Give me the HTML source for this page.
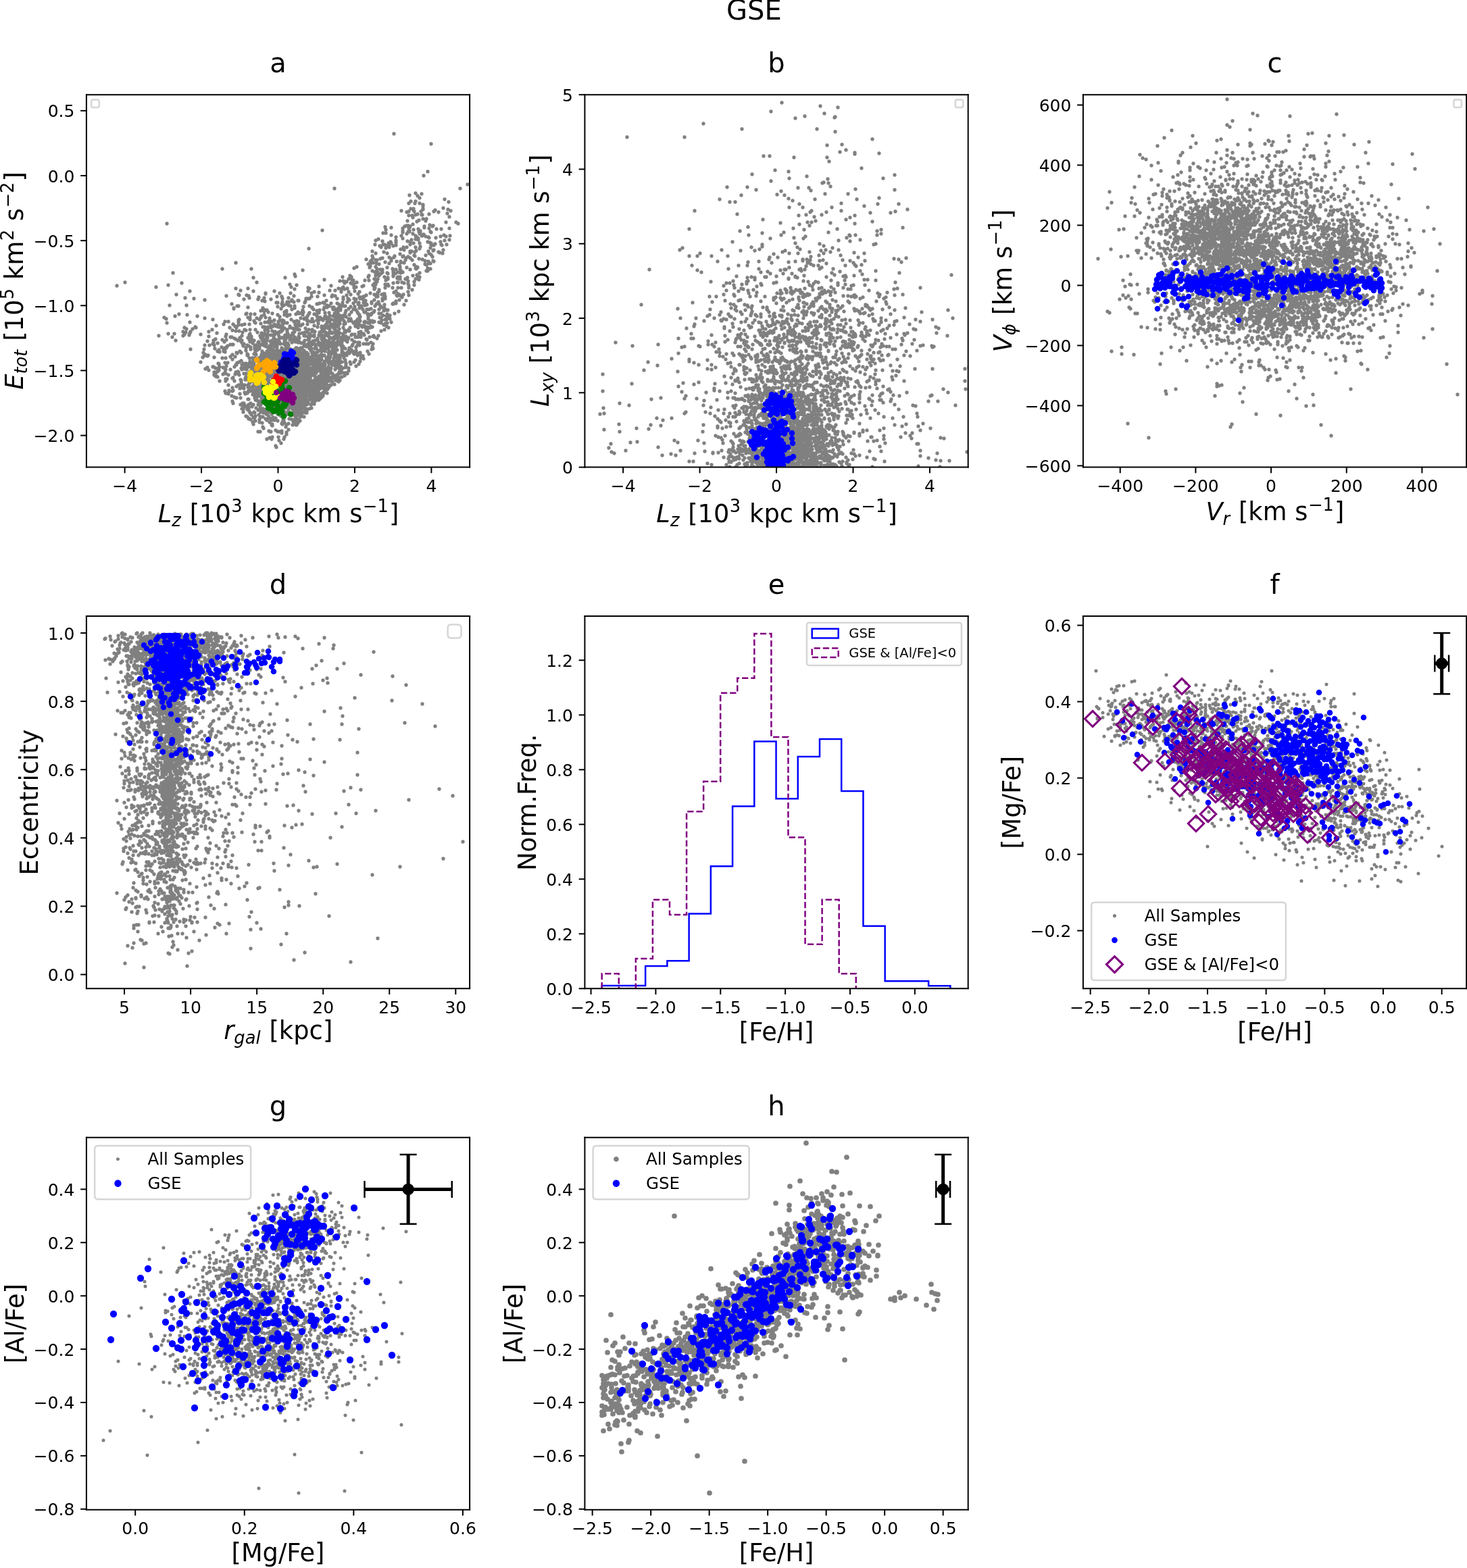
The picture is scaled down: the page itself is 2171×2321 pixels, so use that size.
<!DOCTYPE html>
<html><head><meta charset="utf-8"><title>GSE</title><style>html,body{margin:0;padding:0;background:#fff}svg{display:block}</style></head><body>
<svg width="2171" height="2321" viewBox="0 0 868.4 928.4">
<defs>
<style type="text/css">*{stroke-linejoin: round; stroke-linecap: butt}</style>
</defs>
<g id="figure_1">
<g id="patch_1">
<path d="M 0 928.4 L 868.4 928.4 L 868.4 0 L 0 0 z
" style="fill: #ffffff"/>
</g>
<g id="axes_1">
<g id="patch_2">
<path d="M 51.16 276.64 L 278.04 276.64 L 278.04 56.08 L 51.16 56.08 z
" style="fill: #ffffff"/>
</g>
<defs>
<path id="m0d58144427" d="M 0 1.06 C 0.281115 1.06 0.550755 0.948312 0.749533 0.749533 C 0.948312 0.550755 1.06 0.281115 1.06 0 C 1.06 -0.281115 0.948312 -0.550755 0.749533 -0.749533 C 0.550755 -0.948312 0.281115 -1.06 0 -1.06 C -0.281115 -1.06 -0.550755 -0.948312 -0.749533 -0.749533 C -0.948312 -0.550755 -1.06 -0.281115 -1.06 0 C -1.06 0.281115 -0.948312 0.550755 -0.749533 0.749533 C -0.550755 0.948312 -0.281115 1.06 0 1.06 z
"/>
</defs><g clip-path="url(#p84c9856eb9)"><path transform="scale(0.4)" d="M583 198h0m55 15h0m-5 41h0m-6 6h0m65 13h0m-11 6h0m-57 8h0m-9-1h0m-120-7h0m111 10h0m2 9h0m7 0h0m3-8h0m3 3h0m37 2h0m6 4h0m-1 11h0m-7-2h0m-12 3h0m-18-8h0m0 2h0m0 4h0m0 1h0m-5-9h0m-7 0h0m-2 8h0m0 2h0m-4-2h0m-3-8h0m-11 11h0m8 2h0m3-1h0m0 6h0m5 0h0m1 3h0m2-9h0m2 5h0m3-1h0m5-4h0m1 5h0m1 0h0m10-1h0m7-4h0m7 1h0m13 2h0m3 5h0m2-9h0m11 19h0m-3-2h0m-15 0h0m-19 5h0m-1 1h0m-4-2h0m-5-9h0m-1 3h0m-2 8h0m-2-11h0m-6 2h0m-3 2h0m-6 4h0m-4 3h0m-3-1h0m-1-7h0m-1 7h0m-3 1h0m-352-4h0m230 10h0m90 4h0m3-9h0m1 4h0m0 5h0m8-8h0m17 1h0m0 4h0m0 2h0m6 2h0m2-3h0m1-5h0m1-1h0m0 5h0m0 1h0m5 3h0m1-6h0m7-1h0m1 4h0m1-1h0m0 4h0m1-4h0m0 2h0m5 3h0m1-10h0m7 1h0m2 5h0m1 1h0m8-5h0m7 0h0m12-1h0m1 11h0m-1 6h0m-5-5h0m-2 6h0m-1-8h0m-5 2h0m0 8h0m-7-6h0m-9 7h0m-1-7h0m-1-1h0m-1 7h0m-3-8h0m-5-1h0m-1-1h0m0 1h0m-5 4h0m0 2h0m-2-4h0m-2-2h0m0 5h0m-6 1h0m-2 3h0m-4-1h0m-7-4h0m-2-4h0m-8 2h0m0 5h0m0 3h0m-7-11h0m-1 10h0m-12-1h0m-6-3h0m-4 2h0m-99 12h0m98-6h0m7 2h0m2 2h0m3-4h0m2 0h0m2 5h0m1-3h0m3-4h0m1 4h0m0 2h0m3-6h0m3 4h0m4-1h0m7 6h0m4-3h0m1 4h0m4-4h0m5-4h0m5-2h0m3 6h0m1 5h0m5-11h0m0 8h0m1-3h0m15 2h0m1-7h0m0 3h0m1 0h0m2 8h0m1-8h0m0 7h0m2-9h0m9 1h0m1 1h0m2 7h0m5-8h0m-6 13h0m-4-1h0m-2-1h0m-9 7h0m-2-3h0m-3-2h0m-1-3h0m-4 6h0m-10 5h0m-6-10h0m0 6h0m-1-1h0m-4-6h0m-1 1h0m-1-1h0m0 2h0m0 8h0m-3-2h0m-3 2h0m-4-3h0m-1 1h0m-4-4h0m-8 3h0m-1 2h0m-4 2h0m-3-2h0m-3-6h0m-5-2h0m-2 9h0m-3 1h0m-7-8h0m-4 7h0m-1-10h0m0 7h0m-202 10h0m179 6h0m14-11h0m3 7h0m3-4h0m0 7h0m2-9h0m0 3h0m0 1h0m2 0h0m4-4h0m0 10h0m1-5h0m1-5h0m3 6h0m9-3h0m6 2h0m3-4h0m8 1h0m4 6h0m1 2h0m1-8h0m0 2h0m5 0h0m2-4h0m10 0h0m3 7h0m4 3h0m8-11h0m4 2h0m0 5h0m2 1h0m3-5h0m0 3h0m3 0h0m4-4h0m1 1h0m-5 11h0m-4-1h0m0 4h0m-2 0h0m-10 3h0m-3-8h0m-1 11h0m-1-9h0m-1-1h0m-8 2h0m-5-3h0m-6 7h0m-3-3h0m0 4h0m-1-6h0m-3 5h0m-3-4h0m-1 6h0m-3-3h0m0 1h0m0 4h0m-1-9h0m-7 7h0m-1-9h0m0 8h0m-7-5h0m0 4h0m-1 1h0m-1 1h0m-1-6h0m-4 4h0m0 3h0m-1-8h0m-2 4h0m-1 1h0m-4-2h0m-4-5h0m-23 1h0m-76 3h0m-12 6h0m-64-8h0m-43 0h0m-73 6h0m-71 14h0m84 1h0m106-8h0m5 7h0m42-7h0m15-2h0m43 5h0m23 2h0m4-6h0m1 6h0m2 3h0m1-2h0m2 0h0m3-4h0m2-5h0m1 11h0m1-9h0m1 4h0m2 1h0m5 3h0m12-3h0m5-5h0m1-2h0m0 7h0m8-2h0m1 6h0m1-11h0m1 8h0m1 1h0m1-4h0m2-5h0m8 2h0m2 5h0m3-4h0m0 2h0m8-4h0m0 10h0m6-8h0m0 1h0m0 6h0m1-8h0m0 8h0m3-8h0m0 3h0m3 5h0m3 1h0m2-6h0m3-2h0m1 5h0m7-8h0m2 9h0m2-4h0m3-4h0m2 5h0m1-4h0m-8 12h0m-3 7h0m-5-6h0m0 3h0m-1-6h0m-10 6h0m-5 0h0m-3 5h0m-5-5h0m-6-3h0m-1-2h0m-3 1h0m-1-1h0m0 5h0m-9 3h0m0 2h0m-5-10h0m-1 5h0m-1-6h0m0 5h0m0 3h0m-2-6h0m-14 1h0m-2 1h0m-9 1h0m-2 6h0m-1-11h0m0 4h0m0 2h0m-3-6h0m-7 7h0m-4 1h0m-2-3h0m-2 2h0m-1 4h0m-4-4h0m-5 3h0m-6-7h0m-2 7h0m-16-6h0m-14 3h0m-2-1h0m0 5h0m-17-9h0m-3 6h0m-5-3h0m-2-4h0m-23 10h0m-31 0h0m-8-4h0m-11 3h0m-7-3h0m-68 4h0m-32-9h0m-18 3h0m-58-2h0m88 13h0m13 5h0m13 1h0m48-4h0m18-2h0m1 1h0m7 6h0m4-6h0m3 1h0m1 3h0m13 2h0m1-3h0m8 1h0m2-7h0m0 1h0m8 8h0m9-4h0m4-5h0m3 5h0m1 3h0m9-1h0m3-7h0m5 4h0m18 4h0m3 0h0m2 0h0m3-8h0m0 5h0m4-7h0m5 7h0m2-6h0m8 4h0m11 2h0m1-2h0m4 1h0m3 4h0m6-10h0m3 8h0m0 3h0m5-6h0m2 5h0m1-10h0m3 4h0m5 6h0m3 1h0m3-8h0m2-3h0m0 8h0m1 2h0m1-2h0m3 3h0m1-4h0m1 0h0m3-2h0m6-3h0m6 2h0m2 1h0m1 2h0m1-3h0m1-3h0m0 3h0m0 3h0m6-3h0m1 6h0m2-7h0m1 0h0m0 1h0m0 2h0m0 1h0m1 0h0m0 3h0m13-9h0m4 4h0m1 1h0m1-3h0m2 1h0m2 2h0m2 2h0m2-4h0m7-4h0m1 5h0m-4 8h0m-3 6h0m-7-7h0m-5 2h0m0 3h0m-4 0h0m0 1h0m-1 0h0m-12 1h0m-3-6h0m-1 10h0m-2-2h0m-2-3h0m-1-3h0m-3 3h0m-2 3h0m-1-9h0m-4 3h0m0 2h0m-7 2h0m-1-1h0m-1-5h0m-1 7h0m-1-5h0m-1 1h0m-3 5h0m0 2h0m-2-1h0m-2-6h0m0 3h0m-1-1h0m-4-4h0m-1 8h0m-2-5h0m-4 5h0m-2-10h0m-3 3h0m-3 6h0m-2 0h0m-2-5h0m-2 5h0m-3-2h0m-3-2h0m-5 6h0m-2 0h0m-2-6h0m-3 4h0m-2 0h0m-1-1h0m0 3h0m-1-10h0m-3 4h0m0 6h0m-1-7h0m-1 0h0m-5 1h0m-3 1h0m-1 0h0m-7 5h0m-4-2h0m-6-7h0m-1 2h0m-2 6h0m-7-9h0m-1 0h0m-5 8h0m0 2h0m-1-8h0m-2-1h0m-1-2h0m-2 9h0m-2-6h0m-1 5h0m-1-3h0m-1-2h0m-1 3h0m-4 2h0m-2-5h0m0 6h0m-1-3h0m-6-2h0m0 6h0m-2-6h0m-17-2h0m-4-1h0m-21 10h0m-14-2h0m-2 0h0m-8-3h0m-40-6h0m-27 8h0m-25 0h0m14 13h0m12 1h0m69-10h0m0 1h0m18 8h0m1-1h0m6 1h0m6 0h0m9-5h0m3-4h0m0 2h0m1 0h0m1 2h0m0 1h0m0 5h0m2-7h0m2 0h0m2 3h0m6 2h0m8 2h0m5-9h0m5 5h0m0 4h0m1-3h0m2-3h0m0 4h0m5 2h0m3-8h0m4-2h0m2 9h0m3-3h0m1 2h0m1 0h0m4-2h0m0 1h0m1-4h0m0 7h0m1-4h0m8 3h0m1-2h0m4-7h0m2 2h0m1 7h0m3 0h0m1-5h0m3 3h0m1-4h0m6-1h0m2 5h0m6 0h0m1 4h0m5-10h0m0 1h0m2 6h0m0 1h0m0 2h0m2-9h0m0 4h0m2 4h0m1-5h0m0 2h0m1-7h0m2 11h0m1-11h0m0 3h0m4 8h0m3-4h0m1-3h0m4-3h0m1 9h0m3-4h0m3-4h0m4 1h0m2 3h0m1 2h0m2-8h0m0 10h0m5-8h0m2 4h0m2 0h0m2-4h0m1 7h0m1 0h0m1-7h0m3-1h0m0 9h0m1-2h0m3-2h0m1-2h0m7-2h0m0 6h0m3 0h0m3 3h0m1-7h0m1-4h0m3 3h0m1 6h0m1-6h0m3 8h0m7-3h0m6-3h0m-11 16h0m-2-5h0m-4-3h0m0 9h0m-1-10h0m0 5h0m-2 0h0m0 6h0m-5-5h0m-1-4h0m0 8h0m-2-8h0m-1 7h0m-7-1h0m-2 1h0m-1-2h0m-3 0h0m-1 3h0m-2-9h0m0 3h0m0 6h0m-3-1h0m-2-1h0m-1 1h0m-6-8h0m0 6h0m-1-6h0m0 4h0m-1 5h0m0 1h0m-1-1h0m-1-5h0m-1 3h0m-2 0h0m-3 2h0m-3-3h0m-1-3h0m0 2h0m-3-2h0m0 3h0m-4-6h0m-1-1h0m0 10h0m0 1h0m-2-4h0m-2-3h0m-1 0h0m-1-3h0m0 2h0m-2 4h0m0 4h0m-2-11h0m0 5h0m-1 5h0m-3-7h0m0 3h0m-2 5h0m-1-5h0m-1-6h0m-3 5h0m-2 0h0m0 3h0m-1-6h0m0 7h0m-2-4h0m-1 4h0m0 1h0m-1-6h0m-1-4h0m-1 0h0m-1 3h0m-2 3h0m-2-2h0m-1 0h0m-1-2h0m-2 4h0m-1 5h0m-1-10h0m-1-1h0m0 6h0m-5 2h0m-1 0h0m-1-4h0m-2 4h0m-4-1h0m-1-7h0m0 7h0m-1-3h0m0 2h0m-3-3h0m-1 1h0m-5-1h0m-3 5h0m0 3h0m-3-4h0m-4 1h0m-4-3h0m-6-5h0m0 10h0m-4 0h0m-1-3h0m-2-1h0m0 5h0m-1-4h0m-3-6h0m0 5h0m-2 2h0m0 3h0m-6-5h0m-4 2h0m-3-5h0m0 3h0m0 4h0m-2-2h0m-1 1h0m-3-7h0m-1 7h0m-5-9h0m-1 2h0m0 9h0m-2-6h0m-4-2h0m-2 7h0m-1-1h0m-1-2h0m-6-5h0m0 3h0m-3-3h0m-13 3h0m-1 1h0m0 3h0m-15-1h0m-5 0h0m-18-3h0m-12-2h0m-11-3h0m-11 9h0m-22-9h0m-12 10h0m-1-6h0m-3-2h0m28 21h0m2-6h0m3 2h0m6 4h0m3-4h0m4-3h0m1 1h0m19 6h0m5-3h0m6-6h0m11-2h0m9 5h0m4 4h0m1-9h0m3 3h0m1 7h0m1-5h0m3-4h0m1 9h0m4-9h0m4-1h0m0 8h0m2 1h0m5-9h0m1 8h0m8 0h0m11-4h0m1 0h0m2 0h0m0 5h0m4-2h0m1-3h0m0 6h0m4-8h0m0 3h0m2 5h0m1-7h0m2-3h0m1 11h0m2-8h0m2-2h0m1 2h0m0 1h0m1-2h0m1 2h0m0 7h0m2 0h0m1-5h0m0 2h0m1-6h0m0 5h0m0 2h0m3-3h0m4 2h0m0 3h0m4-8h0m0 2h0m4 1h0m2 1h0m1 4h0m1-11h0m0 1h0m1 4h0m2 2h0m1 1h0m1-6h0m1 6h0m2-6h0m3-2h0m4 6h0m2 5h0m1-11h0m2 8h0m5 0h0m0 3h0m1-2h0m2-7h0m1 9h0m4-7h0m5 7h0m1-8h0m0 2h0m1 1h0m0 1h0m0 3h0m2-3h0m0 4h0m1-8h0m0 4h0m1-4h0m0 2h0m1-4h0m0 4h0m1-3h0m3 4h0m1-3h0m1 1h0m0 3h0m0 4h0m1-8h0m1-3h0m0 3h0m1 0h0m2-3h0m0 3h0m1 3h0m2 0h0m0 1h0m0 1h0m1-7h0m2 2h0m1 7h0m1-8h0m1 5h0m6-2h0m1-5h0m1 9h0m3 1h0m3-2h0m1 2h0m1-5h0m8-4h0m0 2h0m2-3h0m2 3h0m0 2h0m1-5h0m3 11h0m1-9h0m1 1h0m0 1h0m2-1h0m1-1h0m2 3h0m1 4h0m1-5h0m1 2h0m0 1h0m3-3h0m1 1h0m1-2h0m2 1h0m13 6h0m4-9h0m1 7h0m3-5h0m3 2h0m-15 12h0m-2 4h0m-4-2h0m-1-2h0m-1 1h0m-5 1h0m-2-7h0m-2 11h0m-1-1h0m-3-6h0m-1-2h0m-3 0h0m-1 5h0m-3-7h0m0 4h0m-1 3h0m-3 0h0m-1 0h0m-1-4h0m-4 0h0m0 8h0m-1-7h0m-4 4h0m-1 2h0m-3-4h0m-1-6h0m-1 10h0m-1 0h0m0 1h0m-1-9h0m0 3h0m0 6h0m-1-5h0m0 4h0m-4-9h0m0 7h0m-2-7h0m0 3h0m-1 0h0m0 4h0m-3-7h0m0 3h0m-1 5h0m-1-9h0m-1 7h0m0 3h0m0 1h0m-1 0h0m-1-10h0m-1-1h0m-1 1h0m-1 7h0m-1 1h0m-1-2h0m-1-3h0m-1-2h0m0 3h0m-3-5h0m0 4h0m-1 1h0m-1 0h0m0 5h0m-1-5h0m0 5h0m-3-6h0m0 5h0m0 1h0m-2-5h0m-1-5h0m-1 4h0m-2 5h0m-5-5h0m0 2h0m-4-1h0m-3-3h0m0 1h0m0 6h0m-1-7h0m-1 5h0m0 4h0m-4-6h0m-1-5h0m-1 5h0m-3-4h0m-4 1h0m0 6h0m-1-2h0m0 1h0m-2 2h0m-3 0h0m-1-2h0m0 3h0m-2-8h0m-1-1h0m-1 3h0m-1 5h0m-1-3h0m-1 0h0m0 5h0m-1-6h0m-1 2h0m-1-5h0m0 2h0m-1-1h0m-2 3h0m0 4h0m-1-6h0m0 6h0m-2-3h0m-3 1h0m-4-2h0m0 4h0m-1-10h0m0 3h0m-3-2h0m-2 1h0m0 8h0m-1-10h0m0 2h0m0 2h0m-1 0h0m0 4h0m-4-4h0m-4 0h0m-1-2h0m0 6h0m-1-2h0m-1-1h0m0 6h0m-1-1h0m-1-8h0m-1 0h0m-2 4h0m-1 2h0m0 2h0m0 1h0m-1-10h0m-1 7h0m-1-3h0m-4-5h0m-9 6h0m0 2h0m0 1h0m-2-7h0m-1 2h0m0 7h0m-2-3h0m-8-8h0m-1 5h0m-2 5h0m-1-2h0m-6 2h0m-2-1h0m-4-2h0m-2 0h0m-6-4h0m0 8h0m-1-5h0m-5 5h0m-8-10h0m-2 9h0m-10-4h0m-12-3h0m-16-2h0m-1 3h0m-5-4h0m-2 3h0m-2 2h0m-13-3h0m-3 5h0m-6-5h0m-14 3h0m25 7h0m43 7h0m4-6h0m3 6h0m5-2h0m1-5h0m0 3h0m1 4h0m5-3h0m6 6h0m4-8h0m1 9h0m2-1h0m0 1h0m2-3h0m4-2h0m3 0h0m1 0h0m7-6h0m5 2h0m1-2h0m1 5h0m1 3h0m1-3h0m3 6h0m2-4h0m0 1h0m2 0h0m2-6h0m1-1h0m0 9h0m1-9h0m2 3h0m2-4h0m1 8h0m0 2h0m1-3h0m2 0h0m1 3h0m1-7h0m0 6h0m1-7h0m1 8h0m1-4h0m2 0h0m1 0h0m1-4h0m1-2h0m0 1h0m0 6h0m1 0h0m1-4h0m0 5h0m2-6h0m0 3h0m0 4h0m1-9h0m2 11h0m1-1h0m1-2h0m0 2h0m1-9h0m1 2h0m0 7h0m1-5h0m1-5h0m1 3h0m0 2h0m0 2h0m1-4h0m0 1h0m2 5h0m1-8h0m0 6h0m1-1h0m1-6h0m0 3h0m0 4h0m0 2h0m4-6h0m0 1h0m1 1h0m2 6h0m3-6h0m1-5h0m0 4h0m1-2h0m0 4h0m1 0h0m0 2h0m0 3h0m1-6h0m1 5h0m1-6h0m0 7h0m1-4h0m5-6h0m0 2h0m5-1h0m1 9h0m1-10h0m0 10h0m2-11h0m0 3h0m1-3h0m0 3h0m1-1h0m2 9h0m1-7h0m1 7h0m2-8h0m1 1h0m0 4h0m1-8h0m1 7h0m0 1h0m1-1h0m0 2h0m1 0h0m1-2h0m1-2h0m0 2h0m2-5h0m1 3h0m1 3h0m0 1h0m1-4h0m0 1h0m1 0h0m1-5h0m0 2h0m1-2h0m0 2h0m2-3h0m1 6h0m0 2h0m0 1h0m1 2h0m1-5h0m1-6h0m1 5h0m1-2h0m1 2h0m0 2h0m1-3h0m1 3h0m0 4h0m1 0h0m1-8h0m1 4h0m1-5h0m0 9h0m1-9h0m0 4h0m1 4h0m1-10h0m0 1h0m0 6h0m0 3h0m2-9h0m0 1h0m1 5h0m0 3h0m1-3h0m1-7h0m1 4h0m0 5h0m3-6h0m0 1h0m0 5h0m1-4h0m1-5h0m0 5h0m0 2h0m0 1h0m1 2h0m2-6h0m0 6h0m1-3h0m0 3h0m1-4h0m1-3h0m0 4h0m1-6h0m2 4h0m2 0h0m1-5h0m0 3h0m0 5h0m1-6h0m0 4h0m0 4h0m1 1h0m1-2h0m5-8h0m1 1h0m3 9h0m4-3h0m1-2h0m2-4h0m1 0h0m2 8h0m2-3h0m1-4h0m2 0h0m0 4h0m6-2h0m4 0h0m3 0h0m4-2h0m2 6h0m1-4h0m0 7h0m-2 1h0m-4 7h0m-2-4h0m-7 7h0m-3-1h0m-1-4h0m-4 1h0m0 3h0m-1-3h0m-1-4h0m-3 5h0m-1-2h0m-1-2h0m-2-2h0m-2 0h0m0 3h0m-1 2h0m-1-4h0m-2 3h0m-1 3h0m0 1h0m-1-3h0m-1-7h0m-1 10h0m-1-3h0m0 4h0m-2-6h0m0 2h0m-1-5h0m0 4h0m-2 5h0m-2-1h0m-3-8h0m-2 6h0m-1-8h0m0 6h0m-1 2h0m-1-6h0m-1-1h0m0 2h0m-1-1h0m-1 3h0m-1 3h0m-1 1h0m-1-4h0m0 2h0m-1-1h0m0 4h0m-1-10h0m0 1h0m0 5h0m0 5h0m-1-11h0m-4 0h0m0 4h0m-1-1h0m0 7h0m-1-7h0m-1-1h0m-1 9h0m-1-7h0m0 5h0m-1-9h0m0 9h0m-2-6h0m-1 8h0m-1-8h0m-1 1h0m0 1h0m-1 6h0m-1-5h0m0 1h0m0 3h0m-2-10h0m-1 6h0m0 3h0m0 1h0m-1-3h0m-1-2h0m-1 0h0m0 1h0m0 1h0m-1-7h0m0 4h0m-1-1h0m-2-3h0m-2 8h0m-2-2h0m0 1h0m0 1h0m0 3h0m-1-5h0m-3-3h0m0 1h0m0 5h0m-1-4h0m0 1h0m0 1h0m0 2h0m-1-2h0m0 4h0m-1-1h0m0 1h0m-1-4h0m-1-6h0m0 5h0m0 2h0m-1-6h0m0 5h0m0 3h0m-1-10h0m-1 1h0m0 4h0m0 5h0m-1-6h0m0 1h0m0 1h0m0 4h0m-1-6h0m-1 6h0m-1-9h0m0 9h0m-1-9h0m0 10h0m-1-6h0m0 2h0m0 3h0m-2-8h0m0 4h0m0 1h0m0 3h0m-1-1h0m0 1h0m0 1h0m-1-8h0m0 3h0m-1 3h0m0 1h0m0 1h0m-1-10h0m0 2h0m0 1h0m0 7h0m-2-11h0m0 5h0m0 3h0m0 3h0m-1-5h0m0 3h0m-3-9h0m0 5h0m0 5h0m-1-10h0m0 8h0m0 3h0m-1 0h0m-1-9h0m0 2h0m-2 2h0m-1-5h0m-1 4h0m0 2h0m-1 1h0m-1-5h0m0 3h0m-1 3h0m-1-2h0m-1 0h0m0 4h0m-1-7h0m0 1h0m0 4h0m-1-8h0m0 9h0m-1-6h0m0 2h0m-1-1h0m0 3h0m-1-4h0m0 3h0m-1 4h0m-2-10h0m0 1h0m0 9h0m-1-7h0m0 1h0m0 1h0m-1-6h0m-1 8h0m-1-6h0m0 1h0m-1 3h0m-1-2h0m0 4h0m-1 3h0m-1-5h0m0 1h0m-1-3h0m0 2h0m-1 5h0m-1-4h0m-1 2h0m-1-2h0m-3-3h0m0 3h0m-1 2h0m-3-9h0m-3 2h0m-1-2h0m-1 9h0m-1-7h0m0 3h0m-1-4h0m-1 7h0m-5-7h0m-4 8h0m-1-1h0m0 2h0m-2-7h0m-7 3h0m-2-2h0m-4 3h0m-1-1h0m-6 3h0m-11-5h0m0 1h0m-2-3h0m0 2h0m-6 1h0m-1-3h0m-2 2h0m-4-4h0m-10 10h0m-1 1h0m-3-2h0m-2-8h0m0 10h0m-1-5h0m-19-5h0m15 19h0m3-7h0m17 0h0m6 9h0m1 1h0m5-9h0m4 7h0m1-7h0m3 7h0m4-9h0m3 4h0m4-4h0m3 9h0m3-1h0m3-2h0m3 4h0m0 1h0m4-1h0m1 1h0m1 0h0m1 0h0m2-9h0m0 8h0m1-3h0m1 2h0m2-7h0m1 0h0m1 1h0m0 4h0m1 0h0m0 4h0m1-9h0m1 2h0m1-1h0m0 1h0m3 2h0m1-4h0m1 6h0m0 1h0m0 1h0m1-1h0m1-9h0m0 5h0m0 4h0m1-3h0m0 3h0m0 1h0m1-5h0m1-1h0m0 4h0m1-5h0m1-3h0m0 2h0m0 4h0m0 2h0m1-2h0m1-3h0m2-2h0m0 8h0m0 1h0m1-10h0m0 1h0m0 1h0m0 8h0m0 1h0m1-10h0m0 3h0m0 2h0m0 3h0m1-9h0m0 1h0m0 4h0m0 1h0m1-2h0m0 5h0m1-7h0m0 5h0m1-6h0m0 3h0m1-2h0m1 6h0m0 1h0m1-6h0m0 5h0m0 1h0m1-5h0m0 4h0m1-8h0m0 4h0m0 4h0m0 1h0m0 1h0m0 1h0m1-4h0m1-4h0m0 3h0m0 1h0m0 3h0m1-7h0m1-1h0m0 6h0m1-2h0m1-4h0m1-1h0m0 1h0m0 2h0m0 1h0m0 1h0m0 2h0m0 2h0m0 1h0m1-4h0m2-6h0m0 5h0m1-1h0m2-3h0m0 4h0m0 3h0m0 2h0m1-3h0m0 2h0m1-6h0m2-3h0m0 5h0m1-1h0m1 6h0m1-6h0m1 2h0m1-5h0m0 1h0m0 8h0m1-9h0m0 9h0m1-9h0m0 1h0m0 6h0m0 2h0m1-1h0m1-4h0m1-5h0m0 1h0m0 1h0m1 3h0m0 1h0m0 2h0m0 1h0m1-9h0m0 1h0m0 4h0m0 1h0m0 1h0m1-6h0m0 5h0m0 4h0m1-8h0m1 0h0m0 3h0m0 4h0m0 1h0m1-11h0m0 2h0m0 1h0m0 8h0m1-10h0m0 3h0m0 4h0m0 1h0m2-2h0m0 1h0m0 1h0m2-7h0m0 5h0m0 4h0m1-11h0m0 3h0m0 1h0m1-4h0m0 6h0m1-5h0m0 1h0m0 7h0m1-6h0m1-3h0m0 2h0m0 6h0m1-8h0m0 6h0m1-3h0m0 3h0m0 1h0m1-6h0m0 1h0m0 1h0m0 4h0m2-2h0m0 5h0m1 1h0m1-11h0m0 4h0m0 4h0m1-5h0m1-2h0m1 2h0m0 8h0m1-3h0m0 1h0m1-9h0m0 3h0m0 2h0m0 6h0m1-4h0m1-6h0m0 2h0m0 5h0m2-1h0m0 4h0m2-6h0m0 3h0m1-5h0m0 1h0m1-4h0m0 2h0m0 3h0m1-5h0m0 5h0m0 3h0m1-5h0m1 0h0m1 0h0m0 3h0m0 1h0m0 2h0m1-6h0m0 4h0m0 4h0m1-8h0m1 1h0m2 7h0m1-1h0m1-3h0m0 2h0m0 1h0m1-3h0m2-5h0m2 0h0m0 3h0m1-5h0m0 5h0m0 4h0m1 1h0m1-10h0m0 2h0m1-2h0m0 7h0m4 1h0m0 1h0m1-6h0m0 2h0m1-5h0m0 1h0m0 8h0m1-2h0m0 4h0m2-4h0m0 4h0m1-9h0m1-2h0m0 9h0m2-5h0m0 6h0m1-7h0m1 4h0m2 1h0m3-6h0m2 3h0m0 2h0m1 3h0m6-2h0m1 3h0m5-3h0m2-3h0m5 6h0m2-4h0m1-5h0m4 1h0m-11 11h0m-11 3h0m0 4h0m-4-8h0m0 2h0m-1 1h0m-4 1h0m-1 1h0m-1-3h0m0 6h0m-1 1h0m-1-2h0m0 3h0m-1-11h0m0 11h0m-1-7h0m-1-2h0m-1-2h0m0 4h0m-2 1h0m-1 2h0m-1-6h0m-4-1h0m-1 5h0m-1 2h0m0 2h0m-2-1h0m0 2h0m-1-7h0m0 7h0m-1-4h0m-1 5h0m-1-5h0m0 3h0m-1-3h0m-1-6h0m0 7h0m-1-3h0m0 3h0m0 4h0m-1-5h0m0 3h0m0 1h0m-1-10h0m0 4h0m0 5h0m-1-4h0m-1-4h0m0 2h0m0 2h0m-2 3h0m0 1h0m-2-4h0m0 3h0m-1-8h0m0 1h0m0 2h0m-1-3h0m0 7h0m0 2h0m-1-4h0m0 2h0m0 1h0m-1-7h0m0 8h0m-1-6h0m0 5h0m-2-4h0m0 3h0m-1-4h0m0 1h0m0 1h0m0 3h0m0 1h0m-1-4h0m-2 0h0m0 6h0m-2-6h0m0 2h0m-2 0h0m0 4h0m-1-8h0m0 8h0m-1-9h0m0 2h0m0 3h0m-1 1h0m0 1h0m-1-9h0m0 7h0m-2-7h0m0 2h0m0 5h0m0 1h0m-1-4h0m0 3h0m-1-5h0m0 1h0m0 1h0m0 1h0m0 6h0m-1-11h0m0 4h0m0 5h0m-1-8h0m-1-1h0m0 7h0m0 1h0m-1-7h0m0 5h0m0 4h0m-1-9h0m0 2h0m0 2h0m0 5h0m-1-6h0m0 6h0m-1-10h0m0 1h0m0 2h0m0 3h0m0 5h0m-1-11h0m0 2h0m0 5h0m-1-6h0m0 1h0m0 1h0m0 3h0m0 1h0m0 3h0m-1-8h0m0 4h0m-1-6h0m0 3h0m0 1h0m-1-1h0m0 3h0m0 4h0m-1-10h0m0 1h0m0 5h0m0 3h0m0 1h0m0 1h0m-1-10h0m0 2h0m0 2h0m0 3h0m0 3h0m-1-8h0m0 3h0m0 4h0m-1-5h0m0 5h0m-1-9h0m0 5h0m-1-5h0m0 5h0m0 5h0m-1-11h0m0 9h0m0 1h0m-1-5h0m0 1h0m0 2h0m0 1h0m0 1h0m-1-6h0m-1-4h0m0 2h0m0 2h0m-1-4h0m0 7h0m-1 2h0m-1-8h0m0 1h0m0 4h0m0 1h0m0 1h0m0 3h0m-1-10h0m0 5h0m-1-6h0m0 5h0m0 1h0m0 2h0m0 2h0m-1-10h0m0 4h0m0 3h0m0 1h0m0 3h0m-1-8h0m0 3h0m0 1h0m0 1h0m-1-8h0m0 6h0m0 4h0m0 1h0m-1-8h0m0 3h0m0 3h0m0 2h0m-1-9h0m0 1h0m0 3h0m0 1h0m-1-5h0m0 3h0m-2-3h0m0 1h0m0 1h0m0 2h0m0 2h0m0 1h0m-1 0h0m0 2h0m-1-9h0m0 3h0m0 5h0m-1-9h0m0 10h0m-1-11h0m0 3h0m0 8h0m-1-4h0m-1-5h0m0 1h0m-1-2h0m0 1h0m0 7h0m-1-5h0m0 2h0m0 2h0m0 1h0m-1 0h0m0 2h0m-1-7h0m0 1h0m0 3h0m-1-4h0m0 2h0m-1-6h0m0 1h0m0 7h0m-1-7h0m0 1h0m0 6h0m-1-2h0m0 5h0m-1-10h0m0 6h0m-1-1h0m-2-4h0m0 4h0m-1 2h0m0 2h0m-1-10h0m0 9h0m-1-7h0m0 3h0m0 5h0m0 1h0m-1-8h0m-3-3h0m0 2h0m0 2h0m0 4h0m-1-7h0m-2 2h0m0 1h0m-1 1h0m-1 3h0m-1-8h0m0 6h0m-1-6h0m0 6h0m0 1h0m-1 4h0m-4-8h0m0 5h0m-2-5h0m0 7h0m0 1h0m-1-11h0m0 10h0m-1-6h0m0 3h0m0 2h0m-1 0h0m-1 0h0m-1-6h0m-1 8h0m-3-9h0m0 2h0m-1 3h0m-1-5h0m-2 2h0m0 2h0m-2-1h0m-2-5h0m0 7h0m-1-2h0m-4 6h0m-1-1h0m-2-10h0m-1 0h0m0 11h0m-2-8h0m-6 4h0m-6-5h0m-1 5h0m-1-1h0m0 5h0m-3-7h0m-5-1h0m-1 1h0m0 4h0m-1-2h0m-1 4h0m-2 1h0m-1-6h0m-2 6h0m-1-8h0m-1 0h0m-6 5h0m-2-4h0m-3 2h0m13 9h0m2-1h0m0 3h0m3 1h0m8-4h0m4-1h0m0 8h0m2 0h0m2-6h0m6 5h0m1-1h0m3-5h0m4-1h0m2 2h0m2 7h0m1 1h0m4-10h0m2 7h0m0 2h0m1-9h0m0 5h0m0 4h0m1-4h0m1 2h0m2-2h0m1-3h0m1-3h0m0 8h0m3 0h0m0 2h0m2-10h0m1 0h0m0 5h0m1-1h0m1 3h0m1-4h0m0 1h0m0 7h0m1-10h0m1 5h0m1 3h0m1-8h0m0 7h0m0 1h0m1-9h0m0 8h0m1-5h0m0 7h0m1-8h0m0 1h0m0 1h0m0 1h0m0 5h0m1-1h0m1-4h0m0 1h0m0 1h0m0 3h0m1-9h0m0 6h0m0 3h0m1-3h0m1-3h0m0 2h0m0 5h0m1-5h0m0 4h0m1-10h0m0 2h0m0 2h0m0 2h0m0 5h0m1-5h0m0 4h0m1 1h0m1-11h0m0 3h0m0 2h0m0 5h0m1-6h0m0 6h0m1-5h0m0 1h0m1-3h0m1-2h0m1 2h0m1-3h0m1 4h0m0 3h0m1-7h0m0 5h0m0 6h0m1-11h0m0 3h0m0 8h0m2-9h0m0 3h0m0 4h0m0 1h0m1-9h0m1 0h0m0 2h0m0 3h0m1-3h0m0 4h0m0 3h0m1-5h0m0 3h0m0 2h0m1-10h0m0 1h0m0 1h0m0 1h0m0 1h0m0 2h0m0 3h0m1-9h0m0 8h0m1-8h0m0 3h0m0 1h0m0 4h0m0 2h0m1-7h0m0 1h0m0 1h0m0 5h0m1-3h0m0 4h0m1-4h0m0 2h0m1-9h0m0 1h0m0 1h0m1 2h0m0 3h0m0 3h0m0 1h0m1-5h0m1-6h0m0 3h0m0 1h0m0 5h0m1-4h0m0 1h0m0 2h0m0 3h0m1-9h0m0 8h0m0 1h0m1-9h0m0 1h0m0 1h0m0 1h0m0 3h0m1-8h0m0 1h0m0 4h0m0 1h0m0 1h0m0 1h0m0 1h0m0 1h0m1-10h0m0 3h0m0 4h0m0 4h0m1-9h0m0 7h0m0 1h0m0 1h0m1-10h0m0 3h0m0 3h0m0 3h0m0 1h0m1-10h0m0 1h0m0 2h0m0 5h0m0 2h0m1-2h0m1-3h0m0 3h0m1-2h0m0 2h0m1-8h0m0 4h0m0 1h0m1-3h0m0 3h0m0 1h0m0 2h0m0 2h0m1-3h0m1-2h0m0 1h0m0 1h0m0 2h0m0 1h0m1-7h0m0 1h0m0 3h0m0 1h0m0 2h0m1-9h0m0 3h0m0 3h0m1-2h0m0 1h0m0 1h0m1 1h0m1-4h0m1-5h0m0 6h0m0 4h0m2-8h0m0 5h0m0 2h0m0 1h0m1-7h0m0 5h0m0 2h0m0 1h0m1-11h0m0 1h0m0 4h0m0 5h0m1-9h0m0 2h0m0 2h0m1-5h0m0 4h0m0 2h0m1-3h0m0 5h0m0 1h0m0 2h0m1-11h0m0 1h0m0 6h0m1-4h0m0 2h0m0 4h0m1-6h0m0 5h0m0 2h0m1-10h0m0 8h0m0 2h0m0 1h0m1-7h0m0 3h0m1-2h0m0 2h0m0 1h0m1-8h0m0 7h0m0 3h0m1-8h0m0 3h0m0 3h0m0 1h0m0 1h0m1-1h0m1-9h0m0 5h0m0 3h0m0 2h0m1-7h0m0 2h0m2-3h0m1-2h0m1 2h0m0 1h0m2-1h0m0 3h0m0 5h0m2-10h0m0 9h0m1 1h0m1-3h0m1 3h0m1-5h0m1 0h0m0 1h0m1-1h0m1-5h0m0 4h0m0 1h0m0 4h0m0 1h0m1-6h0m1 7h0m1-6h0m0 3h0m0 3h0m1-3h0m1-8h0m0 3h0m0 2h0m2-4h0m0 3h0m0 5h0m1-8h0m0 3h0m0 1h0m0 3h0m1-2h0m0 2h0m0 2h0m2-9h0m0 1h0m0 1h0m0 3h0m0 3h0m1-8h0m0 8h0m0 1h0m3 0h0m1-4h0m1-5h0m0 5h0m1 1h0m2 0h0m0 1h0m1-4h0m1 7h0m1-4h0m1-4h0m1-1h0m0 5h0m2-6h0m0 6h0m0 4h0m1-10h0m0 10h0m2-11h0m1 6h0m3-6h0m1 1h0m0 3h0m2-4h0m2 1h0m-13 12h0m-1-1h0m-5 5h0m-3-4h0m-2 5h0m-1 0h0m-1-6h0m-1 9h0m-1-9h0m0 7h0m-1 3h0m-2-6h0m-1 6h0m-1-9h0m0 4h0m0 4h0m0 1h0m-1-5h0m-1-2h0m0 8h0m-1-6h0m-1-3h0m0 4h0m-1-4h0m0 6h0m-1-7h0m0 5h0m0 1h0m-1-5h0m0 5h0m0 2h0m0 2h0m-1-2h0m-2-8h0m0 2h0m0 2h0m0 2h0m0 1h0m-1-1h0m-1-1h0m-1-6h0m0 5h0m-1-5h0m0 2h0m0 8h0m-1-9h0m0 3h0m0 4h0m-1-6h0m0 3h0m-1-5h0m0 2h0m0 2h0m0 1h0m-1-3h0m0 2h0m0 5h0m-1-9h0m0 9h0m-1 1h0m0 1h0m-1-7h0m0 1h0m0 5h0m-1-9h0m0 5h0m0 1h0m0 3h0m-1-9h0m0 1h0m0 2h0m0 4h0m0 2h0m-1-5h0m0 6h0m-1-2h0m-1-6h0m0 1h0m0 1h0m0 6h0m-1-10h0m0 3h0m0 2h0m0 2h0m-1-7h0m0 10h0m-1-11h0m0 1h0m0 2h0m-1-3h0m0 4h0m0 2h0m-1-6h0m0 3h0m0 1h0m0 2h0m0 2h0m0 3h0m-1-3h0m-1-4h0m0 4h0m0 3h0m-1-5h0m0 2h0m0 2h0m0 1h0m-1-10h0m0 2h0m0 1h0m0 2h0m0 2h0m-1-8h0m0 6h0m0 1h0m-1-1h0m0 2h0m-1-8h0m0 7h0m-1-5h0m0 6h0m0 1h0m0 2h0m-1-9h0m0 5h0m0 1h0m0 1h0m0 1h0m-1-7h0m0 2h0m0 2h0m0 1h0m-1-7h0m0 3h0m0 1h0m0 1h0m0 5h0m-1-8h0m0 1h0m0 2h0m0 4h0m-1-8h0m0 2h0m0 2h0m0 1h0m0 1h0m0 1h0m-1-8h0m0 5h0m0 4h0m-1-10h0m0 2h0m0 3h0m0 5h0m-1-8h0m0 4h0m0 2h0m0 3h0m-1-11h0m0 1h0m0 9h0m-1-10h0m0 4h0m0 6h0m-1-10h0m0 3h0m0 1h0m0 4h0m0 1h0m0 1h0m0 1h0m-1-10h0m0 6h0m0 2h0m-1-9h0m0 1h0m0 1h0m0 4h0m0 2h0m0 2h0m-1-10h0m0 1h0m0 4h0m0 5h0m-1-10h0m0 7h0m0 1h0m0 2h0m0 1h0m-1-9h0m0 6h0m-1-5h0m0 1h0m0 2h0m0 3h0m-1-9h0m0 2h0m0 3h0m-1 3h0m0 1h0m-1-9h0m0 5h0m0 3h0m0 1h0m0 1h0m-1-9h0m0 1h0m0 4h0m-1 3h0m-1-9h0m0 3h0m0 6h0m0 1h0m-1-9h0m0 8h0m0 2h0m-1-5h0m0 4h0m0 1h0m-1-8h0m0 1h0m-1-3h0m0 6h0m0 1h0m0 1h0m-1-6h0m0 1h0m0 3h0m0 1h0m-1-8h0m0 2h0m-1 0h0m0 5h0m0 1h0m-1-7h0m0 4h0m0 1h0m0 1h0m0 4h0m-1-9h0m0 2h0m-1-4h0m-1 1h0m0 1h0m0 2h0m0 2h0m-2-6h0m0 1h0m0 1h0m-1-2h0m0 11h0m-2-9h0m0 9h0m-1-11h0m0 2h0m-1-2h0m0 9h0m-1 0h0m0 1h0m-2-8h0m-1-2h0m0 8h0m-1-4h0m-1-3h0m0 3h0m0 5h0m0 1h0m-2-10h0m0 1h0m0 4h0m-1-1h0m0 1h0m0 1h0m-1-4h0m0 3h0m0 6h0m-1 0h0m-1-9h0m0 4h0m0 2h0m-1-6h0m0 4h0m0 1h0m0 3h0m-1-9h0m-1 7h0m-1-6h0m0 8h0m-1 0h0m0 1h0m-1-8h0m-1-3h0m-1 8h0m-1-5h0m-1-2h0m0 3h0m0 4h0m-1-8h0m-1 2h0m0 4h0m-1 0h0m-1-5h0m0 6h0m0 1h0m-1 0h0m0 1h0m-2 1h0m-2-10h0m0 3h0m-1-2h0m0 8h0m-1-4h0m-1 1h0m0 3h0m-5-3h0m-1 5h0m-1-1h0m-1-2h0m-1-3h0m0 2h0m-1-5h0m0 8h0m-2 1h0m-2-5h0m-3 2h0m-3-8h0m-3 10h0m-6-4h0m-4-6h0m-9 0h0m8 15h0m1 3h0m4 1h0m1-5h0m0 1h0m0 1h0m4 6h0m1-7h0m1-1h0m10 5h0m7-2h0m1 2h0m3-1h0m1-2h0m1-2h0m2 1h0m4 0h0m0 5h0m1-7h0m0 1h0m0 3h0m2 4h0m0 1h0m1-9h0m0 1h0m0 6h0m0 1h0m1-3h0m0 3h0m1-4h0m1 2h0m1-7h0m0 4h0m0 6h0m1-7h0m0 3h0m1 4h0m1-8h0m0 1h0m0 5h0m1-5h0m0 4h0m1 4h0m1-8h0m0 2h0m0 1h0m1-4h0m0 1h0m0 1h0m0 2h0m0 3h0m0 2h0m1-10h0m0 3h0m0 6h0m1-5h0m0 1h0m1 0h0m0 2h0m0 2h0m0 1h0m1-11h0m0 8h0m0 2h0m1-10h0m0 9h0m2-7h0m0 4h0m0 1h0m0 2h0m1-4h0m0 6h0m1-7h0m0 5h0m1-6h0m1-2h0m0 8h0m1 0h0m1-9h0m0 1h0m0 3h0m1-1h0m0 7h0m1-10h0m0 2h0m1-2h0m0 2h0m0 2h0m0 4h0m1-7h0m0 1h0m1-1h0m0 7h0m1-3h0m0 4h0m1-7h0m0 3h0m0 2h0m1-5h0m0 8h0m1-9h0m0 5h0m1-5h0m0 2h0m0 3h0m1-6h0m0 1h0m0 1h0m0 2h0m0 1h0m0 5h0m1-10h0m0 2h0m0 4h0m0 2h0m1-2h0m0 5h0m1-11h0m0 3h0m0 1h0m0 2h0m0 5h0m1-10h0m0 1h0m0 1h0m0 2h0m0 1h0m1-2h0m0 1h0m0 1h0m0 1h0m0 2h0m0 1h0m1-3h0m0 2h0m2-9h0m0 1h0m0 2h0m0 4h0m1-6h0m0 3h0m0 5h0m0 2h0m1-5h0m0 4h0m1-9h0m0 4h0m0 6h0m1-5h0m0 4h0m0 1h0m1-10h0m0 2h0m1-3h0m0 4h0m0 1h0m0 5h0m1-10h0m0 3h0m0 6h0m1-6h0m0 6h0m1-8h0m0 2h0m0 4h0m1-2h0m0 2h0m1-7h0m0 1h0m0 2h0m0 3h0m2-3h0m0 8h0m1-8h0m0 5h0m0 1h0m1-8h0m0 1h0m0 2h0m0 2h0m1-4h0m0 2h0m0 2h0m1-4h0m0 9h0m1-9h0m0 2h0m0 2h0m1-6h0m0 1h0m1 4h0m0 2h0m1-5h0m0 6h0m1-8h0m0 2h0m0 5h0m0 2h0m0 2h0m1-9h0m0 7h0m1-7h0m0 1h0m0 5h0m1-8h0m0 1h0m0 4h0m0 1h0m0 5h0m1-9h0m0 1h0m0 4h0m0 1h0m1-8h0m0 2h0m0 6h0m0 2h0m1-5h0m0 1h0m0 1h0m0 2h0m0 1h0m1-10h0m0 11h0m1-10h0m1 1h0m0 9h0m1-9h0m0 3h0m0 2h0m1-4h0m0 7h0m1-7h0m1 2h0m1-2h0m1 7h0m1-8h0m0 6h0m0 2h0m1-7h0m1-2h0m0 3h0m0 1h0m0 2h0m0 2h0m1-8h0m0 9h0m1-8h0m1-1h0m0 7h0m1 1h0m0 1h0m1-4h0m0 4h0m1-7h0m0 7h0m2-4h0m0 1h0m1-7h0m0 4h0m0 4h0m0 1h0m0 2h0m1-11h0m0 4h0m1 3h0m0 4h0m1-11h0m0 11h0m1-4h0m0 1h0m2 2h0m2-5h0m0 3h0m0 1h0m0 1h0m2-9h0m0 4h0m1-3h0m2-1h0m1 5h0m1-6h0m-9 12h0m-2 2h0m-1-2h0m0 2h0m-1 2h0m-2 0h0m-1-4h0m-2 1h0m-1 5h0m-1-4h0m0 8h0m-1-3h0m-1-4h0m0 1h0m0 2h0m0 3h0m-1-8h0m0 6h0m0 3h0m-1-8h0m-1-2h0m0 2h0m0 9h0m-2-8h0m-1 0h0m0 1h0m-1 1h0m0 3h0m-1 2h0m-1-2h0m0 3h0m-1-9h0m-1 1h0m0 8h0m-1-4h0m-1-4h0m0 4h0m-1-6h0m0 5h0m-1-4h0m0 3h0m0 3h0m0 3h0m-1-5h0m0 2h0m0 1h0m-1-3h0m-2-3h0m0 1h0m0 5h0m0 2h0m-1-10h0m0 1h0m0 3h0m0 1h0m0 1h0m0 4h0m-1-9h0m0 1h0m-1-3h0m0 7h0m-1-3h0m0 3h0m-1-4h0m0 6h0m0 1h0m0 1h0m-1-11h0m0 3h0m0 3h0m-1-4h0m0 3h0m0 1h0m0 1h0m-1-6h0m0 4h0m0 2h0m-1-7h0m0 4h0m0 1h0m0 1h0m0 1h0m-2-6h0m0 4h0m-1 0h0m0 2h0m-1-4h0m0 2h0m0 3h0m0 3h0m-2-8h0m0 7h0m-1-1h0m-1-7h0m0 4h0m0 1h0m0 1h0m0 3h0m-1-11h0m0 1h0m0 3h0m0 4h0m0 1h0m-1-5h0m0 1h0m0 1h0m0 1h0m-1-4h0m0 1h0m-1-3h0m0 2h0m0 2h0m0 1h0m-1-6h0m0 3h0m0 3h0m0 2h0m0 1h0m-2-9h0m0 5h0m-1-5h0m0 8h0m-2-3h0m0 2h0m0 1h0m-3-2h0m-1-1h0m0 4h0m-1-2h0m-2-6h0m0 5h0m-1-6h0m0 6h0m0 1h0m0 4h0m-1-10h0m-1 3h0m-1 3h0m-1-6h0m0 5h0m-1-4h0m-1 2h0m0 2h0m-1-1h0m-1-4h0m0 3h0m0 4h0m-1-6h0m0 3h0m0 3h0m-3 2h0m-1-10h0m0 4h0m-1-2h0m-1 1h0m0 1h0m0 7h0m-1-6h0m0 3h0m0 2h0m-1-2h0m-1-7h0m-1 0h0m-1 2h0m-2-2h0m0 1h0m0 4h0m-1 1h0m0 2h0m0 2h0m-3-5h0m0 4h0m-1 1h0m-2-11h0m0 4h0m0 1h0m-2-1h0m-1-3h0m-2 10h0m-4-2h0m-3-6h0m0 8h0m-1-8h0m-6 6h0m-2 0h0m-1 2h0m-2-10h0m0 10h0m-6-10h0m-3-1h0m-2 9h0m-1-3h0m14 11h0m1-5h0m1 6h0m0 4h0m2-8h0m2-1h0m0 1h0m2 4h0m2-3h0m0 2h0m1 4h0m1 2h0m3-9h0m3 8h0m1 1h0m2-7h0m3 3h0m2-1h0m1-6h0m0 2h0m1 3h0m0 5h0m3-5h0m0 4h0m1 2h0m1-5h0m0 4h0m3-1h0m1-3h0m2-5h0m0 4h0m0 5h0m1-10h0m0 9h0m1-9h0m0 5h0m0 2h0m1-1h0m0 1h0m0 3h0m1-10h0m0 2h0m1-2h0m1 3h0m1 5h0m2-8h0m0 9h0m1-6h0m0 2h0m0 4h0m1-1h0m0 2h0m2-7h0m0 6h0m2-8h0m1 6h0m0 4h0m1-1h0m0 1h0m1-11h0m1 2h0m1-2h0m0 1h0m1-1h0m0 5h0m1 3h0m0 1h0m1-5h0m0 3h0m1-2h0m1-4h0m0 3h0m1 7h0m1 0h0m2-10h0m0 2h0m1-3h0m0 5h0m0 3h0m1-7h0m4 3h0m1-2h0m0 4h0m1-5h0m0 4h0m0 6h0m1-11h0m0 2h0m0 3h0m1 2h0m1-6h0m0 1h0m0 4h0m1-1h0m1 6h0m1-11h0m0 1h0m0 6h0m1-4h0m0 7h0m1-10h0m0 3h0m0 8h0m1-10h0m0 5h0m1-1h0m0 6h0m1-9h0m0 8h0m2-5h0m1-5h0m0 2h0m1-2h0m0 10h0m2-6h0m1 2h0m0 5h0m1-6h0m0 6h0m1-3h0m0 3h0m4-6h0m3-1h0m-11 13h0m-3-5h0m-1 2h0m-1 3h0m-1 6h0m-1-10h0m0 2h0m-1 6h0m-1-7h0m0 7h0m-1-9h0m0 3h0m0 6h0m-1-1h0m-1-3h0m-1-2h0m0 1h0m0 6h0m-1-9h0m0 1h0m0 7h0m0 1h0m-2-8h0m-2 7h0m-1-6h0m-1-1h0m-2-2h0m0 8h0m-2-8h0m0 1h0m-1-1h0m-1 0h0m0 1h0m-1 0h0m0 1h0m-1 0h0m-1 0h0m-1 7h0m-1-1h0m0 1h0m-2-8h0m0 1h0m-1 2h0m-1-4h0m-2 2h0m-2-1h0m0 10h0m-3-4h0m0 2h0m-1-2h0m-1 3h0m-1-3h0m-1-1h0m-1 1h0m-1-6h0m0 9h0m-3-3h0m-1-2h0m-2-3h0m0 6h0m-1 2h0m-1-9h0m-1 7h0m-4-3h0m-2 0h0m-2 0h0m-1 4h0m-1-7h0m-5 2h0m0 7h0m-1-5h0m0 5h0m-1-6h0m-1 1h0m-3-6h0m0 2h0m-1 7h0m-2-1h0m-1 0h0m-2-3h0m-2-1h0m10 9h0m1 3h0m9-3h0m4 1h0m1 6h0m1 2h0m9-9h0m3 4h0m1-1h0m0 2h0m14-3h0m1-2h0m0 3h0m2-4h0m1 2h0m2 6h0m1-3h0m3-2h0m6 2h0m1-5h0m1 1h0m2 2h0m1 2h0m1-4h0m0 4h0m1-2h0m1-1h0m-14 10h0m-3 4h0m0 3h0m-3 4h0m-4-9h0m0 3h0m-4-2h0m-1 8h0m-1-8h0m-3-2h0m-5 10h0m-2-8h0m-1 0h0m-2-1h0m-13 1h0m-3 0h0m13 11h0m4-2h0m3 2h0m11 2h0m3 4h0m4-6h0m-11 12h0m-1-2h0" style="fill:none;stroke:#808080;stroke-width:5.30;stroke-linecap:round"/></g>
<defs>
<path id="md569b82894" d="M 0 1.7 C 0.450845 1.7 0.883286 1.520877 1.202082 1.202082 C 1.520877 0.883286 1.7 0.450845 1.7 0 C 1.7 -0.450845 1.520877 -0.883286 1.202082 -1.202082 C 0.883286 -1.520877 0.450845 -1.7 0 -1.7 C -0.450845 -1.7 -0.883286 -1.520877 -1.202082 -1.202082 C -1.520877 -0.883286 -1.7 -0.450845 -1.7 0 C -1.7 0.450845 -1.520877 0.883286 -1.202082 1.202082 C -0.883286 1.520877 -0.450845 1.7 0 1.7 z
"/>
</defs><g clip-path="url(#p84c9856eb9)"><path transform="scale(0.4)" d="M428 574h0m-6-10h0m-4 11h0m-1-7h0m0 4h0m-12-8h0m-14 9h0m0 9h0m4 4h0m3 1h0m3-8h0m3 3h0m1-5h0m0 3h0m0 7h0m2-9h0m0 3h0m1-4h0m2 5h0m0 1h0m0 3h0m1-5h0m1-1h0m3 2h0m0 1h0m1-3h0m0 1h0m3 0h0m2 3h0m0 3h0m3-3h0m8 7h0m-2 2h0m-2-1h0m-5 6h0m-1-6h0m0 5h0m-1-3h0m-1 5h0m-1-9h0m-6-1h0m-1 1h0m-1 4h0m-2 0h0m-1-2h0m-1-1h0m0 4h0m-1-2h0m-2 5h0m-1-9h0m-2 3h0m-4 7h0m-2-1h0m-1-5h0m-3 2h0m6 9h0m5 2h0m3 2h0m0 1h0m5-4h0m1-4h0m2 10h0m4-8h0m0 6h0m0 1h0m2-10h0m2 1h0m9 12h0m-10 3h0" style="fill:none;stroke:#008000;stroke-width:8.50;stroke-linecap:round"/></g>
<defs>
<path id="m8fa542466a" d="M 0 1.7 C 0.450845 1.7 0.883286 1.520877 1.202082 1.202082 C 1.520877 0.883286 1.7 0.450845 1.7 0 C 1.7 -0.450845 1.520877 -0.883286 1.202082 -1.202082 C 0.883286 -1.520877 0.450845 -1.7 0 -1.7 C -0.450845 -1.7 -0.883286 -1.520877 -1.202082 -1.202082 C -1.520877 -0.883286 -1.7 -0.450845 -1.7 0 C -1.7 0.450845 -1.520877 0.883286 -1.202082 1.202082 C -0.883286 1.520877 -0.450845 1.7 0 1.7 z
"/>
</defs><g clip-path="url(#p84c9856eb9)"><path transform="scale(0.4)" d="M434 522h0m-2 4h0m-1-6h0m0 6h0m-1 1h0m-1 0h0m-2-2h0m-3 0h0m-1 1h0m-1-1h0m-1-1h0m-5 12h0m3-1h0m1-4h0m1-2h0m5 3h0m1 1h0m0 2h0m2-3h0m1-2h0m0 5h0m1-4h0m0 1h0m3 3h0m1 3h0m2-6h0m-6 11h0m-3 0h0m-7-2h0" style="fill:none;stroke:#0000ff;stroke-width:8.50;stroke-linecap:round"/></g>
<defs>
<path id="mfa1189fe0f" d="M 0 1.7 C 0.450845 1.7 0.883286 1.520877 1.202082 1.202082 C 1.520877 0.883286 1.7 0.450845 1.7 0 C 1.7 -0.450845 1.520877 -0.883286 1.202082 -1.202082 C 0.883286 -1.520877 0.450845 -1.7 0 -1.7 C -0.450845 -1.7 -0.883286 -1.520877 -1.202082 -1.202082 C -1.520877 -0.883286 -1.7 -0.450845 -1.7 0 C -1.7 0.450845 -1.520877 0.883286 -1.202082 1.202082 C -0.883286 1.520877 -0.450845 1.7 0 1.7 z
"/>
</defs><g clip-path="url(#p84c9856eb9)"><path transform="scale(0.4)" d="M419 535h0m2-2h0m2 4h0m0 1h0m0 1h0m1-1h0m0 1h0m1-5h0m1-1h0m0 3h0m2 0h0m1 2h0m7-1h0m3-4h0m0 7h0m-2 10h0m-4-3h0m-2-3h0m0 6h0m-1-9h0m0 2h0m-1 1h0m0 6h0m-3-8h0m-1-1h0m-2 2h0m0 6h0m0 1h0m-1-4h0m-1-3h0m0 5h0m0 2h0m-1-7h0m-1 6h0m-2-5h0m-1-4h0m-1 7h0m-2 2h0m-1-2h0m-2-4h0m16 10h0m1-1h0m1 4h0m1-1h0m6-3h0" style="fill:none;stroke:#000080;stroke-width:8.50;stroke-linecap:round"/></g>
<defs>
<path id="m62983c8d92" d="M 0 1.7 C 0.450845 1.7 0.883286 1.520877 1.202082 1.202082 C 1.520877 0.883286 1.7 0.450845 1.7 0 C 1.7 -0.450845 1.520877 -0.883286 1.202082 -1.202082 C 0.883286 -1.520877 0.450845 -1.7 0 -1.7 C -0.450845 -1.7 -0.883286 -1.520877 -1.202082 -1.202082 C -1.520877 -0.883286 -1.7 -0.450845 -1.7 0 C -1.7 0.450845 -1.520877 0.883286 -1.202082 1.202082 C -0.883286 1.520877 -0.450845 1.7 0 1.7 z
"/>
</defs><g clip-path="url(#p84c9856eb9)"><path transform="scale(0.4)" d="M380 533h0m11 4h0m3 1h0m1-4h0m0 1h0m2 1h0m0 1h0m1-1h0m8 1h0m2 6h0m-3 0h0m-2-2h0m-1 2h0m-2-2h0m0 2h0m0 7h0m-1-6h0m-1 4h0m-1-8h0m-2 4h0m-1-4h0m0 1h0m-1-1h0m-1 0h0m0 3h0m-2 7h0m-5-10h0m-2 1h0m-2 3h0m-1 1h0" style="fill:none;stroke:#ffa500;stroke-width:8.50;stroke-linecap:round"/></g>
<defs>
<path id="m93a80aa558" d="M 0 1.7 C 0.450845 1.7 0.883286 1.520877 1.202082 1.202082 C 1.520877 0.883286 1.7 0.450845 1.7 0 C 1.7 -0.450845 1.520877 -0.883286 1.202082 -1.202082 C 0.883286 -1.520877 0.450845 -1.7 0 -1.7 C -0.450845 -1.7 -0.883286 -1.520877 -1.202082 -1.202082 C -1.520877 -0.883286 -1.7 -0.450845 -1.7 0 C -1.7 0.450845 -1.520877 0.883286 -1.202082 1.202082 C -0.883286 1.520877 -0.450845 1.7 0 1.7 z
"/>
</defs><g clip-path="url(#p84c9856eb9)"><path transform="scale(0.4)" d="M370 556h0m0 5h0m0 1h0m1-10h0m4 10h0m4-6h0m2 4h0m1-5h0m0 3h0m0 4h0m1-1h0m1 0h0m1-6h0m2 1h0m0 2h0m0 2h0m1 0h0m2-2h0m1 8h0m-9-1h0m-2 2h0" style="fill:none;stroke:#ffd700;stroke-width:8.50;stroke-linecap:round"/></g>
<defs>
<path id="mc3de098062" d="M 0 1.7 C 0.450845 1.7 0.883286 1.520877 1.202082 1.202082 C 1.520877 0.883286 1.7 0.450845 1.7 0 C 1.7 -0.450845 1.520877 -0.883286 1.202082 -1.202082 C 0.883286 -1.520877 0.450845 -1.7 0 -1.7 C -0.450845 -1.7 -0.883286 -1.520877 -1.202082 -1.202082 C -1.520877 -0.883286 -1.7 -0.450845 -1.7 0 C -1.7 0.450845 -1.520877 0.883286 -1.202082 1.202082 C -0.883286 1.520877 -0.450845 1.7 0 1.7 z
"/>
</defs><g clip-path="url(#p84c9856eb9)"><path transform="scale(0.4)" d="M405 563h0m3-3h0m0 2h0m1-5h0m4 6h0m1-2h0m2 2h0m1-1h0m-4 2h0m0 4h0m-2-3h0m0 1h0m-1 1h0m-2 2h0m-1-2h0m-1 2h0m-2-3h0m0 1h0" style="fill:none;stroke:#ff0000;stroke-width:8.50;stroke-linecap:round"/></g>
<defs>
<path id="m72e3f029a3" d="M 0 1.7 C 0.450845 1.7 0.883286 1.520877 1.202082 1.202082 C 1.520877 0.883286 1.7 0.450845 1.7 0 C 1.7 -0.450845 1.520877 -0.883286 1.202082 -1.202082 C 0.883286 -1.520877 0.450845 -1.7 0 -1.7 C -0.450845 -1.7 -0.883286 -1.520877 -1.202082 -1.202082 C -1.520877 -0.883286 -1.7 -0.450845 -1.7 0 C -1.7 0.450845 -1.520877 0.883286 -1.202082 1.202082 C -0.883286 1.520877 -0.450845 1.7 0 1.7 z
"/>
</defs><g clip-path="url(#p84c9856eb9)"><path transform="scale(0.4)" d="M408 572h0m-4-7h0m0 10h0m-3-2h0m-5 2h0m-1-1h0m-3 2h0m1 5h0m3-4h0m0 3h0m0 3h0m1-7h0m0 1h0m0 3h0m1 0h0m1 6h0m1-6h0m4-4h0m1 3h0m5 7h0m-4 3h0m-1 0h0m-7-1h0" style="fill:none;stroke:#ffff00;stroke-width:8.50;stroke-linecap:round"/></g>
<defs>
<path id="mc0dc205a0d" d="M 0 1.7 C 0.450845 1.7 0.883286 1.520877 1.202082 1.202082 C 1.520877 0.883286 1.7 0.450845 1.7 0 C 1.7 -0.450845 1.520877 -0.883286 1.202082 -1.202082 C 0.883286 -1.520877 0.450845 -1.7 0 -1.7 C -0.450845 -1.7 -0.883286 -1.520877 -1.202082 -1.202082 C -1.520877 -0.883286 -1.7 -0.450845 -1.7 0 C -1.7 0.450845 -1.520877 0.883286 -1.202082 1.202082 C -0.883286 1.520877 -0.450845 1.7 0 1.7 z
"/>
</defs><g clip-path="url(#p84c9856eb9)"><path transform="scale(0.4)" d="M409 581h0m9 2h0m0 3h0m0 1h0m3 0h0m2-8h0m2 2h0m0 1h0m2-2h0m0 2h0m2 2h0m4 0h0m2 5h0m-2 4h0m0 3h0m-6-8h0m-1 0h0m0 4h0m-2-4h0m0 3h0m-1-1h0m-1 1h0m-1-2h0m0 1h0m-2-1h0m-4 0h0" style="fill:none;stroke:#800080;stroke-width:8.50;stroke-linecap:round"/></g>
<g id="matplotlib.axis_1">
<g id="xtick_1">
<g id="line2d_1">
<defs>
<path id="m7c25c535dc" d="M 0 0 L 0 3.5 " style="stroke: #000000; stroke-width: 0.8"/>
</defs>
<g>
<use href="#m7c25c535dc" x="73.848" y="276.64" style="stroke: #000000; stroke-width: 0.8"/>
</g>
</g>
<g id="text_1">
<text style="font-size: 10px; font-family: 'DejaVu Sans'; text-anchor: middle" x="73.848" y="291.238438" transform="rotate(-0 73.848 291.238438)">−4</text>
</g>
</g>
<g id="xtick_2">
<g id="line2d_2">
<g>
<use href="#m7c25c535dc" x="119.224" y="276.64" style="stroke: #000000; stroke-width: 0.8"/>
</g>
</g>
<g id="text_2">
<text style="font-size: 10px; font-family: 'DejaVu Sans'; text-anchor: middle" x="119.224" y="291.238438" transform="rotate(-0 119.224 291.238438)">−2</text>
</g>
</g>
<g id="xtick_3">
<g id="line2d_3">
<g>
<use href="#m7c25c535dc" x="164.6" y="276.64" style="stroke: #000000; stroke-width: 0.8"/>
</g>
</g>
<g id="text_3">
<text style="font-size: 10px; font-family: 'DejaVu Sans'; text-anchor: middle" x="164.6" y="291.238438" transform="rotate(-0 164.6 291.238438)">0</text>
</g>
</g>
<g id="xtick_4">
<g id="line2d_4">
<g>
<use href="#m7c25c535dc" x="209.976" y="276.64" style="stroke: #000000; stroke-width: 0.8"/>
</g>
</g>
<g id="text_4">
<text style="font-size: 10px; font-family: 'DejaVu Sans'; text-anchor: middle" x="209.976" y="291.238438" transform="rotate(-0 209.976 291.238438)">2</text>
</g>
</g>
<g id="xtick_5">
<g id="line2d_5">
<g>
<use href="#m7c25c535dc" x="255.352" y="276.64" style="stroke: #000000; stroke-width: 0.8"/>
</g>
</g>
<g id="text_5">
<text style="font-size: 10px; font-family: 'DejaVu Sans'; text-anchor: middle" x="255.352" y="291.238438" transform="rotate(-0 255.352 291.238438)">4</text>
</g>
</g>
<g id="text_6">
<!-- $L_z$ [$10^3$ kpc km s$^{-1}$] -->
<g transform="translate(93.5255 309.495125)">
<text>
<tspan x="0" y="-0.459375" style="font-style: oblique; font-size: 14.7px; font-family: 'DejaVu Sans'">L</tspan>
<tspan x="8.217651" y="2.001562" style="font-style: oblique; font-size: 10.29px; font-family: 'DejaVu Sans'">z</tspan>
<tspan x="14.047424" y="-0.459375" style="font-size: 14.7px; font-family: 'DejaVu Sans'"> </tspan>
<tspan x="18.736023" y="-0.459375" style="font-size: 14.7px; font-family: 'DejaVu Sans'">[</tspan>
<tspan x="24.49054" y="-0.459375" style="font-size: 14.7px; font-family: 'DejaVu Sans'">1</tspan>
<tspan x="33.874939" y="-0.459375" style="font-size: 14.7px; font-family: 'DejaVu Sans'">0</tspan>
<tspan x="50.382129" y="-0.459375" style="font-size: 14.7px; font-family: 'DejaVu Sans'"> </tspan>
<tspan x="55.070728" y="-0.459375" style="font-size: 14.7px; font-family: 'DejaVu Sans'">k</tspan>
<tspan x="63.612476" y="-0.459375" style="font-size: 14.7px; font-family: 'DejaVu Sans'">p</tspan>
<tspan x="72.975269" y="-0.459375" style="font-size: 14.7px; font-family: 'DejaVu Sans'">c</tspan>
<tspan x="81.084888" y="-0.459375" style="font-size: 14.7px; font-family: 'DejaVu Sans'"> </tspan>
<tspan x="85.773486" y="-0.459375" style="font-size: 14.7px; font-family: 'DejaVu Sans'">k</tspan>
<tspan x="94.315234" y="-0.459375" style="font-size: 14.7px; font-family: 'DejaVu Sans'">m</tspan>
<tspan x="108.683521" y="-0.459375" style="font-size: 14.7px; font-family: 'DejaVu Sans'"> </tspan>
<tspan x="113.372119" y="-0.459375" style="font-size: 14.7px; font-family: 'DejaVu Sans'">s</tspan>
<tspan x="136.830823" y="-0.459375" style="font-size: 14.7px; font-family: 'DejaVu Sans'">]</tspan>
<tspan x="43.402893" y="-6.201563" style="font-size: 10.29px; font-family: 'DejaVu Sans'">3</tspan>
<tspan x="121.200366" y="-6.201563" style="font-size: 10.29px; font-family: 'DejaVu Sans'">−</tspan>
<tspan x="129.851587" y="-6.201563" style="font-size: 10.29px; font-family: 'DejaVu Sans'">1</tspan>
</text>
</g>
</g>
</g>
<g id="matplotlib.axis_2">
<g id="ytick_1">
<g id="line2d_6">
<defs>
<path id="mb258c49b38" d="M 0 0 L -3.5 0 " style="stroke: #000000; stroke-width: 0.8"/>
</defs>
<g>
<use href="#mb258c49b38" x="51.16" y="257.842098" style="stroke: #000000; stroke-width: 0.8"/>
</g>
</g>
<g id="text_7">
<text style="font-size: 10px; font-family: 'DejaVu Sans'; text-anchor: end" x="44.16" y="261.641317" transform="rotate(-0 44.16 261.641317)">−2.0</text>
</g>
</g>
<g id="ytick_2">
<g id="line2d_7">
<g>
<use href="#mb258c49b38" x="51.16" y="219.384851" style="stroke: #000000; stroke-width: 0.8"/>
</g>
</g>
<g id="text_8">
<text style="font-size: 10px; font-family: 'DejaVu Sans'; text-anchor: end" x="44.16" y="223.18407" transform="rotate(-0 44.16 223.18407)">−1.5</text>
</g>
</g>
<g id="ytick_3">
<g id="line2d_8">
<g>
<use href="#mb258c49b38" x="51.16" y="180.927605" style="stroke: #000000; stroke-width: 0.8"/>
</g>
</g>
<g id="text_9">
<text style="font-size: 10px; font-family: 'DejaVu Sans'; text-anchor: end" x="44.16" y="184.726824" transform="rotate(-0 44.16 184.726824)">−1.0</text>
</g>
</g>
<g id="ytick_4">
<g id="line2d_9">
<g>
<use href="#mb258c49b38" x="51.16" y="142.470358" style="stroke: #000000; stroke-width: 0.8"/>
</g>
</g>
<g id="text_10">
<text style="font-size: 10px; font-family: 'DejaVu Sans'; text-anchor: end" x="44.16" y="146.269577" transform="rotate(-0 44.16 146.269577)">−0.5</text>
</g>
</g>
<g id="ytick_5">
<g id="line2d_10">
<g>
<use href="#mb258c49b38" x="51.16" y="104.013112" style="stroke: #000000; stroke-width: 0.8"/>
</g>
</g>
<g id="text_11">
<text style="font-size: 10px; font-family: 'DejaVu Sans'; text-anchor: end" x="44.16" y="107.812331" transform="rotate(-0 44.16 107.812331)">0.0</text>
</g>
</g>
<g id="ytick_6">
<g id="line2d_11">
<g>
<use href="#mb258c49b38" x="51.16" y="65.555866" style="stroke: #000000; stroke-width: 0.8"/>
</g>
</g>
<g id="text_12">
<text style="font-size: 10px; font-family: 'DejaVu Sans'; text-anchor: end" x="44.16" y="69.355084" transform="rotate(-0 44.16 69.355084)">0.5</text>
</g>
</g>
<g id="text_13">
<!-- $E_{tot}$ [$10^5$ km$^2$ s$^{-2}$] -->
<g transform="translate(14.020047 230.746) rotate(-90)">
<text>
<tspan x="0" y="-0.459375" style="font-style: oblique; font-size: 14.7px; font-family: 'DejaVu Sans'">E</tspan>
<tspan x="9.31958" y="2.001562" style="font-style: oblique; font-size: 10.29px; font-family: 'DejaVu Sans'">t</tspan>
<tspan x="13.367908" y="2.001562" style="font-style: oblique; font-size: 10.29px; font-family: 'DejaVu Sans'">o</tspan>
<tspan x="19.684912" y="2.001562" style="font-style: oblique; font-size: 10.29px; font-family: 'DejaVu Sans'">t</tspan>
<tspan x="24.143396" y="-0.459375" style="font-size: 14.7px; font-family: 'DejaVu Sans'"> </tspan>
<tspan x="28.831995" y="-0.459375" style="font-size: 14.7px; font-family: 'DejaVu Sans'">[</tspan>
<tspan x="34.586511" y="-0.459375" style="font-size: 14.7px; font-family: 'DejaVu Sans'">1</tspan>
<tspan x="43.970911" y="-0.459375" style="font-size: 14.7px; font-family: 'DejaVu Sans'">0</tspan>
<tspan x="60.478101" y="-0.459375" style="font-size: 14.7px; font-family: 'DejaVu Sans'"> </tspan>
<tspan x="65.166699" y="-0.459375" style="font-size: 14.7px; font-family: 'DejaVu Sans'">k</tspan>
<tspan x="73.708447" y="-0.459375" style="font-size: 14.7px; font-family: 'DejaVu Sans'">m</tspan>
<tspan x="95.199524" y="-0.459375" style="font-size: 14.7px; font-family: 'DejaVu Sans'"> </tspan>
<tspan x="99.888123" y="-0.459375" style="font-size: 14.7px; font-family: 'DejaVu Sans'">s</tspan>
<tspan x="123.346826" y="-0.459375" style="font-size: 14.7px; font-family: 'DejaVu Sans'">]</tspan>
<tspan x="53.498865" y="-6.201563" style="font-size: 10.29px; font-family: 'DejaVu Sans'">5</tspan>
<tspan x="88.220288" y="-6.201563" style="font-size: 10.29px; font-family: 'DejaVu Sans'">2</tspan>
<tspan x="107.71637" y="-6.201563" style="font-size: 10.29px; font-family: 'DejaVu Sans'">−</tspan>
<tspan x="116.36759" y="-6.201563" style="font-size: 10.29px; font-family: 'DejaVu Sans'">2</tspan>
</text>
</g>
</g>
</g>
<g id="patch_3">
<path d="M 51.16 276.64 L 51.16 56.08 " style="fill: none; stroke: #000000; stroke-width: 0.8; stroke-linejoin: miter; stroke-linecap: square"/>
</g>
<g id="patch_4">
<path d="M 278.04 276.64 L 278.04 56.08 " style="fill: none; stroke: #000000; stroke-width: 0.8; stroke-linejoin: miter; stroke-linecap: square"/>
</g>
<g id="patch_5">
<path d="M 51.16 276.64 L 278.04 276.64 " style="fill: none; stroke: #000000; stroke-width: 0.8; stroke-linejoin: miter; stroke-linecap: square"/>
</g>
<g id="patch_6">
<path d="M 51.16 56.08 L 278.04 56.08 " style="fill: none; stroke: #000000; stroke-width: 0.8; stroke-linejoin: miter; stroke-linecap: square"/>
</g>
<g id="text_14">
<text style="font-size: 16px; font-family: 'DejaVu Sans'; text-anchor: middle" x="164.6" y="42.84" transform="rotate(-0 164.6 42.84)">a</text>
</g>
<g id="legend_1">
<g id="patch_7">
<path d="M 55.22 63.62 L 57.54 63.62 Q 58.7 63.62 58.7 62.46 L 58.7 60.14 Q 58.7 58.98 57.54 58.98 L 55.22 58.98 Q 54.06 58.98 54.06 60.14 L 54.06 62.46 Q 54.06 63.62 55.22 63.62 z
" style="fill: #ffffff; opacity: 0.8; stroke: #cccccc; stroke-linejoin: miter"/>
</g>
</g>
</g>
<g id="axes_2">
<g id="patch_8">
<path d="M 346.16 276.64 L 573.08 276.64 L 573.08 56.08 L 346.16 56.08 z
" style="fill: #ffffff"/>
</g>
<g clip-path="url(#p6013d5e135)"><path transform="scale(0.4)" d="M1157 152h0m83 7h0m-26-2h0m-73 8h0m36 10h0m14-3h0m29-4h0m15 6h0m1-1h0m-27 18h0m-111 0h0m-57-8h0m-113 20h0m85 0h0m223-8h0m55 11h0m-45 8h0m-22 1h0m19 10h0m9-3h0m13 4h0m36 1h0m-36 1h0m-38 11h0m-3-6h0m-49 0h0m-36-2h0m-9 0h0m145 18h0m49 10h0m-130 2h0m-27-7h0m-20-2h0m-34 6h0m28 10h0m27-4h0m49 7h0m2-1h0m6-5h0m1 6h0m81-7h0m17 17h0m-58-1h0m-11 7h0m-26-11h0m-8 11h0m-21-5h0m-3-4h0m-16 0h0m-25 5h0m-37-2h0m-13-4h0m-30 0h0m-11 18h0m15 4h0m8 0h0m9-10h0m53-1h0m11 1h0m6 5h0m6 3h0m33-2h0m62 0h0m33-2h0m42 17h0m-13-8h0m-31 0h0m-20 3h0m-34-4h0m-14 6h0m-43 0h0m-5-5h0m-15 5h0m-140 5h0m63 5h0m91 2h0m11-1h0m6-4h0m2-2h0m4 9h0m11-3h0m7-4h0m22-2h0m13 10h0m7-3h0m23-4h0m30 0h0m7-2h0m-34 15h0m-26 3h0m-13-6h0m-23 5h0m-22-3h0m-6 2h0m-3 5h0m-3-5h0m-12 3h0m-28-2h0m-26-5h0m-109 14h0m75 3h0m12-6h0m21 9h0m32-1h0m14-6h0m16 2h0m36 4h0m13-5h0m59 3h0m6-2h0m0 6h0m32-9h0m-38 11h0m-25 7h0m-7-7h0m-8 1h0m0 8h0m-1-9h0m-4 4h0m-12 4h0m-49-6h0m-3 3h0m-14-1h0m-19-4h0m-16 5h0m-32-5h0m-24 10h0m-78 12h0m4-3h0m58 3h0m28 1h0m16-5h0m5 5h0m7-2h0m4-7h0m0 3h0m34 6h0m15-11h0m3 6h0m4 3h0m29-8h0m2 10h0m4-7h0m3 6h0m10-3h0m9 3h0m52-8h0m3-1h0m45 21h0m-18 1h0m-44-8h0m-9 6h0m-6-7h0m-20 4h0m-15-5h0m-10 2h0m-7 3h0m-12 2h0m-2-7h0m-17 2h0m-13 0h0m-10-2h0m-7 8h0m-6-5h0m-6 5h0m-62-2h0m-24 0h0m-17-4h0m-4 4h0m-12 0h0m4 14h0m38-6h0m31 6h0m13 0h0m1-5h0m16-1h0m15-3h0m4 5h0m25-1h0m10-1h0m11-3h0m0 2h0m5 8h0m1-10h0m1 5h0m1-2h0m1 2h0m2-4h0m1 6h0m4 2h0m7 0h0m2-7h0m5-1h0m5 5h0m24-5h0m4 8h0m7-7h0m5 3h0m2 3h0m2 2h0m8-2h0m5-6h0m50-2h0m4 4h0m74 19h0m-77-3h0m-35-3h0m-20 5h0m-3-5h0m-30 1h0m-8 5h0m-2-9h0m-2 6h0m-15-8h0m-3 2h0m-22 1h0m-5 2h0m-1-3h0m-2 1h0m-11 6h0m-4-9h0m-5 3h0m-2 0h0m-2 6h0m-4-5h0m-15 5h0m-4-3h0m-10 1h0m-3-5h0m-45 0h0m-40 5h0m-6-3h0m-71-1h0m91 18h0m23 2h0m5 0h0m5-3h0m5-7h0m15 8h0m1-6h0m1 5h0m5-6h0m5 1h0m0 3h0m15-4h0m2 0h0m11 9h0m4-10h0m0 9h0m18-6h0m0 1h0m10-4h0m0 1h0m3 1h0m9 5h0m1-8h0m6 9h0m11 0h0m4 1h0m12-8h0m7 5h0m10 4h0m8-10h0m2 6h0m1-7h0m1 2h0m12-2h0m15 6h0m5 0h0m12 1h0m29 3h0m37 8h0m-34 1h0m-5 1h0m-37 2h0m-6-8h0m-17 0h0m-3 1h0m-1 5h0m-4 0h0m-4-7h0m-3 5h0m-8-4h0m-6 6h0m-4-3h0m-4 6h0m-6-1h0m-4-4h0m-4 1h0m-8-7h0m-1 9h0m-1-5h0m-4-2h0m-7 5h0m-7 2h0m-2 1h0m-4-1h0m-7 1h0m-1-4h0m-6 4h0m-2-2h0m-7 2h0m-28-8h0m-1-2h0m-6 4h0m-5 5h0m-8 1h0m-2-10h0m-5 8h0m-2-7h0m-1 6h0m-4 4h0m-6-5h0m-1-4h0m-11 8h0m-4-7h0m-21 16h0m10 0h0m11-3h0m15 0h0m1 2h0m21-4h0m2 5h0m9-1h0m1-5h0m12 6h0m13 2h0m2 0h0m1-1h0m2-6h0m5 1h0m0 6h0m2-7h0m3 8h0m4-9h0m6 0h0m2 2h0m1 8h0m2-11h0m7 8h0m0 2h0m3-8h0m2-1h0m1 6h0m1 1h0m1-4h0m2 2h0m3-3h0m1 2h0m2-1h0m9 6h0m3 0h0m1-2h0m2-5h0m0 5h0m2-5h0m1-3h0m1 3h0m1-1h0m4-1h0m7 0h0m0 4h0m1-5h0m6 1h0m12 5h0m7 0h0m5 1h0m4-2h0m1 0h0m0 3h0m2-1h0m6 3h0m4-2h0m22-6h0m2 5h0m1-3h0m6 6h0m3-2h0m2-7h0m11 4h0m12-1h0m-20 19h0m-4-5h0m-1-3h0m-14-1h0m-13 8h0m-1-2h0m-2-1h0m0 2h0m-24-5h0m-2-2h0m-8 7h0m-7 0h0m-3-7h0m-5-2h0m-4 7h0m0 4h0m-4-7h0m-2-2h0m-6 8h0m-8-9h0m-4 4h0m0 4h0m-1-6h0m0 5h0m-2-2h0m-2 4h0m-5-4h0m-4-2h0m0 6h0m-1-6h0m-6-3h0m-2 6h0m0 3h0m-2 1h0m-11-10h0m-4 3h0m-5 6h0m-2-10h0m-8 5h0m-4-5h0m-10 11h0m-6 0h0m-3-9h0m-13 7h0m-6 1h0m-1-2h0m-4-1h0m-6-7h0m-3 1h0m-4 9h0m-3-3h0m-5-1h0m-8-5h0m-19 2h0m-29 1h0m-76 3h0m54 6h0m47 9h0m1-8h0m14 8h0m2-4h0m11 3h0m4-9h0m6 2h0m2 2h0m6 2h0m2 3h0m5-6h0m8 8h0m1-11h0m0 8h0m1-3h0m5 5h0m8-1h0m9-7h0m1 1h0m2 3h0m7 3h0m1-1h0m8 3h0m2-8h0m1 8h0m3-7h0m6 5h0m5 2h0m2-8h0m2 1h0m1 6h0m5 1h0m1-11h0m5 6h0m2-2h0m1 6h0m2-3h0m1 3h0m1-5h0m0 1h0m3-6h0m4 7h0m3 1h0m0 2h0m1-2h0m6-4h0m3-4h0m2 10h0m3-8h0m3 0h0m0 4h0m2-2h0m4 7h0m1-11h0m2 3h0m0 3h0m1-5h0m5 3h0m0 5h0m1-4h0m2-2h0m4-3h0m5 5h0m15-4h0m1 3h0m3-1h0m3 2h0m1 0h0m1 3h0m3-7h0m2 7h0m2-1h0m6-7h0m0 11h0m2-8h0m3-2h0m0 8h0m15-7h0m12 7h0m6-6h0m16-3h0m24 6h0m39-3h0m7 12h0m-30 2h0m-18 3h0m-7-3h0m-17-3h0m-11 5h0m-3 1h0m-13-2h0m-7-3h0m0 5h0m0 1h0m-9-2h0m-2 0h0m-1-3h0m-15 6h0m-5 0h0m-2-4h0m-12 0h0m-6 5h0m-1-6h0m-5 1h0m-5-5h0m-4-1h0m-3 4h0m-3 7h0m-1-5h0m-2 2h0m-4-3h0m-1 5h0m-1-6h0m0 3h0m-1 4h0m-5-9h0m-3-1h0m-4 7h0m-4 0h0m-6 1h0m-10-6h0m-2 8h0m-4-1h0m-3-4h0m-8 0h0m-1-2h0m-6 0h0m0 5h0m-1-3h0m-2 2h0m-1 2h0m-2 1h0m-1-3h0m-1-7h0m0 10h0m-5-2h0m-2-1h0m-3-7h0m-2-1h0m-1 9h0m-1-4h0m-4-5h0m-5 8h0m-8-7h0m0 9h0m-3-1h0m-3-9h0m-3 6h0m-3 4h0m-9-6h0m-2 4h0m-6 1h0m-10-5h0m-3 7h0m-2-10h0m-2-1h0m-5 5h0m-4-1h0m-3 3h0m-1-1h0m-10-3h0m-10-3h0m-5 7h0m-12-4h0m-23 0h0m9 15h0m11-3h0m1-3h0m44 4h0m0 2h0m8 4h0m5-6h0m9 3h0m7 2h0m7-7h0m2 3h0m2-1h0m11 5h0m2 0h0m3-6h0m1 3h0m4 1h0m3-6h0m2 2h0m2 7h0m1-8h0m3-2h0m1 9h0m2-9h0m1 6h0m8-4h0m1 5h0m4-2h0m5 5h0m1-10h0m0 10h0m2-5h0m0 6h0m3-2h0m2-1h0m1 3h0m1-8h0m2-3h0m1 2h0m9 8h0m4-5h0m0 5h0m4-10h0m0 6h0m0 3h0m1-4h0m3-3h0m1 1h0m4 6h0m2-7h0m0 8h0m1-3h0m1 1h0m0 1h0m1-5h0m4-3h0m0 2h0m1 0h0m6 4h0m1-7h0m0 5h0m5-2h0m2 4h0m2 1h0m1-1h0m1 0h0m1 1h0m6-7h0m0 6h0m4-6h0m0 8h0m2 0h0m1 0h0m2-5h0m0 7h0m2 0h0m8-6h0m1 6h0m2 0h0m9-10h0m9 6h0m1-3h0m2 6h0m5-1h0m13-8h0m3 9h0m3-2h0m6-2h0m3-4h0m7-1h0m23-1h0m6 7h0m3 1h0m30-4h0m4 2h0m13 11h0m-16-4h0m-33 10h0m-10-10h0m-4 3h0m-1-2h0m-3 7h0m-8-6h0m-9 5h0m-8-6h0m-1 8h0m-11-9h0m-2 10h0m-10-7h0m-1-1h0m-2-3h0m0 3h0m-2 3h0m-4 4h0m-1-6h0m0 2h0m-1-6h0m-1 5h0m-8-1h0m0 2h0m-1-4h0m0 4h0m-2-2h0m-1 3h0m-1-1h0m-4-2h0m0 7h0m-5-11h0m-8 7h0m-5-7h0m0 8h0m-6 0h0m-2-1h0m-1-4h0m-1 2h0m-1 2h0m0 2h0m0 2h0m-1-10h0m-4 1h0m0 2h0m-8 7h0m-4-10h0m-2 8h0m-1-5h0m-1-1h0m-2-3h0m0 4h0m-3-3h0m0 7h0m-4 0h0m0 2h0m-2-1h0m-4-2h0m-2 3h0m-2-4h0m-2 1h0m-2 2h0m-1-6h0m-1 5h0m-1-1h0m-4-6h0m0 6h0m-1-5h0m0 3h0m-2-2h0m-2 1h0m-2-2h0m-2-1h0m-1 0h0m0 1h0m-1 0h0m-2 5h0m-4-4h0m0 5h0m-3 2h0m0 1h0m-4-6h0m-1 4h0m-2-1h0m-3 0h0m-2-8h0m-2 1h0m-5 0h0m-1-1h0m-2 5h0m-1-3h0m-4-2h0m0 5h0m-1 2h0m-3-3h0m-1-3h0m-8 5h0m-11 1h0m-3-4h0m-6-1h0m0 9h0m-2-7h0m0 4h0m-3-4h0m-2 5h0m-1 2h0m-12 0h0m-4-6h0m-20-1h0m-27 5h0m-3-7h0m0 7h0m-19 0h0m-93 6h0m25 5h0m38-2h0m35 4h0m4-1h0m21-1h0m2 1h0m12-8h0m0 5h0m6 0h0m3 3h0m2-6h0m14-1h0m15 1h0m4 6h0m4 0h0m5-9h0m0 4h0m2 3h0m2-5h0m1 6h0m1 2h0m1 0h0m6-4h0m4-6h0m3 2h0m3 2h0m1 2h0m1-1h0m1 2h0m6-7h0m3 6h0m2 1h0m1-6h0m1 5h0m6-6h0m1 0h0m3 0h0m0 7h0m1-3h0m0 2h0m0 3h0m1 0h0m2-6h0m4 7h0m3-7h0m0 1h0m5-4h0m2 2h0m0 6h0m2-7h0m0 7h0m1 0h0m1-8h0m0 8h0m1-1h0m1-6h0m1-1h0m3 7h0m1-4h0m1-1h0m0 1h0m0 1h0m1-2h0m4 0h0m7-2h0m2 4h0m1 0h0m1-4h0m0 5h0m1 3h0m1-5h0m4 0h0m0 7h0m1-1h0m2 1h0m3-5h0m0 6h0m6-4h0m0 3h0m2-10h0m4 6h0m1-2h0m2 0h0m0 5h0m5-6h0m0 2h0m2-4h0m4 5h0m1 2h0m1-7h0m11 1h0m0 6h0m1-7h0m3 1h0m0 4h0m0 4h0m3 0h0m2-5h0m0 4h0m3 1h0m1-8h0m0 5h0m2-5h0m1 4h0m1-3h0m5 7h0m1-2h0m10-7h0m9 6h0m2 2h0m1-2h0m3-3h0m5-4h0m3 10h0m1-1h0m1-4h0m2 3h0m5 1h0m4 0h0m18-3h0m2-6h0m14 5h0m12 3h0m4-1h0m13 1h0m1 2h0m2-1h0m-25 6h0m-10 8h0m-6-7h0m-3 6h0m-13-9h0m-4 0h0m-6 8h0m-1 1h0m-9 0h0m-3-5h0m-2 1h0m-7 0h0m-4 5h0m-2-9h0m-3 6h0m-9-5h0m0 6h0m-2 2h0m-7 0h0m-2-9h0m-2-2h0m0 3h0m-6 5h0m-10-1h0m-2-7h0m-6 4h0m-1 5h0m-11-6h0m0 1h0m-12-3h0m0 6h0m-1 0h0m-2 3h0m-1-3h0m-2 3h0m-1-3h0m-4-3h0m-8 7h0m-2-8h0m0 1h0m-5 7h0m-2-6h0m0 5h0m-1-6h0m-5 2h0m-1-6h0m-1 4h0m-1 2h0m-2-4h0m-1-2h0m0 4h0m-5-2h0m-13 5h0m-3-2h0m-3-3h0m0 2h0m-3 2h0m-2-6h0m-5 5h0m-3 6h0m-1-1h0m-1-2h0m-3-8h0m-2 10h0m-1-9h0m-2 5h0m-6 3h0m-3 2h0m-5-10h0m-5 8h0m-4-5h0m-1 7h0m-1-10h0m-3 9h0m-2 1h0m-2-2h0m-1-1h0m-8 2h0m-2-3h0m-9 1h0m-10-2h0m0 5h0m-1-10h0m-4 4h0m-56 2h0m-45 13h0m35-5h0m26 1h0m0 3h0m7 2h0m20-4h0m23-5h0m4 4h0m3 6h0m4-1h0m18-9h0m0 2h0m1 5h0m2-2h0m9-4h0m1 2h0m6-3h0m1 5h0m0 3h0m1-6h0m1-2h0m1 7h0m2-1h0m2-1h0m5-1h0m1 3h0m2-7h0m1 6h0m2-4h0m0 6h0m1-3h0m5 3h0m3-3h0m1-4h0m1 4h0m1 0h0m0 1h0m2 1h0m1-1h0m2 4h0m2-8h0m0 1h0m0 3h0m2-5h0m2 3h0m2 2h0m1 0h0m2 1h0m0 1h0m5 0h0m1-1h0m4 0h0m2-2h0m0 6h0m4-8h0m2 1h0m1-3h0m0 6h0m3-5h0m0 9h0m6-9h0m1 1h0m2-3h0m0 4h0m0 6h0m1-8h0m2-2h0m3 2h0m0 2h0m1-4h0m8 11h0m3-11h0m2 0h0m1 5h0m1 0h0m0 4h0m1-1h0m3-7h0m0 2h0m1 5h0m6 2h0m1-2h0m3-7h0m2 8h0m1-8h0m4 4h0m2-2h0m4 6h0m2-9h0m0 8h0m2-4h0m0 1h0m2 3h0m3-6h0m14 0h0m2 5h0m1-7h0m11 4h0m4 5h0m1-9h0m1 3h0m2 4h0m2-3h0m2 6h0m6-7h0m2 3h0m4-1h0m21-1h0m114-1h0m14 6h0m-22 7h0m-6 2h0m-48 0h0m-26 0h0m-22-4h0m-2 8h0m-3-1h0m-6 0h0m-3-8h0m-12 7h0m-10 0h0m-7-7h0m-6 3h0m-2 3h0m-4-4h0m-4 8h0m-2-9h0m-3 2h0m-2 5h0m-4-3h0m-4-4h0m-5 9h0m-4-2h0m-2-2h0m-9-7h0m-8 10h0m-5-10h0m-1 5h0m-4 0h0m-7 5h0m0 1h0m-1-8h0m-3 7h0m-1-7h0m0 2h0m0 3h0m0 3h0m-1-10h0m-4 9h0m-9-9h0m0 6h0m-1-2h0m-2-1h0m-3 3h0m-1-1h0m-2 5h0m-1-9h0m0 8h0m-1-3h0m-1 2h0m-2-6h0m0 1h0m0 3h0m0 3h0m-1-2h0m-1-4h0m-2 7h0m-7-5h0m-1-5h0m-1 3h0m-2-2h0m-1 4h0m-2-4h0m0 2h0m0 2h0m-1-3h0m-1-1h0m-2 2h0m-1 5h0m-1-5h0m-8 4h0m-1 0h0m-2-2h0m-1-4h0m0 6h0m-3 3h0m-1-8h0m0 4h0m-3 2h0m0 1h0m-4 0h0m-1-7h0m-4-3h0m-1 9h0m-4-2h0m-1-5h0m-12 6h0m-5-3h0m-3-1h0m-1-1h0m0 4h0m0 1h0m-6-8h0m-1 0h0m-5 8h0m0 1h0m-2-3h0m0 2h0m-5-5h0m-23 1h0m-6-4h0m0 7h0m-6-1h0m-13-6h0m-31 10h0m-30-9h0m-20 7h0m-61 6h0m180 3h0m10 2h0m3-6h0m3 10h0m4-3h0m10-7h0m0 9h0m1-8h0m2-2h0m4 9h0m3 0h0m3 1h0m4-7h0m1 4h0m0 4h0m2-3h0m2-1h0m1-2h0m1-3h0m1 9h0m1-4h0m8-7h0m0 10h0m1-10h0m5 11h0m3-10h0m0 5h0m0 2h0m4-7h0m1-1h0m5 5h0m1 2h0m2-7h0m0 3h0m0 3h0m1 1h0m1-5h0m2 9h0m1-11h0m0 11h0m3-3h0m1-3h0m0 1h0m4-5h0m2 1h0m0 8h0m1-8h0m0 9h0m2-7h0m0 3h0m0 2h0m1-7h0m1 9h0m1-9h0m7 3h0m0 4h0m1-9h0m0 7h0m0 2h0m1-6h0m0 4h0m1 3h0m1-9h0m1-1h0m0 2h0m1-2h0m0 8h0m0 3h0m1 0h0m1-4h0m0 1h0m0 3h0m4-9h0m2 2h0m3 1h0m5-3h0m5 5h0m2-6h0m0 1h0m6 6h0m1-3h0m2 6h0m2-11h0m0 5h0m0 3h0m3 3h0m3-5h0m2-5h0m2 10h0m2-8h0m1 5h0m3 1h0m1-9h0m1 7h0m1 1h0m4-1h0m0 4h0m6-3h0m4 1h0m21-7h0m6 9h0m2-5h0m5 2h0m2-6h0m3 9h0m3 0h0m19-5h0m1 4h0m5-6h0m102 8h0m-90 0h0m-31 8h0m-9 3h0m-2-10h0m0 4h0m-9 4h0m-4-8h0m-2 9h0m-7-1h0m-2-2h0m-2-4h0m-1-3h0m-2 1h0m-2 8h0m-10-1h0m-1-6h0m0 4h0m-2-4h0m-2 9h0m-5-11h0m0 3h0m-1 3h0m-3-1h0m-2 3h0m-4-5h0m-1-3h0m-1 3h0m-4 1h0m0 6h0m-4-2h0m-1 0h0m-1-1h0m-4 1h0m-4-2h0m-6-4h0m-3 0h0m-1 1h0m-1 8h0m-2-5h0m-2 2h0m-2-2h0m-2 1h0m-2-2h0m-2 2h0m0 3h0m-2-2h0m0 3h0m-2-10h0m-4 5h0m-1-6h0m0 6h0m0 2h0m-1 2h0m-1 0h0m-2-7h0m-2-3h0m0 6h0m-1 0h0m-4 0h0m0 2h0m-1-5h0m-2 3h0m-1-6h0m-2 10h0m-2-3h0m0 1h0m-6-2h0m-1-6h0m-1 10h0m-1-8h0m-3-1h0m0 9h0m-4-10h0m0 10h0m-1-6h0m-1-2h0m-2 8h0m-3-10h0m-2 11h0m-1-1h0m-1-10h0m-1 0h0m-2 10h0m-1-4h0m0 4h0m-2-2h0m0 1h0m-2-7h0m-2-2h0m-4 11h0m-1-5h0m-2 3h0m-1-9h0m0 6h0m0 2h0m-1 1h0m-3-8h0m-1 9h0m-1-9h0m0 10h0m-4 0h0m-13-2h0m-2-7h0m-2-2h0m-4 0h0m-4 5h0m-10-2h0m-16 1h0m-1 7h0m-23-9h0m-7 3h0m-16-2h0m-7 5h0m-69-4h0m-43 11h0m117 1h0m6 6h0m30-5h0m12-5h0m0 2h0m8 1h0m12 2h0m5-2h0m6 3h0m15 4h0m1-10h0m3 9h0m5 2h0m1-3h0m1-7h0m1 0h0m3 8h0m4-7h0m1 8h0m1-10h0m0 5h0m0 1h0m1-1h0m1 1h0m3 1h0m0 3h0m2-2h0m1-6h0m0 2h0m1 3h0m1-3h0m1-2h0m0 4h0m0 3h0m0 2h0m1-9h0m0 6h0m0 3h0m1-10h0m0 1h0m2 3h0m0 4h0m1-6h0m1-2h0m1 0h0m0 10h0m1-8h0m0 7h0m1-8h0m0 4h0m1-1h0m1 2h0m0 1h0m1-2h0m1 4h0m1 1h0m2 0h0m2-6h0m0 6h0m2 0h0m1-1h0m2-7h0m0 6h0m1-4h0m0 3h0m3-6h0m0 1h0m3 6h0m1-3h0m0 1h0m2-2h0m0 4h0m2 1h0m1-5h0m0 2h0m0 3h0m1-9h0m0 7h0m2-6h0m0 1h0m1 6h0m0 1h0m1 0h0m1 0h0m1-4h0m0 4h0m1-1h0m1 1h0m1-9h0m0 5h0m0 3h0m2 0h0m1-4h0m0 1h0m2 2h0m1-1h0m1-2h0m0 1h0m1 1h0m0 2h0m2 2h0m5-1h0m4-2h0m1 0h0m1 0h0m2-7h0m2 7h0m0 2h0m2-4h0m1-4h0m0 3h0m2 0h0m4 5h0m1-5h0m1 0h0m0 3h0m1-6h0m0 7h0m3-7h0m1 0h0m1 0h0m2 4h0m5-5h0m1 6h0m0 4h0m1-2h0m1-7h0m1 6h0m1-7h0m3 5h0m0 5h0m2-9h0m3 1h0m7 7h0m4-3h0m1 1h0m5 3h0m4-2h0m8-1h0m1-4h0m18 5h0m11 1h0m2-3h0m2-1h0m8-5h0m2-1h0m2 4h0m4 5h0m9 1h0m11-5h0m35 5h0m2-1h0m17-9h0m7 5h0m26-5h0m-41 18h0m-14 0h0m-50 5h0m-5-8h0m-1 3h0m-11 2h0m-3-4h0m-2 0h0m-11 2h0m-4-3h0m-1-1h0m-14-2h0m0 2h0m0 6h0m-8 2h0m-4-2h0m-2-7h0m-1 3h0m-5 6h0m-1-3h0m-7 3h0m-3 1h0m-1-8h0m0 8h0m-3-4h0m0 1h0m0 1h0m0 1h0m-2-7h0m-2 3h0m-1-3h0m-1 7h0m0 1h0m-1-11h0m-2 11h0m-3-4h0m-1-7h0m-1 0h0m-2 7h0m-1-6h0m0 5h0m0 1h0m-4-3h0m-9 0h0m0 6h0m-1-10h0m-1 2h0m0 8h0m-1-7h0m0 6h0m0 1h0m-1-6h0m-1 3h0m-3-2h0m0 4h0m-1-5h0m0 4h0m-1-1h0m0 2h0m-1-8h0m-2 2h0m0 4h0m0 3h0m-1-10h0m-1 4h0m-1 1h0m0 2h0m-3 2h0m-2-8h0m0 5h0m-1 4h0m-1-2h0m-1 0h0m-1-4h0m-1 7h0m-1-8h0m0 3h0m-1-1h0m-1-1h0m-1 7h0m-1-6h0m-1 5h0m-1-10h0m0 3h0m-1 5h0m-1-1h0m-1 4h0m-1-2h0m-1-6h0m-1 7h0m-2-9h0m0 2h0m-2 1h0m-1-4h0m-1 2h0m0 4h0m-1-6h0m0 2h0m0 2h0m-1 2h0m0 3h0m-1-3h0m0 3h0m-4-4h0m-2-2h0m0 5h0m-1 3h0m-1-8h0m0 3h0m0 4h0m-3-10h0m0 9h0m-1-7h0m0 3h0m-1-2h0m-1-2h0m0 6h0m-1-5h0m-1 8h0m-1-3h0m-2-1h0m-1 3h0m-1-4h0m0 2h0m0 1h0m-2 3h0m-2-6h0m0 1h0m0 3h0m-5-8h0m-2-1h0m0 5h0m0 6h0m-1-10h0m-4 2h0m-1 0h0m-1 2h0m0 4h0m-1-5h0m-1-3h0m0 7h0m-2-5h0m-1-3h0m0 9h0m-4-5h0m0 6h0m-3-5h0m0 1h0m-1-6h0m-5 5h0m-3-2h0m-1-1h0m0 1h0m-4 0h0m-2 0h0m-3 0h0m-2-2h0m-2 0h0m-8 0h0m-16 3h0m-19 1h0m-11-3h0m-18 0h0m-35-1h0m-14 2h0m-47 6h0m-24 7h0m38-4h0m84 10h0m26-10h0m3 10h0m8-7h0m11 4h0m9-1h0m13-5h0m2 3h0m1 7h0m1-11h0m5 9h0m1 2h0m3-7h0m2 1h0m1-3h0m0 8h0m2 0h0m1-8h0m1 6h0m1-5h0m0 1h0m5-1h0m1-1h0m0 7h0m2-5h0m2 5h0m1-3h0m0 1h0m0 3h0m1-7h0m0 5h0m3-4h0m2-4h0m3 4h0m1-1h0m1 2h0m0 6h0m1-9h0m2 0h0m0 9h0m2-7h0m0 1h0m3-4h0m1 6h0m1-3h0m1-4h0m1 8h0m1-8h0m1 2h0m0 4h0m1 3h0m3-1h0m1-4h0m0 1h0m0 5h0m1-8h0m0 1h0m0 4h0m2-5h0m0 7h0m1-9h0m0 1h0m0 5h0m1-5h0m2 0h0m1 7h0m1-5h0m0 5h0m1-7h0m0 7h0m1 3h0m1-11h0m0 3h0m0 7h0m3-3h0m0 1h0m1-5h0m1 4h0m1 1h0m1-5h0m0 6h0m1-8h0m0 7h0m0 1h0m1-6h0m0 2h0m1 6h0m2-5h0m0 1h0m0 2h0m0 1h0m1 1h0m1-7h0m1 3h0m1-7h0m0 11h0m2-5h0m3-2h0m1 7h0m1-7h0m2-1h0m1-3h0m0 8h0m1-5h0m0 6h0m2-9h0m0 3h0m1-2h0m0 6h0m1-3h0m0 5h0m0 2h0m4-5h0m3 0h0m1-6h0m0 1h0m0 3h0m0 1h0m0 2h0m3 4h0m3-9h0m0 2h0m0 1h0m0 1h0m0 1h0m1-3h0m2 5h0m1-7h0m1 3h0m3 0h0m0 4h0m1-4h0m2-5h0m1 8h0m5-2h0m2 3h0m2-9h0m2 6h0m0 1h0m2-7h0m5 3h0m3-1h0m3 3h0m2 4h0m4-4h0m8 1h0m1 0h0m3 3h0m0 1h0m2-2h0m7-2h0m13-5h0m2 6h0m8-7h0m5 7h0m35-1h0m21-6h0m4 1h0m59-1h0m-56 17h0m-1-5h0m-20 5h0m-16 2h0m-13-2h0m-8-5h0m-12 7h0m-5-7h0m-9 2h0m-12 5h0m-1-5h0m-2 2h0m-3-1h0m-2 6h0m-1-6h0m-12 1h0m-1 3h0m-1-3h0m-4-3h0m-1 5h0m0 3h0m-2-7h0m-1-2h0m-3 11h0m-1-3h0m-1-7h0m-1 0h0m-5 6h0m0 1h0m-4-6h0m-1 0h0m0 8h0m-3-3h0m-1-6h0m-1 1h0m0 1h0m-1 1h0m0 1h0m-1 5h0m-1-8h0m0 5h0m0 3h0m-1-3h0m0 2h0m-2-9h0m0 7h0m-1-5h0m-1 9h0m-1-10h0m0 4h0m0 3h0m-1-3h0m0 3h0m-2-4h0m0 6h0m-1-2h0m0 1h0m0 2h0m-1-9h0m0 5h0m-2-3h0m-2 0h0m0 5h0m-2-9h0m0 3h0m0 7h0m-1-9h0m0 8h0m-1-7h0m0 6h0m-3-7h0m-3 1h0m-1-2h0m0 3h0m0 1h0m0 1h0m0 6h0m-1-4h0m-1-7h0m0 7h0m0 2h0m-2-7h0m0 6h0m-1-4h0m0 5h0m0 1h0m-1-8h0m0 7h0m0 2h0m-1-11h0m-5 3h0m0 5h0m-1 2h0m-1-10h0m0 1h0m0 1h0m-1 3h0m0 1h0m-1-5h0m0 2h0m-1-3h0m0 2h0m0 7h0m0 2h0m-1-3h0m-2-7h0m-1 10h0m-1-10h0m0 8h0m-2 2h0m-1-11h0m0 3h0m0 7h0m-1-10h0m0 6h0m-2-4h0m0 1h0m0 5h0m-1-7h0m0 1h0m0 1h0m0 7h0m-1-9h0m0 2h0m-1 7h0m-1-2h0m-4-4h0m0 7h0m-1-8h0m-1 0h0m-1 4h0m0 2h0m-1-4h0m0 6h0m-3-9h0m-1 0h0m-1 8h0m-1-3h0m0 4h0m-1-10h0m-1 1h0m-1 5h0m-2-2h0m0 2h0m-1-7h0m-2 3h0m-1-2h0m-2 1h0m-1 1h0m-1 2h0m-2 6h0m-2-3h0m0 2h0m-1-2h0m0 1h0m-1-7h0m0 3h0m-4 6h0m-1-11h0m0 2h0m-3 0h0m0 5h0m-3 1h0m0 2h0m-1-9h0m-3 10h0m-7-10h0m-4 1h0m-2 3h0m-3 0h0m-5-5h0m-2 5h0m-4 5h0m-3-10h0m-6 11h0m-3-3h0m-4-4h0m-7-4h0m-38 0h0m-19 7h0m-13 3h0m-9-3h0m-78-7h0m-6 1h0m28 15h0m26 6h0m18 1h0m3-6h0m15 1h0m63-1h0m21 2h0m0 2h0m5-8h0m2 9h0m6-2h0m4-7h0m2 1h0m0 5h0m9-7h0m4 10h0m2-2h0m4-3h0m2-3h0m2 5h0m1 4h0m2-10h0m2 8h0m1-8h0m1 8h0m1-7h0m1 1h0m0 3h0m0 2h0m3 3h0m3-8h0m1 6h0m3-7h0m0 6h0m1 0h0m0 3h0m1 0h0m1-8h0m0 2h0m1 4h0m3-6h0m0 1h0m0 1h0m1 6h0m1-8h0m0 3h0m0 1h0m1-2h0m1-4h0m0 2h0m0 2h0m4-2h0m1-2h0m1-1h0m1 7h0m1-6h0m0 5h0m1 3h0m0 1h0m0 1h0m1-10h0m0 2h0m0 2h0m0 6h0m1-10h0m0 4h0m2-5h0m1 0h0m0 1h0m0 9h0m1-10h0m0 2h0m0 9h0m3-10h0m0 2h0m0 5h0m2-7h0m1 2h0m0 3h0m2-5h0m0 10h0m1-11h0m0 8h0m1-3h0m0 2h0m0 3h0m2 0h0m1-9h0m1 0h0m0 5h0m0 5h0m6-11h0m0 2h0m0 1h0m0 6h0m1-6h0m1 8h0m1-5h0m0 3h0m1-9h0m1 6h0m1-5h0m0 7h0m0 1h0m1-7h0m1 9h0m1-1h0m1-9h0m1 1h0m0 3h0m1-4h0m0 2h0m0 2h0m1 1h0m0 2h0m1-8h0m0 1h0m1 0h0m0 2h0m0 3h0m1-6h0m0 2h0m1 5h0m1 4h0m1-3h0m0 3h0m1-9h0m0 4h0m1-1h0m1-5h0m0 3h0m3 3h0m1-6h0m0 5h0m0 6h0m3-11h0m3 5h0m1 0h0m1-1h0m1-3h0m0 4h0m0 5h0m1-7h0m1-1h0m0 3h0m1-5h0m0 1h0m0 4h0m1 0h0m0 6h0m1-7h0m1-4h0m2 8h0m1 3h0m1-3h0m2-7h0m0 5h0m0 4h0m7-3h0m1 1h0m0 1h0m1-4h0m2 0h0m0 2h0m0 4h0m1-4h0m0 1h0m2-1h0m3 3h0m2-2h0m2-3h0m15-3h0m20 1h0m36 7h0m16-5h0m11 2h0m6-3h0m18 3h0m7-4h0m11 7h0m-15 3h0m-12 4h0m-3 4h0m-7-4h0m-7 6h0m-25-2h0m-6-8h0m-12 10h0m-1 0h0m-6-10h0m-6 0h0m0 2h0m-5 3h0m0 3h0m-8-5h0m0 1h0m-6 5h0m-3-1h0m-6 0h0m-1-4h0m0 2h0m-1-4h0m-7 0h0m-1 4h0m-1-3h0m-2 1h0m0 1h0m-1-4h0m-2-1h0m-6 7h0m-1 0h0m-2 0h0m0 1h0m-2-5h0m0 7h0m-1-9h0m0 3h0m0 1h0m-2-6h0m0 3h0m0 5h0m-1-1h0m-1-5h0m0 2h0m0 2h0m-1 0h0m0 1h0m-1 3h0m-1-10h0m0 1h0m0 8h0m0 2h0m-1-9h0m0 8h0m-1-5h0m-4-4h0m0 10h0m-1-6h0m0 1h0m-2-4h0m-1 3h0m0 1h0m-1-6h0m-1 3h0m-1 2h0m-1 2h0m-1-4h0m0 7h0m-1 1h0m-1-11h0m0 3h0m0 7h0m-1 0h0m-1-2h0m-1-7h0m0 1h0m0 3h0m0 5h0m-1-7h0m0 7h0m-1-10h0m0 5h0m0 4h0m0 1h0m-2-4h0m0 5h0m-1-9h0m0 4h0m0 3h0m-1-2h0m0 1h0m-1-1h0m-1-2h0m0 4h0m-3-9h0m0 2h0m0 3h0m0 5h0m-2-6h0m0 4h0m-1 3h0m-1-11h0m0 5h0m-1 1h0m0 5h0m-1-7h0m0 3h0m0 2h0m-1-4h0m0 2h0m0 4h0m-1-4h0m-1-5h0m0 7h0m-1-6h0m-1 6h0m-1-9h0m0 2h0m0 3h0m0 6h0m-1-9h0m0 9h0m-1-8h0m0 4h0m-1-7h0m0 7h0m-1-3h0m0 1h0m0 2h0m0 1h0m-1-8h0m0 2h0m0 1h0m0 6h0m0 1h0m-1-4h0m-1-6h0m0 1h0m0 1h0m0 4h0m-1 2h0m-1-7h0m0 5h0m-2-4h0m0 5h0m0 4h0m-1-8h0m0 1h0m0 2h0m0 2h0m0 3h0m-2-10h0m0 2h0m0 3h0m-1-6h0m0 2h0m0 4h0m-1-5h0m0 1h0m0 1h0m0 5h0m-1-4h0m-1 2h0m-1-6h0m0 1h0m0 8h0m-2-7h0m0 3h0m0 4h0m-1-5h0m0 1h0m0 3h0m0 3h0m-1-9h0m0 6h0m-1-8h0m0 1h0m-1 0h0m0 2h0m0 4h0m-1 3h0m-1-8h0m0 6h0m0 1h0m0 1h0m-4-8h0m-1 0h0m0 3h0m-1-3h0m0 1h0m0 1h0m-2-4h0m0 4h0m-1-3h0m0 5h0m0 3h0m-1-7h0m0 5h0m-2-1h0m0 4h0m-2 0h0m-2-9h0m-1 10h0m-1-11h0m-1 6h0m-1-6h0m0 4h0m-1-4h0m0 1h0m-2 0h0m0 5h0m-1 5h0m-2-6h0m-1 5h0m-2-2h0m-1-2h0m-1-1h0m-1 6h0m-2 0h0m-2-4h0m-1-3h0m-1 0h0m0 2h0m-3-2h0m-7 3h0m-1-1h0m-1 1h0m-1 2h0m-1 0h0m-3 1h0m-3-4h0m-13 3h0m-10 2h0m-4-2h0m-19-6h0m-123 0h0m-23-3h0m10 21h0m29-2h0m10-1h0m55-2h0m5 3h0m30-3h0m9 4h0m25-8h0m2 3h0m1 5h0m12-3h0m2 2h0m1 2h0m10-5h0m2 6h0m1-2h0m1-3h0m2 1h0m6 0h0m2-5h0m0 5h0m1 0h0m4-6h0m0 7h0m1-7h0m2 3h0m1 1h0m0 2h0m1-5h0m0 4h0m0 1h0m2-5h0m0 1h0m0 7h0m0 1h0m1-8h0m0 6h0m0 2h0m2-9h0m0 10h0m2-7h0m3 0h0m0 3h0m0 3h0m1-8h0m1 4h0m0 1h0m0 4h0m3-5h0m1 2h0m2 3h0m1-9h0m0 2h0m0 5h0m1-1h0m1-5h0m0 2h0m0 1h0m0 1h0m0 1h0m2-8h0m0 10h0m1-9h0m0 6h0m1-5h0m0 3h0m0 6h0m1-9h0m0 4h0m0 5h0m1-10h0m0 4h0m0 6h0m1-10h0m1 2h0m1 0h0m0 2h0m0 2h0m0 3h0m0 1h0m1-6h0m0 1h0m0 2h0m0 1h0m0 1h0m0 1h0m1-8h0m1-2h0m0 7h0m1-4h0m0 2h0m1-4h0m0 9h0m1-11h0m0 2h0m0 2h0m0 6h0m1-10h0m0 7h0m1-7h0m0 4h0m1-1h0m0 5h0m0 3h0m1-2h0m0 2h0m1-10h0m0 6h0m0 1h0m0 3h0m1-11h0m0 5h0m0 6h0m1-6h0m0 5h0m1-10h0m0 6h0m0 3h0m0 2h0m1-11h0m0 3h0m0 7h0m0 1h0m1-10h0m0 7h0m2 0h0m0 1h0m1-8h0m0 1h0m0 2h0m1-1h0m1-2h0m0 4h0m1-5h0m0 5h0m1-2h0m0 4h0m0 2h0m1-4h0m0 1h0m0 2h0m0 3h0m1-10h0m1 8h0m1-6h0m0 6h0m0 2h0m1-3h0m0 1h0m1-9h0m1 6h0m1-2h0m0 7h0m2-10h0m0 8h0m0 1h0m1-9h0m0 1h0m0 4h0m1 5h0m1-10h0m0 1h0m0 2h0m0 3h0m0 1h0m0 1h0m1-3h0m0 1h0m1-2h0m0 3h0m0 1h0m1-5h0m0 1h0m2-1h0m1 6h0m1-8h0m0 2h0m1 0h0m0 4h0m0 1h0m1-6h0m1-3h0m0 9h0m0 1h0m2-3h0m1-4h0m0 3h0m0 5h0m1-8h0m0 1h0m2 4h0m2-7h0m2 0h0m0 2h0m0 1h0m1 2h0m1-2h0m0 7h0m1-9h0m0 2h0m0 3h0m1 0h0m1-6h0m0 5h0m0 3h0m0 1h0m1-9h0m0 7h0m1-3h0m1-4h0m1 7h0m2-8h0m0 11h0m1-5h0m1-5h0m0 9h0m1-9h0m0 4h0m2-4h0m2 1h0m1 7h0m4-1h0m1-3h0m2-5h0m0 5h0m1 6h0m1-1h0m1-1h0m2-9h0m1 3h0m0 2h0m0 5h0m1 1h0m2-6h0m2-2h0m5 2h0m1 5h0m4-10h0m4 5h0m28 0h0m9 0h0m5-1h0m10-2h0m2 6h0m39-7h0m8 8h0m2 0h0m33-9h0m5 1h0m34 20h0m-44 2h0m-25-4h0m-58 1h0m-2-7h0m-15 7h0m-24-2h0m-3 5h0m-15-1h0m-2-9h0m0 10h0m-2-5h0m-2-6h0m0 2h0m-6 4h0m-1 3h0m-4-1h0m-2-8h0m-3 8h0m0 1h0m-1-4h0m-1-5h0m0 7h0m0 2h0m-1-4h0m-3-2h0m0 8h0m-1-2h0m-1-8h0m-1 5h0m-1 0h0m-1-4h0m0 6h0m-1-1h0m0 2h0m-1-3h0m-1-3h0m0 3h0m-1-3h0m0 1h0m-1 7h0m-1-11h0m-2 11h0m-1 0h0m-1-6h0m-1-4h0m0 4h0m0 5h0m-1-4h0m-1 0h0m-1-1h0m0 2h0m-2 3h0m-1-8h0m0 5h0m0 1h0m-1-6h0m-1 1h0m-1 2h0m0 3h0m-1-8h0m0 1h0m-1-1h0m0 2h0m0 5h0m-2-4h0m-1 1h0m0 1h0m0 1h0m0 4h0m-1-9h0m0 4h0m0 5h0m-2-6h0m-1-1h0m0 1h0m-1-1h0m0 4h0m-1-7h0m0 2h0m0 7h0m-2-5h0m0 1h0m0 4h0m-1-7h0m0 3h0m-1 4h0m0 2h0m-1-9h0m0 3h0m0 3h0m0 2h0m-1-10h0m-2 1h0m0 1h0m0 1h0m0 2h0m0 4h0m-1 1h0m-1-8h0m-1-1h0m-1 2h0m-2 4h0m0 1h0m-1-5h0m0 8h0m-1-7h0m0 2h0m-1-2h0m0 2h0m0 1h0m0 1h0m0 2h0m-1-6h0m0 1h0m0 1h0m-1 5h0m-1-9h0m0 3h0m-1-4h0m0 5h0m0 2h0m-2-8h0m0 6h0m-1-4h0m0 3h0m0 1h0m0 1h0m-1-1h0m0 3h0m-1-9h0m0 4h0m0 2h0m-1-5h0m-2 0h0m0 1h0m0 1h0m0 7h0m-1-2h0m0 1h0m0 1h0m-2-6h0m0 1h0m0 6h0m-1-10h0m0 9h0m-1-10h0m0 1h0m-2 0h0m0 3h0m-1-1h0m-1-3h0m-1 1h0m0 4h0m-1 0h0m0 2h0m0 4h0m-1-8h0m0 4h0m0 3h0m0 1h0m-1-10h0m0 9h0m-1-5h0m-1 2h0m-1 1h0m-1-3h0m-1 1h0m-1-4h0m0 6h0m0 1h0m0 1h0m-1 1h0m-1-8h0m-1 2h0m0 2h0m-1-2h0m-2-4h0m-1 0h0m0 5h0m-1 1h0m0 2h0m0 2h0m-1-11h0m0 8h0m-3-1h0m0 2h0m-1-6h0m0 2h0m-1-4h0m0 5h0m0 3h0m-4 2h0m-1-5h0m0 1h0m0 3h0m0 1h0m-1 0h0m-2-10h0m0 6h0m-1 3h0m-2-5h0m0 5h0m-3-1h0m-1-2h0m0 4h0m-1-11h0m0 4h0m0 4h0m-2-8h0m-1 7h0m-1 1h0m-1-3h0m-2-1h0m0 2h0m-2 3h0m-1-9h0m-1 5h0m-3 5h0m-3-3h0m-1-5h0m0 6h0m-3-2h0m-3 0h0m-1 3h0m-10-2h0m-5 3h0m-8 0h0m0 1h0m-12-3h0m-15 3h0m-21-4h0m-33-5h0m-48 5h0m-17 4h0m-4-2h0m-4-6h0m79 11h0m13-2h0m7 2h0m20 9h0m6 0h0m45-6h0m7 2h0m1-3h0m1 7h0m1-11h0m1 11h0m1-7h0m2 1h0m1 4h0m3-1h0m1-3h0m2 0h0m1-1h0m0 1h0m1 2h0m1-7h0m4 2h0m1 7h0m2-3h0m6 0h0m2 0h0m0 2h0m1-1h0m0 4h0m1 0h0m1-10h0m0 9h0m1-8h0m0 2h0m1-4h0m0 8h0m1-5h0m0 1h0m0 7h0m1-8h0m2 4h0m0 4h0m1-1h0m1-9h0m0 5h0m0 5h0m2-6h0m0 5h0m3-10h0m0 5h0m2-2h0m0 1h0m0 6h0m1-5h0m0 1h0m0 2h0m1-6h0m0 2h0m0 7h0m1-11h0m0 3h0m1 0h0m0 3h0m0 1h0m2-5h0m0 9h0m1-6h0m1-2h0m0 1h0m1 2h0m1 1h0m0 1h0m0 2h0m0 1h0m1-11h0m0 6h0m1-6h0m0 2h0m0 1h0m1-1h0m0 4h0m0 2h0m2-4h0m0 6h0m1-10h0m0 6h0m0 5h0m1-7h0m0 5h0m1-6h0m1 6h0m1-8h0m1 3h0m0 2h0m0 3h0m1-8h0m0 4h0m0 1h0m1-6h0m0 1h0m0 5h0m0 1h0m0 3h0m1-3h0m1 1h0m1-4h0m0 4h0m0 1h0m1-5h0m0 3h0m0 4h0m1-7h0m0 6h0m0 1h0m1-8h0m0 2h0m0 1h0m1-4h0m0 1h0m0 2h0m0 5h0m1-3h0m0 2h0m1-9h0m0 2h0m0 1h0m0 8h0m1-11h0m1 4h0m0 6h0m1-6h0m0 5h0m1-9h0m0 5h0m0 1h0m0 1h0m0 3h0m0 1h0m1-11h0m0 8h0m1-4h0m1 2h0m0 2h0m0 3h0m1-11h0m0 2h0m0 1h0m1 7h0m1-7h0m2-1h0m0 4h0m0 2h0m1-7h0m0 1h0m0 1h0m0 2h0m0 6h0m1-4h0m0 2h0m1-2h0m0 1h0m1-8h0m0 5h0m1 3h0m1-7h0m0 2h0m1-3h0m0 5h0m0 1h0m2-3h0m0 1h0m0 2h0m1-5h0m0 2h0m0 8h0m1-10h0m0 2h0m0 1h0m0 3h0m1-4h0m1-2h0m0 4h0m0 1h0m1-3h0m0 4h0m0 1h0m2-8h0m0 1h0m0 1h0m2 4h0m1-5h0m1-1h0m0 1h0m0 5h0m1-6h0m0 6h0m0 4h0m1-5h0m0 5h0m1-10h0m1 10h0m1-7h0m1 7h0m1 0h0m1-8h0m0 5h0m1-5h0m0 3h0m0 6h0m2-10h0m0 9h0m1-3h0m1-5h0m0 1h0m1 4h0m0 1h0m1-7h0m0 2h0m1 2h0m0 4h0m1-2h0m0 4h0m1-5h0m3-3h0m0 2h0m0 1h0m2-3h0m0 3h0m1-1h0m1 2h0m2-7h0m1 10h0m1-6h0m0 3h0m3-6h0m0 5h0m0 3h0m1 2h0m2-8h0m0 2h0m0 4h0m1-1h0m0 3h0m1-5h0m1-1h0m1 1h0m2-1h0m2-5h0m1 2h0m3 2h0m2-4h0m6 0h0m0 11h0m5-6h0m3 4h0m7-1h0m2-8h0m2 3h0m6-1h0m11 3h0m10 2h0m2 1h0m14 3h0m53-8h0m12 3h0m11 3h0m7 1h0m13 0h0m-14 9h0m-32-1h0m-68 1h0m-34-3h0m-1 1h0m0 1h0m-3-6h0m0 2h0m-7 4h0m-1-4h0m-3-2h0m-4 6h0m-2-2h0m-3-1h0m0 2h0m-2 2h0m-1-4h0m-4 2h0m-1-1h0m0 3h0m-1-3h0m-4 1h0m0 1h0m-5-5h0m0 1h0m0 2h0m-1 3h0m-3-6h0m-1 1h0m-1 5h0m-1-3h0m0 1h0m-2-4h0m0 1h0m-3 3h0m-1-5h0m-2 5h0m-1-3h0m-1 1h0m0 4h0m-1-1h0m-1-3h0m0 1h0m-1 0h0m0 2h0m-1-3h0m0 2h0m-2-4h0m0 1h0m0 3h0m0 2h0m-3-7h0m0 1h0m0 2h0m0 3h0m-1-4h0m0 5h0m-1-6h0m-3 5h0m-1-6h0m0 7h0m-1-6h0m0 5h0m0 1h0m-1-7h0m0 5h0m-1-3h0m0 2h0m-1 0h0m-1-2h0m0 2h0m-2 1h0m0 1h0m-2-4h0m0 1h0m0 4h0m-1 0h0m-1-6h0m0 3h0m0 1h0m-2-4h0m0 1h0m0 4h0m0 1h0m-1-4h0m0 1h0m-1 2h0m0 1h0m-2-6h0m0 1h0m0 1h0m0 3h0m-2-3h0m-1-2h0m0 5h0m-2 1h0m-1-6h0m0 4h0m0 2h0m-1-6h0m0 4h0m-1-3h0m-1-1h0m0 3h0m-1-1h0m0 2h0m-1-2h0m-2 1h0m0 2h0m0 1h0m-1 0h0m-1-7h0m-1 4h0m-3-4h0m0 3h0m0 4h0m-2-2h0m-1-2h0m0 1h0m0 3h0m-2-2h0m-1-5h0m-1 0h0m-1 2h0m-1-1h0m-1 5h0m0 1h0m-1-4h0m-1-3h0m-3 6h0m-1-3h0m-1 2h0m0 1h0m-1-1h0m-1-5h0m0 1h0m0 6h0m-1-5h0m0 2h0m-3-3h0m0 2h0m0 4h0m-1-7h0m-1 0h0m0 5h0m-1 2h0m-1-5h0m-2-2h0m-2 7h0m-3-7h0m0 3h0m0 3h0m-1 0h0m-6-5h0m0 3h0m-1 2h0m-1-4h0m0 3h0m-1 0h0m-1-2h0m-8-1h0m-3 2h0m-2 3h0m-7-7h0m-2 7h0m-1-7h0m-4 4h0m-22 0h0m-6-2h0" style="fill:none;stroke:#808080;stroke-width:5.30;stroke-linecap:round"/></g>
<g clip-path="url(#p6013d5e135)"><path transform="scale(0.4)" d="M1142 584h0m6 1h0m0 2h0m10-6h0m11 5h0m2 8h0m-2 5h0m-1-5h0m-1-3h0m0 2h0m-1 4h0m-1-1h0m0 3h0m-2-3h0m-1-3h0m-1 5h0m-3-4h0m0 4h0m-1-5h0m-2-5h0m-1 10h0m-1-1h0m-1-6h0m-2 2h0m-1-1h0m0 6h0m-1-8h0m0 2h0m-1 1h0m0 6h0m-1-11h0m-1 5h0m-2 1h0m-2-5h0m0 4h0m-1 4h0m-3-3h0m-4 4h0m-2 9h0m6-3h0m1-1h0m4 4h0m1 4h0m1-5h0m1 2h0m2-8h0m1 4h0m1-3h0m0 2h0m0 3h0m1 5h0m5-10h0m2 6h0m2-6h0m0 3h0m1 6h0m2 0h0m1-4h0m3-5h0m2-1h0m1 10h0m2-10h0m1 3h0m2 3h0m0 11h0m-1-4h0m-14-1h0m-9 1h0m-5 9h0m-5-8h0m-16 20h0m16-3h0m6-6h0m2 2h0m0 8h0m1-3h0m2 0h0m4-7h0m0 1h0m0 4h0m2-6h0m0 8h0m5-6h0m10 15h0m-7-5h0m-4 6h0m-1-5h0m-7 5h0m-1-3h0m-1 1h0m0 6h0m0 1h0m-2-7h0m-1 3h0m-1-6h0m0 2h0m-1-1h0m-1 0h0m-1 8h0m0 1h0m-1-2h0m-1-1h0m0 2h0m-1-5h0m-3-1h0m0 3h0m-4 1h0m-1-7h0m-1 4h0m0 4h0m-4-9h0m-1 4h0m-4 0h0m-2 5h0m-1-4h0m-1 1h0m0 2h0m-1-3h0m-2 2h0m-3-4h0m-3 15h0m2 4h0m1 0h0m1 1h0m2-9h0m1 1h0m4 6h0m0 1h0m1-2h0m2 1h0m1-8h0m0 3h0m4-4h0m0 7h0m1 2h0m4-2h0m2 1h0m1-2h0m1 4h0m1-7h0m1 5h0m3 3h0m1-4h0m0 4h0m1-8h0m0 3h0m0 1h0m0 4h0m3-11h0m0 2h0m1 5h0m1-1h0m2 0h0m0 2h0m1-4h0m1 5h0m2-5h0m2 7h0m1-2h0m13-8h0m1 7h0m-7 6h0m-5 4h0m-1-4h0m-1-1h0m0 5h0m-4-2h0m-3-2h0m0 8h0m-1-1h0m-1-6h0m0 5h0m-3-2h0m-1-4h0m-2 5h0m-1 2h0m0 2h0m-1 0h0m-1-7h0m0 3h0m-2-4h0m0 1h0m0 7h0m-1-5h0m0 1h0m-2-5h0m-2 9h0m-1-3h0m0 1h0m-17-5h0m-1-3h0m5 16h0m10-5h0m5 5h0m2 3h0m1-4h0m0 6h0m1-3h0m0 1h0m2 3h0m2-10h0m0 6h0m0 3h0m1-9h0m0 3h0m0 7h0m2-9h0m0 5h0m2 0h0m2 4h0m1 0h0m1-10h0m1 2h0m1 2h0m1-3h0m1 6h0m1-6h0m1 0h0m1 8h0m1-3h0m4 2h0m2 1h0m1-3h0m4-1h0m3-2h0m-15 12h0m-2-3h0m-1-1h0m0 1h0m-1 4h0m-3-5h0m0 2h0m-1 3h0m-3-3h0m0 1h0m-1 1h0m-2 1h0m-1-2h0m0 1h0m0 1h0m-2 0h0m-1-5h0m-3 0h0m0 1h0m-1 4h0m-2-5h0" style="fill:none;stroke:#00f;stroke-width:8.50;stroke-linecap:round"/></g>
<g id="matplotlib.axis_3">
<g id="xtick_6">
<g id="line2d_12">
<g>
<use href="#m7c25c535dc" x="368.852" y="276.64" style="stroke: #000000; stroke-width: 0.8"/>
</g>
</g>
<g id="text_15">
<text style="font-size: 10px; font-family: 'DejaVu Sans'; text-anchor: middle" x="368.852" y="291.238438" transform="rotate(-0 368.852 291.238438)">−4</text>
</g>
</g>
<g id="xtick_7">
<g id="line2d_13">
<g>
<use href="#m7c25c535dc" x="414.236" y="276.64" style="stroke: #000000; stroke-width: 0.8"/>
</g>
</g>
<g id="text_16">
<text style="font-size: 10px; font-family: 'DejaVu Sans'; text-anchor: middle" x="414.236" y="291.238438" transform="rotate(-0 414.236 291.238438)">−2</text>
</g>
</g>
<g id="xtick_8">
<g id="line2d_14">
<g>
<use href="#m7c25c535dc" x="459.62" y="276.64" style="stroke: #000000; stroke-width: 0.8"/>
</g>
</g>
<g id="text_17">
<text style="font-size: 10px; font-family: 'DejaVu Sans'; text-anchor: middle" x="459.62" y="291.238438" transform="rotate(-0 459.62 291.238438)">0</text>
</g>
</g>
<g id="xtick_9">
<g id="line2d_15">
<g>
<use href="#m7c25c535dc" x="505.004" y="276.64" style="stroke: #000000; stroke-width: 0.8"/>
</g>
</g>
<g id="text_18">
<text style="font-size: 10px; font-family: 'DejaVu Sans'; text-anchor: middle" x="505.004" y="291.238438" transform="rotate(-0 505.004 291.238438)">2</text>
</g>
</g>
<g id="xtick_10">
<g id="line2d_16">
<g>
<use href="#m7c25c535dc" x="550.388" y="276.64" style="stroke: #000000; stroke-width: 0.8"/>
</g>
</g>
<g id="text_19">
<text style="font-size: 10px; font-family: 'DejaVu Sans'; text-anchor: middle" x="550.388" y="291.238438" transform="rotate(-0 550.388 291.238438)">4</text>
</g>
</g>
<g id="text_20">
<!-- $L_z$ [$10^3$ kpc km s$^{-1}$] -->
<g transform="translate(388.5455 309.495125)">
<text>
<tspan x="0" y="-0.459375" style="font-style: oblique; font-size: 14.7px; font-family: 'DejaVu Sans'">L</tspan>
<tspan x="8.217651" y="2.001562" style="font-style: oblique; font-size: 10.29px; font-family: 'DejaVu Sans'">z</tspan>
<tspan x="14.047424" y="-0.459375" style="font-size: 14.7px; font-family: 'DejaVu Sans'"> </tspan>
<tspan x="18.736023" y="-0.459375" style="font-size: 14.7px; font-family: 'DejaVu Sans'">[</tspan>
<tspan x="24.49054" y="-0.459375" style="font-size: 14.7px; font-family: 'DejaVu Sans'">1</tspan>
<tspan x="33.874939" y="-0.459375" style="font-size: 14.7px; font-family: 'DejaVu Sans'">0</tspan>
<tspan x="50.382129" y="-0.459375" style="font-size: 14.7px; font-family: 'DejaVu Sans'"> </tspan>
<tspan x="55.070728" y="-0.459375" style="font-size: 14.7px; font-family: 'DejaVu Sans'">k</tspan>
<tspan x="63.612476" y="-0.459375" style="font-size: 14.7px; font-family: 'DejaVu Sans'">p</tspan>
<tspan x="72.975269" y="-0.459375" style="font-size: 14.7px; font-family: 'DejaVu Sans'">c</tspan>
<tspan x="81.084888" y="-0.459375" style="font-size: 14.7px; font-family: 'DejaVu Sans'"> </tspan>
<tspan x="85.773486" y="-0.459375" style="font-size: 14.7px; font-family: 'DejaVu Sans'">k</tspan>
<tspan x="94.315234" y="-0.459375" style="font-size: 14.7px; font-family: 'DejaVu Sans'">m</tspan>
<tspan x="108.683521" y="-0.459375" style="font-size: 14.7px; font-family: 'DejaVu Sans'"> </tspan>
<tspan x="113.372119" y="-0.459375" style="font-size: 14.7px; font-family: 'DejaVu Sans'">s</tspan>
<tspan x="136.830823" y="-0.459375" style="font-size: 14.7px; font-family: 'DejaVu Sans'">]</tspan>
<tspan x="43.402893" y="-6.201563" style="font-size: 10.29px; font-family: 'DejaVu Sans'">3</tspan>
<tspan x="121.200366" y="-6.201563" style="font-size: 10.29px; font-family: 'DejaVu Sans'">−</tspan>
<tspan x="129.851587" y="-6.201563" style="font-size: 10.29px; font-family: 'DejaVu Sans'">1</tspan>
</text>
</g>
</g>
</g>
<g id="matplotlib.axis_4">
<g id="ytick_7">
<g id="line2d_17">
<g>
<use href="#mb258c49b38" x="346.16" y="276.64" style="stroke: #000000; stroke-width: 0.8"/>
</g>
</g>
<g id="text_21">
<text style="font-size: 10px; font-family: 'DejaVu Sans'; text-anchor: end" x="339.16" y="280.439219" transform="rotate(-0 339.16 280.439219)">0</text>
</g>
</g>
<g id="ytick_8">
<g id="line2d_18">
<g>
<use href="#mb258c49b38" x="346.16" y="232.528" style="stroke: #000000; stroke-width: 0.8"/>
</g>
</g>
<g id="text_22">
<text style="font-size: 10px; font-family: 'DejaVu Sans'; text-anchor: end" x="339.16" y="236.327219" transform="rotate(-0 339.16 236.327219)">1</text>
</g>
</g>
<g id="ytick_9">
<g id="line2d_19">
<g>
<use href="#mb258c49b38" x="346.16" y="188.416" style="stroke: #000000; stroke-width: 0.8"/>
</g>
</g>
<g id="text_23">
<text style="font-size: 10px; font-family: 'DejaVu Sans'; text-anchor: end" x="339.16" y="192.215219" transform="rotate(-0 339.16 192.215219)">2</text>
</g>
</g>
<g id="ytick_10">
<g id="line2d_20">
<g>
<use href="#mb258c49b38" x="346.16" y="144.304" style="stroke: #000000; stroke-width: 0.8"/>
</g>
</g>
<g id="text_24">
<text style="font-size: 10px; font-family: 'DejaVu Sans'; text-anchor: end" x="339.16" y="148.103219" transform="rotate(-0 339.16 148.103219)">3</text>
</g>
</g>
<g id="ytick_11">
<g id="line2d_21">
<g>
<use href="#mb258c49b38" x="346.16" y="100.192" style="stroke: #000000; stroke-width: 0.8"/>
</g>
</g>
<g id="text_25">
<text style="font-size: 10px; font-family: 'DejaVu Sans'; text-anchor: end" x="339.16" y="103.991219" transform="rotate(-0 339.16 103.991219)">4</text>
</g>
</g>
<g id="ytick_12">
<g id="line2d_22">
<g>
<use href="#mb258c49b38" x="346.16" y="56.08" style="stroke: #000000; stroke-width: 0.8"/>
</g>
</g>
<g id="text_26">
<text style="font-size: 10px; font-family: 'DejaVu Sans'; text-anchor: end" x="339.16" y="59.879219" transform="rotate(-0 339.16 59.879219)">5</text>
</g>
</g>
<g id="text_27">
<!-- $L_{xy}$ [$10^3$ kpc km s$^{-1}$] -->
<g transform="translate(325.4405 240.8155) rotate(-90)">
<text>
<tspan x="0" y="-0.459375" style="font-style: oblique; font-size: 14.7px; font-family: 'DejaVu Sans'">L</tspan>
<tspan x="8.217651" y="2.001562" style="font-style: oblique; font-size: 10.29px; font-family: 'DejaVu Sans'">x</tspan>
<tspan x="14.327954" y="2.001562" style="font-style: oblique; font-size: 10.29px; font-family: 'DejaVu Sans'">y</tspan>
<tspan x="20.848413" y="-0.459375" style="font-size: 14.7px; font-family: 'DejaVu Sans'"> </tspan>
<tspan x="25.537012" y="-0.459375" style="font-size: 14.7px; font-family: 'DejaVu Sans'">[</tspan>
<tspan x="31.291528" y="-0.459375" style="font-size: 14.7px; font-family: 'DejaVu Sans'">1</tspan>
<tspan x="40.675928" y="-0.459375" style="font-size: 14.7px; font-family: 'DejaVu Sans'">0</tspan>
<tspan x="57.183118" y="-0.459375" style="font-size: 14.7px; font-family: 'DejaVu Sans'"> </tspan>
<tspan x="61.871716" y="-0.459375" style="font-size: 14.7px; font-family: 'DejaVu Sans'">k</tspan>
<tspan x="70.413464" y="-0.459375" style="font-size: 14.7px; font-family: 'DejaVu Sans'">p</tspan>
<tspan x="79.776257" y="-0.459375" style="font-size: 14.7px; font-family: 'DejaVu Sans'">c</tspan>
<tspan x="87.885876" y="-0.459375" style="font-size: 14.7px; font-family: 'DejaVu Sans'"> </tspan>
<tspan x="92.574475" y="-0.459375" style="font-size: 14.7px; font-family: 'DejaVu Sans'">k</tspan>
<tspan x="101.116223" y="-0.459375" style="font-size: 14.7px; font-family: 'DejaVu Sans'">m</tspan>
<tspan x="115.484509" y="-0.459375" style="font-size: 14.7px; font-family: 'DejaVu Sans'"> </tspan>
<tspan x="120.173108" y="-0.459375" style="font-size: 14.7px; font-family: 'DejaVu Sans'">s</tspan>
<tspan x="143.631812" y="-0.459375" style="font-size: 14.7px; font-family: 'DejaVu Sans'">]</tspan>
<tspan x="50.203882" y="-6.201563" style="font-size: 10.29px; font-family: 'DejaVu Sans'">3</tspan>
<tspan x="128.001355" y="-6.201563" style="font-size: 10.29px; font-family: 'DejaVu Sans'">−</tspan>
<tspan x="136.652576" y="-6.201563" style="font-size: 10.29px; font-family: 'DejaVu Sans'">1</tspan>
</text>
</g>
</g>
</g>
<g id="patch_9">
<path d="M 346.16 276.64 L 346.16 56.08 " style="fill: none; stroke: #000000; stroke-width: 0.8; stroke-linejoin: miter; stroke-linecap: square"/>
</g>
<g id="patch_10">
<path d="M 573.08 276.64 L 573.08 56.08 " style="fill: none; stroke: #000000; stroke-width: 0.8; stroke-linejoin: miter; stroke-linecap: square"/>
</g>
<g id="patch_11">
<path d="M 346.16 276.64 L 573.08 276.64 " style="fill: none; stroke: #000000; stroke-width: 0.8; stroke-linejoin: miter; stroke-linecap: square"/>
</g>
<g id="patch_12">
<path d="M 346.16 56.08 L 573.08 56.08 " style="fill: none; stroke: #000000; stroke-width: 0.8; stroke-linejoin: miter; stroke-linecap: square"/>
</g>
<g id="text_28">
<text style="font-size: 16px; font-family: 'DejaVu Sans'; text-anchor: middle" x="459.62" y="42.84" transform="rotate(-0 459.62 42.84)">b</text>
</g>
<g id="legend_2">
<g id="patch_13">
<path d="M 566.7 63.62 L 569.02 63.62 Q 570.18 63.62 570.18 62.46 L 570.18 60.14 Q 570.18 58.98 569.02 58.98 L 566.7 58.98 Q 565.54 58.98 565.54 60.14 L 565.54 62.46 Q 565.54 63.62 566.7 63.62 z
" style="fill: #ffffff; opacity: 0.8; stroke: #cccccc; stroke-linejoin: miter"/>
</g>
</g>
</g>
<g id="axes_3">
<g id="patch_14">
<path d="M 641.16 276.64 L 868.08 276.64 L 868.08 56.08 L 641.16 56.08 z
" style="fill: #ffffff"/>
</g>
<g clip-path="url(#p4a99c7a10d)"><path transform="scale(0.4)" d="M1879 118h0m-11 9h0m-52 20h0m8 32h0m30-11h0m7 3h0m48 1h0m69-3h0m-158 19h0m-4-3h0m-82 8h0m31 8h0m85-9h0m57 9h0m29-3h0m6-1h0m25 4h0m22-1h0m37 10h0m-22 4h0m-42-2h0m-28 3h0m-26-6h0m-24 1h0m-2 5h0m-4-6h0m-1-1h0m-5 5h0m-20 1h0m-2-2h0m-18 2h0m-25-8h0m-6 2h0m-31 4h0m-47-8h0m-10 12h0m37 10h0m12-8h0m38 8h0m16-4h0m8 4h0m26-10h0m4 10h0m36-1h0m3 0h0m6 0h0m4-2h0m27-2h0m36 3h0m55 2h0m69 2h0m-123 11h0m-3-9h0m-19 5h0m-1-4h0m-4 0h0m-1 1h0m-9 0h0m-43-1h0m-9-1h0m0 8h0m-3-4h0m-7-3h0m-12 4h0m-10 1h0m-7-1h0m-13 0h0m-4-1h0m-6-4h0m-9 5h0m-20 3h0m-40-8h0m-3 9h0m-48-3h0m-5-2h0m-4-5h0m17 16h0m10-4h0m30 0h0m17 7h0m5-6h0m7 5h0m3 2h0m20 2h0m1-11h0m11 8h0m4-1h0m3-6h0m11 4h0m3-4h0m2 4h0m1-5h0m13 6h0m2-1h0m28 1h0m1 1h0m13-2h0m5 1h0m2-1h0m1-5h0m11 7h0m4 4h0m12-9h0m1 7h0m18 1h0m19-8h0m0 5h0m26 1h0m21-1h0m16-5h0m36 1h0m33 7h0m-81 13h0m-29-9h0m-9 3h0m-14 4h0m-11-2h0m-5-1h0m-6 5h0m-16-4h0m-7-2h0m-7 5h0m-5-10h0m-4 4h0m-3 2h0m-2-6h0m0 7h0m-9-7h0m-3 9h0m-1-6h0m0 4h0m-2 3h0m-1 1h0m-10-8h0m-1 7h0m-9-2h0m-13-2h0m-20-1h0m-7 2h0m-3-5h0m-10 8h0m-14-5h0m-7-5h0m-2 11h0m-22-11h0m0 10h0m-13-7h0m-5 4h0m-7 3h0m-18-9h0m-32 8h0m18 5h0m10 8h0m27-3h0m2-1h0m2 1h0m1 2h0m6-1h0m3 2h0m5 1h0m1-7h0m5-2h0m18-1h0m2 7h0m8 1h0m3-5h0m11 5h0m1 2h0m5-9h0m0 1h0m3 6h0m3-8h0m5 0h0m6 8h0m1-5h0m0 3h0m6-6h0m7 1h0m3 8h0m4-8h0m0 3h0m3-3h0m0 7h0m1-1h0m1-4h0m2 7h0m3-10h0m4 4h0m9 6h0m4-10h0m1 7h0m2-3h0m0 2h0m1 4h0m12-8h0m0 4h0m6 3h0m2-4h0m4 5h0m5-1h0m4-7h0m0 4h0m4 3h0m1-8h0m0 7h0m2-2h0m4-1h0m5-1h0m3 3h0m5-1h0m0 3h0m8-8h0m8 0h0m1 1h0m19-1h0m14 9h0m23-5h0m5 1h0m41 2h0m-56 11h0m-9-4h0m-4 7h0m-20-9h0m-5 6h0m-3 1h0m-6-7h0m-1 5h0m-5-1h0m-1-2h0m-3 2h0m-6-5h0m-7 5h0m0 5h0m-7-2h0m-1-7h0m-6 9h0m-5-6h0m-1 4h0m-7 0h0m-2-9h0m-1 6h0m0 5h0m-9-5h0m-2 0h0m-1 1h0m0 1h0m-3 1h0m-1-2h0m-4-1h0m-2-5h0m-2 7h0m-3-8h0m0 8h0m-2 2h0m-3-3h0m-6-1h0m-1 4h0m-6 1h0m-3-3h0m-7 0h0m-2 1h0m0 2h0m-1-8h0m-2 0h0m-1 4h0m-4-7h0m0 10h0m0 1h0m-5-1h0m-1-4h0m-2-6h0m-1 5h0m-4-5h0m-12 6h0m0 2h0m-5 1h0m-2-5h0m-2 3h0m-1-7h0m-4 0h0m-2 9h0m-1-3h0m-3-6h0m-1 7h0m-2-6h0m-7 10h0m-9-11h0m-6 9h0m-10 1h0m-13-6h0m-7 3h0m-7 0h0m-9-3h0m-2 5h0m-10 2h0m-31-10h0m-37 7h0m-49 0h0m82 9h0m25 1h0m7-6h0m13 2h0m7-2h0m0 5h0m3-1h0m1 4h0m0 1h0m8 1h0m7 1h0m4-5h0m8-2h0m2 7h0m1-9h0m2 9h0m1-4h0m2 3h0m3 1h0m4-2h0m6-1h0m9 2h0m6-3h0m1 0h0m1-7h0m1 8h0m3-7h0m0 7h0m1 0h0m0 1h0m0 1h0m6-4h0m1 2h0m0 2h0m5 0h0m4-5h0m1-1h0m3 0h0m6 3h0m2 1h0m2 1h0m1-4h0m2 3h0m5-4h0m2 4h0m1-1h0m3 3h0m4-7h0m0 7h0m4-8h0m0 2h0m2 4h0m1 2h0m0 1h0m5-2h0m6-3h0m4-5h0m6 2h0m0 4h0m5 1h0m4-6h0m12-2h0m6 6h0m2 5h0m1-10h0m5 3h0m1-4h0m4 8h0m16 2h0m1-8h0m1 2h0m11-2h0m4 7h0m8-5h0m1 1h0m0 6h0m6-3h0m5-5h0m3-3h0m2 7h0m6-4h0m3 6h0m5-4h0m20 2h0m21-5h0m10 6h0m30-2h0m43 13h0m-62 0h0m-16-3h0m-10-3h0m-9 9h0m-1-9h0m-14 6h0m-4-4h0m-4 3h0m-1-1h0m-8 5h0m-5 1h0m-5 0h0m-4-5h0m-8 5h0m-8-8h0m0 3h0m-9-1h0m-1 3h0m-4-2h0m-1-1h0m-3 4h0m-2-8h0m-1 3h0m-2-2h0m-1-2h0m-3 0h0m-4 7h0m-5-1h0m-1-6h0m-1 6h0m-5-2h0m-2-3h0m-7 1h0m-4 1h0m0 2h0m-1 1h0m-1-6h0m-2 8h0m-3 1h0m-5 1h0m-1-9h0m-5 10h0m-2-4h0m-3-5h0m-2 5h0m-3-6h0m-4 0h0m-1 1h0m-2 6h0m-4 1h0m0 2h0m-4-10h0m-3 5h0m-3-3h0m-1 1h0m-2 4h0m0 2h0m-1 0h0m-3 0h0m-1-5h0m0 2h0m-2-1h0m-2-6h0m0 3h0m-1 7h0m-1-8h0m0 8h0m-3-2h0m0 3h0m-1-2h0m0 1h0m-2-2h0m-2-7h0m0 2h0m-3 0h0m-1-3h0m-1 10h0m-1-3h0m-1-3h0m-3-4h0m0 5h0m0 3h0m-1-6h0m-3-2h0m0 11h0m-3-8h0m-1-2h0m-1 3h0m-4 6h0m-1 0h0m0 1h0m-1-11h0m-2 8h0m-1-6h0m0 7h0m-1-9h0m0 9h0m-1-4h0m0 4h0m-2-9h0m-1 5h0m-2 1h0m-1-4h0m-1-2h0m-1 5h0m-2 3h0m0 2h0m-4-6h0m-1 4h0m0 1h0m-1 2h0m-1-3h0m0 3h0m-6-5h0m-2 3h0m0 2h0m-2-9h0m0 5h0m-2 2h0m-6-1h0m-9-5h0m-3 5h0m0 2h0m-2-2h0m-1-1h0m-1 1h0m-3 2h0m-9-8h0m0 3h0m-7 2h0m-8-4h0m-3 5h0m-10 2h0m-5-10h0m-18 11h0m-3-9h0m-6-2h0m-29 0h0m-6 8h0m26 12h0m14 0h0m8-5h0m13 7h0m16-1h0m4-3h0m0 3h0m7-8h0m4 8h0m1-1h0m4 1h0m3-7h0m0 1h0m0 3h0m0 1h0m1 0h0m3-6h0m12 1h0m0 4h0m4-4h0m0 1h0m1 7h0m3-5h0m1 0h0m0 2h0m0 4h0m1-11h0m0 7h0m3-1h0m3-1h0m1 5h0m2-9h0m0 9h0m1-7h0m0 2h0m0 5h0m1-9h0m0 6h0m0 4h0m1-10h0m0 4h0m1 3h0m1-3h0m0 3h0m2-5h0m0 3h0m1-2h0m3 5h0m2-9h0m0 4h0m0 1h0m0 1h0m0 4h0m1 0h0m0 1h0m6-10h0m2 1h0m1 2h0m1 0h0m1-4h0m0 10h0m1-4h0m1-1h0m1-2h0m4 0h0m0 8h0m1-11h0m0 3h0m0 3h0m1 0h0m0 2h0m2-3h0m0 2h0m2 0h0m0 1h0m1-4h0m1-2h0m2 7h0m1-9h0m2 4h0m0 5h0m0 1h0m2-1h0m1 2h0m2-10h0m0 5h0m1 1h0m0 1h0m1-6h0m1 2h0m0 5h0m0 2h0m1-11h0m0 1h0m0 8h0m1-1h0m1-5h0m1 0h0m0 2h0m1-2h0m1 3h0m0 1h0m2-5h0m1-1h0m0 1h0m0 2h0m0 5h0m2-8h0m0 1h0m0 8h0m1-8h0m0 3h0m2-2h0m2 8h0m2-11h0m0 5h0m0 2h0m1-4h0m1 8h0m1-11h0m0 8h0m0 2h0m3-3h0m2-2h0m0 4h0m1 2h0m2-10h0m0 5h0m0 1h0m1 1h0m1-1h0m0 3h0m2-9h0m1 0h0m1 3h0m2 5h0m1-6h0m2-2h0m9 9h0m1-4h0m8-6h0m1 8h0m1-7h0m1 2h0m4 0h0m2-3h0m2 8h0m2 1h0m1-4h0m2-1h0m2 6h0m1-2h0m2-7h0m3 1h0m6 0h0m3 0h0m1 2h0m4 5h0m1-2h0m2-7h0m2 10h0m4-7h0m1-3h0m0 10h0m1-9h0m0 1h0m3 2h0m2 1h0m0 4h0m2 0h0m1-6h0m1-3h0m1 5h0m1 1h0m2 3h0m19-2h0m1-2h0m2-5h0m2 6h0m2-4h0m7-2h0m6 4h0m3 2h0m5-4h0m1 4h0m6-1h0m1 4h0m2 0h0m4-6h0m11 3h0m22-1h0m4 4h0m12-3h0m11 4h0m13 4h0m-23 3h0m-5-3h0m-16 6h0m-20 1h0m-3 0h0m0 2h0m-1-3h0m-3-5h0m-1 1h0m-1 4h0m-2-6h0m-2 1h0m-4 4h0m0 1h0m-1-6h0m-6 6h0m-1-5h0m0 7h0m-3-10h0m-1 9h0m-2-7h0m0 9h0m-2-6h0m-1-3h0m0 9h0m-1 0h0m-2-9h0m-6 6h0m-2-6h0m-5 5h0m-2 4h0m-3-7h0m-3 4h0m-6-8h0m-2 5h0m-1-2h0m0 8h0m-1-11h0m-1 1h0m-2 0h0m0 4h0m-5-2h0m-1 5h0m-1-6h0m0 6h0m-3 3h0m-2-4h0m-2-4h0m0 3h0m-6-2h0m-1 6h0m-3-6h0m-2 5h0m-4 1h0m-3-8h0m-1 9h0m-1-6h0m-1 6h0m-1-8h0m-2 5h0m-3-7h0m-4 7h0m-4 2h0m-3-10h0m-1 0h0m0 9h0m-5-7h0m0 4h0m-2-4h0m0 4h0m-4 2h0m-1-2h0m0 5h0m-5-11h0m-2 0h0m0 2h0m0 5h0m0 2h0m-1-5h0m0 3h0m-2 0h0m-2 2h0m-2 0h0m-1 0h0m-3-7h0m-2 3h0m-2 1h0m0 1h0m-1 2h0m-1-8h0m0 1h0m0 4h0m-2 3h0m-3-9h0m0 5h0m0 1h0m0 4h0m-1-9h0m-1 5h0m0 4h0m-3-9h0m0 6h0m-1-4h0m0 2h0m0 4h0m-1-4h0m-3-5h0m0 3h0m0 4h0m0 3h0m-3-6h0m0 4h0m-1-7h0m0 4h0m0 1h0m-1-2h0m-1 1h0m0 5h0m-2-1h0m-1-6h0m-2-3h0m-1 5h0m-1-1h0m0 2h0m0 2h0m-6-1h0m-1 2h0m-1-5h0m0 1h0m-1 1h0m-1-3h0m0 1h0m0 1h0m-1-4h0m0 4h0m0 2h0m-1-5h0m0 1h0m0 4h0m-1-3h0m-1-4h0m0 3h0m0 5h0m-2-7h0m0 2h0m0 8h0m-1 0h0m-1-10h0m0 2h0m-1-1h0m0 4h0m-2-2h0m0 4h0m0 2h0m-1-10h0m-1 6h0m-2-4h0m-1 5h0m-3 1h0m0 1h0m-1-6h0m-1-1h0m0 5h0m0 3h0m-1-7h0m-1 0h0m-1-1h0m-1-1h0m-2 5h0m0 1h0m-2-4h0m0 7h0m-1-2h0m-1-2h0m0 1h0m-1-6h0m-1 8h0m-2-5h0m-1 5h0m-2-9h0m0 5h0m0 2h0m-1 0h0m-1-1h0m-2 5h0m-1-10h0m0 4h0m-2-2h0m-1 4h0m-1 0h0m0 1h0m-4-8h0m-1 3h0m0 1h0m0 7h0m-1 0h0m-1-9h0m0 6h0m-2-3h0m-2 1h0m0 5h0m-1-2h0m-3-2h0m0 2h0m-1-4h0m0 3h0m-1 2h0m-2-6h0m0 4h0m-2 2h0m-1-8h0m0 6h0m-6-6h0m-1-2h0m-3 7h0m-1 4h0m-1-1h0m-1-10h0m0 7h0m-3-5h0m-1 8h0m-4-5h0m-2-3h0m-4 2h0m-1 2h0m0 3h0m-8-5h0m0 6h0m-1-9h0m-1 9h0m-8 0h0m-6-2h0m-41 8h0m7-1h0m26 6h0m5-8h0m11-1h0m2 7h0m9 1h0m2-1h0m0 3h0m7 1h0m1-6h0m1 5h0m3-4h0m1-2h0m1-2h0m1 1h0m1-1h0m2 1h0m1 7h0m1-9h0m0 3h0m1-3h0m0 8h0m1-1h0m2-2h0m5-4h0m3 0h0m2 6h0m0 2h0m1-8h0m0 1h0m4 0h0m0 7h0m2 1h0m2-5h0m2-2h0m0 2h0m1-5h0m1 5h0m0 2h0m0 1h0m1-9h0m0 1h0m2 5h0m1-2h0m0 2h0m1-6h0m0 7h0m2-4h0m1-3h0m0 1h0m0 2h0m0 5h0m2 0h0m1 3h0m1-5h0m1 3h0m1-4h0m1 1h0m0 3h0m1 0h0m0 1h0m1-8h0m0 1h0m0 3h0m2-3h0m1 6h0m0 2h0m1 0h0m1-10h0m2-1h0m0 4h0m1-2h0m0 7h0m1-1h0m0 3h0m2-11h0m1 4h0m1 6h0m1-3h0m1 4h0m1-10h0m1 5h0m0 3h0m1-6h0m1-2h0m0 9h0m1-5h0m1 5h0m1-10h0m0 10h0m1-9h0m0 6h0m0 2h0m1-3h0m1 1h0m0 1h0m1-8h0m0 9h0m1-8h0m0 5h0m0 4h0m2-8h0m0 7h0m1-3h0m1-4h0m0 5h0m0 3h0m2-8h0m0 2h0m1-3h0m0 1h0m0 6h0m0 3h0m2-7h0m0 1h0m0 3h0m1 1h0m1-5h0m2-3h0m2 0h0m0 1h0m1-1h0m1 6h0m0 4h0m2-1h0m0 1h0m1-4h0m1-1h0m1-5h0m0 7h0m1-1h0m0 1h0m0 1h0m0 2h0m1-9h0m0 5h0m0 1h0m1-7h0m0 2h0m1 3h0m1-4h0m0 3h0m0 1h0m0 2h0m0 1h0m1-9h0m1 1h0m1 7h0m1-7h0m0 1h0m1-2h0m1 0h0m0 6h0m0 2h0m0 3h0m2-10h0m2 2h0m0 7h0m1-4h0m1-3h0m1 0h0m1-1h0m4 9h0m1-4h0m0 4h0m1-5h0m0 1h0m0 2h0m3-3h0m3 0h0m1-2h0m2 0h0m0 3h0m1-4h0m4-3h0m1 8h0m1-1h0m3-3h0m1-2h0m0 8h0m1-10h0m4 2h0m7 0h0m1 8h0m3-10h0m3 11h0m3-4h0m1-1h0m1 4h0m0 1h0m1-6h0m1 3h0m3 0h0m1 3h0m3-7h0m0 3h0m2-7h0m0 3h0m1 6h0m2-8h0m1 0h0m1 4h0m1 4h0m8-1h0m0 3h0m1-11h0m0 5h0m2 2h0m0 3h0m1-9h0m2 1h0m2 7h0m1-8h0m0 8h0m10-8h0m1 9h0m1 1h0m5-7h0m4-4h0m1 2h0m0 9h0m1-5h0m2-5h0m0 8h0m2-5h0m0 6h0m3-10h0m0 6h0m2-6h0m0 2h0m2 1h0m1 0h0m3 7h0m1-7h0m1 1h0m0 1h0m0 3h0m1-4h0m0 3h0m1-2h0m1 0h0m2-1h0m1 3h0m1-5h0m0 2h0m0 5h0m1-3h0m0 4h0m1-2h0m4-4h0m0 4h0m3-3h0m2-4h0m0 10h0m1-5h0m7-5h0m0 2h0m2 0h0m0 2h0m1-5h0m1 10h0m2-5h0m0 5h0m1-5h0m0 5h0m1-3h0m0 1h0m2 0h0m8 2h0m6-8h0m3 9h0m4-6h0m6 2h0m20-6h0m4 0h0m0 9h0m6 1h0m19-7h0m21 2h0m15-3h0m-61 15h0m-6-4h0m-17 0h0m-3 2h0m-1-2h0m-1 5h0m-5-7h0m-4 7h0m-1 4h0m-2 0h0m-4-4h0m0 3h0m-1-10h0m-1 9h0m-2-3h0m0 3h0m-1 0h0m-3-5h0m-1-4h0m0 9h0m-2-2h0m-2 2h0m-1-4h0m0 4h0m0 2h0m-2-9h0m0 5h0m-4 1h0m-1 1h0m-1 2h0m-1-9h0m-1-2h0m-1 1h0m-1 3h0m0 2h0m0 5h0m-1-2h0m-3-8h0m0 8h0m-1-5h0m0 1h0m-1 5h0m-1-1h0m-2 1h0m-1-6h0m0 6h0m-4 1h0m-2-10h0m0 9h0m-4-5h0m0 6h0m-1-3h0m-1-1h0m-2 4h0m-1-11h0m0 1h0m-1 10h0m-2-6h0m0 6h0m-4-8h0m-1-2h0m-1 0h0m-4 3h0m-2 2h0m-1-1h0m-1 3h0m-1 3h0m-4-4h0m-1-5h0m0 6h0m-1-5h0m-4-1h0m0 1h0m-4 8h0m-1-6h0m-1-2h0m-2-2h0m0 4h0m-8-3h0m0 6h0m-9-4h0m0 6h0m-2 1h0m-4-8h0m-12-3h0m-1 4h0m-2 7h0m-1-8h0m-2 1h0m0 4h0m-2-5h0m0 6h0m-2-4h0m0 3h0m0 2h0m-1-2h0m-1 2h0m-1-10h0m-3 11h0m-1-9h0m0 4h0m-1-4h0m0 5h0m0 2h0m-2-1h0m-1 3h0m-1-11h0m0 1h0m0 1h0m-1 6h0m-2 0h0m-1-7h0m0 4h0m0 5h0m-1-10h0m0 7h0m0 4h0m-2-3h0m0 3h0m-1-8h0m-1 7h0m-1-10h0m0 8h0m-1-4h0m-2 4h0m0 1h0m-2 0h0m-2-9h0m0 3h0m-3-2h0m-1 3h0m-2-4h0m-5 1h0m0 5h0m-3-4h0m-2 5h0m-1-6h0m0 6h0m0 1h0m-1-1h0m-1 0h0m0 2h0m0 1h0m-1-3h0m-1-1h0m-1-5h0m-1 2h0m-1 2h0m0 1h0m0 5h0m-1-8h0m-1-1h0m-2 3h0m-1-5h0m0 3h0m0 1h0m0 3h0m-1-4h0m0 4h0m0 1h0m0 3h0m-2-11h0m0 1h0m0 2h0m-1-1h0m0 3h0m0 2h0m-1-5h0m-1-1h0m0 3h0m-1 4h0m-1-7h0m0 6h0m0 2h0m-1-5h0m-1 0h0m0 7h0m-1-5h0m0 1h0m0 2h0m0 2h0m-1-9h0m0 3h0m0 1h0m-1 1h0m0 2h0m-1-6h0m0 3h0m-1-6h0m-1 4h0m-1-3h0m0 7h0m-1-6h0m0 4h0m0 5h0m-1-3h0m0 2h0m-2-7h0m-2-3h0m0 2h0m0 1h0m0 2h0m-1 1h0m-3-1h0m-1 1h0m-1-5h0m-1 3h0m0 6h0m-1-6h0m-1-2h0m0 1h0m0 6h0m-1-6h0m0 8h0m-1-7h0m0 2h0m0 3h0m0 1h0m-1-6h0m-1-1h0m0 5h0m-2 1h0m0 2h0m-1-8h0m0 6h0m0 1h0m-1 1h0m-1-6h0m0 6h0m-2 0h0m-1-9h0m0 4h0m-1 0h0m0 1h0m-1-5h0m0 2h0m0 3h0m-1-5h0m-2 2h0m-2-2h0m0 3h0m-1-3h0m0 8h0m-1-5h0m0 6h0m-2-9h0m0 6h0m-1-4h0m0 4h0m0 2h0m-1 0h0m0 1h0m-1-10h0m-1 0h0m0 3h0m0 1h0m0 2h0m-2-3h0m-1 2h0m0 4h0m-2-9h0m0 10h0m-1-7h0m0 3h0m-2 3h0m-1-5h0m-1 6h0m-1-2h0m-1-6h0m0 6h0m-1-7h0m0 7h0m-1 1h0m-1-5h0m-1 4h0m-2-6h0m0 4h0m-3-2h0m-3-2h0m-1 5h0m-1-1h0m-1-5h0m0 7h0m-1-5h0m-1-4h0m-1 6h0m-1 5h0m-5-8h0m-3 8h0m-4 0h0m-1-2h0m-18 2h0m-7-6h0m-1 4h0m-1-3h0m-15-2h0m-38 17h0m38 2h0m3 0h0m11-11h0m2 2h0m0 2h0m4 2h0m5 4h0m8-9h0m0 2h0m2 4h0m5 1h0m2 1h0m4-8h0m0 7h0m4 3h0m3-9h0m0 1h0m0 2h0m4 4h0m1-2h0m3-7h0m2 11h0m1-3h0m1-2h0m0 4h0m2-2h0m3-3h0m0 3h0m2 3h0m2-8h0m0 5h0m1-7h0m1 4h0m1-3h0m2 4h0m0 2h0m4-5h0m0 8h0m2-3h0m0 3h0m1-3h0m3-6h0m0 4h0m1-6h0m0 5h0m0 3h0m1-1h0m3 2h0m1-2h0m1 2h0m1 0h0m1-7h0m0 1h0m0 4h0m0 1h0m1-7h0m0 3h0m1-3h0m0 10h0m1-11h0m0 1h0m0 3h0m0 6h0m1-8h0m0 3h0m0 2h0m0 1h0m1-2h0m0 1h0m2-7h0m0 7h0m1-3h0m1 0h0m0 1h0m1-3h0m0 4h0m1-1h0m0 1h0m0 1h0m1-6h0m0 5h0m1-2h0m0 3h0m1-5h0m1 1h0m1-2h0m0 2h0m1 0h0m0 1h0m2-4h0m0 7h0m1 1h0m0 3h0m1-6h0m0 6h0m2-8h0m1 0h0m2 0h0m0 5h0m1-3h0m0 4h0m0 2h0m2-7h0m2-3h0m0 5h0m1-1h0m0 6h0m2-8h0m0 4h0m1-4h0m0 6h0m0 1h0m1-3h0m0 2h0m1-5h0m0 1h0m0 1h0m0 3h0m1-3h0m0 5h0m2-5h0m0 3h0m1-7h0m1-1h0m0 5h0m0 5h0m2-9h0m1 1h0m1 3h0m3 0h0m1 0h0m0 1h0m1-6h0m0 2h0m0 1h0m0 6h0m1-6h0m2-1h0m1 3h0m0 2h0m0 1h0m2 0h0m1-9h0m0 6h0m0 2h0m1-8h0m0 11h0m2 0h0m2-7h0m1 0h0m0 7h0m1-9h0m0 5h0m0 2h0m1-9h0m1 1h0m0 6h0m0 4h0m1-5h0m1-1h0m1-3h0m1-1h0m0 7h0m1-1h0m1 0h0m1 3h0m2-8h0m0 4h0m1 3h0m1-8h0m2 5h0m0 3h0m0 1h0m1-7h0m0 1h0m0 1h0m1-5h0m0 2h0m0 1h0m1 8h0m1-4h0m1-2h0m1 0h0m0 2h0m1 0h0m1-1h0m0 2h0m1 1h0m1-4h0m0 2h0m0 2h0m2-3h0m5 5h0m2-8h0m0 8h0m2-7h0m0 2h0m1-4h0m2 6h0m2-3h0m0 2h0m1-7h0m1 0h0m0 3h0m0 7h0m1-7h0m1 0h0m6 0h0m2 3h0m2-4h0m0 4h0m0 4h0m1-8h0m0 5h0m2-1h0m2 3h0m7-5h0m1-1h0m0 4h0m5-4h0m0 4h0m1 2h0m2-9h0m1 8h0m3-3h0m1 1h0m0 2h0m4-8h0m4 7h0m3 0h0m2-1h0m1 5h0m7-9h0m1 9h0m1-10h0m1 3h0m0 1h0m2-4h0m0 2h0m0 2h0m1 0h0m1 1h0m1 1h0m4-5h0m2 7h0m0 1h0m0 1h0m2-9h0m0 1h0m1-1h0m0 3h0m1-3h0m0 5h0m2-4h0m0 4h0m1-4h0m0 1h0m1 5h0m1-4h0m1-3h0m0 9h0m1-4h0m1-4h0m1 0h0m0 5h0m1 1h0m7-9h0m1 0h0m0 2h0m1-2h0m0 11h0m1-3h0m0 3h0m1-7h0m0 3h0m0 3h0m1-6h0m1 0h0m0 2h0m1-4h0m1 9h0m1-4h0m0 2h0m2-7h0m1 6h0m1-7h0m1 6h0m5 2h0m3-4h0m0 4h0m1-3h0m1-6h0m2 9h0m3 1h0m4-4h0m1 4h0m1-8h0m0 2h0m3 0h0m3 3h0m0 2h0m6-7h0m1-1h0m2 4h0m8-1h0m0 2h0m4 5h0m6-10h0m15 0h0m6 1h0m13-2h0m5 7h0m42-6h0m67 22h0m-105-9h0m-9-2h0m-1 8h0m-9 3h0m-6 0h0m-18-3h0m-2 2h0m-1-3h0m-4-2h0m-2-1h0m0 3h0m0 1h0m-4-1h0m0 2h0m-7 2h0m-1-8h0m0 5h0m-2 2h0m0 1h0m-1-2h0m-2-4h0m-1-3h0m-1-1h0m0 1h0m-3 4h0m-3-2h0m0 4h0m-1-8h0m-7 3h0m-3 1h0m-2-1h0m-1 3h0m0 4h0m0 1h0m-1-11h0m0 1h0m0 7h0m-1-1h0m-1 2h0m-1-1h0m-1-8h0m0 4h0m0 3h0m0 1h0m-1 0h0m-2-3h0m-1 1h0m-1-6h0m0 1h0m0 6h0m0 4h0m-1-8h0m-1-1h0m-1 5h0m-1 0h0m-2-5h0m0 1h0m-1 4h0m-1 2h0m-2-5h0m-2 6h0m-1-8h0m0 1h0m-2-2h0m-1 4h0m0 5h0m-2-10h0m-1 9h0m-1-9h0m0 1h0m0 9h0m-1-8h0m0 7h0m-2-5h0m0 1h0m0 3h0m-1-7h0m0 9h0m-1-10h0m0 2h0m0 4h0m0 3h0m-1-7h0m0 5h0m-1-6h0m0 1h0m-2 1h0m0 2h0m0 5h0m-3-5h0m-1-5h0m0 1h0m0 9h0m-3-4h0m-1 0h0m-1-4h0m0 1h0m0 3h0m-3-3h0m0 2h0m-2-5h0m-1 11h0m-1-11h0m-1 7h0m-1-5h0m0 2h0m0 3h0m-1-7h0m0 3h0m0 1h0m0 1h0m0 5h0m-2-8h0m-2 1h0m-1 7h0m-1-9h0m0 3h0m-3-3h0m0 8h0m-1-7h0m-2 0h0m-3-1h0m0 5h0m-2-6h0m-5 0h0m0 5h0m-3-5h0m0 7h0m-2-7h0m0 11h0m-4-7h0m0 1h0m-3-5h0m-1 2h0m-1-1h0m-1-1h0m0 10h0m-1 1h0m-3-9h0m-2 6h0m-1-1h0m-1-2h0m0 5h0m-4-4h0m-2-3h0m-1 0h0m-1-3h0m0 10h0m-1-7h0m-1 6h0m0 1h0m-2-9h0m-2 5h0m-2 3h0m-1-8h0m0 3h0m-1 1h0m-1-1h0m0 1h0m0 2h0m-2-7h0m-1 2h0m0 6h0m-1-1h0m0 4h0m-1-7h0m-3-4h0m0 4h0m0 1h0m0 3h0m-1-3h0m0 5h0m-1-5h0m-1-4h0m-1 2h0m-1 4h0m-1 0h0m-3-5h0m-3 3h0m-1-5h0m-1 4h0m0 1h0m-1 1h0m-1-5h0m0 7h0m0 1h0m-1 0h0m-1-5h0m-1 3h0m-1-7h0m0 9h0m-1-6h0m0 2h0m0 2h0m-1-3h0m-1 1h0m-1-3h0m-1 0h0m-1-1h0m-1 2h0m0 1h0m0 7h0m-1-5h0m-1-4h0m-1 2h0m0 1h0m-1 0h0m0 2h0m-1-7h0m-1 2h0m0 1h0m-1 2h0m-1-3h0m-2 3h0m-1-3h0m0 3h0m0 6h0m-1-9h0m-2-1h0m-1-1h0m0 2h0m0 1h0m0 1h0m0 6h0m-2-10h0m0 8h0m-1-6h0m0 2h0m0 7h0m-1-7h0m0 7h0m-1-6h0m-2-1h0m-1 7h0m-1-11h0m0 3h0m0 5h0m-1-6h0m0 2h0m0 6h0m0 1h0m-1-9h0m0 2h0m0 7h0m-1-1h0m-1-10h0m0 2h0m0 7h0m-1 2h0m-1-7h0m0 1h0m-1 6h0m-1-11h0m0 1h0m0 3h0m0 4h0m-1-2h0m-1-6h0m0 11h0m-1-10h0m0 1h0m-1-1h0m0 6h0m-1-6h0m0 4h0m-1 2h0m-1-5h0m-2 6h0m0 3h0m-1-11h0m0 3h0m0 6h0m-1-8h0m0 10h0m-1-4h0m0 3h0m-2-6h0m0 2h0m-1-2h0m-1-4h0m-1 3h0m0 5h0m0 2h0m-1-1h0m0 1h0m-4-3h0m0 2h0m-1-9h0m-1 1h0m-1 6h0m-2-7h0m0 5h0m-1-4h0m0 8h0m-2-3h0m0 4h0m-1-4h0m-1-1h0m0 2h0m-1-1h0m-1-3h0m0 1h0m0 4h0m-1-8h0m-3 0h0m0 4h0m-1 7h0m-1-10h0m0 1h0m-4 1h0m-2-2h0m0 5h0m-1-3h0m-2-2h0m0 7h0m-3-3h0m-5 2h0m-1 2h0m-1-4h0m-1-1h0m-1 1h0m-1 0h0m-2 4h0m-2-1h0m0 2h0m-5-5h0m0 6h0m-3-5h0m-5 2h0m-2-3h0m0 3h0m0 3h0m-1-2h0m-5-6h0m-2-3h0m-5 7h0m-1-3h0m-5-1h0m-9 7h0m-8-6h0m-7 6h0m-5-8h0m-15 5h0m-10 1h0m-34 3h0m-33 9h0m130-8h0m0 6h0m1 0h0m1 3h0m12-2h0m7-1h0m10-1h0m0 3h0m2-8h0m1 0h0m2 9h0m3-3h0m2-3h0m2-2h0m2 2h0m3 6h0m1-1h0m3 3h0m2-11h0m0 11h0m1-7h0m0 6h0m1 1h0m3 0h0m1-10h0m5-1h0m0 7h0m1-2h0m1-3h0m0 4h0m2 1h0m1 0h0m2-7h0m0 5h0m1 6h0m1-10h0m0 5h0m1-4h0m2 2h0m0 1h0m1-5h0m0 7h0m2-7h0m1 2h0m0 1h0m0 1h0m0 1h0m1 3h0m1-6h0m2-2h0m0 10h0m1-1h0m1-9h0m0 4h0m1 4h0m3-6h0m0 4h0m1-6h0m1 0h0m0 3h0m0 4h0m0 3h0m1-10h0m1 7h0m1-4h0m0 5h0m1-7h0m0 1h0m2 5h0m2-3h0m2 2h0m1 4h0m1-9h0m1-1h0m1 4h0m0 6h0m1 1h0m1-11h0m0 3h0m2-2h0m0 8h0m1-9h0m0 10h0m0 1h0m3-6h0m1-4h0m2 5h0m1-3h0m0 2h0m0 5h0m1-3h0m1 1h0m0 1h0m1-6h0m1 1h0m0 6h0m1-1h0m0 2h0m2-2h0m0 2h0m1-9h0m1 1h0m0 5h0m1 2h0m0 1h0m2 0h0m1 0h0m1-4h0m1-6h0m0 6h0m1-2h0m1 4h0m1-8h0m1-1h0m0 8h0m1-4h0m0 7h0m3-5h0m1-4h0m0 8h0m1-7h0m0 4h0m3 1h0m1 2h0m2-7h0m0 2h0m1-4h0m0 6h0m0 2h0m1-4h0m0 3h0m0 1h0m1-3h0m0 4h0m3-1h0m3-4h0m2-4h0m0 1h0m2 0h0m0 8h0m2-7h0m0 2h0m1-1h0m1 4h0m5-6h0m2 9h0m1-7h0m1 1h0m4 1h0m1 5h0m4-5h0m0 2h0m1-3h0m1-4h0m1 1h0m0 6h0m1-5h0m0 3h0m3-2h0m5-2h0m1 4h0m0 5h0m2-11h0m6 3h0m1 5h0m1-7h0m0 9h0m2-7h0m1 4h0m0 3h0m1-4h0m1-1h0m1-5h0m1 5h0m1 3h0m2-6h0m1 0h0m1 1h0m1 1h0m0 1h0m2 2h0m1-4h0m0 1h0m2-3h0m1 2h0m0 6h0m1-5h0m0 1h0m1 5h0m2-10h0m0 8h0m1 0h0m0 1h0m1-7h0m0 3h0m1 4h0m1-3h0m1 2h0m2-5h0m1-3h0m0 4h0m1-2h0m0 2h0m2 3h0m1 0h0m1-7h0m0 3h0m1-2h0m0 5h0m1 0h0m0 2h0m0 1h0m1-6h0m0 2h0m0 6h0m1-6h0m1 4h0m2-9h0m1 9h0m1-2h0m1-7h0m0 1h0m1-1h0m0 2h0m1-2h0m0 2h0m1-2h0m0 4h0m0 2h0m2-5h0m0 2h0m4 0h0m0 7h0m1 1h0m1-2h0m0 1h0m1-1h0m0 2h0m1-9h0m2 0h0m0 8h0m1-4h0m0 5h0m1-11h0m1 8h0m2 1h0m1-3h0m0 5h0m1-6h0m1 0h0m4-2h0m0 3h0m1-3h0m1-1h0m3 9h0m2-9h0m4 2h0m0 2h0m4-1h0m0 4h0m1-9h0m0 5h0m2-3h0m0 1h0m1 0h0m2 0h0m5-1h0m0 7h0m2-4h0m1 0h0m3 5h0m1-6h0m4 2h0m2 2h0m1-8h0m0 5h0m8-2h0m6 5h0m31 2h0m0 1h0m39 6h0m-48 5h0m-3-10h0m-12 9h0m-6-9h0m-5 7h0m0 3h0m-8-4h0m-1-1h0m-3-1h0m0 3h0m-3-6h0m-1 7h0m-1-4h0m-5 0h0m-1-3h0m-4-1h0m-2 9h0m-1-4h0m-1 0h0m-2 5h0m-2-4h0m-2-4h0m0 5h0m-2-5h0m-3-1h0m0 1h0m-3 9h0m-1-11h0m-1 4h0m-3 2h0m-2 1h0m0 3h0m-1-4h0m0 2h0m-1 3h0m-1-5h0m-1-5h0m-1-1h0m0 1h0m0 8h0m-4-5h0m-2 3h0m-1-4h0m-2 5h0m-2 2h0m-2-9h0m0 4h0m-1-4h0m0 6h0m-1-6h0m0 1h0m0 9h0m-1-7h0m0 2h0m-1 0h0m-1 1h0m-1-6h0m0 3h0m-1 2h0m-2-2h0m0 6h0m-1-9h0m0 7h0m-1-2h0m0 5h0m-1 0h0m-3 0h0m-1-11h0m-2 1h0m0 4h0m-2 3h0m0 2h0m-2-10h0m0 2h0m-2 0h0m0 8h0m-1-2h0m0 3h0m-1-7h0m0 6h0m-1-7h0m-6 4h0m-2 3h0m-2-8h0m0 1h0m-2 7h0m-1-1h0m-1 2h0m-1-9h0m0 4h0m-2-5h0m0 7h0m0 3h0m-1-5h0m-1-5h0m-4 8h0m-1-9h0m-2 0h0m-3 11h0m-1-6h0m0 4h0m-1-6h0m0 8h0m-3-7h0m0 4h0m-1-2h0m0 1h0m-2-7h0m-1 2h0m-4 4h0m0 3h0m-1 2h0m-1-5h0m0 1h0m0 1h0m-1 1h0m-1-1h0m-1-3h0m-5-4h0m0 4h0m0 5h0m-1-7h0m0 6h0m-1-9h0m-1 5h0m-1-2h0m-1 2h0m-3 5h0m-1-7h0m-1 7h0m-3-4h0m-1-3h0m0 2h0m-1-1h0m-1 1h0m-2-3h0m0 6h0m-2-1h0m-1-3h0m0 2h0m0 3h0m-1-8h0m0 1h0m0 8h0m-1-10h0m0 5h0m-1 0h0m-1 4h0m0 1h0m-1-6h0m0 2h0m-2 4h0m-1-7h0m-3 5h0m0 3h0m-1-7h0m0 5h0m-1 1h0m-1-10h0m-5 0h0m-1 1h0m0 3h0m-2-2h0m0 2h0m-3-1h0m0 7h0m-2-8h0m-1 3h0m-1-5h0m0 8h0m-1-8h0m0 9h0m-1-8h0m0 1h0m-1 8h0m-1-9h0m0 8h0m-2-5h0m-3-4h0m-5 10h0m-1-7h0m-1 8h0m-1-7h0m0 4h0m0 3h0m-1-2h0m-1-2h0m0 1h0m0 3h0m-1-11h0m-3 1h0m0 7h0m0 1h0m-3 2h0m-1-8h0m-1 2h0m-1-1h0m-2 2h0m0 1h0m-1-1h0m0 3h0m-1-8h0m0 4h0m-1-4h0m-1 9h0m-1-10h0m0 6h0m-1-6h0m0 5h0m-1 5h0m-2 1h0m-1-11h0m0 2h0m-1 2h0m-1 0h0m-1-4h0m-1 9h0m-1 0h0m0 2h0m-2-2h0m-2-7h0m-5 8h0m-2-6h0m0 3h0m0 2h0m-1-6h0m-2-3h0m0 2h0m-1 3h0m0 4h0m-1-3h0m-1-6h0m-1 0h0m0 2h0m0 8h0m-1-9h0m0 5h0m-1 3h0m-4-6h0m0 3h0m0 4h0m-3 0h0m-1-9h0m-2 1h0m-2 2h0m0 2h0m-1 0h0m0 3h0m-1-8h0m-1 2h0m-4 6h0m-4-3h0m0 1h0m-7-4h0m-1 7h0m-1-10h0m-3 0h0m0 4h0m-13 0h0m-6-1h0m0 1h0m-1-2h0m-3 4h0m0 4h0m-4-6h0m0 1h0m-1 6h0m-6-1h0m-46 0h0m-111 0h0m-18-1h0m118 10h0m49 0h0m0 3h0m10-4h0m12-5h0m4 8h0m6-3h0m2-4h0m1-2h0m3 4h0m5-1h0m4 5h0m1 2h0m2-10h0m4 2h0m0 1h0m3 2h0m3-4h0m0 2h0m1-2h0m1-1h0m1 11h0m4-4h0m6-1h0m1-5h0m1 9h0m7-3h0m1-7h0m2 0h0m0 4h0m0 2h0m2-1h0m1 2h0m0 4h0m4-2h0m2 2h0m1-8h0m1 1h0m0 1h0m1 4h0m2-8h0m0 5h0m1 2h0m2-4h0m1 1h0m0 3h0m2-1h0m1-4h0m2 4h0m2-3h0m0 2h0m1 2h0m1-3h0m1-3h0m2 9h0m2-5h0m0 5h0m1-4h0m1-3h0m2 2h0m0 1h0m1-7h0m0 10h0m1-7h0m0 7h0m1-9h0m1 6h0m1-1h0m0 3h0m2 2h0m2-1h0m2-3h0m1-7h0m0 10h0m1-7h0m0 6h0m2-9h0m0 2h0m1-1h0m0 5h0m2-1h0m0 5h0m2-3h0m1-3h0m2 1h0m0 6h0m2-9h0m0 5h0m2-7h0m0 4h0m0 3h0m1-7h0m2 3h0m3 0h0m0 3h0m1-6h0m0 2h0m2 9h0m1-8h0m1 4h0m3 0h0m1-4h0m0 1h0m1-2h0m1-2h0m0 2h0m1 0h0m0 3h0m1-4h0m0 1h0m0 2h0m1 0h0m3-1h0m2-2h0m0 8h0m1-7h0m0 7h0m0 2h0m2-5h0m3-3h0m2 8h0m4-11h0m2 4h0m0 6h0m1 0h0m2-9h0m0 1h0m1 1h0m1 2h0m1 6h0m2-3h0m3-3h0m7-4h0m0 2h0m0 7h0m1-6h0m0 7h0m2-5h0m1-5h0m1 1h0m1 0h0m1 9h0m2-10h0m0 5h0m0 5h0m1-5h0m1 0h0m1-5h0m1 4h0m0 5h0m5-5h0m2 3h0m2 2h0m1 0h0m1-5h0m1 2h0m2-7h0m2 10h0m1-2h0m1 0h0m2-7h0m1-1h0m3 2h0m1 5h0m0 1h0m1 0h0m1-3h0m0 4h0m2-3h0m0 4h0m1-9h0m1 4h0m1 1h0m2-3h0m0 6h0m2-4h0m0 5h0m0 1h0m2-10h0m1 0h0m3 2h0m5 3h0m1 2h0m1-8h0m0 4h0m1 0h0m1-3h0m0 9h0m0 1h0m4-5h0m0 4h0m1-8h0m1 0h0m4-2h0m2 0h0m0 1h0m0 10h0m1-10h0m0 9h0m1 0h0m1-4h0m0 5h0m1-1h0m1-4h0m1 5h0m2-9h0m1 6h0m1-8h0m2 1h0m1 3h0m1 1h0m1 4h0m3-8h0m1 9h0m2-7h0m7 6h0m1-7h0m3 6h0m2-4h0m1 0h0m4-3h0m0 4h0m2 6h0m2-3h0m11 3h0m9-2h0m3-8h0m0 9h0m47 12h0m-31-4h0m-8-1h0m0 5h0m-3-6h0m-4 4h0m-13 0h0m-4-3h0m0 2h0m-4-6h0m0 5h0m-6-2h0m-9 0h0m-1-2h0m-11 5h0m-2-5h0m-2-1h0m-1 1h0m-1-1h0m0 7h0m-5-4h0m-3 0h0m0 2h0m-1-4h0m-1 6h0m-5-7h0m0 9h0m-2-3h0m-1 3h0m-1-9h0m0 5h0m-2-4h0m0 5h0m-1-6h0m0 3h0m0 6h0m-2-8h0m-3-1h0m-5 3h0m0 6h0m-1-10h0m-3 1h0m0 8h0m-2-9h0m-1 1h0m0 5h0m-1 5h0m-1-8h0m-2 0h0m-2-3h0m-3 8h0m-1-3h0m-2-4h0m-2 3h0m-1 0h0m0 5h0m-3 1h0m-1-5h0m0 2h0m-1 0h0m-1-2h0m0 2h0m-2-2h0m-3 5h0m-1-8h0m0 3h0m-1-3h0m0 2h0m0 5h0m-1-2h0m-2-4h0m-1 3h0m0 2h0m-2 0h0m-2 1h0m-2 0h0m-1-6h0m-2 8h0m-1-6h0m-1-2h0m-1 3h0m-2-5h0m0 1h0m0 7h0m-3-7h0m0 9h0m-1-3h0m-1 0h0m-4 2h0m-2 0h0m-1 0h0m-1-5h0m0 4h0m-1 1h0m-2-8h0m0 2h0m0 3h0m-1 0h0m-2-1h0m-1 5h0m-1 0h0m-1-11h0m-1 4h0m-1 4h0m-3-7h0m0 1h0m-1 2h0m-1-2h0m-1-1h0m0 7h0m-1 0h0m-4-6h0m-1 1h0m-1-1h0m-2 6h0m0 2h0m-5 0h0m-2-7h0m0 1h0m-3 0h0m-2-2h0m-5 7h0m-1 1h0m-3 1h0m-1-11h0m-1 4h0m0 3h0m-2-6h0m-1 4h0m-1 6h0m-1-10h0m-2 3h0m0 6h0m-2-6h0m-2-3h0m-1 1h0m0 9h0m-1-4h0m0 2h0m-1-7h0m0 7h0m-2 0h0m-2 1h0m-1-6h0m0 3h0m0 3h0m-4-3h0m-1-3h0m0 6h0m-1 0h0m-1-10h0m-1 1h0m0 2h0m0 2h0m0 5h0m-1-7h0m0 3h0m-1-5h0m0 8h0m-1 0h0m0 1h0m-2-2h0m-1 1h0m-2-1h0m-1 0h0m-1-3h0m-2-5h0m0 11h0m-1 0h0m-1-8h0m0 7h0m-3-6h0m0 7h0m-1-1h0m-2 0h0m-1-9h0m0 5h0m-1-6h0m0 7h0m-2-6h0m-1 0h0m-1 6h0m0 1h0m-1 2h0m-3-5h0m0 4h0m-1-3h0m-2-3h0m-1 3h0m0 4h0m-1-2h0m-1-5h0m-2-2h0m0 7h0m-2 2h0m-1-6h0m0 1h0m-1-4h0m0 8h0m-12-1h0m-1 2h0m-11-5h0m-2 5h0m-2-1h0m-1-3h0m-2 0h0m-1 5h0m-9-5h0m-4-5h0m-4 4h0m-4 5h0m-1-7h0m-17 3h0m-19 2h0m-16-7h0m-9 1h0m-2-1h0m-7 3h0m-8 19h0m5-6h0m4 4h0m4-3h0m4 5h0m12-8h0m13-2h0m11 7h0m3-6h0m2 7h0m7-5h0m3 2h0m0 1h0m1-5h0m8 7h0m4-9h0m7 3h0m3 6h0m1 2h0m2-6h0m14-1h0m1 7h0m4-11h0m1 9h0m1-3h0m1-2h0m0 1h0m2 5h0m3-7h0m1 4h0m2-3h0m2 4h0m4-8h0m4 6h0m2-3h0m0 4h0m1-2h0m3-2h0m1 7h0m1-2h0m0 3h0m2-9h0m1 0h0m1 3h0m0 4h0m0 1h0m2-8h0m2 8h0m2-10h0m1 3h0m3 7h0m1-2h0m1-8h0m0 1h0m1 5h0m0 1h0m1-7h0m1 3h0m1-2h0m2 4h0m1 0h0m1 3h0m1 2h0m1-8h0m4-1h0m3 3h0m5 1h0m2-2h0m1-3h0m0 11h0m1-6h0m1 1h0m1 1h0m2-7h0m0 6h0m0 4h0m1-6h0m0 1h0m1 1h0m1-5h0m1-1h0m0 5h0m1 4h0m5-4h0m0 5h0m1-10h0m0 7h0m0 1h0m0 1h0m1-7h0m0 4h0m1 1h0m1-1h0m0 4h0m4-2h0m1-6h0m3 4h0m2 1h0m1-6h0m4 8h0m2 0h0m1-2h0m0 4h0m2-6h0m2 5h0m1 0h0m0 1h0m1-1h0m3-5h0m0 4h0m1 1h0m3-7h0m0 8h0m1-5h0m0 1h0m2 4h0m1-11h0m0 6h0m1 0h0m0 1h0m0 1h0m1-1h0m0 1h0m1-5h0m1-1h0m1 8h0m3-4h0m1 0h0m1 1h0m0 2h0m1-4h0m1-1h0m0 2h0m0 3h0m1-9h0m1 7h0m0 2h0m1-3h0m0 1h0m2-3h0m0 4h0m1 2h0m1-6h0m1 6h0m4-2h0m1 1h0m1 0h0m0 2h0m1-2h0m1-6h0m0 6h0m1-6h0m1 3h0m0 1h0m1 3h0m3-3h0m1-4h0m0 5h0m0 2h0m1-3h0m1-2h0m1 0h0m0 4h0m1-3h0m2 1h0m0 3h0m1-10h0m1 10h0m1-10h0m1 7h0m1-6h0m0 5h0m0 2h0m2 3h0m1-4h0m3-6h0m0 3h0m0 4h0m1-5h0m0 3h0m2-3h0m0 6h0m1-4h0m2 2h0m1-7h0m1 1h0m1 4h0m1 1h0m1-3h0m1-3h0m0 5h0m2-5h0m0 11h0m4-4h0m3 2h0m2-9h0m3 8h0m2-7h0m5 2h0m0 3h0m0 5h0m1-2h0m2-9h0m0 11h0m1-2h0m0 2h0m2-10h0m2 4h0m0 6h0m3-5h0m1-5h0m7 4h0m0 5h0m3-10h0m0 8h0m3-5h0m0 6h0m6-1h0m3 0h0m4-3h0m1 4h0m2-1h0m3-3h0m6 5h0m3-2h0m9-3h0m0 3h0m0 1h0m0 2h0m1-8h0m1 4h0m1-7h0m3 3h0m2 5h0m4-3h0m9-3h0m39 1h0m4-2h0m15 5h0m-1 12h0m-35 2h0m-8-2h0m-5 5h0m-21-9h0m-5 9h0m-1-11h0m-2 5h0m-3-4h0m-2 7h0m-8 1h0m-2 0h0m-2-9h0m-8 1h0m-1 3h0m-5 2h0m-1-4h0m-5-1h0m0 1h0m0 6h0m-4-5h0m-3 2h0m-1 1h0m0 4h0m-3-8h0m-2-1h0m0 1h0m-1 6h0m-1-7h0m-1 4h0m-3-1h0m-3 3h0m-3-2h0m-3-5h0m-2 9h0m-1-2h0m-3-1h0m0 2h0m-3-5h0m-1 3h0m-3 0h0m0 4h0m-2-6h0m-1 2h0m-6 1h0m-4-6h0m0 9h0m-1-9h0m-1 1h0m0 5h0m-1-7h0m-1 1h0m0 8h0m-2-8h0m0 6h0m-2-5h0m0 7h0m-6-9h0m0 3h0m0 8h0m-3-3h0m-3-5h0m0 1h0m0 1h0m0 1h0m0 1h0m-1-2h0m0 1h0m-2 5h0m-2-7h0m0 1h0m0 1h0m-1-6h0m-2 5h0m0 6h0m-1-5h0m0 1h0m-3-5h0m0 5h0m0 3h0m-1 1h0m-1-7h0m0 1h0m-1-4h0m0 7h0m-1-7h0m0 5h0m-1-1h0m-1 5h0m-1-8h0m0 6h0m-1 2h0m-1-6h0m0 4h0m0 1h0m-1-8h0m0 7h0m-1 2h0m-3-9h0m-4 8h0m-1-3h0m-1-3h0m0 1h0m0 2h0m0 2h0m-1-6h0m-2 2h0m0 4h0m-1-7h0m-3 0h0m-2 0h0m0 3h0m-1 2h0m-1-2h0m0 5h0m-1 0h0m-3-7h0m0 3h0m-1 1h0m-1-3h0m0 4h0m0 1h0m-3-3h0m-1-5h0m-1 10h0m-1-2h0m-2-7h0m0 7h0m-2-5h0m-2 6h0m-1-3h0m-1-4h0m-1-1h0m0 6h0m-1-1h0m-2 1h0m0 4h0m-1 0h0m-1-7h0m-3 5h0m-1-3h0m-2-3h0m0 7h0m-1-8h0m-1 9h0m-1 0h0m-3-8h0m-2-1h0m-2 0h0m0 5h0m-1-6h0m-1 0h0m0 5h0m-2-6h0m-1 2h0m-1 1h0m-2 0h0m-1 1h0m0 2h0m0 5h0m-2-9h0m0 1h0m-2 1h0m0 2h0m-1 1h0m0 3h0m-1 1h0m-2-6h0m-1 3h0m0 1h0m0 2h0m-1-11h0m0 6h0m0 1h0m-1-1h0m0 3h0m-1-2h0m-1 4h0m-1-3h0m0 2h0m-2-2h0m-2-7h0m0 1h0m-1 3h0m-4 0h0m-3-2h0m0 6h0m-1-4h0m0 4h0m-2-7h0m-2-2h0m-3 7h0m-1-5h0m0 5h0m-1-4h0m-2 2h0m-10-4h0m-2-1h0m0 4h0m-5 7h0m-1-10h0m0 4h0m0 4h0m-2 0h0m-3-4h0m-1 3h0m-1-1h0m-1 0h0m-5-4h0m0 3h0m-5-4h0m0 5h0m-2 1h0m-1-5h0m-10-2h0m-13 0h0m0 1h0m0 3h0m-8-3h0m-2 9h0m-4-8h0m-5 5h0m-9-5h0m-2-2h0m-36 10h0m-32 6h0m3 2h0m31-6h0m7 7h0m3 0h0m41-5h0m11 6h0m7-6h0m2 4h0m1 4h0m9-6h0m3-1h0m4 2h0m1-2h0m2 3h0m1 3h0m3-9h0m1-1h0m4 7h0m9 4h0m4-7h0m0 3h0m2-5h0m1-1h0m2 6h0m0 3h0m3-3h0m0 2h0m0 1h0m2 1h0m2-11h0m0 4h0m1 4h0m2-7h0m2 3h0m2-3h0m2-1h0m2 8h0m3-6h0m1 3h0m0 3h0m1 3h0m2-10h0m0 1h0m2 3h0m0 1h0m1-6h0m0 8h0m2-8h0m1 2h0m0 5h0m2-1h0m1-3h0m2-2h0m1 1h0m0 4h0m2-6h0m0 7h0m2-7h0m2 4h0m1 0h0m0 6h0m2-8h0m0 9h0m1-4h0m1-3h0m0 3h0m1-7h0m0 6h0m1-5h0m0 3h0m8 3h0m1-6h0m0 3h0m0 7h0m1-2h0m2-6h0m0 4h0m2-7h0m3 7h0m1-4h0m0 1h0m0 1h0m1 1h0m2 4h0m1-5h0m0 3h0m1 3h0m1-4h0m0 1h0m1-1h0m0 2h0m1-6h0m2-1h0m0 5h0m0 1h0m1 1h0m1-8h0m0 4h0m1-1h0m0 1h0m0 5h0m0 1h0m2-9h0m0 1h0m0 1h0m2-3h0m0 4h0m1-3h0m1 5h0m0 2h0m2-3h0m1-5h0m0 1h0m1 6h0m1-8h0m1 7h0m0 1h0m0 2h0m3-5h0m0 1h0m0 3h0m4-8h0m0 8h0m1-6h0m1 6h0m1-8h0m3 10h0m1-5h0m1 1h0m1-5h0m2 2h0m1 6h0m2-9h0m1 0h0m0 10h0m1-6h0m2-3h0m0 4h0m1-4h0m2 0h0m1 3h0m0 2h0m2-2h0m6 0h0m0 2h0m2-7h0m0 4h0m2 2h0m2 4h0m0 1h0m2-11h0m0 9h0m1-7h0m0 6h0m2-1h0m2-6h0m1 7h0m1-4h0m1 3h0m2-1h0m1 0h0m1-5h0m1-1h0m0 10h0m3-8h0m0 1h0m1-3h0m0 3h0m0 6h0m1-8h0m2 2h0m0 2h0m2 0h0m0 1h0m0 4h0m1 0h0m6-9h0m1 0h0m0 1h0m3 0h0m4-2h0m0 1h0m0 4h0m3-4h0m2 5h0m2-4h0m1 1h0m1 1h0m1-1h0m6 3h0m1 2h0m1 2h0m2-2h0m1 0h0m3 3h0m1-1h0m2-7h0m0 5h0m1-1h0m2-7h0m0 3h0m2-1h0m3 6h0m2 2h0m2-2h0m2-4h0m4-2h0m2-2h0m0 11h0m6-8h0m1 0h0m9-1h0m3 8h0m11-1h0m3 0h0m8-4h0m6-2h0m1-2h0m12 10h0m-23 8h0m-29-3h0m-5 6h0m-11-3h0m-6 1h0m-11-4h0m-2 0h0m-4 2h0m-7-3h0m-2 5h0m0 3h0m-1-3h0m-1-2h0m-9-6h0m-1 4h0m-2 3h0m-6-7h0m-3 1h0m-1 10h0m-1-4h0m-1-6h0m-1 1h0m0 3h0m0 1h0m-1-1h0m-1 1h0m-1 1h0m0 4h0m-1-7h0m-1-2h0m0 5h0m-3-4h0m-1-1h0m-2-2h0m-1 4h0m-1-2h0m0 6h0m-2-6h0m-1 6h0m0 2h0m-1-6h0m0 7h0m-1-11h0m0 4h0m0 2h0m-3 3h0m-2 2h0m-2-9h0m-1 0h0m0 8h0m-4-10h0m0 1h0m0 2h0m-1-1h0m-1 3h0m0 2h0m0 3h0m-2-7h0m0 2h0m0 4h0m-2-3h0m-1-4h0m-1 1h0m-1 7h0m-4 1h0m-1-5h0m-1-3h0m0 2h0m-1 4h0m-1-3h0m0 1h0m-1 4h0m-2-7h0m0 6h0m-1-1h0m-2-5h0m0 3h0m-1-2h0m-1-5h0m0 6h0m-1-6h0m-2 0h0m0 8h0m-2-7h0m-2 0h0m-2-1h0m0 4h0m-1 4h0m-1-7h0m-1 4h0m0 1h0m0 5h0m-1-2h0m0 2h0m-1-4h0m0 3h0m-1-1h0m-1-9h0m0 3h0m-1 5h0m-2 3h0m-2-11h0m-2 0h0m-1 0h0m-1 3h0m-2 3h0m0 1h0m0 2h0m-1-6h0m-1-3h0m-1 0h0m0 1h0m0 4h0m0 6h0m-1-10h0m-1 0h0m0 2h0m0 5h0m-1 0h0m-1 0h0m0 3h0m-1-1h0m0 1h0m-1-4h0m-1-6h0m-3 3h0m-2-2h0m-1 2h0m-2 1h0m-1 2h0m-1-3h0m-1-1h0m-4 2h0m-1-1h0m0 4h0m-3 1h0m-1-7h0m0 2h0m0 2h0m-1-6h0m0 5h0m0 1h0m0 1h0m-4-2h0m-2 0h0m-1-2h0m-1-3h0m0 9h0m-2 2h0m-1-11h0m-7 8h0m-4-3h0m-4-4h0m-3 1h0m0 5h0m-1-5h0m-8-2h0m-6 10h0m-1-7h0m-6 8h0m-1-3h0m-2-7h0m0 2h0m-2 3h0m-1 3h0m0 1h0m-1-10h0m-2 3h0m-2 3h0m-10-6h0m-1 3h0m-19 0h0m-6 1h0m-3 3h0m-1 3h0m-1-7h0m-12-1h0m-8 3h0m-21 11h0m9 1h0m12 2h0m7-7h0m0 8h0m21-8h0m2 4h0m5 2h0m5 2h0m7-1h0m9-4h0m1 4h0m1-6h0m0 8h0m5 0h0m0 2h0m3-5h0m1 0h0m2-6h0m2 8h0m6 0h0m1 2h0m1-7h0m1 2h0m2-4h0m2 6h0m1 1h0m1-8h0m0 2h0m1 3h0m3 2h0m2-5h0m0 1h0m2 6h0m1-7h0m12 1h0m0 2h0m2 1h0m5 0h0m2 1h0m2-6h0m5 1h0m1 5h0m1-4h0m3-3h0m0 3h0m2 3h0m4-5h0m1-1h0m5 4h0m0 6h0m4-8h0m2 8h0m4 1h0m1 0h0m1-5h0m0 5h0m2-8h0m1 4h0m2-2h0m7 0h0m0 2h0m1-4h0m1-3h0m0 1h0m0 4h0m4-3h0m1 8h0m1-9h0m0 3h0m2 3h0m1-7h0m1 1h0m5 6h0m3-7h0m0 1h0m2 7h0m3-2h0m0 5h0m1-7h0m0 7h0m1-8h0m2-2h0m0 4h0m1 2h0m4-7h0m3 1h0m5 2h0m1 8h0m1-6h0m1 6h0m1-7h0m1-2h0m1 0h0m1 5h0m1-4h0m0 3h0m5-5h0m2 10h0m1-4h0m1-7h0m1 4h0m4 1h0m6 0h0m2-3h0m0 6h0m2-4h0m0 4h0m3-7h0m0 4h0m11 5h0m2-7h0m1-2h0m0 1h0m2 0h0m4 3h0m2-5h0m3 6h0m4 3h0m1-4h0m7 0h0m6-2h0m8-3h0m9 0h0m14 6h0m2-1h0m2 4h0m4-8h0m36 1h0m51 5h0m-13 13h0m-38-8h0m-22 7h0m-4 1h0m-27-1h0m-5-1h0m-7 0h0m-4 2h0m-2-5h0m-2-1h0m-7 1h0m-2 2h0m-4 2h0m-2 1h0m-10-5h0m-5 5h0m-1-2h0m-6-4h0m-2 5h0m-1 0h0m-3-2h0m-1-4h0m-2 6h0m-7-6h0m-5 5h0m-12-2h0m-2-1h0m-5 0h0m-10 3h0m0 5h0m-4-6h0m-1 3h0m-6-6h0m-1 0h0m-1 5h0m-4-6h0m-2 5h0m-1-6h0m-3 3h0m0 3h0m-1-6h0m-1 6h0m0 1h0m-2-4h0m-5 2h0m-4 5h0m-2-3h0m-2-6h0m-1 8h0m-1 0h0m-4-3h0m-2 1h0m0 3h0m-8-2h0m-1 3h0m-5-6h0m-3 3h0m-10 3h0m-8-11h0m-3 0h0m-6 7h0m-3-7h0m-1 0h0m-9 10h0m-3-5h0m0 5h0m-10-5h0m-7-5h0m-11 2h0m-6 5h0m-13-6h0m-1 6h0m-14-4h0m-79 19h0m73 0h0m18 0h0m11-3h0m17-7h0m3 4h0m3 6h0m8-9h0m8 4h0m7-5h0m0 1h0m4-1h0m6 0h0m1 4h0m5 0h0m7-2h0m3 9h0m8-9h0m3 0h0m3 5h0m6-4h0m12 1h0m3 1h0m5-4h0m0 3h0m3-1h0m3 3h0m11-4h0m0 1h0m0 3h0m7 2h0m5-3h0m1-4h0m2 1h0m1 9h0m4-1h0m8-2h0m2 2h0m10 1h0m5-11h0m2 0h0m48 3h0m8 1h0m1 0h0m8 0h0m9 0h0m45 4h0m146-8h0m-147 19h0m-42-4h0m-5 1h0m-20 7h0m-27-3h0m-19-2h0m-14-3h0m-21 0h0m-22-2h0m-24-1h0m-3 2h0m-24 7h0m-20-2h0m-69-4h0m-27 4h0m-41 2h0m-18-1h0m-15-4h0m72 19h0m39-5h0m37-1h0m8 5h0m6-4h0m16 2h0m4-4h0m21 3h0m4 0h0m11 1h0m1-3h0m26-4h0m9 1h0m5 6h0m5-3h0m60 0h0m8-2h0m14-2h0m0 5h0m23 4h0m1 1h0m37-10h0m89 10h0m-117 8h0m-97-3h0m-1 5h0m-4-5h0m-17 0h0m-2-1h0m-14 8h0m-1-3h0m-10-1h0m-6 0h0m-2-3h0m-4-3h0m-3 0h0m-13 3h0m-12-4h0m-1 10h0m-1-6h0m-49-1h0m89 20h0m1-4h0m3-2h0m10 5h0m4-1h0m35-2h0m48-7h0m-61 17h0m-75 5h0m-33-4h0m-4 1h0m-3-3h0m0 4h0m-76 7h0m1 4h0m14-7h0m58 10h0m37-4h0m72-3h0m36 5h0m56-8h0m158 8h0m-238 6h0m-80 5h0m94 6h0m11-1h0m-49 15h0m-36-2h0m-190 14h0m152 5h0m2-4h0m132 1h0m15 16h0m-270 3h0" style="fill:none;stroke:#808080;stroke-width:5.30;stroke-linecap:round"/></g>
<g clip-path="url(#p4a99c7a10d)"><path transform="scale(0.4)" d="M1740 390h0m12-2h0m118 3h0m29-3h0m9 2h0m69-3h0m61 18h0m-2 2h0m-1-8h0m-32 1h0m-26-2h0m-41 8h0m-1-5h0m-7 6h0m-2-2h0m-43-7h0m-4 5h0m-2-6h0m-3 5h0m-17 2h0m-20 1h0m-1-2h0m-5 4h0m-15-10h0m-6 4h0m-3 5h0m-5 1h0m-25-4h0m-28 3h0m-7-5h0m-6 3h0m-17 1h0m-4 2h0m-3 7h0m1-1h0m2-3h0m1-1h0m2 1h0m2 9h0m1 0h0m1-4h0m2-2h0m1 5h0m5-7h0m0 5h0m1-6h0m0 9h0m1-5h0m3-6h0m0 4h0m11 2h0m1 2h0m1-2h0m8 1h0m3-5h0m3 9h0m2-6h0m0 1h0m0 2h0m1-3h0m0 1h0m3 3h0m1-6h0m0 8h0m1-2h0m1-3h0m0 2h0m0 2h0m2-3h0m1 0h0m0 2h0m3-2h0m0 2h0m2-7h0m4 7h0m0 1h0m0 1h0m1-2h0m2-4h0m1 0h0m1 5h0m3-5h0m1 0h0m0 2h0m1-6h0m1 0h0m0 8h0m2-9h0m1 10h0m4-4h0m3 1h0m1 0h0m4 1h0m2-2h0m1 5h0m2-7h0m1-3h0m1 8h0m2-4h0m5-5h0m0 2h0m3 8h0m3 1h0m6-3h0m2 1h0m5-1h0m1 3h0m1-2h0m10-4h0m4 4h0m3-7h0m5 1h0m1 5h0m5-6h0m3 2h0m0 2h0m3-5h0m3 0h0m10 1h0m0 3h0m3 1h0m1 3h0m1-2h0m2 2h0m0 2h0m2 0h0m1-7h0m3 3h0m0 3h0m4-4h0m3-5h0m1 3h0m0 7h0m1-7h0m4 3h0m0 3h0m4 1h0m1-10h0m0 4h0m1 6h0m4-11h0m0 11h0m2-7h0m2-2h0m1 1h0m2 5h0m6-6h0m5 7h0m0 2h0m1-11h0m1 3h0m1 2h0m1 2h0m1-3h0m1 0h0m0 3h0m7-7h0m0 2h0m2 7h0m1-2h0m1 2h0m1 0h0m2 0h0m5-1h0m1-8h0m7 2h0m3-1h0m1 10h0m1-5h0m1 0h0m0 2h0m4 0h0m0 1h0m2-2h0m2-5h0m2 8h0m4-7h0m0 2h0m1 2h0m1-7h0m1 3h0m0 3h0m7 2h0m5 0h0m1-1h0m1-3h0m0 1h0m1-1h0m3 5h0m3 0h0m4-5h0m2 2h0m0 3h0m2 2h0m1 0h0m10 0h0m1-5h0m1-1h0m0 5h0m1 0h0m1 1h0m0 7h0m-2 5h0m-1-8h0m0 3h0m-2-6h0m0 3h0m-4-3h0m-1 5h0m-2 5h0m-1-7h0m0 4h0m-3-1h0m-3-5h0m-4 3h0m-1 1h0m-1-1h0m-1-1h0m-9 6h0m-7-9h0m-2 0h0m-2 0h0m-3 5h0m-10-1h0m-1-3h0m0 8h0m-2-7h0m-1-1h0m0 1h0m-4-2h0m0 1h0m-2-1h0m-2 11h0m-1-9h0m-4 1h0m-3-3h0m-1 0h0m-1 0h0m-5 4h0m-1-2h0m-4 7h0m-1-9h0m-2 3h0m-1-1h0m-2 4h0m-1-6h0m-1 1h0m-2 6h0m-2-5h0m-2-2h0m0 7h0m-5-4h0m0 4h0m-2 1h0m-2 1h0m-4 0h0m-1-6h0m-13 6h0m-2-5h0m-1-4h0m0 2h0m-8 3h0m-1-5h0m-1 4h0m0 6h0m-4-9h0m-2 4h0m-3-5h0m-2 9h0m-6-9h0m0 6h0m-8-6h0m0 4h0m-2 7h0m-4-9h0m-1 4h0m-2-4h0m-1 0h0m-2 4h0m-2-1h0m-2-1h0m-9-3h0m0 2h0m-3 6h0m0 2h0m-1-1h0m-2-7h0m-1-2h0m-1 0h0m-1 0h0m0 7h0m-1 3h0m-2-10h0m-3 0h0m-1 9h0m-3-6h0m-2 3h0m-4-7h0m-3 1h0m-1-1h0m-4 4h0m-2 4h0m-1-8h0m-1 4h0m0 3h0m-1-1h0m-6-6h0m-1 10h0m-1-4h0m-2-6h0m0 8h0m-2-1h0m-5 2h0m-1-4h0m-6-1h0m-3-2h0m-2 1h0m-1 7h0m-4-7h0m-6 4h0m0 4h0m-1-9h0m-5 2h0m0 1h0m-1 0h0m-2 4h0m-1-3h0m-1 1h0m-2 1h0m-1-8h0m0 3h0m0 2h0m-1-5h0m-3 4h0m-6 4h0m-8-1h0m-1-3h0m-3 1h0m-5-1h0m-1-2h0m-6-1h0m0 5h0m-2-6h0m0 3h0m-4 2h0m-1 2h0m-1-1h0m-1-5h0m-1 4h0m-3-4h0m-2 7h0m13 8h0m14-3h0m3 2h0m5 7h0m8 0h0m7-3h0m16-6h0m6 1h0m5 2h0m9 1h0m25-4h0m9 1h0m13 8h0m4-6h0m0 5h0m17-5h0m7-4h0m1 2h0m1-1h0m4 7h0m23-8h0m1 9h0m14-9h0m4 0h0m57 3h0m3-3h0m2 7h0m2-7h0m14 1h0m10 1h0m1 3h0m5 3h0m10 7h0m-2 2h0m-123 3h0m-91-8h0m-49 9h0m-1 2h0m-7-3h0m-23-6h0m-13-2h0m0 13h0m120 17h0" style="fill:none;stroke:#00f;stroke-width:8.50;stroke-linecap:round"/></g>
<g id="matplotlib.axis_5">
<g id="xtick_11">
<g id="line2d_23">
<g>
<use href="#m7c25c535dc" x="663.092622" y="276.64" style="stroke: #000000; stroke-width: 0.8"/>
</g>
</g>
<g id="text_29">
<text style="font-size: 10px; font-family: 'DejaVu Sans'; text-anchor: middle" x="663.092622" y="291.238438" transform="rotate(-0 663.092622 291.238438)">−400</text>
</g>
</g>
<g id="xtick_12">
<g id="line2d_24">
<g>
<use href="#m7c25c535dc" x="707.761913" y="276.64" style="stroke: #000000; stroke-width: 0.8"/>
</g>
</g>
<g id="text_30">
<text style="font-size: 10px; font-family: 'DejaVu Sans'; text-anchor: middle" x="707.761913" y="291.238438" transform="rotate(-0 707.761913 291.238438)">−200</text>
</g>
</g>
<g id="xtick_13">
<g id="line2d_25">
<g>
<use href="#m7c25c535dc" x="752.431205" y="276.64" style="stroke: #000000; stroke-width: 0.8"/>
</g>
</g>
<g id="text_31">
<text style="font-size: 10px; font-family: 'DejaVu Sans'; text-anchor: middle" x="752.431205" y="291.238438" transform="rotate(-0 752.431205 291.238438)">0</text>
</g>
</g>
<g id="xtick_14">
<g id="line2d_26">
<g>
<use href="#m7c25c535dc" x="797.100496" y="276.64" style="stroke: #000000; stroke-width: 0.8"/>
</g>
</g>
<g id="text_32">
<text style="font-size: 10px; font-family: 'DejaVu Sans'; text-anchor: middle" x="797.100496" y="291.238438" transform="rotate(-0 797.100496 291.238438)">200</text>
</g>
</g>
<g id="xtick_15">
<g id="line2d_27">
<g>
<use href="#m7c25c535dc" x="841.769787" y="276.64" style="stroke: #000000; stroke-width: 0.8"/>
</g>
</g>
<g id="text_33">
<text style="font-size: 10px; font-family: 'DejaVu Sans'; text-anchor: middle" x="841.769787" y="291.238438" transform="rotate(-0 841.769787 291.238438)">400</text>
</g>
</g>
<g id="text_34">
<!-- $V_r$ [km s$^{-1}$] -->
<g transform="translate(713.754 308.789984)">
<text>
<tspan x="0" y="-0.601562" style="font-style: oblique; font-size: 14.7px; font-family: 'DejaVu Sans'">V</tspan>
<tspan x="10.09021" y="1.859375" style="font-style: oblique; font-size: 10.29px; font-family: 'DejaVu Sans'">r</tspan>
<tspan x="14.745313" y="-0.601562" style="font-size: 14.7px; font-family: 'DejaVu Sans'"> </tspan>
<tspan x="19.433911" y="-0.601562" style="font-size: 14.7px; font-family: 'DejaVu Sans'">[</tspan>
<tspan x="25.188428" y="-0.601562" style="font-size: 14.7px; font-family: 'DejaVu Sans'">k</tspan>
<tspan x="33.730176" y="-0.601562" style="font-size: 14.7px; font-family: 'DejaVu Sans'">m</tspan>
<tspan x="48.098462" y="-0.601562" style="font-size: 14.7px; font-family: 'DejaVu Sans'"> </tspan>
<tspan x="52.787061" y="-0.601562" style="font-size: 14.7px; font-family: 'DejaVu Sans'">s</tspan>
<tspan x="76.245764" y="-0.601562" style="font-size: 14.7px; font-family: 'DejaVu Sans'">]</tspan>
<tspan x="60.615308" y="-6.34375" style="font-size: 10.29px; font-family: 'DejaVu Sans'">−</tspan>
<tspan x="69.266528" y="-6.34375" style="font-size: 10.29px; font-family: 'DejaVu Sans'">1</tspan>
</text>
</g>
</g>
</g>
<g id="matplotlib.axis_6">
<g id="ytick_13">
<g id="line2d_28">
<g>
<use href="#mb258c49b38" x="641.16" y="275.76787" style="stroke: #000000; stroke-width: 0.8"/>
</g>
</g>
<g id="text_35">
<text style="font-size: 10px; font-family: 'DejaVu Sans'; text-anchor: end" x="634.16" y="279.567088" transform="rotate(-0 634.16 279.567088)">−600</text>
</g>
</g>
<g id="ytick_14">
<g id="line2d_29">
<g>
<use href="#mb258c49b38" x="641.16" y="240.17071" style="stroke: #000000; stroke-width: 0.8"/>
</g>
</g>
<g id="text_36">
<text style="font-size: 10px; font-family: 'DejaVu Sans'; text-anchor: end" x="634.16" y="243.969929" transform="rotate(-0 634.16 243.969929)">−400</text>
</g>
</g>
<g id="ytick_15">
<g id="line2d_30">
<g>
<use href="#mb258c49b38" x="641.16" y="204.573551" style="stroke: #000000; stroke-width: 0.8"/>
</g>
</g>
<g id="text_37">
<text style="font-size: 10px; font-family: 'DejaVu Sans'; text-anchor: end" x="634.16" y="208.372769" transform="rotate(-0 634.16 208.372769)">−200</text>
</g>
</g>
<g id="ytick_16">
<g id="line2d_31">
<g>
<use href="#mb258c49b38" x="641.16" y="168.976391" style="stroke: #000000; stroke-width: 0.8"/>
</g>
</g>
<g id="text_38">
<text style="font-size: 10px; font-family: 'DejaVu Sans'; text-anchor: end" x="634.16" y="172.77561" transform="rotate(-0 634.16 172.77561)">0</text>
</g>
</g>
<g id="ytick_17">
<g id="line2d_32">
<g>
<use href="#mb258c49b38" x="641.16" y="133.379232" style="stroke: #000000; stroke-width: 0.8"/>
</g>
</g>
<g id="text_39">
<text style="font-size: 10px; font-family: 'DejaVu Sans'; text-anchor: end" x="634.16" y="137.178451" transform="rotate(-0 634.16 137.178451)">200</text>
</g>
</g>
<g id="ytick_18">
<g id="line2d_33">
<g>
<use href="#mb258c49b38" x="641.16" y="97.782072" style="stroke: #000000; stroke-width: 0.8"/>
</g>
</g>
<g id="text_40">
<text style="font-size: 10px; font-family: 'DejaVu Sans'; text-anchor: end" x="634.16" y="101.581291" transform="rotate(-0 634.16 101.581291)">400</text>
</g>
</g>
<g id="ytick_19">
<g id="line2d_34">
<g>
<use href="#mb258c49b38" x="641.16" y="62.184913" style="stroke: #000000; stroke-width: 0.8"/>
</g>
</g>
<g id="text_41">
<text style="font-size: 10px; font-family: 'DejaVu Sans'; text-anchor: end" x="634.16" y="65.984132" transform="rotate(-0 634.16 65.984132)">600</text>
</g>
</g>
<g id="text_42">
<!-- $V_\phi$ [km s$^{-1}$] -->
<g transform="translate(599.335813 208.549) rotate(-90)">
<text>
<tspan x="0" y="-0.601562" style="font-style: oblique; font-size: 14.7px; font-family: 'DejaVu Sans'">V</tspan>
<tspan x="10.09021" y="1.859375" style="font-style: oblique; font-size: 10.29px; font-family: 'DejaVu Sans'">ϕ</tspan>
<tspan x="17.311438" y="-0.601562" style="font-size: 14.7px; font-family: 'DejaVu Sans'"> </tspan>
<tspan x="22.000037" y="-0.601562" style="font-size: 14.7px; font-family: 'DejaVu Sans'">[</tspan>
<tspan x="27.754553" y="-0.601562" style="font-size: 14.7px; font-family: 'DejaVu Sans'">k</tspan>
<tspan x="36.296301" y="-0.601562" style="font-size: 14.7px; font-family: 'DejaVu Sans'">m</tspan>
<tspan x="50.664587" y="-0.601562" style="font-size: 14.7px; font-family: 'DejaVu Sans'"> </tspan>
<tspan x="55.353186" y="-0.601562" style="font-size: 14.7px; font-family: 'DejaVu Sans'">s</tspan>
<tspan x="78.81189" y="-0.601562" style="font-size: 14.7px; font-family: 'DejaVu Sans'">]</tspan>
<tspan x="63.181433" y="-6.34375" style="font-size: 10.29px; font-family: 'DejaVu Sans'">−</tspan>
<tspan x="71.832654" y="-6.34375" style="font-size: 10.29px; font-family: 'DejaVu Sans'">1</tspan>
</text>
</g>
</g>
</g>
<g id="patch_15">
<path d="M 641.16 276.64 L 641.16 56.08 " style="fill: none; stroke: #000000; stroke-width: 0.8; stroke-linejoin: miter; stroke-linecap: square"/>
</g>
<g id="patch_16">
<path d="M 868.08 276.64 L 868.08 56.08 " style="fill: none; stroke: #000000; stroke-width: 0.8; stroke-linejoin: miter; stroke-linecap: square"/>
</g>
<g id="patch_17">
<path d="M 641.16 276.64 L 868.08 276.64 " style="fill: none; stroke: #000000; stroke-width: 0.8; stroke-linejoin: miter; stroke-linecap: square"/>
</g>
<g id="patch_18">
<path d="M 641.16 56.08 L 868.08 56.08 " style="fill: none; stroke: #000000; stroke-width: 0.8; stroke-linejoin: miter; stroke-linecap: square"/>
</g>
<g id="text_43">
<text style="font-size: 16px; font-family: 'DejaVu Sans'; text-anchor: middle" x="754.62" y="42.84" transform="rotate(-0 754.62 42.84)">c</text>
</g>
<g id="legend_3">
<g id="patch_19">
<path d="M 861.7 63.62 L 864.02 63.62 Q 865.18 63.62 865.18 62.46 L 865.18 60.14 Q 865.18 58.98 864.02 58.98 L 861.7 58.98 Q 860.54 58.98 860.54 60.14 L 860.54 62.46 Q 860.54 63.62 861.7 63.62 z
" style="fill: #ffffff; opacity: 0.8; stroke: #cccccc; stroke-linejoin: miter"/>
</g>
</g>
</g>
<g id="axes_4">
<g id="patch_20">
<path d="M 51.16 585.32 L 278.04 585.32 L 278.04 364.84 L 51.16 364.84 z
" style="fill: #ffffff"/>
</g>
<g clip-path="url(#p9402339d06)"><path transform="scale(0.4)" d="M155 946h0m1-1h0m7-3h0m1 5h0m11-6h0m0 5h0m5-8h0m1-1h0m0 6h0m1-4h0m3 0h0m0 6h0m4 1h0m0 1h0m4-4h0m2 1h0m1 0h0m6-6h0m1-1h0m2 6h0m1-1h0m3-3h0m0 5h0m2-7h0m1 10h0m1 0h0m1-4h0m0 1h0m1 3h0m2-5h0m0 5h0m1-2h0m0 2h0m1-4h0m2 3h0m1-9h0m0 3h0m2 7h0m1-3h0m2-4h0m0 4h0m1-4h0m0 4h0m0 2h0m1-2h0m1 0h0m1-1h0m1 0h0m1 0h0m1-4h0m0 3h0m0 2h0m1-2h0m1 3h0m1-4h0m0 5h0m3-6h0m1 1h0m0 4h0m1-5h0m0 6h0m1-7h0m0 3h0m2 0h0m0 5h0m1-2h0m1 2h0m1-6h0m1 4h0m2-4h0m1 5h0m0 1h0m1-7h0m2 2h0m0 3h0m0 1h0m1-1h0m1 0h0m1-4h0m1-3h0m0 3h0m1 4h0m0 1h0m1-6h0m0 7h0m1-4h0m1-3h0m0 6h0m3-6h0m0 4h0m1-5h0m0 3h0m1-3h0m0 5h0m0 2h0m3-3h0m1 4h0m1-2h0m1 0h0m1-5h0m0 1h0m1-2h0m0 5h0m1 1h0m2 0h0m0 1h0m2 1h0m1-8h0m1 2h0m1-3h0m0 5h0m1 2h0m1-7h0m0 8h0m5-5h0m0 6h0m2-1h0m2 1h0m1-7h0m3 7h0m3-7h0m2-2h0m0 1h0m1-2h0m0 1h0m1 9h0m1-10h0m0 5h0m0 3h0m2 2h0m1-7h0m1 4h0m1-1h0m1-6h0m0 1h0m0 9h0m2-8h0m2-1h0m1 7h0m1-4h0m0 6h0m1-9h0m0 9h0m1-4h0m2-1h0m0 3h0m2-2h0m3 0h0m0 1h0m8-5h0m4 5h0m17-3h0m6 6h0m11-3h0m24-2h0m12-3h0m2 5h0m10-1h0m15-1h0m4 3h0m39-1h0m14 11h0m-22-2h0m-73 4h0m-34 0h0m-8-5h0m-6 4h0m-1-1h0m-1 2h0m-2-7h0m-1 3h0m-2 3h0m-2 3h0m-7-7h0m-1 4h0m-1 1h0m-1 1h0m-1 0h0m-1-7h0m-3 7h0m0 1h0m-1-3h0m0 1h0m-3-8h0m-1 6h0m-2-6h0m0 1h0m0 5h0m-2 2h0m-1 1h0m-1-5h0m-1-1h0m0 4h0m-1-1h0m-3-6h0m-2 0h0m0 6h0m0 3h0m-1-6h0m-1 1h0m-1 1h0m0 2h0m-1-3h0m0 3h0m-1 2h0m-1-10h0m0 10h0m-1-6h0m0 3h0m0 2h0m-2-9h0m0 1h0m0 10h0m-1-9h0m0 3h0m-1-1h0m-1 2h0m-1-2h0m0 4h0m-1-5h0m0 1h0m0 1h0m0 3h0m-1-3h0m0 1h0m0 3h0m0 2h0m-1-7h0m-1-3h0m0 6h0m-1-5h0m0 2h0m-2 4h0m-1-5h0m0 5h0m-3-5h0m-2 5h0m-2-8h0m0 6h0m0 4h0m-1-9h0m0 4h0m0 2h0m-1 2h0m-1-4h0m0 3h0m0 1h0m-1-9h0m0 4h0m-1-3h0m0 2h0m0 5h0m0 1h0m0 1h0m-1-10h0m0 3h0m0 5h0m0 1h0m0 1h0m-1-8h0m0 5h0m0 2h0m-1-4h0m-1 6h0m-1-7h0m0 2h0m-1-5h0m0 3h0m0 2h0m-1 1h0m0 1h0m0 1h0m-1-3h0m0 1h0m0 2h0m-1-9h0m0 2h0m0 4h0m-1 0h0m0 1h0m-1 0h0m0 3h0m-2-4h0m0 2h0m0 1h0m0 1h0m-1-9h0m0 1h0m0 6h0m0 1h0m0 1h0m-1-10h0m0 5h0m0 2h0m0 4h0m-2-3h0m0 3h0m-1-2h0m-1-9h0m-1 5h0m-1-5h0m0 1h0m0 5h0m-1-1h0m0 5h0m-1-3h0m0 2h0m-1-6h0m0 1h0m0 1h0m-1-5h0m0 5h0m0 2h0m-1-7h0m0 4h0m0 7h0m-1-10h0m0 6h0m-1-2h0m0 1h0m-1 0h0m-1-1h0m0 3h0m-1-4h0m0 3h0m-1-1h0m0 1h0m-1-6h0m0 2h0m0 2h0m0 4h0m-1-9h0m0 2h0m-1-1h0m0 5h0m0 4h0m-2-9h0m-1 0h0m0 9h0m-1-10h0m0 6h0m0 1h0m-2-3h0m-1-1h0m0 8h0m-1-5h0m-1-6h0m-1 2h0m0 7h0m0 1h0m-1-8h0m0 5h0m-1 1h0m0 1h0m0 2h0m-1-8h0m-1 5h0m0 3h0m-2-3h0m-2-8h0m0 6h0m0 4h0m-1-5h0m-1-4h0m-1 6h0m0 1h0m0 1h0m-1-9h0m-1 11h0m-2-7h0m-1-1h0m-2 4h0m-1 1h0m-1-5h0m0 6h0m0 1h0m-1-10h0m0 7h0m0 4h0m-2-11h0m-1 9h0m-1-6h0m0 5h0m-1-3h0m0 5h0m-1 0h0m-1-7h0m-4 7h0m-5-8h0m-3 3h0m-1 0h0m-1 2h0m0 4h0m-3 0h0m-1-5h0m-1-2h0m-5-1h0m-1 1h0m-1 3h0m-6-6h0m-1 1h0m-4 6h0m3 11h0m3 4h0m2-10h0m0 6h0m2-2h0m0 1h0m1-6h0m6 2h0m2-2h0m1 3h0m1 8h0m1-11h0m1 2h0m0 9h0m5-6h0m0 6h0m1-9h0m0 9h0m1-4h0m1 1h0m1-3h0m1-4h0m0 10h0m1-9h0m0 1h0m1 6h0m0 2h0m1-11h0m0 1h0m1 2h0m0 3h0m0 5h0m1 0h0m1-5h0m1-6h0m0 9h0m1-1h0m2-8h0m1 0h0m1 7h0m0 3h0m0 1h0m1-3h0m1-5h0m1-2h0m2-1h0m0 7h0m0 3h0m1-3h0m1-7h0m0 1h0m0 3h0m1-3h0m1 1h0m1 2h0m0 1h0m0 4h0m1-7h0m1 0h0m0 5h0m0 4h0m1-9h0m0 5h0m1-5h0m0 3h0m1-5h0m0 3h0m2 5h0m1-7h0m0 3h0m2-3h0m3 5h0m0 5h0m2-10h0m0 2h0m1-1h0m2-1h0m0 6h0m1-7h0m0 1h0m0 9h0m1-9h0m0 4h0m1 6h0m1-9h0m0 1h0m0 4h0m1-7h0m0 4h0m0 2h0m0 3h0m1-6h0m0 1h0m0 4h0m1-6h0m0 1h0m0 2h0m0 6h0m1-7h0m1-4h0m0 1h0m1-1h0m0 2h0m0 3h0m0 3h0m0 2h0m1-10h0m1 5h0m0 2h0m0 1h0m1-8h0m0 7h0m0 4h0m1-10h0m0 2h0m0 2h0m0 4h0m1-8h0m0 7h0m0 3h0m1-10h0m0 2h0m0 1h0m0 2h0m1-1h0m1-1h0m0 1h0m0 2h0m1-5h0m0 3h0m0 3h0m1-7h0m0 2h0m0 1h0m1-4h0m0 3h0m2 1h0m0 2h0m0 1h0m0 1h0m1-8h0m1 11h0m1-10h0m0 5h0m1-2h0m0 2h0m1 2h0m1-6h0m1 1h0m0 4h0m0 3h0m0 1h0m1-10h0m0 4h0m0 1h0m3-3h0m0 6h0m1-4h0m0 3h0m0 1h0m2-9h0m0 10h0m1-3h0m0 2h0m1-2h0m0 3h0m0 1h0m1-9h0m0 3h0m0 1h0m0 4h0m1-7h0m0 5h0m1 1h0m1-9h0m1 7h0m1-4h0m0 2h0m0 5h0m6-7h0m2 5h0m1-8h0m0 2h0m0 4h0m1-3h0m0 2h0m1-5h0m0 9h0m1 1h0m0 1h0m1-6h0m0 1h0m0 3h0m1-3h0m2-1h0m1-4h0m2 5h0m1-3h0m0 3h0m2-1h0m1-1h0m1-3h0m1 3h0m0 6h0m2-4h0m2-1h0m0 1h0m1-5h0m1 6h0m1-6h0m3 4h0m1 3h0m0 1h0m1-4h0m0 5h0m1-7h0m0 4h0m1-3h0m1 1h0m1 4h0m1 1h0m2-9h0m1 5h0m1-1h0m0 6h0m1-11h0m5 11h0m2-8h0m9 8h0m1-8h0m0 1h0m2 3h0m9 4h0m1-3h0m7 3h0m3-2h0m18 1h0m1-7h0m31 3h0m28-6h0m45 0h0m60 5h0m-44 17h0m-33-4h0m-87-3h0m-2-2h0m-1 0h0m-27 3h0m-4 7h0m-2-7h0m0 7h0m-3-10h0m-4 1h0m0 7h0m-10 0h0m-3 2h0m-1-9h0m-6 6h0m-1-8h0m-1 9h0m-3-4h0m-1 6h0m-1-6h0m0 4h0m-2-8h0m-1-1h0m0 5h0m-3-5h0m0 2h0m-1-1h0m-2 1h0m0 5h0m0 1h0m-3-3h0m-3 4h0m-1-7h0m0 4h0m-5-6h0m0 8h0m0 3h0m-1-11h0m-2 0h0m-1 4h0m-1-4h0m-3 5h0m0 1h0m-3-6h0m-1 0h0m0 5h0m0 6h0m-1-2h0m0 1h0m-2-1h0m-4-8h0m-1 0h0m-1 9h0m-1-3h0m-1-6h0m0 3h0m-3-3h0m0 2h0m0 1h0m0 4h0m-1-5h0m0 7h0m-1-7h0m0 3h0m0 4h0m-1-10h0m-1 2h0m0 4h0m-1-3h0m0 3h0m-1-3h0m0 8h0m-1-10h0m0 1h0m0 3h0m0 3h0m-1-5h0m-1 1h0m-2-3h0m0 1h0m0 1h0m-1 0h0m0 4h0m-1-7h0m0 5h0m0 5h0m-1-5h0m0 2h0m0 2h0m0 2h0m-1-9h0m0 9h0m-1-9h0m0 3h0m0 5h0m0 1h0m-1-8h0m0 2h0m-1 5h0m-1-10h0m0 8h0m0 2h0m-1-10h0m-1 10h0m0 1h0m-1-7h0m0 1h0m0 2h0m-1-6h0m0 2h0m-1-3h0m0 2h0m0 2h0m0 4h0m0 2h0m0 1h0m-1-11h0m-1 1h0m0 6h0m0 3h0m-1-7h0m0 5h0m-1-3h0m0 1h0m0 1h0m0 1h0m0 1h0m-2-5h0m-2-3h0m0 6h0m-1-3h0m0 1h0m0 2h0m-1 2h0m0 2h0m-1-8h0m-1 7h0m0 1h0m-1-7h0m0 2h0m-1-4h0m0 2h0m-1-2h0m0 6h0m0 3h0m-1-8h0m0 3h0m0 3h0m0 2h0m-1-8h0m-1 6h0m-2-3h0m0 3h0m-1-9h0m0 5h0m0 4h0m-2 2h0m-2-2h0m-1-6h0m-2 6h0m-1-3h0m-1-1h0m0 5h0m-1-2h0m-1-5h0m0 4h0m-1 2h0m-2-3h0m-2-6h0m0 3h0m-1-1h0m0 5h0m-1-7h0m0 4h0m-2-1h0m-1-1h0m-1 1h0m0 1h0m-1-3h0m-1 5h0m-2-5h0m-1 6h0m-5-4h0m-1 5h0m-1-8h0m-2 3h0m-3 4h0m-7 0h0m-2 2h0m-9-7h0m-1 2h0m-1 0h0m-1 3h0m-4-3h0m0 7h0m-2-8h0m-5 2h0m23 18h0m10-11h0m0 2h0m1 4h0m0 1h0m1-4h0m7-2h0m0 1h0m1-2h0m0 1h0m1 0h0m0 4h0m1-2h0m0 1h0m2 3h0m1-5h0m5 0h0m0 4h0m0 3h0m2-4h0m2 0h0m1-2h0m0 2h0m2-5h0m0 4h0m0 2h0m0 1h0m1-7h0m0 4h0m4 1h0m0 1h0m3-1h0m0 4h0m2 2h0m2-10h0m0 10h0m1-7h0m0 1h0m0 6h0m2-8h0m0 6h0m1 0h0m2-9h0m0 6h0m0 5h0m2-3h0m3-6h0m0 1h0m0 3h0m0 2h0m0 2h0m1-9h0m0 4h0m1 4h0m1-1h0m1-6h0m0 5h0m1-7h0m0 9h0m1-8h0m0 3h0m0 1h0m0 3h0m0 2h0m1 1h0m1-10h0m0 1h0m0 7h0m1-9h0m0 2h0m0 1h0m0 7h0m2-10h0m0 10h0m2-10h0m0 3h0m0 2h0m0 1h0m1-4h0m0 3h0m0 1h0m0 2h0m1 1h0m1 0h0m1-7h0m0 6h0m1-2h0m0 4h0m1-9h0m0 7h0m1-7h0m0 7h0m1-4h0m1-1h0m0 3h0m0 4h0m1-8h0m0 3h0m0 1h0m0 4h0m1-7h0m0 4h0m1-5h0m0 7h0m1-6h0m0 3h0m0 3h0m0 1h0m2-7h0m0 5h0m1-8h0m0 3h0m1 5h0m7-2h0m1-5h0m1 0h0m0 2h0m0 7h0m1-1h0m0 2h0m1-11h0m0 11h0m2-9h0m0 1h0m2-2h0m2-1h0m0 1h0m0 7h0m5-2h0m0 1h0m2-5h0m5-2h0m2 6h0m0 3h0m1-2h0m0 1h0m6-7h0m1-1h0m0 11h0m2-6h0m0 1h0m1 4h0m10-1h0m3 2h0m1-3h0m3-7h0m7 4h0m1-2h0m2 0h0m5-3h0m2 3h0m2 5h0m1-4h0m1 3h0m19-5h0m2 6h0m10-1h0m6-1h0m18-3h0m58 3h0m6-5h0m31 5h0m82 11h0m-47-2h0m-50 5h0m-6 3h0m-59-4h0m-33-1h0m-3-3h0m-18-2h0m-2-1h0m-5 6h0m-7-4h0m-10 7h0m-3 1h0m-3-9h0m-8 3h0m-1 2h0m-1-6h0m0 2h0m-6 9h0m-3-10h0m-3-1h0m0 9h0m-1-8h0m-2-1h0m-2 0h0m-3 0h0m-2 2h0m-4 6h0m0 1h0m0 1h0m-3-8h0m0 8h0m0 1h0m-1-4h0m-2 1h0m-2 0h0m-2-8h0m-1 5h0m0 5h0m-2-2h0m-2 2h0m-2-5h0m0 6h0m-1-11h0m-1 7h0m-3-5h0m-2-2h0m0 4h0m0 1h0m0 1h0m-1-2h0m-2 0h0m-1 1h0m0 2h0m-1-4h0m-1-3h0m-1 3h0m-1-2h0m-1 0h0m-1-1h0m0 2h0m-1 0h0m0 4h0m0 3h0m-1-9h0m0 9h0m-1-5h0m0 2h0m-1-4h0m-1 3h0m0 2h0m0 3h0m-1-8h0m0 3h0m-2 3h0m0 1h0m0 2h0m-1-8h0m0 2h0m0 5h0m0 1h0m-1-10h0m0 8h0m-1-5h0m0 2h0m0 4h0m-1-4h0m0 1h0m0 1h0m0 1h0m0 1h0m-2-10h0m0 6h0m0 2h0m-1-5h0m-1-2h0m0 9h0m-1-7h0m0 4h0m0 2h0m0 1h0m-2-5h0m0 1h0m-1 1h0m-1 2h0m-1-9h0m0 7h0m0 2h0m-1-1h0m0 2h0m-1-8h0m-3-2h0m0 6h0m0 1h0m-1 0h0m0 2h0m-1-9h0m0 3h0m0 1h0m0 7h0m-1-8h0m0 7h0m-1-7h0m-2 3h0m-1-1h0m-1 3h0m-2-3h0m0 2h0m-1-3h0m0 5h0m-7-3h0m-1-1h0m-2 0h0m0 4h0m-1-5h0m-4-3h0m0 7h0m-2-6h0m-2-1h0m0 6h0m-1 3h0m-2-10h0m0 11h0m-4-10h0m-5-1h0m0 8h0m-3-3h0m0 6h0m-1-6h0m-3-3h0m-1 3h0m0 4h0m-2-3h0m-29 2h0m18 6h0m7-2h0m4 9h0m3-8h0m1 4h0m1 0h0m6 0h0m1-2h0m0 4h0m1-4h0m3-3h0m0 4h0m3-1h0m1-2h0m5 10h0m1-3h0m1-7h0m4 10h0m1-8h0m4 2h0m6-2h0m2 7h0m1-8h0m0 3h0m1-5h0m0 3h0m0 6h0m1-7h0m0 2h0m1 3h0m1-6h0m0 8h0m1 0h0m0 1h0m1-5h0m3 4h0m1-6h0m1 2h0m1 6h0m2-11h0m0 2h0m0 8h0m1-8h0m0 3h0m1-5h0m0 11h0m1-7h0m1 2h0m1-3h0m0 8h0m1-11h0m0 1h0m0 4h0m0 4h0m0 1h0m1-7h0m0 2h0m0 2h0m0 1h0m0 1h0m2-5h0m0 3h0m0 3h0m1-8h0m1-2h0m0 1h0m1 4h0m0 4h0m1-9h0m0 3h0m0 2h0m0 5h0m1-8h0m0 6h0m0 1h0m2-9h0m0 11h0m1-4h0m0 3h0m1-4h0m2-3h0m0 4h0m2 2h0m2-4h0m2 0h0m0 6h0m1-9h0m0 4h0m2 0h0m1-3h0m0 8h0m1-3h0m2 3h0m1-3h0m1-8h0m0 4h0m1 5h0m4-2h0m2-6h0m1 4h0m0 2h0m6 4h0m4-1h0m0 1h0m1-10h0m2 4h0m1-5h0m6 2h0m7-1h0m3-1h0m4 5h0m0 1h0m8-2h0m9-3h0m1 1h0m3 9h0m3-10h0m11 9h0m8-6h0m6 0h0m51-3h0m24 9h0m17-6h0m22-1h0m116 3h0m-164 17h0m-35-9h0m-9 4h0m-14 1h0m-2-1h0m-15-1h0m-2 1h0m-6-4h0m-12 5h0m-14-2h0m-1 2h0m-3-1h0m-3-2h0m-6 5h0m-2-4h0m-1-4h0m-1 4h0m-1 3h0m-2-8h0m-6 5h0m-5-3h0m-4 2h0m-1 5h0m-4-1h0m-1-8h0m-1 10h0m0 1h0m-2-9h0m-5-2h0m-1 8h0m-1-6h0m-1 2h0m-1 0h0m-2 4h0m-2-5h0m-1 1h0m0 7h0m-1-5h0m-2 1h0m0 3h0m-1-5h0m0 5h0m-1-9h0m-1 7h0m-1 2h0m-1-10h0m0 2h0m0 8h0m-1-10h0m-2 9h0m-1-9h0m0 1h0m-1 0h0m0 2h0m0 5h0m0 3h0m-1-9h0m-1 4h0m-2-5h0m0 1h0m0 1h0m0 4h0m-1-5h0m0 4h0m-1-1h0m0 3h0m0 1h0m-1-7h0m0 6h0m-1 0h0m0 1h0m-1-4h0m0 3h0m0 1h0m0 1h0m-1-6h0m0 3h0m0 3h0m-1-3h0m0 3h0m-1-8h0m-1 0h0m0 1h0m0 6h0m-1-8h0m-2 8h0m-1 2h0m-1-7h0m0 3h0m-2-7h0m0 1h0m-1-1h0m0 10h0m-1-6h0m0 6h0m-1-10h0m-3 8h0m-1-2h0m-2-4h0m-4 2h0m-1 4h0m-2-8h0m-1 2h0m-1 2h0m-4 6h0m-2-9h0m-2 0h0m-1 5h0m-3-6h0m0 3h0m-1-2h0m0 7h0m0 1h0m-7-1h0m-1 2h0m-1 1h0m-1 0h0m-1-2h0m-3-2h0m-4-2h0m-6 6h0m-5-7h0m-18 1h0m27 14h0m9-3h0m1 1h0m7 3h0m10 0h0m0 1h0m6-3h0m0 3h0m3-4h0m0 1h0m3-2h0m1 1h0m4 1h0m0 2h0m2-3h0m0 3h0m0 3h0m3-10h0m0 4h0m0 4h0m1-7h0m0 3h0m1 4h0m3-6h0m0 1h0m0 7h0m1-8h0m0 8h0m1-11h0m1 7h0m0 2h0m1-1h0m1-4h0m1 0h0m0 3h0m1-3h0m0 6h0m0 1h0m1-5h0m2-1h0m0 3h0m0 1h0m0 2h0m1-11h0m0 2h0m0 1h0m0 4h0m1-4h0m0 8h0m1 0h0m1-9h0m0 1h0m1 3h0m0 2h0m0 3h0m1-7h0m0 1h0m0 5h0m1-9h0m0 1h0m0 1h0m0 1h0m1 3h0m0 1h0m1-4h0m0 3h0m1-5h0m0 1h0m0 2h0m0 1h0m0 1h0m0 3h0m2-7h0m2-1h0m0 8h0m1-2h0m5-7h0m0 9h0m2-2h0m14-3h0m4-1h0m1 0h0m11 1h0m6 3h0m3-1h0m5-4h0m21 0h0m4 6h0m15-4h0m33 3h0m21 2h0m115-9h0m55 4h0m45 5h0m-121 6h0m-24 5h0m-113-3h0m-10 0h0m-14-4h0m-1 2h0m-5 4h0m-2-3h0m-5 1h0m-7-5h0m-3 5h0m-4 2h0m-15 1h0m-8-5h0m-4-2h0m0 1h0m0 6h0m-1-2h0m-1 1h0m-1-1h0m-5 2h0m-2-4h0m-4 0h0m-1-3h0m0 8h0m-1-7h0m-1 8h0m-1-7h0m0 6h0m-4-9h0m0 6h0m-4-3h0m0 1h0m0 5h0m-1-6h0m0 1h0m0 3h0m-2-4h0m-1 0h0m0 5h0m-1-5h0m0 6h0m-1-8h0m0 1h0m0 4h0m-1-3h0m-1 7h0m-1-10h0m0 5h0m-1-4h0m0 3h0m0 2h0m-1-3h0m0 4h0m-1 0h0m0 1h0m-1-6h0m-1 0h0m0 1h0m0 3h0m-1 0h0m-2-1h0m0 3h0m0 2h0m-1-7h0m0 2h0m0 2h0m-1-3h0m0 6h0m-3-6h0m0 5h0m-1-10h0m0 1h0m0 3h0m-1 1h0m-1-5h0m0 7h0m0 1h0m-1-3h0m-1 2h0m0 2h0m-1-3h0m0 1h0m-1-6h0m-3 6h0m-1-2h0m0 4h0m-3-6h0m0 1h0m0 7h0m-1-4h0m-3-1h0m-3 0h0m-3-5h0m-1 6h0m0 1h0m-1-5h0m0 2h0m-1 3h0m0 1h0m-5-9h0m-2 0h0m0 9h0m-1-4h0m-3-3h0m-2 5h0m0 1h0m-1-1h0m-2-4h0m-1-3h0m0 6h0m-1-3h0m-3 8h0m-2 0h0m-6-3h0m-3 3h0m-3 0h0m-5-3h0m15 6h0m2 2h0m0 2h0m3 1h0m8-5h0m4 3h0m1 2h0m0 2h0m2-9h0m0 7h0m8-1h0m1-6h0m0 4h0m4 0h0m3 4h0m0 3h0m2-11h0m2 1h0m1 0h0m3 2h0m1 0h0m0 8h0m1-10h0m1 5h0m1 3h0m1-8h0m2 0h0m2 5h0m0 5h0m1-3h0m0 3h0m1-11h0m1 9h0m1-9h0m0 10h0m1-10h0m0 5h0m0 5h0m1-9h0m1-1h0m0 1h0m0 2h0m0 3h0m0 5h0m1-8h0m0 1h0m0 3h0m0 3h0m0 1h0m1-9h0m1-2h0m0 1h0m0 8h0m1-7h0m0 7h0m0 1h0m0 1h0m1-10h0m0 10h0m1-10h0m0 6h0m0 3h0m0 1h0m1-9h0m1-2h0m0 3h0m1 2h0m1-2h0m0 4h0m0 1h0m1-7h0m0 2h0m0 2h0m0 6h0m1-11h0m0 1h0m0 2h0m2-1h0m0 3h0m1 2h0m1 3h0m1-7h0m0 7h0m1-5h0m2 3h0m1-6h0m0 9h0m4-4h0m3 0h0m7 0h0m12-7h0m4 6h0m16 5h0m8-3h0m4-8h0m2 0h0m2 0h0m14 6h0m0 1h0m3-7h0m11 9h0m7 2h0m33-10h0m25 9h0m82-6h0m137 15h0m-45-5h0m-68 9h0m-25-7h0m-47 0h0m-53 0h0m-8 1h0m-10-4h0m-3 2h0m-1 3h0m-9 0h0m-5-1h0m-12 6h0m-5-1h0m-8-10h0m-1 9h0m-3-1h0m-3-2h0m-4 4h0m-19-10h0m-1 11h0m-2-7h0m-2 3h0m-19-5h0m-5 0h0m0 5h0m-7-7h0m0 11h0m-2-2h0m-4-1h0m-3 1h0m-1-3h0m-2-6h0m0 2h0m-1 1h0m-2 2h0m0 1h0m-1-4h0m-2-2h0m0 2h0m0 3h0m0 3h0m0 1h0m-1-6h0m0 8h0m-1-8h0m-1 1h0m-1 1h0m0 4h0m0 2h0m-2-7h0m0 7h0m-2-11h0m-1 2h0m0 2h0m0 4h0m0 3h0m-1-10h0m0 3h0m-1-3h0m0 6h0m-1 0h0m0 1h0m0 2h0m-1-3h0m0 1h0m-1-4h0m0 2h0m-1 0h0m0 2h0m0 1h0m-1 2h0m-1-11h0m-2 8h0m0 1h0m-2-1h0m0 1h0m-1-2h0m-1-7h0m0 11h0m-1-9h0m0 1h0m0 5h0m-1-8h0m0 6h0m0 2h0m-1-6h0m-1 4h0m-1-6h0m-2 0h0m-5 0h0m-1 1h0m-5 1h0m0 1h0m0 2h0m0 3h0m-1-7h0m0 2h0m-2-1h0m-3 1h0m0 5h0m-4-7h0m0 3h0m-1-1h0m0 5h0m-1-1h0m-5-5h0m-2 9h0m-10-1h0m-4-8h0m-4 1h0m-12 16h0m11 3h0m6-10h0m1 4h0m2 1h0m2 2h0m3 4h0m5-3h0m2-6h0m3 2h0m6-4h0m3 1h0m2 3h0m0 3h0m1-4h0m1-1h0m0 1h0m2 1h0m7-3h0m4 0h0m0 6h0m2-6h0m1 2h0m3-2h0m0 7h0m0 1h0m1-7h0m0 1h0m1 1h0m2-4h0m1 0h0m1 1h0m0 3h0m2 0h0m0 6h0m1-10h0m1 6h0m0 4h0m0 1h0m1-1h0m1-9h0m0 3h0m0 3h0m0 3h0m2-9h0m0 9h0m1-7h0m1 0h0m1 6h0m1-9h0m0 6h0m0 4h0m1-3h0m1-3h0m0 6h0m1-10h0m0 1h0m0 1h0m0 4h0m0 1h0m0 1h0m2 2h0m1-3h0m1-6h0m0 4h0m1-3h0m0 6h0m0 2h0m1-10h0m0 10h0m0 1h0m2 0h0m1-7h0m0 1h0m0 4h0m1-1h0m1 3h0m1-7h0m1-3h0m8 4h0m11 5h0m1 0h0m3-5h0m3-2h0m5 6h0m7-5h0m1 7h0m1-4h0m1-5h0m1 0h0m5 9h0m1-2h0m3-6h0m4 2h0m24 1h0m13-2h0m12-4h0m8 11h0m7-9h0m7 3h0m4-3h0m24 6h0m77 7h0m-39-1h0m-24 4h0m-7-3h0m-29 4h0m-16 3h0m-8-2h0m-8-1h0m-4 2h0m-15 0h0m-7 1h0m-8-1h0m-5 1h0m-7-3h0m-18-6h0m0 10h0m-3-4h0m-1 0h0m-5-4h0m-13-3h0m0 11h0m-1 0h0m-6-8h0m-3-1h0m-1 9h0m-5-9h0m0 2h0m-2-1h0m0 2h0m-2-3h0m0 2h0m-1-4h0m0 6h0m0 1h0m-1-5h0m0 5h0m-1-7h0m-3 5h0m0 4h0m-1-7h0m0 6h0m-1-5h0m-1 8h0m-1-11h0m0 8h0m0 2h0m-2-4h0m-1-5h0m0 1h0m0 2h0m0 2h0m-2 3h0m0 1h0m-1-9h0m0 3h0m0 2h0m-1-6h0m0 4h0m0 1h0m0 1h0m-1-2h0m-3-3h0m0 3h0m-1 0h0m0 3h0m-1 2h0m0 1h0m-1-8h0m0 1h0m0 8h0m-2-9h0m0 1h0m-1-3h0m0 1h0m0 8h0m-2-6h0m-1 6h0m-1 2h0m-1-4h0m0 4h0m-1-11h0m-1 2h0m-1 0h0m-2 4h0m-1 2h0m0 2h0m-11-4h0m-7-6h0m0 6h0m-2-2h0m0 2h0m-4 0h0m-5 4h0m-2-6h0m-6 2h0m-3-1h0m-1-4h0m-7 18h0m4 3h0m9 0h0m4-5h0m10-3h0m9 3h0m1-1h0m0 4h0m8-1h0m3-1h0m1 1h0m1-2h0m1 2h0m1-5h0m3-1h0m0 1h0m3 6h0m1-8h0m0 4h0m0 3h0m0 3h0m1-8h0m0 5h0m1 2h0m0 1h0m1-6h0m0 5h0m1-9h0m1 0h0m0 1h0m1 3h0m0 5h0m0 1h0m1-7h0m0 1h0m1-2h0m0 4h0m2-4h0m1 8h0m1-8h0m1 6h0m1-8h0m0 4h0m1-1h0m0 5h0m1-8h0m1 10h0m1-1h0m0 2h0m1-9h0m0 1h0m0 7h0m2-2h0m0 1h0m1-2h0m0 1h0m1 2h0m0 1h0m1-7h0m1 4h0m1-8h0m0 10h0m0 1h0m2-4h0m1-6h0m0 9h0m1-8h0m1 9h0m7-4h0m0 2h0m5-5h0m4 4h0m5-8h0m1 8h0m0 1h0m1 2h0m2-1h0m5-8h0m4 1h0m2 6h0m4 1h0m5-7h0m6 2h0m0 1h0m3 3h0m12-3h0m2-2h0m1-3h0m2-1h0m13 9h0m26-3h0m11-5h0m26-1h0m112 10h0m-70 10h0m-42-1h0m-29-6h0m-14 9h0m-14-3h0m-3 0h0m-17 4h0m-11-10h0m-16 0h0m-4 4h0m0 4h0m-2-9h0m-3 0h0m-3 1h0m-2 4h0m-1-4h0m0 5h0m-11 3h0m-4 1h0m-1-8h0m0 7h0m-5-7h0m-2 1h0m-2 8h0m-1-6h0m-3-1h0m-1 3h0m0 2h0m-1 0h0m-1-8h0m0 1h0m0 4h0m-1 3h0m-1-5h0m0 1h0m-1-4h0m-2 7h0m0 3h0m-1-11h0m-2 2h0m0 6h0m0 1h0m-1-8h0m-2 3h0m0 6h0m0 1h0m-2-10h0m0 8h0m-2-8h0m0 3h0m0 2h0m0 3h0m0 1h0m-1-8h0m0 9h0m-1-11h0m-1 6h0m0 4h0m-1-7h0m0 1h0m0 1h0m-1 0h0m0 6h0m-1 0h0m-1-6h0m-1 2h0m-1-5h0m-2 5h0m-1-1h0m-3 0h0m-2-6h0m-1 7h0m-2-3h0m-5 4h0m-10 2h0m-1-4h0m-1-1h0m-1-5h0m-5 6h0m-8-3h0m-1 1h0m0 6h0m-1-8h0m0 3h0m-1 1h0m-3 2h0m-1-7h0m-3 5h0m-5-3h0m-5 4h0m-2 12h0m12 2h0m13 0h0m0 1h0m11-7h0m0 6h0m0 1h0m2 0h0m4-7h0m1 5h0m1 2h0m1-5h0m3-5h0m0 9h0m1-1h0m1-8h0m3 3h0m2-1h0m0 4h0m1-6h0m4 1h0m1 4h0m0 5h0m1 1h0m1-4h0m0 3h0m1-5h0m0 3h0m0 2h0m2-10h0m0 9h0m1-1h0m1-5h0m0 6h0m1-9h0m0 2h0m0 2h0m0 4h0m0 1h0m1-2h0m1-3h0m0 1h0m0 1h0m1-4h0m1 3h0m0 1h0m0 2h0m0 1h0m2-9h0m0 5h0m0 2h0m1-3h0m1 1h0m0 4h0m3-5h0m0 1h0m0 3h0m1-5h0m0 4h0m1 4h0m2-10h0m0 4h0m0 1h0m3-4h0m1 0h0m0 6h0m1-8h0m0 3h0m2 7h0m1-9h0m5 7h0m2-6h0m0 8h0m1-3h0m2-5h0m3 0h0m9 1h0m7-1h0m6-1h0m9 5h0m13-3h0m1 5h0m16-7h0m8 7h0m24 1h0m3-5h0m25 2h0m12-3h0m64-3h0m384 23h0m-335-4h0m-65 1h0m-13-5h0m-9-3h0m-16 5h0m-7 1h0m-27-5h0m-15 6h0m-25-3h0m-8-3h0m0 2h0m-17-3h0m-19 7h0m-2 1h0m-3 2h0m-6 1h0m-1-4h0m-3 4h0m-9-2h0m-3-4h0m-1 0h0m-6 0h0m-4-5h0m0 2h0m-2 4h0m-1-6h0m0 2h0m-2 2h0m0 1h0m-2-4h0m-1 8h0m0 2h0m-1-8h0m0 1h0m-1 2h0m-2-5h0m0 1h0m-3 6h0m-1 3h0m-1-5h0m-1-6h0m0 3h0m0 4h0m0 2h0m-1 1h0m-1-8h0m-1 9h0m-1-10h0m-2 2h0m0 3h0m-1-1h0m-1-3h0m0 4h0m-1-5h0m0 2h0m-1-3h0m0 4h0m0 6h0m-1-7h0m-1-1h0m0 1h0m0 2h0m0 3h0m0 2h0m-3 1h0m-3-10h0m-1 5h0m0 1h0m-3-7h0m0 4h0m0 7h0m-1 0h0m-4-7h0m-4 2h0m-1 2h0m-6 2h0m-5-4h0m-2 2h0m-1-2h0m-3-5h0m-2 9h0m-1 0h0m-9-9h0m0 5h0m-5-5h0m0 8h0m0 1h0m-5-5h0m3 11h0m0 4h0m5-5h0m3 4h0m2-6h0m3 5h0m5-3h0m1 0h0m0 5h0m4-4h0m1 5h0m1-5h0m0 5h0m2-3h0m5 2h0m2-2h0m2-6h0m2 11h0m2-8h0m3-2h0m4 2h0m0 7h0m8-3h0m0 1h0m1 3h0m2-1h0m1-5h0m0 2h0m1-1h0m1 0h0m0 5h0m1-10h0m0 5h0m1-2h0m0 2h0m0 4h0m1-5h0m0 3h0m0 1h0m2-7h0m0 9h0m2-10h0m0 5h0m1-5h0m1 1h0m0 6h0m1-7h0m0 3h0m2-1h0m0 3h0m0 3h0m1 1h0m1-4h0m1-6h0m0 6h0m3-4h0m0 3h0m1 2h0m1-6h0m0 9h0m1-10h0m0 1h0m1-1h0m2 7h0m4-3h0m0 7h0m3-4h0m4 3h0m7-8h0m0 4h0m7-1h0m0 1h0m0 1h0m2 2h0m6-3h0m1 2h0m28-1h0m8-6h0m0 7h0m11-1h0m35-6h0m1 4h0m24 3h0m39 3h0m201 5h0m-116 1h0m-15-3h0m-10 5h0m-57 1h0m-43-3h0m-16 1h0m-6 2h0m-9-4h0m-6 6h0m-19-3h0m-3-3h0m-8-3h0m-17 10h0m-2-2h0m0 1h0m-1-9h0m-7 2h0m-3 6h0m-2-1h0m-1-6h0m-1 4h0m-3 5h0m-1-7h0m-6 1h0m-1-1h0m-2 1h0m-12 4h0m0 1h0m0 1h0m-6-1h0m-1-2h0m-2 3h0m-1-10h0m-2 0h0m0 5h0m-1-5h0m-2-1h0m0 4h0m-1-3h0m-1-1h0m0 7h0m-2-1h0m-2 3h0m-3-6h0m0 7h0m-1-9h0m0 2h0m0 7h0m-1-5h0m-1 4h0m-1-5h0m0 3h0m-1-6h0m0 2h0m0 3h0m-2 0h0m0 5h0m-1-10h0m0 1h0m-1 0h0m0 5h0m-1-1h0m-1-6h0m0 4h0m0 3h0m0 4h0m-1-11h0m0 10h0m-1-7h0m-2-2h0m-1 3h0m0 2h0m0 4h0m-1-3h0m-1 0h0m0 1h0m-1-8h0m0 1h0m0 10h0m-1-9h0m0 3h0m0 2h0m-2 1h0m-1-5h0m-1-3h0m-3 1h0m-2-1h0m0 8h0m-1-7h0m0 6h0m-1 2h0m-2-8h0m0 2h0m-4 0h0m0 5h0m-3-7h0m-1 0h0m-1 9h0m-1-2h0m-1-8h0m0 4h0m-1 0h0m0 6h0m-2-4h0m-1-6h0m-1 11h0m-1-11h0m-1 4h0m-3-1h0m0 3h0m-5-1h0m0 3h0m-6-3h0m-2 1h0m-1-6h0m-2 6h0m-6-4h0m-10 19h0m17-1h0m8-4h0m1 3h0m12-5h0m0 1h0m5-3h0m1 6h0m1-1h0m2-1h0m3-3h0m0 1h0m3 0h0m0 5h0m2-5h0m3 3h0m1 1h0m3 2h0m2 3h0m3-9h0m0 1h0m2 2h0m0 1h0m1-4h0m1 8h0m1-8h0m0 4h0m1 1h0m0 4h0m2-8h0m1-2h0m0 1h0m0 1h0m0 5h0m1-7h0m0 1h0m0 2h0m0 1h0m0 6h0m1-3h0m2-8h0m0 2h0m0 5h0m0 1h0m0 2h0m1-10h0m0 11h0m1-10h0m0 4h0m1-5h0m0 10h0m2-9h0m1 10h0m1-3h0m1-5h0m1 1h0m1 1h0m0 1h0m2-1h0m1 0h0m5 3h0m1-2h0m9 0h0m0 2h0m2-2h0m4 5h0m11-9h0m13-1h0m4 2h0m32 1h0m10-4h0m7 4h0m6 0h0m235 4h0m65-6h0m-154 13h0m-82 1h0m-9 1h0m-32-3h0m-23 1h0m-20 2h0m-2-2h0m-4 0h0m-19 8h0m-5-11h0m-14 0h0m-9 3h0m0 2h0m-1 2h0m-3 0h0m-4 0h0m-1 4h0m-1 0h0m-2-5h0m-4-2h0m-6 0h0m-1 7h0m-1-4h0m-3-2h0m-1 2h0m-4 3h0m0 1h0m-2-9h0m-1 6h0m0 2h0m-2-3h0m-1-6h0m0 1h0m0 6h0m-1-8h0m0 4h0m-3-4h0m-1 7h0m0 3h0m-1-6h0m-1 2h0m0 3h0m-1-7h0m-1 6h0m-1-7h0m0 2h0m-1-3h0m0 11h0m-1-8h0m-1 2h0m-1 5h0m-1-6h0m0 5h0m-1-7h0m0 1h0m-1-3h0m-1 3h0m0 4h0m-1-6h0m0 9h0m-2-8h0m0 7h0m0 2h0m-3-9h0m-5 6h0m-1-4h0m-4 4h0m0 1h0m-3-8h0m-1 1h0m-3 0h0m-2 8h0m-3-6h0m0 1h0m-4 0h0m-2 4h0m-1-1h0m-2-3h0m-6 1h0m-3-2h0m0 4h0m-8-1h0m-3-7h0m-7 16h0m14 1h0m9-4h0m2-1h0m0 11h0m2-5h0m4-4h0m1 1h0m3 8h0m1-9h0m4 4h0m1-2h0m7-3h0m9 1h0m0 2h0m2 1h0m1 1h0m1 4h0m1-5h0m1 0h0m0 2h0m1-3h0m1-2h0m1-2h0m0 2h0m1 3h0m1-5h0m1 3h0m0 4h0m0 3h0m1-8h0m0 4h0m2 4h0m0 1h0m2-5h0m1-6h0m0 2h0m0 3h0m1-4h0m0 1h0m0 2h0m0 5h0m3-6h0m2 2h0m1 3h0m1-4h0m0 1h0m0 5h0m1-6h0m1 1h0m1 0h0m0 2h0m1 2h0m1-9h0m2 6h0m0 5h0m2-5h0m4-4h0m1 8h0m1-5h0m2-5h0m2 2h0m6-2h0m3 4h0m1 5h0m3-5h0m2-3h0m4 2h0m5-2h0m1 6h0m1-5h0m3 3h0m9-3h0m2 5h0m9 1h0m6 2h0m4-5h0m21-1h0m83-4h0m20 5h0m35-1h0m30 0h0m29-4h0m-109 20h0m-9 1h0m-17 1h0m-36 1h0m-7-1h0m-22-8h0m-17 6h0m-21-5h0m-2 1h0m-2-2h0m-5-2h0m-5 11h0m-2-11h0m-1 2h0m0 3h0m-3 6h0m-5-9h0m-2 6h0m-4 2h0m-11-8h0m0 6h0m-4-1h0m0 3h0m-4-3h0m-3-5h0m-2-2h0m-2 7h0m-1-6h0m0 4h0m-1 3h0m-1-7h0m0 6h0m-1-1h0m0 4h0m-1-7h0m-2 0h0m-1 0h0m0 2h0m-1 3h0m0 1h0m-1-3h0m0 4h0m-2-8h0m0 4h0m-1-4h0m0 5h0m-2-3h0m-1-2h0m0 2h0m-1 3h0m0 2h0m-3-5h0m0 5h0m-5-3h0m-10-2h0m0 3h0m-6 3h0m-10 1h0m-2-6h0m-3-2h0m-2 3h0m-3 2h0m0 2h0m-4 0h0m-12-10h0m-5 10h0m-4-4h0m5 9h0m10 4h0m2-4h0m3 2h0m0 6h0m2-7h0m5-4h0m0 4h0m2-3h0m9 9h0m3-3h0m1-1h0m3 0h0m10 5h0m2-4h0m2 4h0m2-4h0m3-1h0m1 3h0m1-9h0m3 2h0m0 7h0m1-1h0m1-1h0m0 4h0m1 0h0m1-7h0m0 1h0m0 1h0m1-1h0m1 0h0m0 5h0m1-10h0m1 2h0m0 4h0m0 2h0m2-1h0m1-1h0m1-6h0m1 0h0m0 8h0m4-5h0m1 2h0m1 2h0m0 3h0m1-9h0m1 0h0m1 2h0m3-3h0m0 11h0m1 0h0m6-7h0m3 1h0m0 4h0m2-6h0m1 5h0m4 0h0m2 2h0m2-2h0m2-5h0m0 7h0m12-7h0m7-1h0m3 3h0m17 4h0m3-5h0m2 5h0m8 0h0m14-1h0m17 3h0m3-10h0m17 7h0m2-2h0m35-5h0m74-1h0m179 22h0m-196-6h0m-90-2h0m0 2h0m-12 6h0m-10 0h0m-31-7h0m-7 6h0m-6 0h0m-3-7h0m-22 2h0m-22 0h0m-8 7h0m-4-9h0m0 4h0m-2-3h0m-3-2h0m-3 0h0m-3 1h0m-1-2h0m0 4h0m-4 6h0m-1-7h0m0 7h0m-1-4h0m-1-6h0m0 3h0m-1 1h0m-1 2h0m-2 4h0m-1-2h0m-1 0h0m-1 0h0m-1-6h0m0 6h0m-1 2h0m0 1h0m-1-9h0m-1 1h0m-1 4h0m0 1h0m-1-8h0m-1 10h0m-1-2h0m0 2h0m-3-8h0m-4 9h0m-2-1h0m-1-2h0m-1-1h0m-3-1h0m-1-3h0m-3 1h0m-3-2h0m-2-1h0m-2 8h0m-2-9h0m0 7h0m-4-5h0m0 9h0m-2-2h0m-3-7h0m-5-1h0m-6 4h0m-2-5h0m-4 3h0m0 6h0m-4-3h0m0 14h0m3-2h0m6 1h0m1 2h0m4-5h0m8-2h0m1 1h0m4 4h0m6-1h0m2-5h0m3 4h0m7 2h0m3-5h0m0 7h0m0 2h0m2-10h0m3 4h0m0 2h0m2 4h0m4-11h0m0 11h0m2-8h0m0 2h0m1-4h0m1-1h0m0 7h0m1-7h0m1 5h0m1 5h0m0 1h0m3-7h0m0 1h0m1 3h0m1-2h0m0 2h0m0 1h0m1-4h0m1-5h0m0 6h0m2-5h0m3 2h0m0 3h0m3-1h0m6 4h0m2-8h0m3 7h0m15 0h0m2-3h0m13 3h0m1 3h0m4-2h0m1-9h0m9 4h0m4 4h0m10 2h0m3-6h0m45 7h0m5 0h0m33-4h0m236 16h0m-226-6h0m-86 1h0m-10 2h0m-1-7h0m-11 8h0m-14-7h0m-33 4h0m-2 3h0m-1-3h0m-8-1h0m-2-1h0m0 5h0m0 2h0m-1-8h0m-1 8h0m-4-11h0m0 1h0m-3 0h0m0 5h0m0 1h0m-1-6h0m-1 1h0m0 4h0m0 1h0m-1-7h0m0 1h0m-1 3h0m-1-4h0m-1 6h0m-2-6h0m-2 2h0m-4 1h0m0 8h0m-4 0h0m-1-10h0m-2 4h0m-3-1h0m-1 2h0m-3-6h0m0 6h0m-5-2h0m-4-4h0m-1 4h0m-2-2h0m-1 1h0m-1 0h0m-3 0h0m-3 3h0m-4-6h0m-3 0h0m-1 6h0m-6 4h0m-2-7h0m-6-3h0m-2 19h0m1-3h0m12 1h0m1-5h0m2 4h0m4 2h0m15 4h0m1-6h0m3 0h0m0 3h0m0 2h0m3 1h0m2-3h0m4-4h0m7 2h0m2 1h0m3-1h0m1-4h0m0 2h0m0 8h0m4-4h0m0 2h0m3-8h0m0 2h0m1 6h0m1-4h0m0 1h0m0 1h0m0 4h0m2-10h0m0 5h0m1 0h0m0 1h0m0 1h0m1-8h0m1 7h0m0 3h0m1-6h0m1 7h0m2-6h0m1 2h0m1-6h0m1 5h0m1 5h0m2-11h0m1 3h0m2 1h0m1 3h0m1 1h0m4 2h0m3-2h0m3-6h0m6 3h0m3-5h0m0 7h0m2-2h0m1 2h0m4-1h0m6-1h0m1-5h0m10 6h0m7 2h0m9-2h0m8 2h0m0 3h0m4-8h0m26 5h0m37-2h0m22 3h0m30-7h0m12 9h0m30-4h0m93 4h0m-41 12h0m-87-11h0m-58 5h0m-56-4h0m-7-1h0m-16 1h0m-5 7h0m-8-7h0m-23 2h0m-8-3h0m-9 7h0m0 1h0m-1-3h0m0 5h0m-1-4h0m-3-4h0m-1 1h0m-2-2h0m-1 1h0m-3 4h0m-1 0h0m-1-1h0m0 1h0m-4-1h0m-8 2h0m-2-7h0m-2 10h0m-1 1h0m-4-4h0m-2-7h0m0 8h0m-2 2h0m-7 0h0m-3-4h0m-3-2h0m-6 0h0m-6 5h0m-1 1h0m-5-3h0m-3-4h0m-1 1h0m-11 0h0m9 19h0m8-10h0m6 2h0m0 4h0m6-5h0m4 7h0m7 0h0m4-4h0m1-4h0m0 10h0m1-11h0m0 4h0m3-4h0m0 5h0m1-4h0m4 5h0m0 3h0m3-8h0m0 9h0m5-9h0m1 5h0m4 0h0m2-3h0m12 4h0m5-1h0m26-2h0m9-4h0m18 4h0m0 3h0m7-1h0m17-5h0m13 10h0m49 10h0m-30-3h0m-2 1h0m-20-3h0m-8 3h0m-12-7h0m-31 0h0m-7 2h0m-13 3h0m-10-5h0m-9 9h0m-5-2h0m-3 0h0m-4-1h0m0 4h0m-1-6h0m-4-2h0m-2 1h0m0 3h0m0 4h0m-1-6h0m0 2h0m0 4h0m0 1h0m-4-5h0m-9 5h0m-2-3h0m-2 3h0m-5-5h0m-1-6h0m-8 9h0m-2 2h0m-2-10h0m-5-1h0m-11 10h0m-4-4h0m-24 8h0m13 6h0m3-3h0m6 6h0m6-2h0m0 1h0m3-10h0m5 5h0m0 2h0m5 3h0m3-2h0m2 3h0m2-11h0m2 1h0m6 6h0m6-3h0m5-2h0m0 9h0m1 0h0m2-9h0m1 5h0m3 0h0m2 4h0m1-4h0m2-6h0m0 9h0m2-4h0m0 4h0m0 1h0m1-9h0m2 8h0m1-5h0m1 5h0m3-10h0m0 9h0m0 2h0m1-11h0m1 2h0m1 4h0m2 0h0m2 3h0m3-8h0m4 10h0m3-10h0m6 0h0m24 7h0m12-6h0m1-2h0m1 3h0m144 0h0m-24 18h0m-16-6h0m0 5h0m-6 3h0m-55-11h0m-32 7h0m-22 1h0m-20-4h0m-1 1h0m-11 4h0m-5-9h0m-8 6h0m-2-4h0m-7 6h0m-1 0h0m-4 0h0m-2-6h0m-3 1h0m0 6h0m-1-5h0m-1-4h0m-2 10h0m-10-4h0m-5-2h0m-1 7h0m-1-2h0m-21 1h0m-3 0h0m-2 1h0m-5-6h0m-5-2h0m-7-3h0m2 14h0m1-2h0m8 6h0m8 2h0m1-3h0m12-2h0m1 4h0m12 4h0m1-8h0m6-1h0m3 1h0m1 2h0m3-4h0m1 8h0m3-9h0m1 6h0m3-6h0m0 5h0m0 5h0m4 0h0m2-10h0m2 2h0m2 3h0m0 3h0m10-7h0m21 1h0m25-1h0m55 5h0m115 6h0m-107 10h0m-11-9h0m-30 10h0m-17 0h0m-18-9h0m-12 7h0m-4-7h0m-4 7h0m0 1h0m-2-9h0m-1 5h0m-6 0h0m-3-1h0m0 4h0m-6-1h0m-6-3h0m-3 4h0m-2-5h0m-1-4h0m-5 0h0m0 10h0m-1-3h0m-1-3h0m0 2h0m-3 4h0m-9-10h0m-7 9h0m-2-9h0m-5 9h0m0 1h0m-23 4h0m0 4h0m4-5h0m2 10h0m1-10h0m34 3h0m2 7h0m8-5h0m1 0h0m2 0h0m1-4h0m0 2h0m9-1h0m13 0h0m12 8h0m31-6h0m7-4h0m46 7h0m15-1h0m173 14h0m-135-7h0m-89 0h0m-30 2h0m-29 4h0m-6-6h0m-7 0h0m-9 3h0m-4 1h0m-16-4h0m-26 9h0m-19 9h0m7 3h0m2-7h0m12-4h0m3 5h0m3-1h0m39 6h0m1-8h0m1 5h0m38-7h0m121 6h0m35 12h0m-80-6h0m-87 4h0m-5 3h0m-16-5h0m-12 6h0m-2-1h0m-64 15h0m250-5h0m84 3h0m-242 6h0m-64 2h0" style="fill:none;stroke:#808080;stroke-width:5.30;stroke-linecap:round"/></g>
<g clip-path="url(#p9402339d06)"><path transform="scale(0.4)" d="M231 947h0m1-1h0m2-3h0m7-2h0m2 2h0m3-2h0m3 0h0m2 0h0m1 2h0m1-2h0m3 0h0m0 5h0m1-2h0m2-3h0m2 6h0m1-6h0m2 0h0m11 2h0m1-2h0m0 6h0m10-6h0m0 1h0m13 8h0m-10 6h0m-2-6h0m-3 2h0m-3 0h0m-4-3h0m-3-1h0m0 7h0m-1-5h0m-1 7h0m-4-7h0m-1 5h0m-1-6h0m-2 0h0m-2 7h0m-1-2h0m-1 5h0m-8-4h0m-2-5h0m0 5h0m-2 1h0m-4-6h0m0 8h0m-6 1h0m-6-3h0m-9-5h0m0 1h0m-10 3h0m4 5h0m6 4h0m4-2h0m4 2h0m1 4h0m2 2h0m1-2h0m0 1h0m1-6h0m1 8h0m1-11h0m0 10h0m1-5h0m1 3h0m1-7h0m0 7h0m1 2h0m2 0h0m1-9h0m3-1h0m3 2h0m0 1h0m1 7h0m1-3h0m0 3h0m1-8h0m0 4h0m0 1h0m0 4h0m1-8h0m0 7h0m2-8h0m0 1h0m2-3h0m0 4h0m0 2h0m1-1h0m0 3h0m1-3h0m0 4h0m1-8h0m1 3h0m0 2h0m0 2h0m2 0h0m1-4h0m0 7h0m1-4h0m0 2h0m1 1h0m1-3h0m1-3h0m3-3h0m1 0h0m0 3h0m3 7h0m3-10h0m1 1h0m0 5h0m2 2h0m1-2h0m3-2h0m3 0h0m1 6h0m3-1h0m61-5h0m26 1h0m16-2h0m17 12h0m0 3h0m-7-3h0m-2 4h0m-7-7h0m-1-1h0m-5 9h0m-1-7h0m-4 8h0m-4-7h0m-7 5h0m-7 2h0m-4-3h0m-14-2h0m-8-5h0m-12 2h0m-9-1h0m-9 6h0m-21-7h0m-3 8h0m-2-7h0m-2-1h0m-5 5h0m-5 3h0m0 3h0m-1-3h0m0 1h0m-3 2h0m-3-7h0m-2-4h0m0 2h0m0 2h0m0 5h0m-1-9h0m0 5h0m0 3h0m-1-5h0m0 7h0m0 1h0m-2-9h0m0 4h0m-1-5h0m0 2h0m-2 4h0m-1-5h0m-1 1h0m-1-3h0m0 10h0m-1-8h0m-1 4h0m-2-6h0m0 4h0m0 3h0m-1-3h0m-1-4h0m0 1h0m0 1h0m0 2h0m0 3h0m-2 3h0m0 1h0m-2-9h0m-1-1h0m0 2h0m-1-3h0m-3 3h0m0 7h0m-1-1h0m0 2h0m-2-8h0m-1-1h0m-1 8h0m-4 0h0m-1-10h0m-2 4h0m-1 4h0m-3-2h0m-1 0h0m-5 5h0m-4 9h0m12-7h0m2 2h0m0 7h0m0 1h0m5-11h0m0 4h0m0 7h0m1-5h0m1-2h0m1-1h0m2 0h0m1 0h0m0 3h0m1-6h0m0 4h0m2-4h0m2 4h0m0 2h0m1-4h0m1 2h0m0 2h0m0 4h0m1-8h0m0 5h0m1-1h0m0 2h0m2-4h0m2 2h0m1 0h0m1-4h0m0 8h0m1-5h0m0 4h0m1-3h0m1-2h0m3-4h0m0 3h0m0 2h0m0 5h0m1-8h0m0 3h0m2-3h0m0 1h0m1-3h0m0 1h0m0 1h0m1 0h0m1-2h0m2 8h0m1-7h0m0 1h0m0 1h0m0 8h0m1-1h0m1-10h0m0 7h0m0 1h0m1-4h0m1 0h0m3 4h0m1 1h0m1-9h0m0 1h0m9-1h0m0 3h0m1 5h0m3-6h0m1 4h0m3-2h0m2 5h0m1 1h0m7-8h0m3 6h0m6-8h0m5 7h0m3 4h0m1-2h0m7-5h0m1 4h0m1-2h0m2 0h0m2-4h0m11-2h0m1 5h0m16-2h0m1 2h0m2-5h0m10 0h0m2 4h0m22-1h0m3 7h0m-39 2h0m-4 0h0m-31 8h0m-9-1h0m-3-4h0m-7-2h0m-2 9h0m-3-1h0m0 2h0m-13-8h0m-1 2h0m-1-5h0m-6 2h0m-3 1h0m-3 2h0m-3-5h0m-1 8h0m-1-3h0m-3-1h0m-2-4h0m0 1h0m-4 4h0m-2 1h0m-1-4h0m0 2h0m-1-1h0m0 7h0m-1-2h0m-1-7h0m-1 6h0m0 1h0m-1-5h0m0 7h0m-3-3h0m-1-3h0m-1-2h0m-2 0h0m0 1h0m-1 4h0m0 1h0m-2-4h0m-2 1h0m0 3h0m-1-5h0m-2 1h0m-4 2h0m0 3h0m-1-6h0m-2 5h0m0 1h0m-2-7h0m0 5h0m-1 1h0m-9-2h0m-7 0h0m-1-6h0m-9 9h0m22 3h0m1 10h0m3-2h0m4 3h0m6-10h0m6 7h0m2 0h0m0 1h0m3-2h0m1-7h0m2 0h0m2 1h0m0 10h0m3-11h0m0 8h0m1-2h0m3-4h0m0 2h0m1 2h0m2 0h0m4-5h0m1 2h0m2 2h0m1 0h0m2 2h0m2 3h0m1-2h0m1 2h0m8-6h0m0 6h0m7-7h0m12-1h0m2-1h0m3 5h0m0 4h0m37-3h0m27-5h0m-77 12h0m-3 2h0m-2 1h0m-1-5h0m-24 7h0m-1-2h0m-4-3h0m-3 0h0m0 2h0m-3 7h0m-4-4h0m-6-7h0m-4 0h0m-8 6h0m-1 5h0m-16-1h0m-1-5h0m-28 6h0m18 10h0m29-2h0m4-6h0m6 7h0m3-5h0m2-1h0m3 1h0m12-2h0m22 5h0m8-5h0m-49 11h0m-9 3h0m-35 14h0m46-4h0m10 9h0m18-1h0m-50 21h0m48-4h0m29 13h0m-53 0h0m0 3h0m-1 2h0m-17-6h0m-45 6h0m42 5h0m7 8h0m20 2h0m5-5h0m8 0h0m38 6h0m-29 5h0m-8-4h0m-21 1h0" style="fill:none;stroke:#00f;stroke-width:8.50;stroke-linecap:round"/></g>
<g id="matplotlib.axis_7">
<g id="xtick_16">
<g id="line2d_35">
<g>
<use href="#m7c25c535dc" x="73.618163" y="585.32" style="stroke: #000000; stroke-width: 0.8"/>
</g>
</g>
<g id="text_44">
<text style="font-size: 10px; font-family: 'DejaVu Sans'; text-anchor: middle" x="73.618163" y="599.918437" transform="rotate(-0 73.618163 599.918437)">5</text>
</g>
</g>
<g id="xtick_17">
<g id="line2d_36">
<g>
<use href="#m7c25c535dc" x="112.839544" y="585.32" style="stroke: #000000; stroke-width: 0.8"/>
</g>
</g>
<g id="text_45">
<text style="font-size: 10px; font-family: 'DejaVu Sans'; text-anchor: middle" x="112.839544" y="599.918437" transform="rotate(-0 112.839544 599.918437)">10</text>
</g>
</g>
<g id="xtick_18">
<g id="line2d_37">
<g>
<use href="#m7c25c535dc" x="152.060925" y="585.32" style="stroke: #000000; stroke-width: 0.8"/>
</g>
</g>
<g id="text_46">
<text style="font-size: 10px; font-family: 'DejaVu Sans'; text-anchor: middle" x="152.060925" y="599.918437" transform="rotate(-0 152.060925 599.918437)">15</text>
</g>
</g>
<g id="xtick_19">
<g id="line2d_38">
<g>
<use href="#m7c25c535dc" x="191.282305" y="585.32" style="stroke: #000000; stroke-width: 0.8"/>
</g>
</g>
<g id="text_47">
<text style="font-size: 10px; font-family: 'DejaVu Sans'; text-anchor: middle" x="191.282305" y="599.918437" transform="rotate(-0 191.282305 599.918437)">20</text>
</g>
</g>
<g id="xtick_20">
<g id="line2d_39">
<g>
<use href="#m7c25c535dc" x="230.503686" y="585.32" style="stroke: #000000; stroke-width: 0.8"/>
</g>
</g>
<g id="text_48">
<text style="font-size: 10px; font-family: 'DejaVu Sans'; text-anchor: middle" x="230.503686" y="599.918437" transform="rotate(-0 230.503686 599.918437)">25</text>
</g>
</g>
<g id="xtick_21">
<g id="line2d_40">
<g>
<use href="#m7c25c535dc" x="269.725067" y="585.32" style="stroke: #000000; stroke-width: 0.8"/>
</g>
</g>
<g id="text_49">
<text style="font-size: 10px; font-family: 'DejaVu Sans'; text-anchor: middle" x="269.725067" y="599.918437" transform="rotate(-0 269.725067 599.918437)">30</text>
</g>
</g>
<g id="text_50">
<!-- $r_{gal}$ [kpc] -->
<g transform="translate(132.4805 615.970125)">
<text>
<tspan x="0" y="-0.609375" style="font-style: oblique; font-size: 14.7px; font-family: 'DejaVu Sans'">r</tspan>
<tspan x="6.064209" y="1.851562" style="font-style: oblique; font-size: 10.29px; font-family: 'DejaVu Sans'">g</tspan>
<tspan x="12.618164" y="1.851562" style="font-style: oblique; font-size: 10.29px; font-family: 'DejaVu Sans'">a</tspan>
<tspan x="18.945251" y="1.851562" style="font-style: oblique; font-size: 10.29px; font-family: 'DejaVu Sans'">l</tspan>
<tspan x="22.224023" y="-0.609375" style="font-size: 14.7px; font-family: 'DejaVu Sans'"> </tspan>
<tspan x="26.912622" y="-0.609375" style="font-size: 14.7px; font-family: 'DejaVu Sans'">[</tspan>
<tspan x="32.667139" y="-0.609375" style="font-size: 14.7px; font-family: 'DejaVu Sans'">k</tspan>
<tspan x="41.208887" y="-0.609375" style="font-size: 14.7px; font-family: 'DejaVu Sans'">p</tspan>
<tspan x="50.57168" y="-0.609375" style="font-size: 14.7px; font-family: 'DejaVu Sans'">c</tspan>
<tspan x="58.681299" y="-0.609375" style="font-size: 14.7px; font-family: 'DejaVu Sans'">]</tspan>
</text>
</g>
</g>
</g>
<g id="matplotlib.axis_8">
<g id="ytick_20">
<g id="line2d_41">
<g>
<use href="#mb258c49b38" x="51.16" y="577.009538" style="stroke: #000000; stroke-width: 0.8"/>
</g>
</g>
<g id="text_51">
<text style="font-size: 10px; font-family: 'DejaVu Sans'; text-anchor: end" x="44.16" y="580.808757" transform="rotate(-0 44.16 580.808757)">0.0</text>
</g>
</g>
<g id="ytick_21">
<g id="line2d_42">
<g>
<use href="#mb258c49b38" x="51.16" y="536.569332" style="stroke: #000000; stroke-width: 0.8"/>
</g>
</g>
<g id="text_52">
<text style="font-size: 10px; font-family: 'DejaVu Sans'; text-anchor: end" x="44.16" y="540.368551" transform="rotate(-0 44.16 540.368551)">0.2</text>
</g>
</g>
<g id="ytick_22">
<g id="line2d_43">
<g>
<use href="#mb258c49b38" x="51.16" y="496.129127" style="stroke: #000000; stroke-width: 0.8"/>
</g>
</g>
<g id="text_53">
<text style="font-size: 10px; font-family: 'DejaVu Sans'; text-anchor: end" x="44.16" y="499.928346" transform="rotate(-0 44.16 499.928346)">0.4</text>
</g>
</g>
<g id="ytick_23">
<g id="line2d_44">
<g>
<use href="#mb258c49b38" x="51.16" y="455.688921" style="stroke: #000000; stroke-width: 0.8"/>
</g>
</g>
<g id="text_54">
<text style="font-size: 10px; font-family: 'DejaVu Sans'; text-anchor: end" x="44.16" y="459.48814" transform="rotate(-0 44.16 459.48814)">0.6</text>
</g>
</g>
<g id="ytick_24">
<g id="line2d_45">
<g>
<use href="#mb258c49b38" x="51.16" y="415.248716" style="stroke: #000000; stroke-width: 0.8"/>
</g>
</g>
<g id="text_55">
<text style="font-size: 10px; font-family: 'DejaVu Sans'; text-anchor: end" x="44.16" y="419.047935" transform="rotate(-0 44.16 419.047935)">0.8</text>
</g>
</g>
<g id="ytick_25">
<g id="line2d_46">
<g>
<use href="#mb258c49b38" x="51.16" y="374.808511" style="stroke: #000000; stroke-width: 0.8"/>
</g>
</g>
<g id="text_56">
<text style="font-size: 10px; font-family: 'DejaVu Sans'; text-anchor: end" x="44.16" y="378.607729" transform="rotate(-0 44.16 378.607729)">1.0</text>
</g>
</g>
<g id="text_57">
<text style="font-size: 14.7px; font-family: 'DejaVu Sans'; text-anchor: middle" x="22.399734" y="475.08" transform="rotate(-90 22.399734 475.08)">Eccentricity</text>
</g>
</g>
<g id="patch_21">
<path d="M 51.16 585.32 L 51.16 364.84 " style="fill: none; stroke: #000000; stroke-width: 0.8; stroke-linejoin: miter; stroke-linecap: square"/>
</g>
<g id="patch_22">
<path d="M 278.04 585.32 L 278.04 364.84 " style="fill: none; stroke: #000000; stroke-width: 0.8; stroke-linejoin: miter; stroke-linecap: square"/>
</g>
<g id="patch_23">
<path d="M 51.16 585.32 L 278.04 585.32 " style="fill: none; stroke: #000000; stroke-width: 0.8; stroke-linejoin: miter; stroke-linecap: square"/>
</g>
<g id="patch_24">
<path d="M 51.16 364.84 L 278.04 364.84 " style="fill: none; stroke: #000000; stroke-width: 0.8; stroke-linejoin: miter; stroke-linecap: square"/>
</g>
<g id="text_58">
<text style="font-size: 16px; font-family: 'DejaVu Sans'; text-anchor: middle" x="164.6" y="351.6" transform="rotate(-0 164.6 351.6)">d</text>
</g>
<g id="legend_4">
<g id="patch_25">
<path d="M 267.04 377.84 L 271.04 377.84 Q 273.04 377.84 273.04 375.84 L 273.04 371.84 Q 273.04 369.84 271.04 369.84 L 267.04 369.84 Q 265.04 369.84 265.04 371.84 L 265.04 375.84 Q 265.04 377.84 267.04 377.84 z
" style="fill: #ffffff; opacity: 0.8; stroke: #cccccc; stroke-linejoin: miter"/>
</g>
</g>
</g>
<g id="axes_5">
<g id="patch_26">
<path d="M 346.16 585.32 L 573.08 585.32 L 573.08 364.84 L 346.16 364.84 z
" style="fill: #ffffff"/>
</g>
<g id="patch_27">
<path d="M 356.28 585.32 L 356.28 583.6 L 369.172 583.6 L 369.172 583.6 L 382.064 583.6 L 382.064 572 L 394.956 572 L 394.956 568.92 L 407.848 568.92 L 407.848 540.96 L 420.74 540.96 L 420.74 512.92 L 433.632 512.92 L 433.632 477.44 L 446.524 477.44 L 446.524 439.04 L 459.416 439.04 L 459.416 472.92 L 472.308 472.92 L 472.308 448 L 485.2 448 L 485.2 437.6 L 498.092 437.6 L 498.092 468.36 L 510.984 468.36 L 510.984 548.32 L 523.876 548.32 L 523.876 580.88 L 536.768 580.88 L 536.768 580.88 L 549.66 580.88 L 549.66 583.72 L 562.552 583.72 L 562.552 585.32 " clip-path="url(#pdf1be4881e)" style="fill: none; stroke: #0000ff; stroke-linejoin: miter"/>
</g>
<g id="patch_28">
<path d="M 356.28 585.32 L 356.28 576.52 L 366.308 576.52 L 366.308 585.32 L 376.336 585.32 L 376.336 567.64 L 386.364 567.64 L 386.364 532.72 L 396.392 532.72 L 396.392 541.6 L 406.42 541.6 L 406.42 480.48 L 416.448 480.48 L 416.448 462.72 L 426.476 462.72 L 426.476 410.28 L 436.504 410.28 L 436.504 401.52 L 446.532 401.52 L 446.532 375.16 L 456.56 375.16 L 456.56 436.4 L 466.588 436.4 L 466.588 495.84 L 476.616 495.84 L 476.616 559.12 L 486.644 559.12 L 486.644 532.72 L 496.672 532.72 L 496.672 576.52 L 506.7 576.52 L 506.7 585.32 " clip-path="url(#pdf1be4881e)" style="fill: none; stroke-dasharray: 3.7,1.6; stroke-dashoffset: 0; stroke: #800080; stroke-linejoin: miter"/>
</g>
<g id="matplotlib.axis_9">
<g id="xtick_22">
<g id="line2d_47">
<g>
<use href="#m7c25c535dc" x="349.818145" y="585.32" style="stroke: #000000; stroke-width: 0.8"/>
</g>
</g>
<g id="text_59">
<text style="font-size: 10px; font-family: 'DejaVu Sans'; text-anchor: middle" x="349.818145" y="599.918437" transform="rotate(-0 349.818145 599.918437)">−2.5</text>
</g>
</g>
<g id="xtick_23">
<g id="line2d_48">
<g>
<use href="#m7c25c535dc" x="388.163476" y="585.32" style="stroke: #000000; stroke-width: 0.8"/>
</g>
</g>
<g id="text_60">
<text style="font-size: 10px; font-family: 'DejaVu Sans'; text-anchor: middle" x="388.163476" y="599.918437" transform="rotate(-0 388.163476 599.918437)">−2.0</text>
</g>
</g>
<g id="xtick_24">
<g id="line2d_49">
<g>
<use href="#m7c25c535dc" x="426.508807" y="585.32" style="stroke: #000000; stroke-width: 0.8"/>
</g>
</g>
<g id="text_61">
<text style="font-size: 10px; font-family: 'DejaVu Sans'; text-anchor: middle" x="426.508807" y="599.918437" transform="rotate(-0 426.508807 599.918437)">−1.5</text>
</g>
</g>
<g id="xtick_25">
<g id="line2d_50">
<g>
<use href="#m7c25c535dc" x="464.854138" y="585.32" style="stroke: #000000; stroke-width: 0.8"/>
</g>
</g>
<g id="text_62">
<text style="font-size: 10px; font-family: 'DejaVu Sans'; text-anchor: middle" x="464.854138" y="599.918437" transform="rotate(-0 464.854138 599.918437)">−1.0</text>
</g>
</g>
<g id="xtick_26">
<g id="line2d_51">
<g>
<use href="#m7c25c535dc" x="503.199469" y="585.32" style="stroke: #000000; stroke-width: 0.8"/>
</g>
</g>
<g id="text_63">
<text style="font-size: 10px; font-family: 'DejaVu Sans'; text-anchor: middle" x="503.199469" y="599.918437" transform="rotate(-0 503.199469 599.918437)">−0.5</text>
</g>
</g>
<g id="xtick_27">
<g id="line2d_52">
<g>
<use href="#m7c25c535dc" x="541.5448" y="585.32" style="stroke: #000000; stroke-width: 0.8"/>
</g>
</g>
<g id="text_64">
<text style="font-size: 10px; font-family: 'DejaVu Sans'; text-anchor: middle" x="541.5448" y="599.918437" transform="rotate(-0 541.5448 599.918437)">0.0</text>
</g>
</g>
<g id="text_65">
<text style="font-size: 14.7px; font-family: 'DejaVu Sans'; text-anchor: middle" x="459.62" y="615.967828" transform="rotate(-0 459.62 615.967828)">[Fe/H]</text>
</g>
</g>
<g id="matplotlib.axis_10">
<g id="ytick_26">
<g id="line2d_53">
<g>
<use href="#mb258c49b38" x="346.16" y="585.32" style="stroke: #000000; stroke-width: 0.8"/>
</g>
</g>
<g id="text_66">
<text style="font-size: 10px; font-family: 'DejaVu Sans'; text-anchor: end" x="339.16" y="589.119219" transform="rotate(-0 339.16 589.119219)">0.0</text>
</g>
</g>
<g id="ytick_27">
<g id="line2d_54">
<g>
<use href="#mb258c49b38" x="346.16" y="552.920294" style="stroke: #000000; stroke-width: 0.8"/>
</g>
</g>
<g id="text_67">
<text style="font-size: 10px; font-family: 'DejaVu Sans'; text-anchor: end" x="339.16" y="556.719513" transform="rotate(-0 339.16 556.719513)">0.2</text>
</g>
</g>
<g id="ytick_28">
<g id="line2d_55">
<g>
<use href="#mb258c49b38" x="346.16" y="520.520588" style="stroke: #000000; stroke-width: 0.8"/>
</g>
</g>
<g id="text_68">
<text style="font-size: 10px; font-family: 'DejaVu Sans'; text-anchor: end" x="339.16" y="524.319807" transform="rotate(-0 339.16 524.319807)">0.4</text>
</g>
</g>
<g id="ytick_29">
<g id="line2d_56">
<g>
<use href="#mb258c49b38" x="346.16" y="488.120882" style="stroke: #000000; stroke-width: 0.8"/>
</g>
</g>
<g id="text_69">
<text style="font-size: 10px; font-family: 'DejaVu Sans'; text-anchor: end" x="339.16" y="491.9201" transform="rotate(-0 339.16 491.9201)">0.6</text>
</g>
</g>
<g id="ytick_30">
<g id="line2d_57">
<g>
<use href="#mb258c49b38" x="346.16" y="455.721176" style="stroke: #000000; stroke-width: 0.8"/>
</g>
</g>
<g id="text_70">
<text style="font-size: 10px; font-family: 'DejaVu Sans'; text-anchor: end" x="339.16" y="459.520394" transform="rotate(-0 339.16 459.520394)">0.8</text>
</g>
</g>
<g id="ytick_31">
<g id="line2d_58">
<g>
<use href="#mb258c49b38" x="346.16" y="423.32147" style="stroke: #000000; stroke-width: 0.8"/>
</g>
</g>
<g id="text_71">
<text style="font-size: 10px; font-family: 'DejaVu Sans'; text-anchor: end" x="339.16" y="427.120688" transform="rotate(-0 339.16 427.120688)">1.0</text>
</g>
</g>
<g id="ytick_32">
<g id="line2d_59">
<g>
<use href="#mb258c49b38" x="346.16" y="390.921763" style="stroke: #000000; stroke-width: 0.8"/>
</g>
</g>
<g id="text_72">
<text style="font-size: 10px; font-family: 'DejaVu Sans'; text-anchor: end" x="339.16" y="394.720982" transform="rotate(-0 339.16 394.720982)">1.2</text>
</g>
</g>
<g id="text_73">
<text style="font-size: 14.7px; font-family: 'DejaVu Sans'; text-anchor: middle" x="317.399734" y="475.08" transform="rotate(-90 317.399734 475.08)">Norm.Freq.</text>
</g>
</g>
<g id="patch_29">
<path d="M 346.16 585.32 L 346.16 364.84 " style="fill: none; stroke: #000000; stroke-width: 0.8; stroke-linejoin: miter; stroke-linecap: square"/>
</g>
<g id="patch_30">
<path d="M 573.08 585.32 L 573.08 364.84 " style="fill: none; stroke: #000000; stroke-width: 0.8; stroke-linejoin: miter; stroke-linecap: square"/>
</g>
<g id="patch_31">
<path d="M 346.16 585.32 L 573.08 585.32 " style="fill: none; stroke: #000000; stroke-width: 0.8; stroke-linejoin: miter; stroke-linecap: square"/>
</g>
<g id="patch_32">
<path d="M 346.16 364.84 L 573.08 364.84 " style="fill: none; stroke: #000000; stroke-width: 0.8; stroke-linejoin: miter; stroke-linecap: square"/>
</g>
<g id="text_74">
<text style="font-size: 16px; font-family: 'DejaVu Sans'; text-anchor: middle" x="459.62" y="351.6" transform="rotate(-0 459.62 351.6)">e</text>
</g>
<g id="legend_5">
<g id="patch_33">
<path d="M 479.122906 393.977875 L 567.62 393.977875 Q 569.18 393.977875 569.18 392.417875 L 569.18 370.3 Q 569.18 368.74 567.62 368.74 L 479.122906 368.74 Q 477.562906 368.74 477.562906 370.3 L 477.562906 392.417875 Q 477.562906 393.977875 479.122906 393.977875 z
" style="fill: #ffffff; opacity: 0.8; stroke: #cccccc; stroke-linejoin: miter"/>
</g>
<g id="patch_34">
<path d="M 480.682906 377.786781 L 496.282906 377.786781 L 496.282906 372.326781 L 480.682906 372.326781 L 480.682906 377.786781 z
" style="fill: none; stroke: #0000ff; stroke-linejoin: miter"/>
</g>
<g id="text_75">
<text style="font-size: 7.8px; font-family: 'DejaVu Sans'; text-anchor: start" x="502.522906" y="377.786781" transform="rotate(-0 502.522906 377.786781)">GSE</text>
</g>
<g id="patch_35">
<path d="M 480.682906 389.235719 L 496.282906 389.235719 L 496.282906 383.775719 L 480.682906 383.775719 L 480.682906 389.235719 z
" style="fill: none; stroke-dasharray: 3.7,1.6; stroke-dashoffset: 0; stroke: #800080; stroke-linejoin: miter"/>
</g>
<g id="text_76">
<text style="font-size: 7.8px; font-family: 'DejaVu Sans'; text-anchor: start" x="502.522906" y="389.235719" transform="rotate(-0 502.522906 389.235719)">GSE &amp; [Al/Fe]&lt;0</text>
</g>
</g>
</g>
<g id="axes_6">
<g id="patch_36">
<path d="M 641.16 585.32 L 868.08 585.32 L 868.08 364.84 L 641.16 364.84 z
" style="fill: #ffffff"/>
</g>
<defs>
<path id="mad120154d4" d="M 0 1.02 C 0.270507 1.02 0.529971 0.912526 0.721249 0.721249 C 0.912526 0.529971 1.02 0.270507 1.02 0 C 1.02 -0.270507 0.912526 -0.529971 0.721249 -0.721249 C 0.529971 -0.912526 0.270507 -1.02 0 -1.02 C -0.270507 -1.02 -0.529971 -0.912526 -0.721249 -0.721249 C -0.912526 -0.529971 -1.02 -0.270507 -1.02 0 C -1.02 0.270507 -0.912526 0.529971 -0.721249 0.721249 C -0.529971 0.912526 -0.270507 1.02 0 1.02 z
"/>
</defs><g clip-path="url(#pb06b65c1e0)"><path transform="scale(0.4)" d="M1622 993h0m260 0h0m-156 6h0m-73 17h0m3-1h0m7 0h0m12-6h0m4-1h0m38 11h0m38-8h0m15 3h0m12 0h0m34 5h0m2-5h0m0 1h0m3-7h0m8 8h0m36 0h0m2-7h0m96 4h0m41 14h0m-74 1h0m-10 1h0m-6-2h0m-12 2h0m-19-4h0m-3-4h0m-11 5h0m-13 3h0m-15-3h0m-7-6h0m-6 0h0m-19 10h0m-3-8h0m-7-1h0m-4 7h0m-16-6h0m-5 7h0m-6 1h0m-4-4h0m-4-2h0m-4 2h0m-14 4h0m-2-6h0m-12 4h0m-2 2h0m-8 0h0m-3-9h0m-10 5h0m-11 2h0m-12-1h0m-29-5h0m-2-1h0m-3 4h0m-3-5h0m-17 14h0m12 4h0m5 4h0m1-1h0m4-4h0m8 5h0m3-4h0m4-2h0m6 5h0m1-7h0m2 2h0m2 3h0m14 1h0m4-2h0m2-1h0m2 2h0m1 4h0m3-6h0m2-3h0m0 9h0m1 0h0m9 0h0m7-4h0m2-6h0m0 3h0m8 1h0m1-2h0m0 3h0m13-5h0m7 5h0m4 2h0m1 2h0m1-9h0m0 5h0m1-4h0m0 7h0m12 0h0m1-1h0m5-4h0m0 7h0m7 0h0m6-8h0m5 7h0m4-8h0m0 6h0m2-5h0m2 8h0m8 0h0m1-1h0m0 1h0m1-7h0m0 2h0m2-3h0m1-1h0m2-2h0m3 11h0m7-8h0m2 4h0m5-6h0m1 4h0m6-3h0m19 0h0m5 8h0m9-3h0m2-6h0m1 2h0m6-3h0m0 8h0m7-1h0m0 2h0m1-8h0m3 4h0m2 6h0m2-1h0m3-1h0m3 2h0m2-5h0m12 4h0m10-4h0m7 1h0m16-1h0m8-4h0m9 7h0m1-4h0m4-3h0m2 12h0m-1 0h0m-5 0h0m-24 8h0m0 1h0m-2-5h0m-1-4h0m-2 4h0m-6 5h0m-4-11h0m-4 10h0m-5 0h0m-10-5h0m-2 6h0m-3-3h0m-8-3h0m0 5h0m-2 1h0m-2-8h0m-11-1h0m-19 2h0m-8 0h0m-1 0h0m-2 6h0m-5-10h0m-6 0h0m-1 6h0m0 3h0m-5 1h0m-8 1h0m-4-1h0m-5 0h0m-2-1h0m-4 1h0m-2-6h0m-1 3h0m0 3h0m-3-5h0m-5 0h0m-3 3h0m-1-8h0m-2 6h0m-1-1h0m-2 5h0m-2-5h0m-1-2h0m-1-3h0m-6 3h0m0 4h0m0 1h0m-5-5h0m-1 7h0m-2-5h0m-6-3h0m0 7h0m-4-3h0m-1-5h0m-5 4h0m-3 6h0m-1-7h0m-4 0h0m0 1h0m-1 6h0m-2-6h0m-7 3h0m-3 2h0m-4-5h0m-2 2h0m-3 2h0m-6 2h0m-1-3h0m-1 0h0m-2-3h0m-6-1h0m-8 4h0m0 3h0m-2-2h0m-1-8h0m-5 9h0m-8-3h0m-1 0h0m-2 0h0m-2-3h0m-1 1h0m-1 0h0m0 6h0m-2 0h0m-8-6h0m-2-5h0m-3 8h0m-5-8h0m0 2h0m0 8h0m-1-8h0m-8 9h0m-3-8h0m-6-2h0m-1 0h0m0 1h0m-1 6h0m-2-8h0m-9 11h0m-6-6h0m-1-1h0m-2-2h0m1 17h0m0 1h0m8-2h0m8-5h0m7 0h0m0 8h0m1-5h0m4-3h0m10 7h0m3-5h0m5-1h0m1 1h0m3 8h0m2-3h0m0 3h0m2-4h0m6-1h0m1-4h0m1-1h0m4 0h0m0 8h0m1-7h0m1 2h0m0 4h0m1-3h0m1 2h0m2 0h0m0 1h0m5-1h0m2-3h0m1 5h0m2-9h0m1 10h0m1 0h0m3-3h0m1-3h0m1 3h0m1-4h0m1 4h0m4-6h0m1 1h0m1 3h0m1 2h0m1 1h0m2-3h0m1-1h0m2-3h0m2 1h0m5 9h0m1-7h0m3-3h0m1 8h0m1-7h0m6 8h0m4-2h0m2-5h0m0 8h0m3-6h0m0 3h0m4-3h0m1-3h0m6 7h0m1 1h0m1-9h0m0 2h0m3 2h0m2 6h0m3-10h0m1 9h0m5-5h0m0 3h0m1-8h0m0 2h0m0 3h0m3-1h0m4 4h0m2 1h0m2-3h0m5-3h0m1 6h0m1-1h0m2-5h0m1 3h0m1 1h0m1-5h0m0 7h0m1-4h0m1 4h0m5-6h0m0 5h0m0 3h0m5-1h0m2-8h0m1 1h0m2 6h0m0 1h0m3 0h0m5 0h0m1-7h0m3 1h0m0 5h0m7-2h0m1-1h0m2 5h0m6-8h0m2 1h0m5 0h0m5 4h0m1-2h0m7-4h0m0 2h0m2-3h0m2 0h0m1 0h0m2 7h0m2 0h0m2-3h0m3-1h0m11 6h0m5-2h0m4-3h0m12 2h0m4-2h0m1-4h0m0 5h0m0 1h0m17-2h0m5 5h0m2-2h0m7 3h0m8-8h0m15 5h0m4 3h0m23-11h0m5 20h0m-17-4h0m-8 6h0m-14-2h0m-2-2h0m-1-5h0m0 6h0m-2 2h0m-7 0h0m-3 0h0m-12-7h0m-3 5h0m-1-4h0m-1 2h0m-3 0h0m-10-2h0m-1 0h0m-1 2h0m-2 4h0m-3-8h0m-5-1h0m-4 3h0m-2-3h0m0 2h0m-3 9h0m-1-5h0m-1 0h0m-3 3h0m-9-5h0m0 3h0m-1 4h0m-2-5h0m-3-2h0m-6 3h0m0 1h0m-5 2h0m-6-2h0m-3-2h0m-2 5h0m-2-3h0m-5-6h0m-2 7h0m-2 1h0m-2-5h0m0 1h0m-2 1h0m-2 1h0m-1 3h0m-2-11h0m-3 11h0m-2-8h0m-3 8h0m-2 0h0m-1-10h0m0 6h0m-4-3h0m-1 3h0m-1 1h0m-1-8h0m-1 1h0m-3 2h0m-4-3h0m-1 7h0m-1 0h0m-5-2h0m0 2h0m-3 4h0m-2-10h0m-1-1h0m-2 5h0m-2-5h0m-3 2h0m-1 0h0m-2 8h0m-1-6h0m0 5h0m-1-1h0m-1-5h0m-2 1h0m-2 6h0m-2-5h0m-1-2h0m-2-3h0m-2 8h0m-2 2h0m-2-5h0m-4 2h0m-1 2h0m-3-1h0m-2 3h0m-3-8h0m-1-2h0m0 1h0m-5 8h0m-3-9h0m-1 7h0m-2-7h0m0 9h0m-2-5h0m-1 2h0m-1-3h0m-1 0h0m0 3h0m-1-7h0m-2 4h0m0 6h0m-1-6h0m-2-3h0m-1 4h0m-3-2h0m0 4h0m0 1h0m-1-7h0m0 7h0m-4-5h0m-1 5h0m0 2h0m-5-2h0m-1 1h0m-1 0h0m-1-8h0m-1 7h0m-3-6h0m-1 3h0m-3 6h0m-1-11h0m-1 11h0m-4-7h0m-2 1h0m-2 2h0m-1 2h0m-4-7h0m-2-1h0m-4 8h0m-2-3h0m-2-2h0m-1-1h0m-3 2h0m-1 4h0m-4-3h0m-1-5h0m-4 3h0m-1-1h0m-6 5h0m-2-5h0m0 7h0m-3-7h0m-3-1h0m-1 2h0m0 4h0m-2-1h0m-3-3h0m-4 0h0m-5 5h0m-4 2h0m-6 11h0m16-1h0m0 1h0m3-8h0m0 6h0m3 1h0m1-8h0m9 10h0m1-11h0m0 2h0m9 3h0m0 1h0m3 5h0m1-6h0m1-1h0m6 1h0m2 2h0m4 3h0m1-10h0m7 5h0m2 5h0m7-1h0m1-6h0m1 0h0m3 6h0m1-3h0m1-3h0m0 1h0m4-3h0m2 6h0m1-6h0m0 9h0m6 0h0m1 1h0m1-1h0m0 1h0m5-10h0m3 8h0m1-8h0m0 8h0m2-1h0m2-6h0m0 4h0m6-1h0m2-4h0m0 3h0m3 6h0m1-10h0m1 2h0m7 6h0m1-6h0m1-1h0m0 9h0m2-3h0m3-5h0m4 1h0m2-2h0m1 5h0m1-1h0m4 4h0m1-9h0m1 0h0m1 2h0m6 1h0m0 5h0m4-4h0m1 3h0m1-5h0m1 7h0m1-4h0m2-2h0m1-3h0m1 6h0m2 5h0m2-8h0m0 7h0m1-10h0m0 1h0m2 1h0m0 2h0m1-3h0m0 5h0m5-6h0m1 0h0m0 11h0m1-9h0m0 2h0m1 0h0m1 0h0m1 6h0m2-5h0m4-3h0m11-1h0m0 1h0m1 9h0m1-3h0m0 1h0m2-2h0m5 1h0m1-4h0m1 1h0m2-3h0m2 9h0m2-3h0m1-4h0m1-2h0m9-1h0m6-1h0m2 9h0m2-9h0m1 4h0m4-1h0m3 2h0m1 6h0m2-6h0m3-1h0m0 4h0m1-5h0m1 6h0m0 1h0m10 0h0m4-10h0m1 6h0m0 4h0m2-7h0m9-2h0m3 4h0m11 2h0m6 1h0m14-8h0m4 11h0m7-3h0m2-6h0m6-2h0m6 4h0m5-3h0m3 0h0m14 7h0m39 15h0m-12-7h0m-1-1h0m-29 1h0m-11 7h0m-3-9h0m-6 1h0m-2 2h0m-5-5h0m-2 9h0m-7-4h0m0 4h0m-4-9h0m-9 7h0m-2 3h0m-3 0h0m-11-10h0m0 5h0m-3 0h0m-4 6h0m-3-2h0m-1-9h0m-4 9h0m0 2h0m-1-11h0m-5 2h0m-3 0h0m-9-1h0m-2 0h0m-1 10h0m-5-4h0m-2 2h0m-1-3h0m-5-3h0m-1 6h0m-4-7h0m0 9h0m-2-9h0m-1 2h0m-3-2h0m-3 2h0m-1 2h0m0 2h0m-2 2h0m-4-4h0m-5 3h0m-1-9h0m-1 4h0m-2-3h0m0 3h0m-2 0h0m-2-1h0m0 8h0m-2-2h0m-1-5h0m-6 5h0m-1-1h0m-4-5h0m-2 4h0m-2 0h0m-2-6h0m0 8h0m-4-9h0m-1 2h0m0 8h0m-1 0h0m-1-8h0m-4 0h0m-1 5h0m-4 1h0m-4-5h0m-1-1h0m-2 6h0m0 2h0m-8-3h0m-2-6h0m0 10h0m-1-11h0m-5 0h0m0 6h0m-1 0h0m-2-6h0m-1 9h0m-5-7h0m-2 7h0m-1-7h0m0 6h0m-1-8h0m0 10h0m-1-5h0m-4 2h0m-3-4h0m-1 1h0m0 5h0m-4 1h0m-1-9h0m-6 8h0m-1-8h0m-3 9h0m-2-5h0m-1 5h0m-1-4h0m-8-6h0m-1 11h0m-1-1h0m-1-3h0m0 4h0m-1-10h0m-2 5h0m-2-3h0m-4-3h0m-4 7h0m-2-6h0m0 5h0m-2-1h0m-9 6h0m-2-6h0m-3-1h0m-1-4h0m-6 1h0m0 2h0m-5-2h0m-2 6h0m0 4h0m-5-8h0m-1 2h0m-15 3h0m-3-7h0m-3 5h0m-4 2h0m-5 3h0m-13-6h0m47 9h0m23 5h0m2-3h0m12 5h0m3-9h0m1 0h0m1 9h0m1-3h0m4 3h0m4-9h0m7 8h0m3 2h0m3-2h0m2-1h0m1 1h0m3 1h0m2-2h0m1-7h0m1 7h0m4 0h0m5-6h0m3 9h0m1 1h0m1-10h0m13 6h0m0 1h0m2-7h0m6 5h0m2-4h0m0 3h0m0 3h0m1-8h0m0 8h0m6-8h0m0 1h0m2 8h0m8 1h0m6-8h0m0 9h0m1-11h0m0 1h0m0 5h0m0 2h0m7-8h0m0 5h0m4-2h0m2 2h0m2-5h0m0 8h0m1-2h0m1 3h0m1-6h0m1 6h0m1-9h0m1 8h0m1 2h0m1-4h0m2-3h0m1-2h0m0 8h0m2-1h0m2-7h0m2 9h0m1-7h0m1 1h0m0 1h0m1-2h0m2 8h0m1-9h0m2 8h0m2-9h0m3 3h0m0 1h0m0 5h0m1-5h0m3-1h0m1-4h0m1 10h0m3 1h0m1-9h0m2 2h0m8 0h0m4 6h0m4-2h0m2-3h0m1 5h0m2-2h0m2-1h0m2 3h0m1-5h0m1 6h0m3-8h0m3-3h0m1 2h0m4-1h0m4 0h0m3 7h0m1 1h0m4-6h0m0 3h0m0 2h0m0 3h0m5-2h0m5-7h0m15 6h0m1-4h0m4-4h0m0 8h0m2 1h0m4-6h0m1-2h0m4 0h0m0 10h0m2-6h0m2 6h0m4-10h0m2 8h0m3-8h0m3-1h0m24 9h0m7-6h0m1 4h0m26 3h0m3 11h0m-10 2h0m-19-1h0m-1-3h0m-5-7h0m0 11h0m-3-2h0m-5-8h0m-1-1h0m-13 6h0m-4-5h0m-2 4h0m-5 2h0m-5-4h0m-9 2h0m-1 5h0m-1-6h0m-1-4h0m-3 6h0m-1 3h0m-3-1h0m-1 2h0m-9-9h0m-3-1h0m-2 10h0m-5-2h0m-2-5h0m-1 4h0m-1-1h0m-1-2h0m-3-2h0m-6 2h0m-1-3h0m-7 0h0m-4 5h0m-3 5h0m-2-9h0m0 1h0m-1-1h0m-3 6h0m-6-1h0m-1-6h0m0 5h0m-9 1h0m-3 0h0m-4 3h0m-8-9h0m0 1h0m-4 3h0m-2 6h0m-2-8h0m-4-3h0m0 10h0m-2 0h0m-1 1h0m-2-10h0m-5-1h0m0 3h0m-1 7h0m-8-2h0m-2 3h0m-3-11h0m0 11h0m-2-10h0m0 5h0m-4 3h0m-1 1h0m-2-1h0m-1-3h0m-11-3h0m-1-2h0m-1 6h0m-5-6h0m-4 3h0m-1 0h0m-1 6h0m-2-10h0m-1 9h0m-5-6h0m-3 6h0m-1 0h0m-1-8h0m0 10h0m-1-1h0m-3-1h0m-1-6h0m-5 3h0m-2-3h0m-4 8h0m-3 0h0m-4-11h0m0 4h0m0 2h0m0 2h0m-2-7h0m-6 5h0m-1 2h0m-2-2h0m-2-3h0m-1 3h0m-1 4h0m-2-1h0m-5-5h0m-1 1h0m-5 0h0m0 1h0m-2 2h0m-4-6h0m-22 1h0m-8 7h0m-20-3h0m0 2h0m19 3h0m17 1h0m2 5h0m14 5h0m3-11h0m4 2h0m1 5h0m2-6h0m2 4h0m0 4h0m1-5h0m1 5h0m1 1h0m1-6h0m3-3h0m10 0h0m2 3h0m1-3h0m0 2h0m8-2h0m2 7h0m1 3h0m4-9h0m1 6h0m2-8h0m1 2h0m2-2h0m0 7h0m1-1h0m0 4h0m1-6h0m3-3h0m0 8h0m2 0h0m2-7h0m0 2h0m1-1h0m0 3h0m1-1h0m5-1h0m6 0h0m3-2h0m1 3h0m3 1h0m2-4h0m2 1h0m2 2h0m1 3h0m5-4h0m1 0h0m1-3h0m5 6h0m1-4h0m1-3h0m2 0h0m0 7h0m1-7h0m3 5h0m3-5h0m0 5h0m0 4h0m2-2h0m0 3h0m1-4h0m5-5h0m5 4h0m2-3h0m0 3h0m6-5h0m0 3h0m3 8h0m6-4h0m1 4h0m1-10h0m5 2h0m2-1h0m4-1h0m3-1h0m0 1h0m4 1h0m1 5h0m1-6h0m0 3h0m5 6h0m4-3h0m3 2h0m1-4h0m1-2h0m4-3h0m5 1h0m1 9h0m1-8h0m0 5h0m5-6h0m2 1h0m0 5h0m2-5h0m5 3h0m2 2h0m6-6h0m2 8h0m2 1h0m4-3h0m1 4h0m4-2h0m0 2h0m9-2h0m1-8h0m1 9h0m1-4h0m6-5h0m1 10h0m1-7h0m3 0h0m2 6h0m1-3h0m0 4h0m3-9h0m1 4h0m4-3h0m2-3h0m2 5h0m5-3h0m2 5h0m9 2h0m4-8h0m9 4h0m0 1h0m1 5h0m11-7h0m8 7h0m53 0h0m-43 1h0m-6 7h0m-9-7h0m-13 1h0m-6 1h0m-3-2h0m-1 10h0m-2 1h0m-3-2h0m-2 1h0m-1 0h0m-6 1h0m-2-2h0m-3-7h0m-2 8h0m-3-7h0m0 3h0m-6 1h0m-3 3h0m-8-5h0m-2 1h0m-3 2h0m-1 2h0m-2-7h0m-2-3h0m-4 3h0m-1 2h0m0 2h0m-1-7h0m-2 7h0m0 1h0m-6-5h0m-1 1h0m-3 5h0m-3-1h0m-2-5h0m-4 4h0m-4 0h0m-7 0h0m-2-5h0m-1-1h0m-2-1h0m0 10h0m-8-9h0m-2-1h0m-2 11h0m-4-7h0m-5 2h0m-2 4h0m-1 0h0m-4-3h0m-2 4h0m-7-3h0m-1-5h0m-1 1h0m-6 4h0m-1-8h0m-1 0h0m-1 8h0m-3 2h0m-1-3h0m-3-4h0m-1 0h0m-1 5h0m0 2h0m-3-7h0m-1 2h0m0 2h0m-1-3h0m-2-4h0m0 4h0m0 1h0m-1 2h0m-2-1h0m0 1h0m0 4h0m-1-6h0m-3-4h0m0 6h0m-2-3h0m0 7h0m-7-10h0m-1 2h0m-2 1h0m-7 0h0m-1 4h0m0 1h0m-1-9h0m0 3h0m-1-3h0m0 5h0m-6 1h0m-8-6h0m-1 3h0m-3 6h0m-2-7h0m-1 4h0m-5-5h0m0 2h0m0 4h0m-1 3h0m-2-3h0m-2-1h0m-2-4h0m-1 1h0m0 3h0m-2-1h0m-5-3h0m0 5h0m-1-3h0m-2 3h0m-3 3h0m-1-9h0m0 3h0m0 5h0m-3-4h0m-1-5h0m0 4h0m-3-3h0m0 2h0m-14-3h0m-10 0h0m-5 1h0m0 7h0m-15 0h0m-1 2h0m-15-3h0m-15 10h0m10 1h0m23-3h0m20 0h0m3-3h0m5 7h0m3-4h0m2 3h0m2 4h0m3-5h0m6-4h0m6 7h0m3-4h0m12-3h0m2 8h0m6-2h0m1-5h0m11-2h0m0 8h0m6-2h0m3-5h0m4 1h0m1 1h0m0 2h0m0 2h0m1 0h0m1 2h0m5-5h0m1 1h0m2 6h0m3-3h0m6 3h0m1-2h0m9 0h0m1 2h0m8-9h0m7 5h0m1 3h0m8-4h0m7 3h0m1-5h0m2-1h0m0 7h0m2-10h0m3 0h0m7 2h0m5 6h0m1 1h0m4 2h0m1 0h0m6-11h0m1 7h0m6 1h0m2-5h0m0 1h0m0 7h0m1-3h0m7-8h0m0 6h0m4-2h0m2-3h0m0 7h0m4 3h0m5 0h0m1-3h0m5-7h0m0 10h0m3-11h0m1 1h0m3 4h0m8 0h0m4-3h0m1-1h0m3 9h0m10-5h0m3 1h0m0 4h0m2-5h0m3 1h0m2 0h0m3-5h0m0 4h0m1 0h0m1 4h0m1-7h0m1 9h0m2-11h0m0 1h0m1 7h0m9-5h0m3-1h0m5 9h0m6-7h0m1 3h0m3-4h0m6 6h0m6 1h0m14-9h0m30 15h0m-30 7h0m-10-8h0m-11 2h0m-1-2h0m-3 5h0m0 1h0m-1 2h0m-9-6h0m0 5h0m-3-10h0m-2 9h0m-4-6h0m0 3h0m0 5h0m-3-7h0m-1-1h0m0 8h0m-2-6h0m-1 2h0m-2-4h0m-1 8h0m-1-1h0m-3-8h0m-1-2h0m-6 0h0m-3 0h0m0 4h0m-2 1h0m-1 4h0m-1-8h0m0 9h0m-3-10h0m-2 8h0m0 2h0m-1-7h0m-1-2h0m-4-1h0m0 1h0m-2 1h0m0 9h0m-1-8h0m-1-2h0m0 9h0m-2-3h0m-1-2h0m-1-4h0m-8 5h0m-3 3h0m-1-1h0m-1-1h0m-1 1h0m-16-8h0m-1 11h0m-10-2h0m-2-4h0m-3-4h0m-2 4h0m-4-1h0m0 5h0m-2-4h0m-3 0h0m-1-4h0m-2 1h0m-6-1h0m0 3h0m-3 3h0m-3-4h0m-2 7h0m-3-9h0m0 6h0m-2-4h0m0 6h0m-2-7h0m-2 3h0m-1-3h0m-8 6h0m-1-1h0m-1 1h0m-2-4h0m-2 4h0m-1 0h0m-3-2h0m-3 1h0m-5-3h0m-8-1h0m-1-2h0m-2-1h0m-2 0h0m0 4h0m0 7h0m-2-7h0m-5 3h0m-1-3h0m0 7h0m-1-1h0m-3-8h0m0 2h0m-2-4h0m-4 2h0m0 7h0m-3-7h0m-3 2h0m-1-3h0m-18 0h0m-2 0h0m-2 6h0m-2-7h0m-3 7h0m0 1h0m-4-1h0m-3-2h0m-2 2h0m-5-7h0m-3 2h0m-2-1h0m-3 8h0m-2-9h0m0 7h0m-20 3h0m-3-10h0m-20 6h0m-18 0h0m-1-2h0m-5 0h0m-13 11h0m33 3h0m15-5h0m2 6h0m13-7h0m3 4h0m1 3h0m5 2h0m28-8h0m4 0h0m3 9h0m5-8h0m1 7h0m3-5h0m4-2h0m0 4h0m2-5h0m0 1h0m3 0h0m1 3h0m1-4h0m8 5h0m1-3h0m3-2h0m2 9h0m10-6h0m5-3h0m1 6h0m5-4h0m2 1h0m1 3h0m2-2h0m9-4h0m0 8h0m6 0h0m2-1h0m3-7h0m3 8h0m1 2h0m3-10h0m1 5h0m1-3h0m4 0h0m0 8h0m3-2h0m9-7h0m3-1h0m1 6h0m7 0h0m0 4h0m2-2h0m1-8h0m2 7h0m4-5h0m7-3h0m2 9h0m9-4h0m5-3h0m1-2h0m4 5h0m0 1h0m6 5h0m3-9h0m4 4h0m0 3h0m3-3h0m2 3h0m4-1h0m1-1h0m2-2h0m2-5h0m0 3h0m2 8h0m2-10h0m9 3h0m2 4h0m1 3h0m2-10h0m17 8h0m4-4h0m0 1h0m3 2h0m1-1h0m1-7h0m2 2h0m3 8h0m2-4h0m8-1h0m3-5h0m18 1h0m6 4h0m8-2h0m3 17h0m-10-2h0m-5 0h0m-5 3h0m-3-5h0m-13 5h0m-4 0h0m-3-5h0m-4 6h0m0 1h0m-3-3h0m-12 3h0m-1-1h0m-1-7h0m0 2h0m-1-2h0m0 3h0m-1 2h0m-3 0h0m-3-1h0m-3-6h0m-3 3h0m-1 2h0m-1 4h0m-3 1h0m-1-3h0m-2-2h0m-4 1h0m-2 3h0m-3-6h0m-2-2h0m-1 7h0m-1-8h0m0 5h0m-2 3h0m-6-7h0m-2 2h0m0 1h0m-2 3h0m-4-5h0m-13 4h0m-4 1h0m-1-4h0m-1-2h0m-2 3h0m-1-3h0m0 6h0m-6-2h0m-4-6h0m-1 8h0m-4-4h0m-13-1h0m-8-3h0m-2 7h0m-3 4h0m-3-5h0m-3-4h0m-1 2h0m0 1h0m-1-2h0m-7 8h0m-3-10h0m-2 10h0m-10-5h0m-7-5h0m0 9h0m0 1h0m-2-5h0m-3-1h0m0 5h0m-3-9h0m-1 1h0m-5-2h0m-11 9h0m-1-2h0m-1 3h0m-3-1h0m-3-4h0m-13 2h0m-1-1h0m-2-3h0m-6 5h0m-5 1h0m-49-3h0m-15 5h0m-13-11h0m34 12h0m4 10h0m18-8h0m35 3h0m12-3h0m10-2h0m2 2h0m2 9h0m1-1h0m3-7h0m8-1h0m7 4h0m2-3h0m3 5h0m0 2h0m10-3h0m1-5h0m1-1h0m11 8h0m8 2h0m1 0h0m4-6h0m1 4h0m2-7h0m1 1h0m11-3h0m2 8h0m12-5h0m7 7h0m1-10h0m4 0h0m4 8h0m1 0h0m6-2h0m4 0h0m1 5h0m2-8h0m0 1h0m0 7h0m4-8h0m1 8h0m1-7h0m0 1h0m2-4h0m3 0h0m0 5h0m1-5h0m0 2h0m3 5h0m3 0h0m2-5h0m2-3h0m0 2h0m2 6h0m2-7h0m0 8h0m4 0h0m1-9h0m2 0h0m1 11h0m4-10h0m0 2h0m0 7h0m2 0h0m5-6h0m0 7h0m1-5h0m4 3h0m1-6h0m1 5h0m7 3h0m1-11h0m1 1h0m0 4h0m3 1h0m4 0h0m4 2h0m3 2h0m11-7h0m2-3h0m3 0h0m8 11h0m22 0h0m6-4h0m1-4h0m3-2h0m5 7h0m-6 9h0m-17 3h0m-4 2h0m-13-3h0m-6-3h0m-3-3h0m-6 0h0m-10 1h0m0 1h0m-4 3h0m-1-2h0m-2-3h0m-4-1h0m-2 6h0m-1-5h0m-9 8h0m-1-7h0m-1 2h0m-2-3h0m-2-1h0m-2 2h0m-3-1h0m0 5h0m-1 1h0m-2-7h0m0 3h0m-1 4h0m-12 3h0m-6-7h0m0 6h0m-6 0h0m-2-9h0m0 6h0m-1-1h0m0 1h0m-5-5h0m0 2h0m-4-1h0m-3-1h0m-14 7h0m-1 1h0m-6-2h0m-11 1h0m-5-4h0m0 2h0m0 4h0m-1-7h0m-2-1h0m-1 1h0m0 6h0m-15-4h0m-12 2h0m-2 1h0m-2 2h0m-2-6h0m-2 7h0m-10 0h0m-15 0h0m-2 0h0m-7-5h0m-1-3h0m-15-3h0m-19 10h0m-11-9h0m-10 10h0m-3-4h0m-7-4h0m58 11h0m19 4h0m1-3h0m5-1h0m4 0h0m3 5h0m1-1h0m5-2h0m12 1h0m2-1h0m0 3h0m2-5h0m2 1h0m5-2h0m2 2h0m4 0h0m0 4h0m1-2h0m7 1h0m3 4h0m1-10h0m4 10h0m2-4h0m2-4h0m6 4h0m2-4h0m11 1h0m3 6h0m4-6h0m0 1h0m1-1h0m5 6h0m7-5h0m2-2h0m1 3h0m3-5h0m3 1h0m3 8h0m0 1h0m1-10h0m2 6h0m8-5h0m0 7h0m5-7h0m2 5h0m4-2h0m0 6h0m2-3h0m6-3h0m2 4h0m1-5h0m0 4h0m1-7h0m1 1h0m3 10h0m5-2h0m4-8h0m11 0h0m13 9h0m1-1h0m6-3h0m10-6h0m18 8h0m25-6h0m-10 14h0m-9 4h0m-8-7h0m-5 6h0m-10-3h0m0 4h0m-6-8h0m-17 3h0m-1-3h0m0 8h0m-7-8h0m-6 1h0m-8 0h0m-2 4h0m-3-4h0m0 2h0m-1 7h0m-3 1h0m-5-4h0m-3 2h0m-3-1h0m-5 1h0m-1-6h0m-6-2h0m-11 1h0m-7 9h0m-24-1h0m-1-6h0m-2 3h0m-4 1h0m-1 1h0m-6-8h0m-1 8h0m-9-5h0m-8-1h0m-6 8h0m-1 0h0m-7-5h0m-14 0h0m-2-4h0m-10-2h0m-13 6h0m0 1h0m-81 10h0m50-5h0m62 0h0m3 3h0m0 5h0m6 3h0m1-11h0m9 10h0m18-1h0m8-1h0m20-5h0m2 1h0m7 1h0m4 1h0m1 0h0m3 0h0m1-5h0m1 7h0m5 1h0m7-6h0m3 3h0m4 1h0m3-7h0m0 8h0m2-6h0m4 4h0m5 4h0m5-8h0m6 4h0m2 0h0m4 0h0m1-3h0m14-2h0m20-1h0m4 6h0m3-3h0m3-3h0m9 9h0m47-4h0m-5 14h0m-56-3h0m-14-3h0m-20 4h0m0 3h0m-24 3h0m-7-11h0m-1 8h0m-5-5h0m-5 5h0m-2 2h0m-4-7h0m-7 1h0m-4-3h0m-13 8h0m-40 0h0m-8-8h0m-31 4h0m-32 5h0m-10-9h0m54 12h0m20 7h0m9-3h0m17-5h0m22 4h0m7-2h0m18 8h0m14-8h0m9 0h0m18 6h0m3 3h0m6 0h0m24-6h0m3 0h0m10 6h0m19 10h0m-34-9h0m-15 3h0m-20-1h0m-45 3h0m-37-5h0m-22 20h0m48-1h0m38 1h0m18-3h0m5-5h0m34 7h0m4 2h0m-34 7h0m-48-1h0" style="fill:none;stroke:#808080;stroke-width:5.10;stroke-linecap:round"/></g>
<defs>
<path id="m61728d1c34" d="M 0 1.72 C 0.456149 1.72 0.893677 1.53877 1.216224 1.216224 C 1.53877 0.893677 1.72 0.456149 1.72 0 C 1.72 -0.456149 1.53877 -0.893677 1.216224 -1.216224 C 0.893677 -1.53877 0.456149 -1.72 0 -1.72 C -0.456149 -1.72 -0.893677 -1.53877 -1.216224 -1.216224 C -1.53877 -0.893677 -1.72 -0.456149 -1.72 0 C -1.72 0.456149 -1.53877 0.893677 -1.216224 1.216224 C -0.893677 1.53877 -0.456149 1.72 0 1.72 z
"/>
</defs><g clip-path="url(#pb06b65c1e0)"><path transform="scale(0.4)" d="M1952 1025h0m-277 17h0m137 1h0m15-1h0m57-8h0m84 21h0m-35-1h0m-10-2h0m-5-1h0m0 4h0m-27-1h0m-25-2h0m-2-3h0m-51-3h0m-52 6h0m-14-5h0m-34 1h0m-60 6h0m8 13h0m40-2h0m5-6h0m30-3h0m3 1h0m0 8h0m18 0h0m1-2h0m13 3h0m9-1h0m24-8h0m4 3h0m1-2h0m7 3h0m10 4h0m4-2h0m23-3h0m25-1h0m2 2h0m3 3h0m42 2h0m3-4h0m8 5h0m9-1h0m4-6h0m2 6h0m3-6h0m12 5h0m9-1h0m43-2h0m-37 13h0m-13 0h0m-5-2h0m-1-2h0m-5-2h0m-4-1h0m0 7h0m-8 2h0m-4-4h0m0 3h0m-9-3h0m-7 3h0m-8-3h0m-4-4h0m-8 0h0m-5 6h0m-6-1h0m-3-3h0m-6 5h0m-61-5h0m-13 1h0m-16 0h0m-3-3h0m-10 5h0m-9-5h0m-16 2h0m0 1h0m-11 0h0m-18 4h0m-5 1h0m-14 2h0m-23-3h0m-10 11h0m50-7h0m10 8h0m10-6h0m7 2h0m49 3h0m16-4h0m5 4h0m20-7h0m27 3h0m11-2h0m2 3h0m7 6h0m7-2h0m2-8h0m6 2h0m1 0h0m1 7h0m10 1h0m8 0h0m3-4h0m1-2h0m0 1h0m8 1h0m2-5h0m4 7h0m1-2h0m2 4h0m2-2h0m4-5h0m1 3h0m2 4h0m1-5h0m0 3h0m6-6h0m7 9h0m9-2h0m34 12h0m-5-5h0m-14 6h0m-5-7h0m0 6h0m-7 2h0m-1-1h0m-9-3h0m-2-1h0m-1 3h0m-6-5h0m-2-4h0m-2 3h0m-5 2h0m-1-3h0m-4 3h0m-2-3h0m0 8h0m-2-7h0m-5 2h0m-4 2h0m0 3h0m-6-6h0m-6 3h0m-2 4h0m-3-4h0m-2-5h0m0 1h0m-1 2h0m-1-2h0m0 1h0m-4 7h0m-2-11h0m0 11h0m-4-3h0m0 1h0m-1-5h0m-2-2h0m-1 4h0m-1 5h0m-1-4h0m-1 4h0m-5 0h0m-5-4h0m-5-2h0m-25 2h0m-34-6h0m-29 6h0m-2-1h0m-8-4h0m-20 0h0m-2 4h0m-6-4h0m-2 3h0m-1-4h0m-11 6h0m-15-4h0m0 5h0m-39-2h0m-25-6h0m60 22h0m10-9h0m1 2h0m5 6h0m3-9h0m16 2h0m6 5h0m2 0h0m6 1h0m7 0h0m5 1h0m33-3h0m9 2h0m15-1h0m14-1h0m18 5h0m8-5h0m5 4h0m1 1h0m1-4h0m6-4h0m2 7h0m1-2h0m5-2h0m0 4h0m1-7h0m1-2h0m3 6h0m3-5h0m0 2h0m1-4h0m0 2h0m0 6h0m0 2h0m2-8h0m1 8h0m2-9h0m1 9h0m3-3h0m4 4h0m4-6h0m6 5h0m1-10h0m2 5h0m2-1h0m1 5h0m2-2h0m1 0h0m2 1h0m0 1h0m5 0h0m4-6h0m2 2h0m2-4h0m0 6h0m1-6h0m0 8h0m1-7h0m1 1h0m7 3h0m19-2h0m4-2h0m2 8h0m16-3h0m6 2h0m-14 5h0m-16 5h0m-2-6h0m-2 6h0m-9-5h0m-3 2h0m-3-4h0m-2 8h0m-3-2h0m-1 2h0m-2-2h0m-1-6h0m-4 5h0m-3 1h0m0 1h0m-5 1h0m-3-5h0m0 1h0m-4-1h0m0 6h0m0 1h0m-2-9h0m-8 2h0m0 8h0m-3-8h0m0 5h0m-3 1h0m-12-1h0m-1 1h0m-5 1h0m-1-3h0m-9 2h0m-1-3h0m-3-4h0m-1-1h0m-5 0h0m-9 10h0m-21-2h0m-5 1h0m-28-7h0m-5 3h0m-2 2h0m-2-6h0m-4 0h0m0 3h0m-1-4h0m-8 8h0m-7-5h0m-1-4h0m-11 2h0m-1 0h0m-1 4h0m-23 4h0m-18-4h0m-3 4h0m-51-9h0m47 11h0m16 10h0m8-8h0m2 7h0m31-6h0m0 8h0m5-9h0m14 6h0m5-2h0m27 4h0m2-2h0m7-2h0m5 5h0m3-11h0m1 0h0m1 9h0m6 0h0m6 1h0m1-1h0m7-5h0m4-4h0m0 5h0m0 5h0m3-9h0m12 9h0m1-3h0m4-6h0m4 8h0m2-9h0m1 0h0m2 5h0m2 0h0m3-3h0m7-2h0m6 8h0m4-2h0m0 1h0m2 4h0m1-10h0m1 9h0m1 1h0m3 0h0m1-9h0m1-2h0m0 6h0m4-3h0m2 3h0m1 4h0m1-1h0m1-8h0m0 6h0m1 4h0m1-8h0m5 7h0m5-4h0m1 5h0m7-11h0m1 2h0m4 5h0m9-2h0m5-5h0m31 7h0m-8 5h0m-17 3h0m-9-3h0m-5 2h0m-3 7h0m-2-8h0m-1 10h0m-5-9h0m-7 2h0m-3 6h0m-1-9h0m-3 3h0m0 1h0m-2 4h0m-6-6h0m-3-1h0m-3 1h0m-9 2h0m-4 1h0m-1-5h0m-1 3h0m-8 4h0m-3-5h0m-2-2h0m-3 0h0m0 3h0m-1-1h0m-3 0h0m0 5h0m-2-7h0m-1 0h0m-1 3h0m-6 7h0m-4-11h0m0 2h0m0 4h0m-1-6h0m0 6h0m-11-6h0m-6 4h0m-9-2h0m-11 9h0m-2-2h0m-19-5h0m-2 7h0m-3-4h0m-1 2h0m-1-4h0m-4 1h0m-4 0h0m-4-1h0m-5 4h0m-7-8h0m-6 2h0m-12-3h0m-4 5h0m-8-1h0m0 4h0m-25-6h0m-10 11h0m40 6h0m16 2h0m5-3h0m10-1h0m7-4h0m0 8h0m2-1h0m3-6h0m8 8h0m1-9h0m11 6h0m4-7h0m2 8h0m2-5h0m1 3h0m4 1h0m10 4h0m4-2h0m3-9h0m3 2h0m17 3h0m2 3h0m1-7h0m10 5h0m2 0h0m3-5h0m8 9h0m18-3h0m4 1h0m4 3h0m7-6h0m8-4h0m0 1h0m1 3h0m7-2h0m4 3h0m19 0h0m14-4h0m8 5h0m-13 13h0m-20-8h0m0 11h0m-13-10h0m-5 10h0m-20 0h0m-9-7h0m-1 0h0m-10 7h0m-4-4h0m-13-4h0m0 2h0m-2 5h0m-6-9h0m-14 8h0m-5-5h0m-1-4h0m-4 0h0m-3 7h0m-1-2h0m-3-5h0m-10 2h0m-7-2h0m0 4h0m-6-4h0m-4 0h0m-5 1h0m-4 3h0m-8 2h0m-3-1h0m-24 2h0m-12-2h0m-12-2h0m78 10h0m0 9h0m2-8h0m5 1h0m8-2h0m5 7h0m11 3h0m4-9h0m1 4h0m27-1h0m12-5h0m28 1h0m27 9h0m1-9h0m13 4h0m34-2h0m41-1h0m19 12h0m-32-1h0m-6 2h0m-4 2h0m-18 0h0m-34 6h0m-25-7h0m0 2h0m-9-6h0m0 5h0m-13 2h0m-21 2h0m-2 2h0m-1-5h0m-34 5h0m-1-2h0m-8-8h0m-8 1h0m-19 4h0m-63-6h0m62 16h0m0 3h0m27 2h0m13-5h0m7 6h0m35 1h0m82 0h0m66 5h0m-4-3h0m-34 6h0m-4-1h0m-4-2h0m-14-2h0m-3 6h0m-60-3h0m-33-2h0m0 3h0m-2-1h0m-17-2h0m0 8h0m-9-8h0m-72-3h0m39 22h0m27 1h0m11-9h0m26 0h0m33-2h0m9 3h0m1 1h0m1-3h0m24 5h0m70 3h0m7-2h0m0 15h0m-64 1h0m-7-8h0m-23 2h0m-11-4h0m0 6h0m84 18h0" style="fill:none;stroke:#00f;stroke-width:8.60;stroke-linecap:round"/></g>
<g clip-path="url(#pb06b65c1e0)"><path transform="scale(0.4)" d="M1876 1167.4l11.6 11.6-11.6 11.6-11.6-11.6 11.6-11.6zM1968 1228.4l11.6 11.6-11.6 11.6-11.6-11.6 11.6-11.6zM1741 1055.4l11.6 11.6-11.6 11.6-11.6-11.6 11.6-11.6zM1831 1108.4l11.6 11.6-11.6 11.6-11.6-11.6 11.6-11.6zM1906 1172.4l11.6 11.6-11.6 11.6-11.6-11.6 11.6-11.6zM1897 1161.4l11.6 11.6-11.6 11.6-11.6-11.6 11.6-11.6zM1916 1148.4l11.6 11.6-11.6 11.6-11.6-11.6 11.6-11.6zM1847 1084.4l11.6 11.6-11.6 11.6-11.6-11.6 11.6-11.6zM1905 1175.4l11.6 11.6-11.6 11.6-11.6-11.6 11.6-11.6zM1973 1178.4l11.6 11.6-11.6 11.6-11.6-11.6 11.6-11.6zM1889 1169.4l11.6 11.6-11.6 11.6-11.6-11.6 11.6-11.6zM1912 1171.4l11.6 11.6-11.6 11.6-11.6-11.6 11.6-11.6zM1799 1090.4l11.6 11.6-11.6 11.6-11.6-11.6 11.6-11.6zM1724 1115.4l11.6 11.6-11.6 11.6-11.6-11.6 11.6-11.6zM1821 1150.4l11.6 11.6-11.6 11.6-11.6-11.6 11.6-11.6zM1832 1135.4l11.6 11.6-11.6 11.6-11.6-11.6 11.6-11.6zM1902 1145.4l11.6 11.6-11.6 11.6-11.6-11.6 11.6-11.6zM1814 1152.4l11.6 11.6-11.6 11.6-11.6-11.6 11.6-11.6zM1842 1118.4l11.6 11.6-11.6 11.6-11.6-11.6 11.6-11.6zM1839 1141.4l11.6 11.6-11.6 11.6-11.6-11.6 11.6-11.6zM1932 1181.4l11.6 11.6-11.6 11.6-11.6-11.6 11.6-11.6zM1853 1178.4l11.6 11.6-11.6 11.6-11.6-11.6 11.6-11.6zM1821 1115.4l11.6 11.6-11.6 11.6-11.6-11.6 11.6-11.6zM1845 1143.4l11.6 11.6-11.6 11.6-11.6-11.6 11.6-11.6zM1857 1140.4l11.6 11.6-11.6 11.6-11.6-11.6 11.6-11.6zM1894 1165.4l11.6 11.6-11.6 11.6-11.6-11.6 11.6-11.6zM1803 1161.4l11.6 11.6-11.6 11.6-11.6-11.6 11.6-11.6zM1937 1207.4l11.6 11.6-11.6 11.6-11.6-11.6 11.6-11.6zM1898 1190.4l11.6 11.6-11.6 11.6-11.6-11.6 11.6-11.6zM1878 1158.4l11.6 11.6-11.6 11.6-11.6-11.6 11.6-11.6zM1885 1128.4l11.6 11.6-11.6 11.6-11.6-11.6 11.6-11.6zM1833 1126.4l11.6 11.6-11.6 11.6-11.6-11.6 11.6-11.6zM1763 1107.4l11.6 11.6-11.6 11.6-11.6-11.6 11.6-11.6zM1811 1110.4l11.6 11.6-11.6 11.6-11.6-11.6 11.6-11.6zM1798 1083.4l11.6 11.6-11.6 11.6-11.6-11.6 11.6-11.6zM1894 1210.4l11.6 11.6-11.6 11.6-11.6-11.6 11.6-11.6zM1784 1129.4l11.6 11.6-11.6 11.6-11.6-11.6 11.6-11.6zM1853 1151.4l11.6 11.6-11.6 11.6-11.6-11.6 11.6-11.6zM1866 1133.4l11.6 11.6-11.6 11.6-11.6-11.6 11.6-11.6zM1744 1105.4l11.6 11.6-11.6 11.6-11.6-11.6 11.6-11.6zM1817 1156.4l11.6 11.6-11.6 11.6-11.6-11.6 11.6-11.6zM1844 1157.4l11.6 11.6-11.6 11.6-11.6-11.6 11.6-11.6zM1915 1185.4l11.6 11.6-11.6 11.6-11.6-11.6 11.6-11.6zM1797 1113.4l11.6 11.6-11.6 11.6-11.6-11.6 11.6-11.6zM1877 1145.4l11.6 11.6-11.6 11.6-11.6-11.6 11.6-11.6zM1855 1118.4l11.6 11.6-11.6 11.6-11.6-11.6 11.6-11.6zM1785 1122.4l11.6 11.6-11.6 11.6-11.6-11.6 11.6-11.6zM1886 1144.4l11.6 11.6-11.6 11.6-11.6-11.6 11.6-11.6zM1874 1159.4l11.6 11.6-11.6 11.6-11.6-11.6 11.6-11.6zM1803 1142.4l11.6 11.6-11.6 11.6-11.6-11.6 11.6-11.6zM1863 1205.4l11.6 11.6-11.6 11.6-11.6-11.6 11.6-11.6zM1857 1178.4l11.6 11.6-11.6 11.6-11.6-11.6 11.6-11.6zM1800 1113.4l11.6 11.6-11.6 11.6-11.6-11.6 11.6-11.6zM1757 1090.4l11.6 11.6-11.6 11.6-11.6-11.6 11.6-11.6zM1850 1182.4l11.6 11.6-11.6 11.6-11.6-11.6 11.6-11.6zM1858 1092.4l11.6 11.6-11.6 11.6-11.6-11.6 11.6-11.6zM1876 1187.4l11.6 11.6-11.6 11.6-11.6-11.6 11.6-11.6zM1890 1190.4l11.6 11.6-11.6 11.6-11.6-11.6 11.6-11.6zM1922 1154.4l11.6 11.6-11.6 11.6-11.6-11.6 11.6-11.6zM1878 1155.4l11.6 11.6-11.6 11.6-11.6-11.6 11.6-11.6zM1842 1117.4l11.6 11.6-11.6 11.6-11.6-11.6 11.6-11.6zM1814 1097.4l11.6 11.6-11.6 11.6-11.6-11.6 11.6-11.6zM1935 1224.4l11.6 11.6-11.6 11.6-11.6-11.6 11.6-11.6zM1795 1108.4l11.6 11.6-11.6 11.6-11.6-11.6 11.6-11.6zM1817 1115.4l11.6 11.6-11.6 11.6-11.6-11.6 11.6-11.6zM1871 1156.4l11.6 11.6-11.6 11.6-11.6-11.6 11.6-11.6zM1785 1117.4l11.6 11.6-11.6 11.6-11.6-11.6 11.6-11.6zM2007 1187.4l11.6 11.6-11.6 11.6-11.6-11.6 11.6-11.6zM1908 1150.4l11.6 11.6-11.6 11.6-11.6-11.6 11.6-11.6zM1830 1126.4l11.6 11.6-11.6 11.6-11.6-11.6 11.6-11.6zM1791 1097.4l11.6 11.6-11.6 11.6-11.6-11.6 11.6-11.6zM1806 1125.4l11.6 11.6-11.6 11.6-11.6-11.6 11.6-11.6zM1841 1126.4l11.6 11.6-11.6 11.6-11.6-11.6 11.6-11.6zM1776 1105.4l11.6 11.6-11.6 11.6-11.6-11.6 11.6-11.6zM1883 1150.4l11.6 11.6-11.6 11.6-11.6-11.6 11.6-11.6zM1915 1154.4l11.6 11.6-11.6 11.6-11.6-11.6 11.6-11.6zM1759 1046.4l11.6 11.6-11.6 11.6-11.6-11.6 11.6-11.6zM1821 1174.4l11.6 11.6-11.6 11.6-11.6-11.6 11.6-11.6zM1884 1124.4l11.6 11.6-11.6 11.6-11.6-11.6 11.6-11.6zM1745 1085.4l11.6 11.6-11.6 11.6-11.6-11.6 11.6-11.6zM1883 1141.4l11.6 11.6-11.6 11.6-11.6-11.6 11.6-11.6zM1814 1097.4l11.6 11.6-11.6 11.6-11.6-11.6 11.6-11.6zM1664 1061.4l11.6 11.6-11.6 11.6-11.6-11.6 11.6-11.6zM1813 1114.4l11.6 11.6-11.6 11.6-11.6-11.6 11.6-11.6zM1748 1099.4l11.6 11.6-11.6 11.6-11.6-11.6 11.6-11.6zM1874 1160.4l11.6 11.6-11.6 11.6-11.6-11.6 11.6-11.6zM1827 1121.4l11.6 11.6-11.6 11.6-11.6-11.6 11.6-11.6zM1762 1130.4l11.6 11.6-11.6 11.6-11.6-11.6 11.6-11.6zM1814 1153.4l11.6 11.6-11.6 11.6-11.6-11.6 11.6-11.6zM1920 1185.4l11.6 11.6-11.6 11.6-11.6-11.6 11.6-11.6zM1799 1164.4l11.6 11.6-11.6 11.6-11.6-11.6 11.6-11.6zM1823 1164.4l11.6 11.6-11.6 11.6-11.6-11.6 11.6-11.6zM1919 1152.4l11.6 11.6-11.6 11.6-11.6-11.6 11.6-11.6zM1888 1181.4l11.6 11.6-11.6 11.6-11.6-11.6 11.6-11.6zM1834 1171.4l11.6 11.6-11.6 11.6-11.6-11.6 11.6-11.6zM1837 1090.4l11.6 11.6-11.6 11.6-11.6-11.6 11.6-11.6zM1816 1100.4l11.6 11.6-11.6 11.6-11.6-11.6 11.6-11.6zM1782 1126.4l11.6 11.6-11.6 11.6-11.6-11.6 11.6-11.6zM1930 1191.4l11.6 11.6-11.6 11.6-11.6-11.6 11.6-11.6zM1887 1173.4l11.6 11.6-11.6 11.6-11.6-11.6 11.6-11.6zM1771 1111.4l11.6 11.6-11.6 11.6-11.6-11.6 11.6-11.6zM1808 1150.4l11.6 11.6-11.6 11.6-11.6-11.6 11.6-11.6zM1746 1155.4l11.6 11.6-11.6 11.6-11.6-11.6 11.6-11.6zM1770 1116.4l11.6 11.6-11.6 11.6-11.6-11.6 11.6-11.6zM1960 1189.4l11.6 11.6-11.6 11.6-11.6-11.6 11.6-11.6zM1875 1136.4l11.6 11.6-11.6 11.6-11.6-11.6 11.6-11.6zM1918 1152.4l11.6 11.6-11.6 11.6-11.6-11.6 11.6-11.6zM1763 1085.4l11.6 11.6-11.6 11.6-11.6-11.6 11.6-11.6zM1847 1141.4l11.6 11.6-11.6 11.6-11.6-11.6 11.6-11.6zM1706 1064.4l11.6 11.6-11.6 11.6-11.6-11.6 11.6-11.6zM1801 1092.4l11.6 11.6-11.6 11.6-11.6-11.6 11.6-11.6zM1858 1126.4l11.6 11.6-11.6 11.6-11.6-11.6 11.6-11.6zM1750 1106.4l11.6 11.6-11.6 11.6-11.6-11.6 11.6-11.6zM1876 1152.4l11.6 11.6-11.6 11.6-11.6-11.6 11.6-11.6zM1799 1114.4l11.6 11.6-11.6 11.6-11.6-11.6 11.6-11.6zM1775 1127.4l11.6 11.6-11.6 11.6-11.6-11.6 11.6-11.6zM1890 1185.4l11.6 11.6-11.6 11.6-11.6-11.6 11.6-11.6zM1829 1111.4l11.6 11.6-11.6 11.6-11.6-11.6 11.6-11.6zM1883 1150.4l11.6 11.6-11.6 11.6-11.6-11.6 11.6-11.6zM1787 1097.4l11.6 11.6-11.6 11.6-11.6-11.6 11.6-11.6zM1767 1132.4l11.6 11.6-11.6 11.6-11.6-11.6 11.6-11.6zM1764 1130.4l11.6 11.6-11.6 11.6-11.6-11.6 11.6-11.6zM1798 1059.4l11.6 11.6-11.6 11.6-11.6-11.6 11.6-11.6zM1885 1205.4l11.6 11.6-11.6 11.6-11.6-11.6 11.6-11.6zM1841 1139.4l11.6 11.6-11.6 11.6-11.6-11.6 11.6-11.6zM1884 1192.4l11.6 11.6-11.6 11.6-11.6-11.6 11.6-11.6zM1752 1096.4l11.6 11.6-11.6 11.6-11.6-11.6 11.6-11.6zM1882 1174.4l11.6 11.6-11.6 11.6-11.6-11.6 11.6-11.6zM1914 1193.4l11.6 11.6-11.6 11.6-11.6-11.6 11.6-11.6zM1847 1133.4l11.6 11.6-11.6 11.6-11.6-11.6 11.6-11.6zM1857 1164.4l11.6 11.6-11.6 11.6-11.6-11.6 11.6-11.6zM1796 1124.4l11.6 11.6-11.6 11.6-11.6-11.6 11.6-11.6zM1771 1068.4l11.6 11.6-11.6 11.6-11.6-11.6 11.6-11.6zM1840 1117.4l11.6 11.6-11.6 11.6-11.6-11.6 11.6-11.6zM1706 1045.4l11.6 11.6-11.6 11.6-11.6-11.6 11.6-11.6zM1866 1198.4l11.6 11.6-11.6 11.6-11.6-11.6 11.6-11.6zM1871 1126.4l11.6 11.6-11.6 11.6-11.6-11.6 11.6-11.6zM1860 1115.4l11.6 11.6-11.6 11.6-11.6-11.6 11.6-11.6zM1885 1147.4l11.6 11.6-11.6 11.6-11.6-11.6 11.6-11.6zM1800 1143.4l11.6 11.6-11.6 11.6-11.6-11.6 11.6-11.6zM1788 1193.4l11.6 11.6-11.6 11.6-11.6-11.6 11.6-11.6zM1765 1151.4l11.6 11.6-11.6 11.6-11.6-11.6 11.6-11.6zM1917 1180.4l11.6 11.6-11.6 11.6-11.6-11.6 11.6-11.6zM1882 1138.4l11.6 11.6-11.6 11.6-11.6-11.6 11.6-11.6zM1832 1142.4l11.6 11.6-11.6 11.6-11.6-11.6 11.6-11.6zM1851 1127.4l11.6 11.6-11.6 11.6-11.6-11.6 11.6-11.6zM1830 1135.4l11.6 11.6-11.6 11.6-11.6-11.6 11.6-11.6zM1894 1189.4l11.6 11.6-11.6 11.6-11.6-11.6 11.6-11.6zM1837 1101.4l11.6 11.6-11.6 11.6-11.6-11.6 11.6-11.6zM1794 1102.4l11.6 11.6-11.6 11.6-11.6-11.6 11.6-11.6zM1617 1052.4l11.6 11.6-11.6 11.6-11.6-11.6 11.6-11.6zM1690 1117.4l11.6 11.6-11.6 11.6-11.6-11.6 11.6-11.6zM1770 1207.4l11.6 11.6-11.6 11.6-11.6-11.6 11.6-11.6zM1749 1004.4l11.6 11.6-11.6 11.6-11.6-11.6 11.6-11.6zM1674 1038.4l11.6 11.6-11.6 11.6-11.6-11.6 11.6-11.6zM1761 1038.4l11.6 11.6-11.6 11.6-11.6-11.6 11.6-11.6z" style="fill:none;stroke:#800080;stroke-width:3.1;stroke-linejoin:miter"/></g>
<g id="matplotlib.axis_11">
<g id="xtick_28">
<g id="line2d_60">
<g>
<use href="#m7c25c535dc" x="645.458909" y="585.32" style="stroke: #000000; stroke-width: 0.8"/>
</g>
</g>
<g id="text_77">
<text style="font-size: 10px; font-family: 'DejaVu Sans'; text-anchor: middle" x="645.458909" y="599.918437" transform="rotate(-0 645.458909 599.918437)">−2.5</text>
</g>
</g>
<g id="xtick_29">
<g id="line2d_61">
<g>
<use href="#m7c25c535dc" x="680.127531" y="585.32" style="stroke: #000000; stroke-width: 0.8"/>
</g>
</g>
<g id="text_78">
<text style="font-size: 10px; font-family: 'DejaVu Sans'; text-anchor: middle" x="680.127531" y="599.918437" transform="rotate(-0 680.127531 599.918437)">−2.0</text>
</g>
</g>
<g id="xtick_30">
<g id="line2d_62">
<g>
<use href="#m7c25c535dc" x="714.796154" y="585.32" style="stroke: #000000; stroke-width: 0.8"/>
</g>
</g>
<g id="text_79">
<text style="font-size: 10px; font-family: 'DejaVu Sans'; text-anchor: middle" x="714.796154" y="599.918437" transform="rotate(-0 714.796154 599.918437)">−1.5</text>
</g>
</g>
<g id="xtick_31">
<g id="line2d_63">
<g>
<use href="#m7c25c535dc" x="749.464776" y="585.32" style="stroke: #000000; stroke-width: 0.8"/>
</g>
</g>
<g id="text_80">
<text style="font-size: 10px; font-family: 'DejaVu Sans'; text-anchor: middle" x="749.464776" y="599.918437" transform="rotate(-0 749.464776 599.918437)">−1.0</text>
</g>
</g>
<g id="xtick_32">
<g id="line2d_64">
<g>
<use href="#m7c25c535dc" x="784.133398" y="585.32" style="stroke: #000000; stroke-width: 0.8"/>
</g>
</g>
<g id="text_81">
<text style="font-size: 10px; font-family: 'DejaVu Sans'; text-anchor: middle" x="784.133398" y="599.918437" transform="rotate(-0 784.133398 599.918437)">−0.5</text>
</g>
</g>
<g id="xtick_33">
<g id="line2d_65">
<g>
<use href="#m7c25c535dc" x="818.80202" y="585.32" style="stroke: #000000; stroke-width: 0.8"/>
</g>
</g>
<g id="text_82">
<text style="font-size: 10px; font-family: 'DejaVu Sans'; text-anchor: middle" x="818.80202" y="599.918437" transform="rotate(-0 818.80202 599.918437)">0.0</text>
</g>
</g>
<g id="xtick_34">
<g id="line2d_66">
<g>
<use href="#m7c25c535dc" x="853.470643" y="585.32" style="stroke: #000000; stroke-width: 0.8"/>
</g>
</g>
<g id="text_83">
<text style="font-size: 10px; font-family: 'DejaVu Sans'; text-anchor: middle" x="853.470643" y="599.918437" transform="rotate(-0 853.470643 599.918437)">0.5</text>
</g>
</g>
<g id="text_84">
<text style="font-size: 14.7px; font-family: 'DejaVu Sans'; text-anchor: middle" x="754.62" y="615.967828" transform="rotate(-0 754.62 615.967828)">[Fe/H]</text>
</g>
</g>
<g id="matplotlib.axis_12">
<g id="ytick_33">
<g id="line2d_67">
<g>
<use href="#mb258c49b38" x="641.16" y="551.036671" style="stroke: #000000; stroke-width: 0.8"/>
</g>
</g>
<g id="text_85">
<text style="font-size: 10px; font-family: 'DejaVu Sans'; text-anchor: end" x="634.16" y="554.83589" transform="rotate(-0 634.16 554.83589)">−0.2</text>
</g>
</g>
<g id="ytick_34">
<g id="line2d_68">
<g>
<use href="#mb258c49b38" x="641.16" y="505.837819" style="stroke: #000000; stroke-width: 0.8"/>
</g>
</g>
<g id="text_86">
<text style="font-size: 10px; font-family: 'DejaVu Sans'; text-anchor: end" x="634.16" y="509.637038" transform="rotate(-0 634.16 509.637038)">0.0</text>
</g>
</g>
<g id="ytick_35">
<g id="line2d_69">
<g>
<use href="#mb258c49b38" x="641.16" y="460.638967" style="stroke: #000000; stroke-width: 0.8"/>
</g>
</g>
<g id="text_87">
<text style="font-size: 10px; font-family: 'DejaVu Sans'; text-anchor: end" x="634.16" y="464.438186" transform="rotate(-0 634.16 464.438186)">0.2</text>
</g>
</g>
<g id="ytick_36">
<g id="line2d_70">
<g>
<use href="#mb258c49b38" x="641.16" y="415.440115" style="stroke: #000000; stroke-width: 0.8"/>
</g>
</g>
<g id="text_88">
<text style="font-size: 10px; font-family: 'DejaVu Sans'; text-anchor: end" x="634.16" y="419.239334" transform="rotate(-0 634.16 419.239334)">0.4</text>
</g>
</g>
<g id="ytick_37">
<g id="line2d_71">
<g>
<use href="#mb258c49b38" x="641.16" y="370.241263" style="stroke: #000000; stroke-width: 0.8"/>
</g>
</g>
<g id="text_89">
<text style="font-size: 10px; font-family: 'DejaVu Sans'; text-anchor: end" x="634.16" y="374.040482" transform="rotate(-0 634.16 374.040482)">0.6</text>
</g>
</g>
<g id="text_90">
<text style="font-size: 14.7px; font-family: 'DejaVu Sans'; text-anchor: middle" x="604.020047" y="475.08" transform="rotate(-90 604.020047 475.08)">[Mg/Fe]</text>
</g>
</g>
<g id="LineCollection_1">
<path d="M 849.310408 392.840689 L 857.630877 392.840689 " clip-path="url(#pb06b65c1e0)" style="fill: none; stroke: #000000; stroke-width: 2"/>
</g>
<g id="LineCollection_2">
<path d="M 853.470643 410.92023 L 853.470643 374.761148 " clip-path="url(#pb06b65c1e0)" style="fill: none; stroke: #000000; stroke-width: 2"/>
</g>
<g id="line2d_72">
<defs>
<path id="m312c2438e6" d="M 0 5 L 0 -5 " style="stroke: #000000"/>
</defs>
<g clip-path="url(#pb06b65c1e0)">
<use href="#m312c2438e6" x="849.310408" y="392.840689" style="stroke: #000000"/>
</g>
</g>
<g id="line2d_73">
<g clip-path="url(#pb06b65c1e0)">
<use href="#m312c2438e6" x="857.630877" y="392.840689" style="stroke: #000000"/>
</g>
</g>
<g id="line2d_74">
<defs>
<path id="mba2222069f" d="M 5 0 L -5 -0 " style="stroke: #000000"/>
</defs>
<g clip-path="url(#pb06b65c1e0)">
<use href="#mba2222069f" x="853.470643" y="410.92023" style="stroke: #000000"/>
</g>
</g>
<g id="line2d_75">
<g clip-path="url(#pb06b65c1e0)">
<use href="#mba2222069f" x="853.470643" y="374.761148" style="stroke: #000000"/>
</g>
</g>
<g id="line2d_76">
<defs>
<path id="mc6ef228d90" d="M 0 3 C 0.795609 3 1.55874 2.683901 2.12132 2.12132 C 2.683901 1.55874 3 0.795609 3 0 C 3 -0.795609 2.683901 -1.55874 2.12132 -2.12132 C 1.55874 -2.683901 0.795609 -3 0 -3 C -0.795609 -3 -1.55874 -2.683901 -2.12132 -2.12132 C -2.683901 -1.55874 -3 -0.795609 -3 0 C -3 0.795609 -2.683901 1.55874 -2.12132 2.12132 C -1.55874 2.683901 -0.795609 3 0 3 z
" style="stroke: #000000"/>
</defs>
<g clip-path="url(#pb06b65c1e0)">
<use href="#mc6ef228d90" x="853.470643" y="392.840689" style="stroke: #000000"/>
</g>
</g>
<g id="patch_37">
<path d="M 641.16 585.32 L 641.16 364.84 " style="fill: none; stroke: #000000; stroke-width: 0.8; stroke-linejoin: miter; stroke-linecap: square"/>
</g>
<g id="patch_38">
<path d="M 868.08 585.32 L 868.08 364.84 " style="fill: none; stroke: #000000; stroke-width: 0.8; stroke-linejoin: miter; stroke-linecap: square"/>
</g>
<g id="patch_39">
<path d="M 641.16 585.32 L 868.08 585.32 " style="fill: none; stroke: #000000; stroke-width: 0.8; stroke-linejoin: miter; stroke-linecap: square"/>
</g>
<g id="patch_40">
<path d="M 641.16 364.84 L 868.08 364.84 " style="fill: none; stroke: #000000; stroke-width: 0.8; stroke-linejoin: miter; stroke-linecap: square"/>
</g>
<g id="text_91">
<text style="font-size: 16px; font-family: 'DejaVu Sans'; text-anchor: middle" x="754.62" y="351.6" transform="rotate(-0 754.62 351.6)">f</text>
</g>
<g id="legend_6">
<g id="patch_41">
<path d="M 648.02 580.42 L 759.208656 580.42 Q 761.168656 580.42 761.168656 578.46 L 761.168656 536.286312 Q 761.168656 534.326312 759.208656 534.326312 L 648.02 534.326312 Q 646.06 534.326312 646.06 536.286312 L 646.06 578.46 Q 646.06 580.42 648.02 580.42 z
" style="fill: #ffffff; opacity: 0.8; stroke: #cccccc; stroke-linejoin: miter"/>
</g>
<g id="line2d_77">
<g>
<use href="#mad120154d4" x="659.78" y="542.262781" style="fill: #808080"/>
</g>
</g>
<g id="text_92">
<text style="font-size: 9.8px; font-family: 'DejaVu Sans'; text-anchor: start" x="677.42" y="545.692781" transform="rotate(-0 677.42 545.692781)">All Samples</text>
</g>
<g id="line2d_78">
<g>
<use href="#m61728d1c34" x="659.78" y="556.647344" style="fill: #0000ff"/>
</g>
</g>
<g id="text_93">
<text style="font-size: 9.8px; font-family: 'DejaVu Sans'; text-anchor: start" x="677.42" y="560.077344" transform="rotate(-0 677.42 560.077344)">GSE</text>
</g>
<g id="line2d_79">
<defs>
<path id="mc3cfce111a" d="M -0 4.794184 L 4.794184 0 L 0 -4.794184 L -4.794184 -0 z
" style="stroke: #800080; stroke-width: 1.25; stroke-linejoin: miter"/>
</defs>
<g>
<use href="#mc3cfce111a" x="659.78" y="571.031906" style="fill-opacity: 0; stroke: #800080; stroke-width: 1.25; stroke-linejoin: miter"/>
</g>
</g>
<g id="text_94">
<text style="font-size: 9.8px; font-family: 'DejaVu Sans'; text-anchor: start" x="677.42" y="574.461906" transform="rotate(-0 677.42 574.461906)">GSE &amp; [Al/Fe]&lt;0</text>
</g>
</g>
</g>
<g id="axes_7">
<g id="patch_42">
<path d="M 51.16 893.88 L 278.04 893.88 L 278.04 673.48 L 51.16 673.48 z
" style="fill: #ffffff"/>
</g>
<g clip-path="url(#p0590ba6458)"><path transform="scale(0.4)" d="M489 1766h0m-19 9h0m-1-3h0m-1-5h0m-3-3h0m-13 10h0m-10-8h0m-12 6h0m-1 3h0m-17-7h0m-8 1h0m-10 16h0m1-3h0m1 3h0m28 2h0m8-8h0m3 6h0m3-9h0m5 11h0m1 0h0m11 0h0m15-8h0m7 6h0m2-5h0m22 0h0m5 5h0m-2 10h0m-8 3h0m-5-4h0m-10 5h0m-1-11h0m-3 5h0m-1-5h0m-5 0h0m-3 3h0m-1 6h0m-4-6h0m-9 5h0m0 1h0m0 1h0m-1-4h0m-1-5h0m0 3h0m0 7h0m-1-11h0m0 3h0m0 3h0m0 4h0m-1-7h0m0 4h0m-1-2h0m-8 3h0m-5 2h0m-5-10h0m-5 5h0m-2 4h0m-1-2h0m-2-5h0m-4-2h0m-8 6h0m-1 3h0m-1-5h0m-2 5h0m-8-7h0m0 5h0m-14-7h0m-1 10h0m-13-2h0m8 8h0m8 7h0m4 0h0m2-2h0m2 2h0m4-7h0m2-1h0m5 5h0m2-8h0m2 10h0m7-7h0m3 3h0m2 1h0m6-7h0m0 9h0m1-3h0m0 2h0m5-3h0m0 3h0m2 2h0m1-5h0m0 3h0m1-3h0m0 6h0m3-1h0m1-2h0m1 3h0m1-8h0m0 6h0m2-5h0m2 1h0m1-3h0m1 5h0m2-7h0m0 7h0m3 3h0m1-10h0m0 3h0m2 3h0m5 3h0m4-2h0m1-4h0m0 4h0m0 4h0m2-5h0m1-3h0m0 7h0m1-9h0m0 1h0m3 3h0m0 6h0m8-6h0m0 2h0m7-7h0m2 6h0m4-3h0m4 6h0m8-7h0m25 0h0m70 21h0m-34-5h0m-49 5h0m-9-6h0m-8-3h0m0 8h0m-4-10h0m0 5h0m-5 2h0m-1-2h0m-4 6h0m-4-2h0m-2-7h0m-1 3h0m-1-1h0m-4-2h0m0 3h0m-3 3h0m-2 1h0m-1-6h0m-1 8h0m-1-10h0m-2 4h0m-2 0h0m0 6h0m-1-11h0m0 10h0m-2 1h0m-4-10h0m-1 5h0m-1-2h0m0 3h0m-1-5h0m0 2h0m-1 2h0m-1-3h0m0 4h0m-1 1h0m-2-2h0m-2-6h0m-2 6h0m-2 0h0m0 3h0m-2-4h0m-2 1h0m0 2h0m-1-4h0m-1 0h0m0 2h0m-1-5h0m-2 2h0m-2 1h0m-5 1h0m-1 2h0m0 2h0m-1-2h0m0 4h0m-2-4h0m-1 1h0m-1-8h0m-1 0h0m0 2h0m-2 2h0m-4 5h0m-3 0h0m-2 1h0m-2-1h0m-3-6h0m-1 1h0m-2 4h0m-2-6h0m-1 7h0m-1 0h0m-1 1h0m-1-7h0m-17 0h0m-27 7h0m-37-2h0m20 8h0m5 4h0m1-4h0m30 0h0m3-3h0m6 1h0m3 0h0m8-2h0m1 0h0m1 8h0m2 3h0m1-2h0m3-6h0m1 7h0m9-1h0m1 2h0m4-10h0m0 5h0m1-4h0m1 7h0m1 0h0m2 0h0m4-7h0m0 9h0m1-8h0m3-2h0m0 4h0m4 5h0m0 1h0m1-10h0m3-1h0m0 11h0m2-6h0m2 3h0m1-8h0m0 3h0m3 0h0m0 7h0m1 0h0m1-8h0m0 4h0m0 1h0m0 3h0m1-10h0m3 6h0m1 4h0m2-7h0m0 4h0m2-5h0m0 6h0m1-4h0m0 2h0m1-3h0m0 1h0m2-3h0m4 0h0m0 2h0m0 7h0m2-8h0m1 7h0m0 2h0m2-10h0m0 1h0m0 1h0m3-2h0m0 4h0m3 6h0m1-11h0m0 3h0m1-2h0m2 2h0m0 2h0m3 6h0m7-7h0m1-4h0m0 1h0m7 10h0m1-5h0m8-3h0m9 2h0m6-2h0m14-3h0m12 10h0m1-6h0m-30 11h0m-3 6h0m-3-6h0m-19 2h0m-1-4h0m-5 3h0m0 1h0m-3-2h0m-6-2h0m-1 1h0m-1 5h0m-5-7h0m-1 9h0m-1 2h0m-1-8h0m-7 3h0m-2 2h0m-1 3h0m-1-4h0m-1-7h0m-1 4h0m0 7h0m-2-10h0m-2 0h0m0 10h0m-1-6h0m-1 2h0m-2-4h0m0 7h0m-1-9h0m0 6h0m0 1h0m0 2h0m-6-3h0m-1-4h0m0 2h0m0 6h0m-1-8h0m-2 3h0m-4-3h0m0 2h0m0 2h0m-1 1h0m-1-8h0m0 10h0m-1-2h0m-3 1h0m-1 1h0m-3-5h0m0 6h0m-1-10h0m-2 1h0m0 4h0m-1-3h0m-1 1h0m0 1h0m0 3h0m-3-8h0m0 1h0m-1 10h0m-3 0h0m-1 0h0m-1-1h0m-1 0h0m-7-8h0m-6-1h0m0 1h0m-2 6h0m-8-4h0m-7 2h0m-5-5h0m-2-1h0m-2 1h0m-4 6h0m-2-1h0m-21-6h0m-7 11h0m-7-9h0m-2 1h0m-79 8h0m30 8h0m15-1h0m8-1h0m15 5h0m6-4h0m18-4h0m6 7h0m1-2h0m5-1h0m4-2h0m1 7h0m15-3h0m6-4h0m7 5h0m1 2h0m1-2h0m1-8h0m5 4h0m3 5h0m1-8h0m3 3h0m11 4h0m4-6h0m2 6h0m1-8h0m1-1h0m2 10h0m1-7h0m0 1h0m1 3h0m3-1h0m1-1h0m2 6h0m5-9h0m1 1h0m1-1h0m2 9h0m1-2h0m2-6h0m3-3h0m2 1h0m1 1h0m4-1h0m0 6h0m2 2h0m2-9h0m5 6h0m1 0h0m2 5h0m2-11h0m1 4h0m0 2h0m1-6h0m3 1h0m1 0h0m1 7h0m1-2h0m9-2h0m2-4h0m3 4h0m0 2h0m2 1h0m13-1h0m49 4h0m-41 4h0m-10 8h0m-4-9h0m-2-1h0m-9 2h0m-1 1h0m-3 7h0m-4-6h0m-3 2h0m-2-6h0m-1 10h0m-7-3h0m-8-6h0m-1 8h0m-2-4h0m-3-5h0m0 1h0m-4 6h0m0 2h0m-1-6h0m-3 3h0m-8 0h0m0 4h0m-1-5h0m-1 5h0m-4-5h0m-2 1h0m-9-4h0m-6 8h0m-5-2h0m-6-6h0m-1-2h0m-5 9h0m-1-2h0m-2-7h0m-2 4h0m-4-3h0m0 1h0m-1 4h0m0 5h0m-1-3h0m-1-2h0m0 3h0m-6-6h0m-3 0h0m-1 5h0m-6-5h0m-2 0h0m-4 2h0m-3-2h0m-3-1h0m0 4h0m-11 0h0m-5 2h0m-2-8h0m-4 7h0m-6-2h0m0 4h0m-3 1h0m-6-7h0m-1 6h0m-6-8h0m-22-1h0m-3 10h0m-58-6h0m17 19h0m24 0h0m1-2h0m2-4h0m3-1h0m8-1h0m11-1h0m13 6h0m2-4h0m7 7h0m1-7h0m1 6h0m5-5h0m2 3h0m2 0h0m5-3h0m0 2h0m4 2h0m5 1h0m3-6h0m0 2h0m0 3h0m2-9h0m0 2h0m3-2h0m0 6h0m0 4h0m1-9h0m3 7h0m0 2h0m0 1h0m1-1h0m10-1h0m3-6h0m0 2h0m6 2h0m1-2h0m2 3h0m2 0h0m2-5h0m0 1h0m3-1h0m1-1h0m3 5h0m2 0h0m1-7h0m0 9h0m1 1h0m2-2h0m8 2h0m6-7h0m7 8h0m1-5h0m3-4h0m0 7h0m2-3h0m6-2h0m3-4h0m3 8h0m2-7h0m19 3h0m0 2h0m3-4h0m3 7h0m0 1h0m5-2h0m5-1h0m9-1h0m22 1h0m16-1h0m26 14h0m-57 0h0m-3-4h0m-15-3h0m-1 9h0m-2-10h0m-1 3h0m-4 8h0m-1-9h0m-1 2h0m-3 0h0m0 7h0m-6-7h0m-3 6h0m-1 0h0m-6 0h0m-2-5h0m-1 6h0m-10-8h0m-2-2h0m-2 2h0m-7 3h0m0 4h0m-6-8h0m-6-1h0m0 2h0m-1-3h0m0 11h0m-2-10h0m0 4h0m0 1h0m-2 4h0m-5-10h0m0 11h0m-1-9h0m-1 1h0m-2 6h0m-2 1h0m0 1h0m-7-8h0m-1 8h0m-3 0h0m-3-10h0m0 5h0m-1-3h0m0 2h0m-6 6h0m-1-6h0m-1 0h0m-2-3h0m-1 5h0m0 4h0m-3-8h0m-1-3h0m-3 7h0m-1-6h0m-1 0h0m0 6h0m-3 2h0m-2-8h0m-2 8h0m-1-7h0m-1 8h0m-2-10h0m0 1h0m-2 3h0m-3-1h0m-4 2h0m0 3h0m-1-3h0m-1 4h0m-2-4h0m-14-4h0m-6 5h0m-10 4h0m-76 3h0m1 7h0m65 0h0m7 2h0m6-5h0m8-4h0m0 9h0m1 1h0m4-9h0m1 4h0m0 4h0m4-6h0m2 4h0m3-7h0m0 2h0m10 3h0m0 3h0m1-2h0m1-2h0m4-2h0m2 0h0m2-3h0m0 11h0m1-6h0m4-4h0m2 9h0m2-6h0m4-2h0m1 7h0m1-7h0m0 3h0m2-2h0m2 3h0m1 2h0m2-2h0m0 5h0m6-5h0m2-4h0m0 3h0m3-5h0m1 0h0m1 5h0m1 1h0m1 2h0m2 2h0m4-4h0m8 1h0m3-1h0m3 2h0m5-5h0m0 5h0m7 2h0m1-5h0m3 4h0m1-8h0m0 10h0m2-8h0m0 2h0m0 3h0m3-7h0m2 10h0m2-9h0m1 5h0m5 4h0m8-5h0m10 0h0m4 5h0m2-3h0m1-6h0m3-2h0m6 11h0m1-2h0m1-7h0m2-2h0m2 6h0m1 3h0m8 2h0m12-8h0m0 1h0m3 4h0m14-4h0m22 0h0m17-4h0m51 2h0m-30 18h0m-39-3h0m-2-1h0m-24 2h0m-3 1h0m-8 3h0m-14-3h0m-4-2h0m-19-1h0m-5-3h0m-11 1h0m0 8h0m-2-4h0m-13 1h0m-4-4h0m-2 0h0m-1 0h0m-6 4h0m-2-6h0m-6-1h0m-1 5h0m-4-5h0m-2 2h0m-2-1h0m0 5h0m-1 3h0m-1-4h0m-1 6h0m-1-4h0m-2-1h0m-10 4h0m-1-2h0m-10-7h0m-5-1h0m-1 4h0m-1 1h0m-3 0h0m0 1h0m-3-5h0m-3-1h0m0 4h0m-8 3h0m-1 2h0m-5-7h0m-7 5h0m-5 4h0m-4-8h0m-6-2h0m-8 7h0m-1-5h0m-4 0h0m-2 6h0m-34-8h0m-17 7h0m28 9h0m6-3h0m3 8h0m1-10h0m11 10h0m1-5h0m5-1h0m3 4h0m4 2h0m2-8h0m0 6h0m9-8h0m0 1h0m2 4h0m6-2h0m1 0h0m1-1h0m2 0h0m2-2h0m5 8h0m3-2h0m4 1h0m1-3h0m0 3h0m1-4h0m0 4h0m1-4h0m0 7h0m3-10h0m1 9h0m0 1h0m7-6h0m4-3h0m1 3h0m2-1h0m2 1h0m1 6h0m1 0h0m2-4h0m2-2h0m1 3h0m3-7h0m1 3h0m0 6h0m0 2h0m3-9h0m0 7h0m1-4h0m4 2h0m2-1h0m3-2h0m0 3h0m1-2h0m0 5h0m1-3h0m0 1h0m4 2h0m1-1h0m1 1h0m2-10h0m2 1h0m0 2h0m0 6h0m2-8h0m1 6h0m1 1h0m1-8h0m0 5h0m2-1h0m2-4h0m0 3h0m4 3h0m0 1h0m6-6h0m4 3h0m2 5h0m5 0h0m0 1h0m7-5h0m11 3h0m5 3h0m1-1h0m4 0h0m1-5h0m7-1h0m2-2h0m9-2h0m1 11h0m10-5h0m0 1h0m13-6h0m11 3h0m54 4h0m-34 14h0m-9-6h0m-3-3h0m-32 0h0m-7-1h0m-6 11h0m-10-10h0m-3 0h0m-1 4h0m-4 0h0m-7 3h0m-6 2h0m-1-3h0m-9 4h0m-3-2h0m-10-2h0m-1-1h0m-8 5h0m-2-11h0m0 5h0m-2 4h0m-6-1h0m-5-3h0m-1 6h0m-4-2h0m-2-5h0m0 2h0m-2 1h0m0 2h0m-1-9h0m0 4h0m-9-2h0m-1 2h0m-6 0h0m-1 4h0m-1-6h0m0 1h0m0 2h0m0 3h0m-1-4h0m0 7h0m-1-10h0m-1 10h0m-5-4h0m-1-6h0m-1 4h0m-3 2h0m-3-4h0m-4 3h0m-1 5h0m-1-11h0m-4 5h0m-1 1h0m-6 1h0m-6 3h0m-4-6h0m-5-4h0m-1 10h0m-9 0h0m-1-4h0m-3-6h0m-4 5h0m-2 6h0m-6-3h0m-24-1h0m-15-5h0m-3 2h0m-7 5h0m-3-1h0m0 3h0m-36-7h0m-18 12h0m63-2h0m3 6h0m10-2h0m6-2h0m2 2h0m8-6h0m9 0h0m4 10h0m3 1h0m1-6h0m4-2h0m0 5h0m4-1h0m9 1h0m1-8h0m4 4h0m4 1h0m3-1h0m1 0h0m0 5h0m0 2h0m7-5h0m2 2h0m1-4h0m1 2h0m1 0h0m0 1h0m4-6h0m1 8h0m2 1h0m4-5h0m3-5h0m0 5h0m2 5h0m1-8h0m4 3h0m0 1h0m0 4h0m1-7h0m2-1h0m4 2h0m5 6h0m1-4h0m0 2h0m1-7h0m2 8h0m2 0h0m1 2h0m1 0h0m2-9h0m0 4h0m1 5h0m1-2h0m4 0h0m2-2h0m2-5h0m4-1h0m3 1h0m0 8h0m1 0h0m3-1h0m1-6h0m0 2h0m4-3h0m2 9h0m1-2h0m1-8h0m0 10h0m4 0h0m1-11h0m2 2h0m2 2h0m0 3h0m1-3h0m2-1h0m3 7h0m2 0h0m3-4h0m1-5h0m2-1h0m0 5h0m2 4h0m1 2h0m10-1h0m1-4h0m1 0h0m0 5h0m5-10h0m0 3h0m1 0h0m0 1h0m2-2h0m14 5h0m2-7h0m1 1h0m2 2h0m4 6h0m16-5h0m20-5h0m3 7h0m28 14h0m-30-6h0m-1 8h0m-18-5h0m-2 2h0m-5-5h0m-11-2h0m-11 7h0m-3-4h0m-4-4h0m-1 0h0m-4 7h0m-1 4h0m-4-11h0m0 1h0m-1-1h0m-1 1h0m-4 2h0m0 6h0m-1-6h0m-3 3h0m-5 0h0m-3-3h0m-2 0h0m-1 3h0m-2-3h0m-1 0h0m-3 0h0m-2 0h0m-3-3h0m-1 10h0m-1-3h0m0 1h0m-3-7h0m-1 7h0m-1-8h0m0 10h0m-4-2h0m0 1h0m-1-5h0m-1 1h0m-1-1h0m-1 1h0m-1 0h0m0 4h0m-3 2h0m-1-7h0m-5-3h0m-2 7h0m0 1h0m-1-1h0m-2-5h0m-5 1h0m0 3h0m-2 4h0m-1-9h0m-3 1h0m0 1h0m0 6h0m-1-10h0m-2 8h0m-2-7h0m-4 4h0m-1-3h0m0 4h0m-2-3h0m-1 6h0m-1-9h0m-2 5h0m0 6h0m-1-4h0m0 4h0m-1-9h0m-1 2h0m-1 0h0m-2-2h0m-2 5h0m-1-3h0m0 4h0m-3 3h0m-1-1h0m-1-6h0m-1 6h0m-1-8h0m-2 8h0m-1-9h0m-3 5h0m-1 0h0m-2-4h0m-5 1h0m-2 0h0m0 2h0m-1 5h0m-1-6h0m-1 2h0m0 3h0m-1-8h0m-1 3h0m-1-3h0m-5 9h0m-1-5h0m0 1h0m-1-1h0m0 6h0m-2-6h0m-1 6h0m-2-8h0m-1 8h0m-2-8h0m-2 7h0m-1-2h0m-8 0h0m-8 0h0m-1 2h0m-1-9h0m-17 8h0m-2 0h0m-7-5h0m-4 4h0m-10 1h0m-10-9h0m-20 19h0m1 3h0m20-1h0m8-1h0m14 1h0m2-6h0m5 7h0m6-10h0m2 8h0m6-7h0m2 4h0m1 6h0m1-8h0m3 8h0m5-6h0m4 4h0m4-7h0m7 2h0m1 0h0m1 3h0m1-1h0m1-5h0m0 2h0m6 2h0m0 5h0m4-3h0m4-7h0m0 1h0m3-1h0m1 5h0m1-1h0m0 2h0m1 3h0m1 1h0m2-1h0m2-8h0m0 8h0m3-3h0m3 0h0m1 4h0m4-5h0m3-3h0m0 6h0m1-1h0m2 2h0m5-5h0m2 2h0m1 1h0m0 2h0m1-5h0m0 6h0m2 0h0m7-4h0m4-2h0m1-3h0m1-1h0m0 10h0m2-7h0m2 2h0m2 0h0m2 1h0m4-1h0m3 3h0m1-5h0m1 3h0m0 2h0m0 3h0m1-6h0m1 2h0m0 2h0m1-9h0m1 0h0m0 2h0m1 2h0m1-2h0m0 4h0m2-5h0m0 2h0m1-3h0m1 7h0m9-6h0m0 8h0m3-5h0m0 4h0m7-6h0m0 5h0m1-6h0m2 6h0m1-7h0m1 8h0m2 2h0m1-1h0m3-1h0m1-8h0m1 9h0m2 1h0m1-1h0m5-9h0m2 9h0m5-5h0m2-4h0m0 8h0m6-7h0m5 9h0m1 1h0m3-5h0m3 3h0m1-8h0m1 10h0m1-2h0m3 2h0m5-2h0m7-4h0m4 1h0m1 0h0m1 5h0m3-4h0m6 2h0m1-8h0m6 8h0m5-5h0m2 1h0m4 2h0m6-6h0m5-1h0m0 9h0m1-7h0m54 4h0m-23 12h0m-45-2h0m-3 0h0m-4 6h0m-30 0h0m-6-10h0m-1 7h0m-1 2h0m-1-1h0m-1 0h0m-2-1h0m-6-6h0m0 5h0m-2-5h0m-6 8h0m-5-4h0m-1-2h0m-3 5h0m-1-1h0m-3-4h0m-2 8h0m-1 0h0m-2-3h0m0 1h0m-3-7h0m-1 1h0m0 2h0m-2-5h0m0 3h0m0 6h0m-1-1h0m0 1h0m-1-9h0m-2 8h0m-1-6h0m-4-1h0m0 10h0m-3-11h0m-2 10h0m-2-10h0m-2 10h0m-1-3h0m-6-6h0m-4 4h0m0 1h0m-1 0h0m-4 5h0m-2-6h0m-2-5h0m0 2h0m-3 1h0m0 5h0m-2-8h0m-1 8h0m-2-5h0m-1 1h0m-2-3h0m-2 6h0m-2-3h0m0 1h0m-1-4h0m-1 2h0m-1 5h0m-3 0h0m-2-1h0m0 1h0m0 1h0m0 2h0m-1-7h0m0 4h0m-1-1h0m-1 1h0m-1-6h0m0 3h0m-1-5h0m0 2h0m0 3h0m-1 6h0m-3-2h0m-1-5h0m0 6h0m-1-10h0m0 2h0m0 1h0m-1 7h0m-5-7h0m-1 0h0m-3 5h0m-1-7h0m0 5h0m-1-3h0m-2 5h0m-1 1h0m0 1h0m-1-9h0m-3 1h0m-1 0h0m0 4h0m0 2h0m-1 0h0m-4-8h0m0 4h0m-2 3h0m-1 1h0m0 1h0m-2-8h0m-1 3h0m0 5h0m-2-3h0m-2-6h0m-2 0h0m-4 11h0m-1-10h0m0 4h0m0 1h0m-2 4h0m-1-10h0m0 11h0m-2-9h0m-6 8h0m-1-7h0m-1 6h0m-7 0h0m-6-3h0m-1 3h0m-6 2h0m-44-6h0m-7-2h0m-1 2h0m-2 6h0m30 9h0m7-1h0m4-5h0m9 9h0m10-2h0m2-5h0m0 2h0m1-4h0m2 7h0m3-8h0m2 10h0m7-4h0m2 0h0m0 1h0m3-5h0m5 2h0m1 1h0m1 4h0m1-8h0m0 1h0m1 8h0m2-8h0m2 1h0m7 3h0m1-4h0m0 2h0m0 3h0m0 2h0m0 1h0m1-1h0m1-9h0m2 2h0m0 4h0m3-6h0m1 5h0m2 5h0m1-8h0m1 6h0m4-4h0m0 5h0m4 1h0m1-9h0m1 3h0m1-5h0m0 2h0m1 1h0m2-3h0m0 6h0m1-3h0m1 5h0m4-7h0m3 7h0m1 1h0m3-9h0m1 3h0m0 7h0m1-8h0m2 9h0m1-2h0m1-8h0m0 5h0m1-4h0m1 5h0m5-5h0m1 5h0m1 2h0m1-2h0m1-3h0m1 3h0m1-6h0m1 3h0m1 2h0m2 0h0m0 1h0m1-5h0m0 8h0m1-2h0m2-8h0m5 8h0m0 1h0m2-7h0m0 5h0m0 4h0m2-10h0m0 6h0m1-3h0m2-2h0m0 5h0m1-1h0m1-4h0m0 5h0m0 1h0m3-2h0m2 2h0m1-4h0m0 4h0m1-8h0m1 7h0m2-3h0m0 6h0m2-2h0m2-3h0m5 5h0m1-4h0m1 5h0m4-5h0m0 2h0m1-6h0m0 8h0m7-8h0m9-2h0m0 1h0m0 1h0m0 4h0m2-1h0m1-2h0m2-2h0m0 2h0m7 5h0m9-4h0m6 6h0m1 0h0m4-4h0m1 2h0m3 3h0m2-4h0m1 1h0m4 2h0m83 7h0m-53-1h0m-34 6h0m-18-5h0m-3-2h0m-6 8h0m-3-10h0m-1 6h0m-1-6h0m0 4h0m-2 0h0m-1-4h0m-2-1h0m-5 9h0m-1 2h0m-2-5h0m-4-6h0m-1 8h0m-8-1h0m-5 4h0m-3-1h0m-1-5h0m-3 1h0m-3-1h0m-1 6h0m-1-3h0m-1-6h0m-1 5h0m-1-3h0m0 1h0m-1-4h0m-1 5h0m-1-4h0m-2 7h0m-1-9h0m-1 7h0m0 1h0m-1-2h0m-4-2h0m-2-3h0m-1 2h0m-1 4h0m-1-7h0m0 6h0m0 1h0m-1-2h0m0 3h0m-2-3h0m-1 0h0m-2-5h0m-1 0h0m-1 1h0m0 1h0m0 7h0m-1-8h0m-1 0h0m-1 9h0m-3-8h0m-1-2h0m-2 4h0m-1 0h0m-2 2h0m-1 3h0m-1-5h0m-2 6h0m-2-8h0m-5 2h0m-1 2h0m0 5h0m-2-3h0m-1-4h0m-1-4h0m0 9h0m0 2h0m-3-7h0m-1-2h0m0 2h0m0 2h0m0 5h0m-1-11h0m0 4h0m-1-3h0m-1 10h0m-1-8h0m0 2h0m-2 1h0m0 3h0m-5-8h0m0 4h0m0 5h0m-3-4h0m-4 2h0m-2-8h0m0 11h0m-3-9h0m0 5h0m-1-7h0m0 7h0m0 1h0m0 3h0m-2-5h0m-2-1h0m0 5h0m-1-5h0m-1-2h0m-1 2h0m0 5h0m-3-10h0m-1 1h0m0 9h0m-1 1h0m-1-6h0m-7 6h0m-2-6h0m-1-3h0m-1-1h0m-1 2h0m-1 0h0m0 3h0m-8 2h0m-4-5h0m-4 4h0m-7 0h0m-2-6h0m-5 10h0m-6-4h0m-2 2h0m-7-4h0m-10 4h0m-3 2h0m-4-10h0m-4 2h0m-8-3h0m-69 11h0m31 4h0m19 8h0m4-4h0m28 4h0m3-5h0m4 3h0m2-5h0m15-1h0m5 0h0m0 2h0m3 6h0m3-9h0m0 3h0m10 3h0m7-5h0m1 1h0m1-4h0m4 7h0m2-1h0m5-6h0m1 0h0m5 1h0m0 5h0m4 5h0m3-8h0m0 5h0m2 1h0m3-8h0m1 1h0m1-1h0m2 6h0m5 3h0m1-3h0m3-6h0m1 10h0m1-10h0m0 1h0m0 4h0m1-1h0m1-4h0m4 2h0m0 2h0m1 3h0m1-8h0m0 4h0m0 5h0m9 2h0m1-8h0m0 6h0m1-7h0m1 8h0m3-4h0m5-4h0m0 6h0m2-6h0m2-1h0m0 4h0m1-5h0m1 4h0m0 5h0m0 2h0m3-5h0m0 3h0m1 2h0m1-7h0m0 7h0m1-3h0m2-7h0m1 4h0m1-2h0m4 2h0m0 3h0m1-8h0m1 2h0m2 6h0m0 2h0m1-3h0m1-6h0m2 2h0m0 5h0m2 1h0m2-8h0m0 1h0m2 5h0m8 4h0m1-11h0m0 4h0m2-4h0m0 3h0m0 8h0m1 0h0m1-8h0m5 4h0m4-1h0m3-2h0m1 6h0m1-6h0m0 2h0m0 5h0m2-10h0m0 1h0m1 7h0m3-6h0m3 8h0m6-6h0m0 5h0m3-5h0m8-3h0m1 2h0m1-1h0m5-3h0m1 10h0m16-6h0m1 5h0m0 2h0m1-3h0m1-4h0m1 4h0m25-1h0m11-2h0m6-4h0m0 10h0m24-11h0m0 3h0m26-3h0m-65 22h0m-6-7h0m-20 6h0m-8-8h0m-3 4h0m0 1h0m-2 5h0m-7 0h0m-2-8h0m-9 5h0m-5-7h0m-4 1h0m-2 2h0m0 5h0m-5-8h0m0 1h0m-2 6h0m-3-5h0m-2 3h0m-2-6h0m-6 6h0m-3-6h0m0 10h0m-5 0h0m-4-8h0m-1-2h0m0 2h0m-2 6h0m-2-4h0m-3-3h0m-3 2h0m-1 7h0m-6-8h0m0 1h0m-1-3h0m-4 10h0m-1-2h0m-1-2h0m-1-4h0m-3 9h0m-1-5h0m-1-5h0m-2 9h0m-1-8h0m0 5h0m-3-2h0m0 5h0m-2-7h0m-1 0h0m-4 1h0m0 6h0m-2-8h0m0 7h0m-1-8h0m0 5h0m-5 1h0m-1-4h0m-1-3h0m-2 10h0m-3-3h0m-2-2h0m-3 1h0m0 5h0m-3-6h0m-5 1h0m-1 1h0m-1-2h0m-5-5h0m-1 3h0m-1 5h0m-4-1h0m-1 3h0m-1-8h0m-12 9h0m-12-8h0m-2 1h0m-5 3h0m-3-4h0m-3 8h0m-2-5h0m-1-1h0m-6-3h0m0 7h0m-2-5h0m-7-1h0m-3 5h0m-21-6h0m-17 16h0m9 1h0m14 4h0m9-11h0m3 7h0m12-1h0m5-3h0m4-2h0m17 2h0m4 4h0m1-2h0m1 3h0m2-5h0m3 1h0m10 0h0m1-3h0m11 2h0m2 2h0m2 2h0m2-1h0m1-3h0m0 4h0m2-5h0m0 7h0m7-8h0m7 8h0m0 1h0m2-6h0m10 6h0m3-8h0m3-1h0m6 10h0m2 0h0m1-4h0m2-7h0m6 4h0m4 2h0m7-3h0m4-1h0m0 2h0m6-4h0m8 2h0m1 9h0m7-4h0m2 0h0m1-7h0m0 3h0m1 5h0m3 3h0m2-3h0m1-4h0m1 3h0m4-3h0m25 1h0m8 6h0m3-6h0m4 1h0m1 5h0m2-9h0m6 9h0m5-2h0m4-1h0m9-8h0m21 10h0m11-10h0m-61 15h0m-9-2h0m-4 9h0m-24-2h0m-14-3h0m-1-1h0m-7 5h0m-7-5h0m-10-3h0m-2 2h0m-2-2h0m-7 1h0m0 6h0m0 1h0m-1-5h0m-5 2h0m-10 1h0m-1-3h0m-7 2h0m-5-1h0m-4 2h0m-8-3h0m-8 3h0m-5-4h0m-4 1h0m-27 5h0m-4 0h0m-3-5h0m-8 6h0m-6-8h0m0 2h0m-4-1h0m-3 0h0m-5 5h0m-3 2h0m23 3h0m8 5h0m9-3h0m14 0h0m1 6h0m8-8h0m3 2h0m3 4h0m2-7h0m2 1h0m10 1h0m11 7h0m3-5h0m8 0h0m2 6h0m13-9h0m5 7h0m11-7h0m6-1h0m14 7h0m2-7h0m1 4h0m11 5h0m5-2h0m21-2h0m42 4h0m-11 3h0m-1 3h0m-55 2h0m-6-4h0m-1 9h0m-10-6h0m-17-4h0m-4 9h0m-1-7h0m-6-1h0m-4 4h0m-6 3h0m-23 1h0m-8 2h0m-9-8h0m-15 6h0m-19-9h0m-7 1h0m-11 10h0m-99 1h0m11 9h0m105 0h0m19-4h0m12 3h0m55-5h0m96 4h0m83 14h0m-71-7h0m-82-1h0m-19 2h0m-102-3h0m-157 18h0m144-1h0m-14 18h0m-140-3h0m382 18h0m-99 3h0m-218 1h0m292 53h0m-127-4h0m59 7h0" style="fill:none;stroke:#808080;stroke-width:5.10;stroke-linecap:round"/></g>
<defs>
<path id="mf8bf2030a8" d="M 0 2.06 C 0.546318 2.06 1.070335 1.842945 1.45664 1.45664 C 1.842945 1.070335 2.06 0.546318 2.06 0 C 2.06 -0.546318 1.842945 -1.070335 1.45664 -1.45664 C 1.070335 -1.842945 0.546318 -2.06 0 -2.06 C -0.546318 -2.06 -1.070335 -1.842945 -1.45664 -1.45664 C -1.842945 -1.070335 -2.06 -0.546318 -2.06 0 C -2.06 0.546318 -1.842945 1.070335 -1.45664 1.45664 C -1.070335 1.842945 -0.546318 2.06 0 2.06 z
"/>
</defs><g clip-path="url(#p0590ba6458)"><path transform="scale(0.4)" d="M452 1760h0m29 10h0m-37 1h0m-49 15h0m15-1h0m22 2h0m25-1h0m4-10h0m63 12h0m-49 1h0m-15-1h0m-3 9h0m-35 1h0m-46 5h0m27 1h0m12 6h0m5 1h0m8-6h0m16 6h0m8-1h0m2-8h0m2 7h0m8 0h0m2-1h0m23 15h0m-10-8h0m-4 0h0m-5-3h0m-3 8h0m-2 0h0m-3-6h0m-8 2h0m-2 2h0m-4-4h0m-1 9h0m-2-1h0m-5-10h0m-3 8h0m-5-7h0m-3 0h0m-6 5h0m-2 5h0m-5-4h0m-12 3h0m-3-5h0m-4 1h0m-5 0h0m-13 7h0m13 8h0m4-6h0m8 7h0m6 1h0m2-6h0m1 3h0m5-6h0m4 6h0m10-5h0m10 7h0m1-4h0m1-4h0m1 3h0m6-2h0m0 6h0m17 1h0m1-3h0m7 3h0m22-3h0m-26 7h0m-7 8h0m-2-9h0m-3 8h0m-2-4h0m-5-1h0m-6 4h0m-7-8h0m-3 7h0m-7-1h0m-6-6h0m0 5h0m-17 0h0m-2 5h0m-17-1h0m-22 2h0m64 7h0m0 4h0m40 7h0m-3 3h0m-9-5h0m-31 1h0m-6-1h0m-1 8h0m-148-5h0m-53 12h0m137-6h0m129 16h0m-67 2h0m-71-1h0m-139 3h0m130 10h0m8 4h0m10-2h0m25 0h0m1 0h0m93 3h0m68-10h0m-113 18h0m-28 0h0m-11 1h0m-26-2h0m-7-5h0m-7 5h0m-12 2h0m-8-5h0m-16 5h0m-46 0h0m-15 7h0m21 4h0m16 1h0m11 2h0m45 0h0m7-1h0m3-2h0m6-2h0m6 5h0m26-7h0m2 2h0m29 1h0m49 5h0m27-9h0m-2 12h0m-17 6h0m-43-2h0m-5 1h0m-2-2h0m-11-2h0m0 8h0m-23-4h0m-1 1h0m-2 3h0m-1 0h0m-5 0h0m-4-10h0m-4 7h0m-2 3h0m-7 0h0m-7-10h0m-23-1h0m-6 3h0m-6 5h0m-13 2h0m-46-5h0m-3 3h0m-101 5h0m108-1h0m26 4h0m27 2h0m14 2h0m4-6h0m4 5h0m11 3h0m5 1h0m13-7h0m27 0h0m22 4h0m13-8h0m2 0h0m2 3h0m14 8h0m1-7h0m7 6h0m16 0h0m4-4h0m4-1h0m20 4h0m57 9h0m-81 5h0m-23-5h0m-29-4h0m-24 2h0m-1-4h0m-7 2h0m-7 1h0m-4 1h0m-15-1h0m-11-3h0m-6 0h0m-7 0h0m-10 5h0m-1 6h0m-8-2h0m-1-2h0m-12-1h0m-1 5h0m-3-9h0m-52 1h0m-12 7h0m-9-9h0m34 22h0m13-10h0m8 1h0m2 2h0m14-1h0m6 2h0m2 3h0m6 3h0m12-10h0m2 3h0m6 2h0m2-2h0m3 7h0m3-10h0m3 0h0m13-1h0m5 3h0m2-3h0m30 6h0m1 3h0m13-1h0m22-5h0m37-1h0m13 0h0m9-2h0m50 0h0m-13 15h0m-115-1h0m-2 5h0m-7-5h0m-8 3h0m-8-4h0m-15 3h0m-8-2h0m-1 5h0m-27-3h0m-2 2h0m0 3h0m-16-4h0m-1 5h0m-5-1h0m-19-7h0m-7 1h0m-10 7h0m-2-6h0m-22 0h0m-13 5h0m-91-6h0m67 13h0m32-1h0m5 2h0m21-2h0m15 2h0m30 3h0m7-5h0m2 7h0m46-2h0m8-5h0m28-2h0m18 1h0m23-2h0m114 14h0m-62 7h0m-32-9h0m-61 6h0m-10 2h0m-26 0h0m-27-6h0m-2 3h0m-7-4h0m-15 7h0m-13-8h0m-23 8h0m-31 11h0m31-2h0m51 1h0m14-2h0m18-4h0m31 2h0m3-1h0m1 10h0m8-1h0m11-4h0m27 11h0m-50 5h0m-13-3h0m-8 1h0m-46-6h0m-11 9h0m-36-4h0m-17-2h0m8 11h0m42 6h0m20-6h0m2 2h0m0 4h0m2-8h0m4 0h0m43-2h0m42 8h0m2-3h0m43 9h0m-57 6h0m-63-8h0m-59 1h0m19 14h0m102-1h0m-20 19h0m-22-2h0m-105 1h0" style="fill:none;stroke:#00f;stroke-width:10.30;stroke-linecap:round"/></g>
<g id="matplotlib.axis_13">
<g id="xtick_35">
<g id="line2d_80">
<g>
<use href="#m7c25c535dc" x="80.081464" y="893.88" style="stroke: #000000; stroke-width: 0.8"/>
</g>
</g>
<g id="text_95">
<text style="font-size: 10px; font-family: 'DejaVu Sans'; text-anchor: middle" x="80.081464" y="908.478437" transform="rotate(-0 80.081464 908.478437)">0.0</text>
</g>
</g>
<g id="xtick_36">
<g id="line2d_81">
<g>
<use href="#m7c25c535dc" x="144.710434" y="893.88" style="stroke: #000000; stroke-width: 0.8"/>
</g>
</g>
<g id="text_96">
<text style="font-size: 10px; font-family: 'DejaVu Sans'; text-anchor: middle" x="144.710434" y="908.478437" transform="rotate(-0 144.710434 908.478437)">0.2</text>
</g>
</g>
<g id="xtick_37">
<g id="line2d_82">
<g>
<use href="#m7c25c535dc" x="209.339405" y="893.88" style="stroke: #000000; stroke-width: 0.8"/>
</g>
</g>
<g id="text_97">
<text style="font-size: 10px; font-family: 'DejaVu Sans'; text-anchor: middle" x="209.339405" y="908.478437" transform="rotate(-0 209.339405 908.478437)">0.4</text>
</g>
</g>
<g id="xtick_38">
<g id="line2d_83">
<g>
<use href="#m7c25c535dc" x="273.968375" y="893.88" style="stroke: #000000; stroke-width: 0.8"/>
</g>
</g>
<g id="text_98">
<text style="font-size: 10px; font-family: 'DejaVu Sans'; text-anchor: middle" x="273.968375" y="908.478437" transform="rotate(-0 273.968375 908.478437)">0.6</text>
</g>
</g>
<g id="text_99">
<text style="font-size: 14.7px; font-family: 'DejaVu Sans'; text-anchor: middle" x="164.6" y="924.527828" transform="rotate(-0 164.6 924.527828)">[Mg/Fe]</text>
</g>
</g>
<g id="matplotlib.axis_14">
<g id="ytick_38">
<g id="line2d_84">
<g>
<use href="#mb258c49b38" x="51.16" y="893.517059" style="stroke: #000000; stroke-width: 0.8"/>
</g>
</g>
<g id="text_100">
<text style="font-size: 10px; font-family: 'DejaVu Sans'; text-anchor: end" x="44.16" y="897.316278" transform="rotate(-0 44.16 897.316278)">−0.8</text>
</g>
</g>
<g id="ytick_39">
<g id="line2d_85">
<g>
<use href="#mb258c49b38" x="51.16" y="861.956953" style="stroke: #000000; stroke-width: 0.8"/>
</g>
</g>
<g id="text_101">
<text style="font-size: 10px; font-family: 'DejaVu Sans'; text-anchor: end" x="44.16" y="865.756172" transform="rotate(-0 44.16 865.756172)">−0.6</text>
</g>
</g>
<g id="ytick_40">
<g id="line2d_86">
<g>
<use href="#mb258c49b38" x="51.16" y="830.396847" style="stroke: #000000; stroke-width: 0.8"/>
</g>
</g>
<g id="text_102">
<text style="font-size: 10px; font-family: 'DejaVu Sans'; text-anchor: end" x="44.16" y="834.196066" transform="rotate(-0 44.16 834.196066)">−0.4</text>
</g>
</g>
<g id="ytick_41">
<g id="line2d_87">
<g>
<use href="#mb258c49b38" x="51.16" y="798.836741" style="stroke: #000000; stroke-width: 0.8"/>
</g>
</g>
<g id="text_103">
<text style="font-size: 10px; font-family: 'DejaVu Sans'; text-anchor: end" x="44.16" y="802.63596" transform="rotate(-0 44.16 802.63596)">−0.2</text>
</g>
</g>
<g id="ytick_42">
<g id="line2d_88">
<g>
<use href="#mb258c49b38" x="51.16" y="767.276635" style="stroke: #000000; stroke-width: 0.8"/>
</g>
</g>
<g id="text_104">
<text style="font-size: 10px; font-family: 'DejaVu Sans'; text-anchor: end" x="44.16" y="771.075854" transform="rotate(-0 44.16 771.075854)">0.0</text>
</g>
</g>
<g id="ytick_43">
<g id="line2d_89">
<g>
<use href="#mb258c49b38" x="51.16" y="735.716529" style="stroke: #000000; stroke-width: 0.8"/>
</g>
</g>
<g id="text_105">
<text style="font-size: 10px; font-family: 'DejaVu Sans'; text-anchor: end" x="44.16" y="739.515748" transform="rotate(-0 44.16 739.515748)">0.2</text>
</g>
</g>
<g id="ytick_44">
<g id="line2d_90">
<g>
<use href="#mb258c49b38" x="51.16" y="704.156423" style="stroke: #000000; stroke-width: 0.8"/>
</g>
</g>
<g id="text_106">
<text style="font-size: 10px; font-family: 'DejaVu Sans'; text-anchor: end" x="44.16" y="707.955642" transform="rotate(-0 44.16 707.955642)">0.4</text>
</g>
</g>
<g id="text_107">
<text style="font-size: 14.7px; font-family: 'DejaVu Sans'; text-anchor: middle" x="14.020047" y="783.68" transform="rotate(-90 14.020047 783.68)">[Al/Fe]</text>
</g>
</g>
<g id="LineCollection_3">
<path d="M 215.802302 704.156423 L 267.505478 704.156423 " clip-path="url(#p0590ba6458)" style="fill: none; stroke: #000000; stroke-width: 2"/>
</g>
<g id="LineCollection_4">
<path d="M 241.65389 724.670492 L 241.65389 683.642354 " clip-path="url(#p0590ba6458)" style="fill: none; stroke: #000000; stroke-width: 2"/>
</g>
<g id="line2d_91">
<g clip-path="url(#p0590ba6458)">
<use href="#m312c2438e6" x="215.802302" y="704.156423" style="stroke: #000000"/>
</g>
</g>
<g id="line2d_92">
<g clip-path="url(#p0590ba6458)">
<use href="#m312c2438e6" x="267.505478" y="704.156423" style="stroke: #000000"/>
</g>
</g>
<g id="line2d_93">
<g clip-path="url(#p0590ba6458)">
<use href="#mba2222069f" x="241.65389" y="724.670492" style="stroke: #000000"/>
</g>
</g>
<g id="line2d_94">
<g clip-path="url(#p0590ba6458)">
<use href="#mba2222069f" x="241.65389" y="683.642354" style="stroke: #000000"/>
</g>
</g>
<g id="line2d_95">
<g clip-path="url(#p0590ba6458)">
<use href="#mc6ef228d90" x="241.65389" y="704.156423" style="stroke: #000000"/>
</g>
</g>
<g id="patch_43">
<path d="M 51.16 893.88 L 51.16 673.48 " style="fill: none; stroke: #000000; stroke-width: 0.8; stroke-linejoin: miter; stroke-linecap: square"/>
</g>
<g id="patch_44">
<path d="M 278.04 893.88 L 278.04 673.48 " style="fill: none; stroke: #000000; stroke-width: 0.8; stroke-linejoin: miter; stroke-linecap: square"/>
</g>
<g id="patch_45">
<path d="M 51.16 893.88 L 278.04 893.88 " style="fill: none; stroke: #000000; stroke-width: 0.8; stroke-linejoin: miter; stroke-linecap: square"/>
</g>
<g id="patch_46">
<path d="M 51.16 673.48 L 278.04 673.48 " style="fill: none; stroke: #000000; stroke-width: 0.8; stroke-linejoin: miter; stroke-linecap: square"/>
</g>
<g id="text_108">
<text style="font-size: 16px; font-family: 'DejaVu Sans'; text-anchor: middle" x="164.6" y="660.24" transform="rotate(-0 164.6 660.24)">g</text>
</g>
<g id="legend_7">
<g id="patch_47">
<path d="M 58.02 710.089125 L 146.495625 710.089125 Q 148.455625 710.089125 148.455625 708.129125 L 148.455625 680.34 Q 148.455625 678.38 146.495625 678.38 L 58.02 678.38 Q 56.06 678.38 56.06 680.34 L 56.06 708.129125 Q 56.06 710.089125 58.02 710.089125 z
" style="fill: #ffffff; opacity: 0.8; stroke: #cccccc; stroke-linejoin: miter"/>
</g>
<g id="line2d_96">
<g>
<use href="#mad120154d4" x="69.78" y="686.316469" style="fill: #808080"/>
</g>
</g>
<g id="text_109">
<text style="font-size: 9.8px; font-family: 'DejaVu Sans'; text-anchor: start" x="87.42" y="689.746469" transform="rotate(-0 87.42 689.746469)">All Samples</text>
</g>
<g id="line2d_97">
<g>
<use href="#mf8bf2030a8" x="69.78" y="700.701031" style="fill: #0000ff"/>
</g>
</g>
<g id="text_110">
<text style="font-size: 9.8px; font-family: 'DejaVu Sans'; text-anchor: start" x="87.42" y="704.131031" transform="rotate(-0 87.42 704.131031)">GSE</text>
</g>
</g>
</g>
<g id="axes_8">
<g id="patch_48">
<path d="M 346.16 893.88 L 573.08 893.88 L 573.08 673.48 L 346.16 673.48 z
" style="fill: #ffffff"/>
</g>
<defs>
<path id="m4b3ac3960c" d="M 0 1.54 C 0.408413 1.54 0.800153 1.377736 1.088944 1.088944 C 1.377736 0.800153 1.54 0.408413 1.54 0 C 1.54 -0.408413 1.377736 -0.800153 1.088944 -1.088944 C 0.800153 -1.377736 0.408413 -1.54 0 -1.54 C -0.408413 -1.54 -0.800153 -1.377736 -1.088944 -1.088944 C -1.377736 -0.800153 -1.54 -0.408413 -1.54 0 C -1.54 0.408413 -1.377736 0.800153 -1.088944 1.088944 C -0.800153 1.377736 -0.408413 1.54 0 1.54 z
"/>
</defs><g clip-path="url(#p44569932f8)"><path transform="scale(0.4)" d="M1193 1692h0m60 21h0m-22 21h0m7 1h0m-54 13h0m-15 8h0m65 1h0m24 9h0m-12 2h0m-16 1h0m-6-5h0m-6 9h0m-2-6h0m-8 6h0m-8 1h0m-6-1h0m-6-6h0m-40 14h0m20 3h0m28 3h0m5-6h0m9 0h0m1 1h0m7-5h0m5 7h0m1-6h0m1 4h0m0 1h0m1-3h0m1 6h0m20-1h0m25 0h0m16 1h0m-33 11h0m-43 1h0m-2-5h0m-1 1h0m-3 5h0m-5-2h0m-11-5h0m-22-1h0m-170 9h0m179 11h0m14-7h0m6 7h0m7 0h0m5-11h0m1 3h0m0 7h0m4-1h0m1-9h0m12 0h0m0 1h0m1 9h0m1 0h0m6-4h0m1 5h0m3-8h0m3-1h0m0 6h0m1-8h0m2 10h0m2-8h0m18 5h0m1 3h0m30-3h0m5-7h0m-19 14h0m-4 9h0m-13-2h0m-3-1h0m-14 2h0m-1-5h0m-9-4h0m-1 2h0m-1 8h0m-7-5h0m-5-6h0m-2 9h0m-1 0h0m-5-8h0m0 5h0m-1-4h0m-3 1h0m-1-3h0m-1 7h0m-1-5h0m-3-2h0m-1 7h0m-2 2h0m-3-4h0m-2 2h0m-3-7h0m-1 8h0m-4-1h0m-5 3h0m-4 1h0m-2-3h0m-2-4h0m-9 3h0m-1 1h0m-2-8h0m-11 8h0m-12 6h0m13-2h0m6 4h0m3-2h0m1 7h0m2-9h0m2 1h0m3 5h0m9 4h0m6-6h0m3-3h0m0 8h0m2-8h0m0 1h0m1 0h0m0 2h0m0 5h0m1-8h0m3 5h0m2-4h0m6 8h0m4-2h0m2 0h0m1-7h0m1 2h0m1 7h0m5-7h0m0 1h0m3 6h0m8-3h0m1-6h0m2 1h0m10 1h0m4-1h0m2 1h0m51 16h0m-14-1h0m-15 0h0m0 5h0m-1-10h0m-2 5h0m-3 1h0m-4 4h0m-5-1h0m-1-1h0m-2 0h0m-4-8h0m0 10h0m-2-2h0m-5-6h0m-1-3h0m-7 1h0m-1 10h0m-1-10h0m0 5h0m-3-5h0m-2-1h0m0 2h0m0 3h0m-3-2h0m-1 5h0m0 1h0m-1-2h0m0 4h0m-5-5h0m-3 1h0m-2-5h0m-3-2h0m-2 6h0m-2-4h0m0 3h0m-1-3h0m-2 3h0m-1 6h0m-6-11h0m0 1h0m-4 2h0m-2 2h0m-2-4h0m-2 6h0m0 1h0m-1 3h0m-1-6h0m-7 4h0m-3 1h0m-8-10h0m-2 6h0m-4-2h0m-35 17h0m24-9h0m7 6h0m11 2h0m0 2h0m9-1h0m1-9h0m2 10h0m2-5h0m1-5h0m3 6h0m1-3h0m1 2h0m1 0h0m1 4h0m1 1h0m1-2h0m1-7h0m0 8h0m2-5h0m0 1h0m1 4h0m4-5h0m3 5h0m3-9h0m3 1h0m5 10h0m2-1h0m1-7h0m3 3h0m4-6h0m2 11h0m4-10h0m4-1h0m1 2h0m1 7h0m7 2h0m1-10h0m1 1h0m0 1h0m1 2h0m5 4h0m3-2h0m2 3h0m2-7h0m2 5h0m8-1h0m2 2h0m4 1h0m2-6h0m3 0h0m3 3h0m6 4h0m6-7h0m7 6h0m0 1h0m-26 9h0m-3-7h0m0 5h0m-9-3h0m-3 1h0m-3-1h0m-13-3h0m0 1h0m0 10h0m-3 0h0m-4-7h0m0 4h0m-1-4h0m-4 7h0m-6-4h0m-2 0h0m-2 4h0m-1-11h0m0 3h0m-3-3h0m-2 8h0m-3-8h0m0 11h0m-16-1h0m-2-4h0m0 3h0m-2-9h0m0 1h0m-4-1h0m-1 4h0m0 7h0m-1-7h0m-1 4h0m-3-4h0m-2-1h0m0 7h0m-1-10h0m-1 3h0m0 1h0m0 1h0m-5 2h0m0 2h0m-1 2h0m-1-2h0m-1-9h0m-2 7h0m-3-2h0m0 3h0m-1 3h0m-2-4h0m0 4h0m-9-11h0m0 10h0m-1-10h0m-3 7h0m-21 3h0m-11-4h0m-3 5h0m-61 7h0m51 1h0m11 1h0m9-1h0m4-1h0m0 5h0m3 0h0m1-4h0m1 2h0m2-2h0m1-3h0m0 6h0m1-4h0m2 0h0m6-4h0m2 2h0m3-2h0m2 4h0m1-2h0m5-2h0m3 4h0m3-2h0m3 5h0m0 2h0m1-2h0m4-2h0m1 0h0m1-5h0m0 7h0m4-6h0m1 8h0m3-3h0m2-3h0m4 4h0m1-5h0m0 4h0m5-7h0m1 10h0m3-3h0m3-3h0m3 5h0m1-2h0m4-8h0m0 3h0m1 6h0m7-9h0m3 5h0m3 6h0m1-8h0m0 4h0m3 3h0m7-4h0m3-3h0m2-2h0m0 1h0m11 5h0m10-7h0m9 1h0m9 3h0m0 1h0m3-3h0m4 2h0m13 4h0m0 9h0m-9 6h0m-9-5h0m-1 0h0m-1-5h0m-6 1h0m0 3h0m-1-2h0m0 3h0m-4-3h0m-10 7h0m-1-9h0m0 9h0m-5 1h0m-7-1h0m-4-9h0m-9 2h0m-4-3h0m-1 1h0m-1 2h0m0 3h0m-16 0h0m-8 5h0m-4-8h0m0 3h0m0 5h0m-3 0h0m-1-8h0m-1 5h0m-2 1h0m-5-8h0m-2 6h0m-2-6h0m-3 9h0m-1-9h0m-2 7h0m-1-8h0m-3 11h0m-1-11h0m-1 3h0m0 7h0m-2-3h0m-3 2h0m-2 0h0m-2-5h0m-1 2h0m-1-6h0m-1 0h0m-1 1h0m-4 2h0m-1 2h0m-1-3h0m-2-2h0m-3 0h0m-1 3h0m-7 5h0m-3-8h0m-2 11h0m-1-1h0m-2-9h0m-5 8h0m0 1h0m-17-10h0m-1 7h0m-1-1h0m-7 0h0m-5-3h0m-3-3h0m-26 18h0m11 5h0m10-7h0m8 5h0m1-2h0m16 4h0m3 0h0m6-3h0m1 2h0m2-6h0m1 3h0m0 4h0m1-1h0m5-4h0m1 0h0m0 4h0m0 1h0m1-5h0m1-3h0m0 5h0m0 3h0m1-6h0m5 6h0m4-1h0m1 0h0m3 0h0m1-9h0m0 7h0m3 0h0m0 1h0m1-9h0m1 0h0m0 3h0m2 0h0m3-2h0m1 9h0m2-9h0m1 3h0m1 4h0m0 3h0m2-9h0m0 6h0m2-8h0m0 3h0m4 3h0m3 5h0m5-8h0m0 1h0m4 7h0m2-10h0m4 2h0m2-1h0m4 3h0m9-4h0m1 3h0m0 3h0m2-5h0m17-1h0m4 8h0m1-4h0m8-1h0m0 4h0m4-7h0m5 5h0m5-1h0m1-1h0m7 1h0m5 0h0m7-3h0m1-1h0m1 2h0m107 2h0m10 15h0m-4-1h0m-5-2h0m-40 5h0m-8-5h0m-57 4h0m-4-2h0m-2-3h0m0 7h0m-3-10h0m-4 10h0m-4-6h0m-6 4h0m-3 0h0m-4-7h0m-1 0h0m-3 4h0m-7-4h0m-28 6h0m-15 0h0m-9-3h0m-1-1h0m0 4h0m0 2h0m-4-9h0m-2 2h0m0 7h0m-2-9h0m0 3h0m0 4h0m-1 0h0m-3-7h0m-1 9h0m-1-1h0m-4-9h0m-9 0h0m0 3h0m0 3h0m-2 2h0m-4 0h0m-1-7h0m0 3h0m0 5h0m-1-1h0m-1 2h0m-1-3h0m-2 4h0m-1-11h0m-1 6h0m-1 1h0m0 4h0m-1-11h0m-1 7h0m0 1h0m-1-4h0m-3 5h0m-6-8h0m-6 2h0m-1 1h0m-1-1h0m-3 4h0m0 3h0m-5-2h0m-2-8h0m0 5h0m-2-1h0m-1 1h0m-1 1h0m0 4h0m-5-1h0m-2-3h0m-2 5h0m-2-5h0m-3-6h0m-1 11h0m-3 0h0m-3-2h0m-1 0h0m-1-2h0m-2-6h0m0 8h0m-1-4h0m-10-5h0m-2 0h0m-27 10h0m-5 3h0m11 1h0m6 7h0m3 2h0m5-5h0m6-2h0m4 7h0m5-5h0m1-4h0m1 3h0m9 6h0m1-5h0m2 1h0m5-7h0m3 7h0m1 3h0m1-7h0m0 4h0m0 3h0m2-8h0m0 1h0m0 6h0m1-5h0m1-1h0m0 1h0m0 7h0m3-6h0m0 4h0m2 0h0m0 2h0m1-7h0m4 1h0m1 0h0m0 4h0m1 1h0m1-3h0m3-2h0m0 1h0m1 2h0m0 3h0m7-7h0m2 5h0m2-2h0m4 0h0m2 1h0m1-2h0m0 3h0m1-6h0m0 6h0m5-8h0m0 4h0m2-2h0m2 7h0m4-8h0m1 5h0m4-1h0m1-4h0m1 4h0m1-4h0m2 6h0m4-1h0m6-1h0m2 2h0m3 2h0m3-5h0m5-3h0m5 1h0m1 0h0m12-1h0m1 9h0m5-10h0m38 0h0m16 0h0m56 2h0m6-2h0m0 4h0m9-4h0m23 2h0m31 2h0m-5 13h0m-11-6h0m-99 10h0m-29 0h0m-18-8h0m0 9h0m-24-8h0m-6-1h0m-4 9h0m-8-11h0m-5 2h0m-4-1h0m-5 6h0m-4-3h0m-1 0h0m-1-1h0m-1 3h0m-5-2h0m-2 0h0m0 4h0m-5-2h0m-1 0h0m-3 2h0m-2-5h0m-3 7h0m-2-7h0m-3 6h0m-3-1h0m-1-6h0m-1 8h0m-3-3h0m0 2h0m-1-4h0m0 4h0m-1-8h0m-1 1h0m0 5h0m0 1h0m-1-5h0m-1 8h0m-1-5h0m0 3h0m-1-9h0m-3 5h0m-4-4h0m-3 4h0m0 6h0m-1-1h0m-2-10h0m-1 3h0m-4-1h0m0 3h0m-1 0h0m-1-5h0m0 1h0m-1 0h0m-5 7h0m-1-1h0m-2-4h0m-1 1h0m-1 4h0m-2-3h0m-1 0h0m-3 6h0m-6-10h0m-3-1h0m0 8h0m-1-1h0m0 4h0m-4 0h0m-1-11h0m0 9h0m-1-5h0m-4 4h0m-2-7h0m-2 1h0m0 5h0m-14 2h0m-5-8h0m-4 0h0m-5 3h0m-11-3h0m-117 13h0m106-2h0m4 7h0m8 3h0m1 0h0m8-6h0m0 2h0m13 1h0m5 4h0m9-9h0m0 7h0m2-3h0m2-4h0m4 8h0m3-4h0m3-5h0m1 6h0m2 3h0m2 0h0m3-9h0m1-1h0m2 4h0m1 4h0m2-8h0m0 10h0m1 1h0m5-8h0m0 3h0m5-6h0m2 1h0m3 2h0m0 7h0m1-1h0m3-2h0m2-7h0m0 1h0m1 4h0m2-4h0m3 6h0m2-1h0m2 2h0m1 0h0m4-6h0m0 4h0m0 4h0m1-5h0m3-3h0m3 1h0m1 6h0m3-6h0m1 1h0m1 5h0m2-9h0m12 10h0m3-4h0m8-6h0m4 2h0m1 2h0m11 6h0m17-10h0m13 6h0m13 1h0m50-6h0m-23 22h0m-20-5h0m-43 5h0m-3-7h0m-2 6h0m-10-10h0m-17 3h0m-2 2h0m-2 5h0m-1 1h0m-3-10h0m-5-1h0m-1 3h0m-2 2h0m-7-3h0m-1 2h0m-1-1h0m0 4h0m-2-6h0m0 4h0m-4 1h0m0 3h0m-1-6h0m-1 1h0m-1 4h0m-4 0h0m-1 2h0m-3-10h0m-2 8h0m-2-1h0m0 4h0m-4-9h0m0 9h0m-2-1h0m-1-9h0m-1 2h0m-1 0h0m0 4h0m0 1h0m0 3h0m-4-9h0m-1 0h0m0 5h0m-5-6h0m-2 6h0m-1-1h0m-1 1h0m-3-7h0m-1 6h0m-1-5h0m0 9h0m-4-2h0m-1-4h0m-1-3h0m0 4h0m0 6h0m-1-10h0m-4 5h0m-1-1h0m0 4h0m-1 1h0m-7-9h0m-1 9h0m-4-10h0m0 8h0m0 2h0m-2-1h0m-5-3h0m-1 4h0m-9 0h0m-2 0h0m-2-7h0m-5 5h0m-2 1h0m-5-4h0m-1-2h0m-5 5h0m-3 0h0m-10-6h0m-31-1h0m-3 7h0m-45 15h0m31-10h0m1 4h0m22 4h0m23-9h0m3 5h0m4 0h0m8 6h0m4-5h0m12-1h0m3-1h0m2 6h0m8 0h0m2-3h0m5-6h0m1 9h0m1-8h0m1 1h0m0 7h0m1 0h0m4-7h0m0 4h0m2 4h0m1-8h0m4 4h0m0 1h0m1 0h0m7 1h0m2-5h0m5 7h0m1-6h0m0 3h0m2-5h0m3 0h0m3-2h0m1 3h0m1 0h0m1-3h0m0 1h0m3-2h0m0 10h0m2-1h0m3-8h0m1 4h0m1-4h0m1 8h0m7 0h0m6-3h0m2-5h0m1-1h0m1 11h0m1-11h0m10 10h0m2-6h0m4-2h0m4 8h0m2-5h0m1-5h0m1 9h0m0 1h0m24-2h0m11 0h0m45-8h0m-81 12h0m-2 8h0m-6-1h0m-5 1h0m-14-6h0m-4 0h0m-1 2h0m-6-3h0m0 8h0m-1-3h0m-1 3h0m0 2h0m-4-11h0m-1 10h0m-2-8h0m-1 3h0m-2-1h0m-1 6h0m-3-9h0m0 1h0m-2 9h0m-2-3h0m-1 1h0m-2-3h0m0 5h0m-2-6h0m-1-2h0m0 4h0m0 1h0m-1 1h0m-7-6h0m0 5h0m-1-6h0m-1 7h0m-1-2h0m-3-5h0m0 7h0m-1 0h0m-2-2h0m-5 1h0m-5-3h0m0 3h0m0 3h0m-4-1h0m-5-5h0m0 3h0m-9 2h0m-1-2h0m-3-4h0m-1 4h0m-2-1h0m-3 4h0m-3-11h0m-1 2h0m-2 6h0m-3 2h0m-4-6h0m-4 4h0m-3-7h0m-5 3h0m-3 4h0m-6 2h0m-4-9h0m-2 10h0m-5 0h0m-15-9h0m-4 1h0m-21 6h0m-9-1h0m-21 0h0m-13-4h0m2 18h0m8-10h0m7 9h0m4 0h0m7-5h0m27 4h0m6-2h0m9-2h0m0 5h0m3-3h0m7-2h0m5-3h0m1 10h0m1-2h0m5-3h0m3 3h0m1-9h0m1 1h0m1 5h0m0 1h0m3 1h0m1-3h0m2 5h0m1-1h0m2-8h0m1 7h0m5-6h0m0 2h0m0 1h0m1 2h0m1-4h0m4 5h0m1 0h0m0 2h0m2-9h0m3 3h0m1 5h0m3-1h0m1-2h0m2 4h0m4-7h0m1 1h0m5 1h0m2 6h0m2-2h0m1-5h0m1 0h0m1 2h0m2-6h0m2 2h0m2 0h0m1 6h0m2-1h0m2-1h0m2-4h0m0 5h0m2-5h0m6 9h0m1-9h0m2-1h0m1 8h0m4-5h0m2 0h0m2 4h0m4-6h0m10 4h0m2 2h0m1-3h0m3-3h0m1 1h0m4 7h0m1-6h0m2 5h0m1 2h0m4-11h0m2 5h0m2-2h0m2-1h0m0 8h0m1-9h0m0 4h0m4 0h0m24 2h0m2-1h0m7-6h0m94 21h0m-87-5h0m-34-4h0m-8 6h0m-17-5h0m-13 3h0m-3-3h0m0 10h0m-9-4h0m-1 2h0m-4-7h0m0 2h0m-5 5h0m-1-9h0m-1 2h0m-9-2h0m-2 7h0m-4 4h0m-1-4h0m-4-7h0m-1 8h0m-1-8h0m-1 10h0m-2-3h0m-3 3h0m-1-3h0m-2-2h0m-2 2h0m-3-5h0m-4 0h0m-2 8h0m-6-1h0m-5 1h0m-12 1h0m-1-11h0m-3 3h0m-5 2h0m-3 3h0m-3-8h0m-1 10h0m-1-2h0m-1-7h0m-1 3h0m-1-4h0m-2 8h0m0 3h0m-16-11h0m-2 7h0m-1-7h0m-1 8h0m-2-1h0m-3-5h0m0 3h0m-6-5h0m-8 1h0m-2 1h0m-23 0h0m-6 9h0m-4-2h0m-2 11h0m10 0h0m0 3h0m2-7h0m5 6h0m4-1h0m7-3h0m3-6h0m5 3h0m2-3h0m2 7h0m3-4h0m1 5h0m1-6h0m3 9h0m4 0h0m10-11h0m1 11h0m4-8h0m6 1h0m2 4h0m0 2h0m4-10h0m2 0h0m1 5h0m4 1h0m7 2h0m0 2h0m5 0h0m3-10h0m1 3h0m0 7h0m1-8h0m1 5h0m2-1h0m2 1h0m3 4h0m2-9h0m5 0h0m3 9h0m1-6h0m4-1h0m3-4h0m1 2h0m4-2h0m0 5h0m6-1h0m0 4h0m0 3h0m2-1h0m8-8h0m2 5h0m5-4h0m0 3h0m2-3h0m1-3h0m5 6h0m2 1h0m7-3h0m0 3h0m7 1h0m6-6h0m27 19h0m-16 2h0m-3-4h0m-6 3h0m-33-9h0m-6 9h0m-8-6h0m-7 4h0m-10 2h0m-9-6h0m-2 4h0m-2 1h0m-2-6h0m-5 1h0m-3-1h0m0 3h0m-5 1h0m-7-2h0m-3-3h0m-2 4h0m-2-4h0m-3 8h0m-6-5h0m-3 5h0m-4 0h0m-5-9h0m0 5h0m-1 0h0m-5-3h0m-1 3h0m-1-1h0m-5 5h0m-3-8h0m-3-1h0m-3 2h0m0 2h0m-3 3h0m-4 1h0m-9-1h0m-4 1h0m-7-9h0m0 4h0m-7 3h0m-4-1h0m-2 1h0m-3 1h0m-3 1h0m-7-1h0m2 6h0m0 6h0m1-3h0m2 6h0m2-11h0m2 8h0m5 1h0m6-1h0m9-4h0m3 3h0m7 3h0m5-10h0m2 5h0m4 1h0m8 2h0m0 2h0m4 1h0m6-6h0m1 5h0m4-10h0m4 5h0m2 6h0m1-2h0m2 2h0m1-7h0m3 2h0m4 2h0m2 0h0m6-4h0m3-1h0m4 2h0m5 4h0m2-1h0m1-4h0m0 3h0m4 3h0m12-2h0m1-8h0m0 8h0m1 1h0m1-5h0m2-4h0m2 5h0m1 3h0m4 1h0m7-9h0m7 9h0m1-6h0m6-2h0m2-1h0m12 5h0m29 7h0m-22 7h0m-8 1h0m-41 1h0m-3 2h0m-11-9h0m-1 7h0m-7-9h0m-3 8h0m-5-6h0m-9 5h0m-4-5h0m-1 7h0m-2-7h0m-5 1h0m-3-3h0m-3 3h0m-6 6h0m-3-7h0m-4-2h0m0 5h0m-5-2h0m-1 3h0m-2 0h0m-3 4h0m-4-1h0m-1-4h0m-9-3h0m0 2h0m0 3h0m-1-6h0m-4 6h0m-12-2h0m0 5h0m-3-2h0m-5-6h0m0 6h0m-1 1h0m-9-4h0m-1 1h0m-1 5h0m-2-9h0m2 15h0m3-3h0m3 5h0m6 3h0m5-5h0m2-3h0m3 0h0m1 6h0m18-6h0m3 7h0m6-8h0m1 9h0m3-9h0m0 6h0m6 4h0m2-9h0m7-2h0m0 2h0m1-2h0m8 10h0m10-9h0m6 0h0m6 8h0m4-1h0m12-8h0m11 9h0m3-2h0m5 0h0m43-4h0m26 3h0m-76 11h0m-3-3h0m-7 6h0m-8-8h0m-8 4h0m-4 2h0m-10-6h0m-4 11h0m-6-4h0m-9-5h0m-1 4h0m-7 5h0m-6-9h0m0 6h0m-3 0h0m-3-7h0m-3 1h0m-11 5h0m-9 3h0m-2-5h0m-2-2h0m-1 5h0m-3-6h0m0 5h0m-5-3h0m-2-4h0m0 8h0m0 2h0m-4 0h0m-4-3h0m-5-2h0m0 9h0m0 5h0m3-7h0m0 6h0m13-1h0m6-5h0m3 3h0m5 0h0m11 4h0m5-3h0m2 4h0m1-7h0m0 7h0m0 2h0m4-9h0m13 2h0m9 2h0m13 2h0m37 8h0m-85 5h0m-8-6h0m-9 2h0m-1-1h0m0 7h0m-2-5h0m-1 4h0m-10-1h0m-7 10h0m9-3h0m41 3h0m5 3h0m25 5h0m-42 6h0m-1 3h0m-11 2h0m113 18h0m-112-6h0m182 14h0m-52 47h0" style="fill:none;stroke:#808080;stroke-width:7.70;stroke-linecap:round"/></g>
<g clip-path="url(#p44569932f8)"><path transform="scale(0.4)" d="M1201 1784h0m31 5h0m-35 16h0m22 0h0m9-1h0m1-4h0m28 23h0m-30-8h0m-26 4h0m-3-6h0m-12 3h0m-2-1h0m2 14h0m1 5h0m26 0h0m3 1h0m8-1h0m23 13h0m-8-4h0m-2 0h0m-12 3h0m-3-2h0m-2-6h0m-21 2h0m-11-4h0m0 1h0m-1 0h0m-23 22h0m14-1h0m6-4h0m13 2h0m1-4h0m0 6h0m1-4h0m9-1h0m9-4h0m25-1h0m2 8h0m17 2h0m0 1h0m9-10h0m-27 19h0m-25-5h0m-2-3h0m-1 2h0m-8 6h0m-2 0h0m0 2h0m-16-2h0m-2-8h0m-7 4h0m-15-4h0m-16 3h0m-31 13h0m15 5h0m0 2h0m4-3h0m2 0h0m15-5h0m8 5h0m2-6h0m10 5h0m7-5h0m7 0h0m4 4h0m13-5h0m0 3h0m2-1h0m0 5h0m4-8h0m29 0h0m0 10h0m16-6h0m6-1h0m6 14h0m-15 2h0m-19 0h0m-10 1h0m-2 2h0m-4-8h0m-17 8h0m0 1h0m-11-1h0m-6-7h0m-12 6h0m-2 1h0m-11-9h0m-6 3h0m-5 7h0m-3-3h0m-1 2h0m-45-3h0m10 7h0m3-2h0m5 8h0m1-1h0m4-3h0m1 3h0m4-6h0m4 0h0m1 2h0m2 2h0m2-5h0m5 11h0m4-11h0m8 11h0m2-1h0m2-9h0m2 3h0m3 3h0m10-2h0m8 5h0m5-10h0m17 2h0m53 5h0m-87 9h0m-9 5h0m-2-5h0m-1 6h0m-1-10h0m-3 0h0m0 4h0m0 5h0m-20-4h0m-5-1h0m-1 4h0m-3 0h0m-9-4h0m-2-1h0m-8-1h0m-7-1h0m-2 7h0m-32 13h0m13 0h0m11-9h0m4 0h0m13 11h0m6-2h0m2-4h0m5 5h0m3-5h0m3 5h0m1-7h0m1 4h0m3 4h0m3-11h0m0 11h0m2-2h0m10-8h0m1 6h0m3-2h0m2-4h0m2 2h0m1 0h0m9 0h0m3 8h0m21 7h0m-16-6h0m-21 3h0m-1-2h0m-5 1h0m-1 7h0m-8-5h0m-5 2h0m-4 1h0m-3-1h0m-1 3h0m-11-2h0m-2-7h0m-10 9h0m-1 2h0m-1-1h0m-7-8h0m-1 5h0m-11 4h0m-2 0h0m-3-2h0m-36 8h0m1 5h0m7-4h0m5 5h0m5 0h0m7-8h0m9 3h0m13 3h0m2-4h0m0 6h0m2-4h0m10-4h0m3-1h0m8 2h0m6-3h0m0 5h0m8-2h0m3 4h0m1-5h0m16 5h0m30 5h0m-35-1h0m-2 1h0m-5-1h0m-17 7h0m-9 2h0m-1-9h0m-3 7h0m-2-2h0m-7-3h0m0 1h0m-2 1h0m-16 5h0m-4-7h0m-2 1h0m-5 1h0m-17 1h0m-4-3h0m-3 3h0m-1 0h0m-1 4h0m-81-3h0m76 6h0m6 2h0m2 5h0m14-6h0m0 3h0m0 3h0m1 0h0m2 2h0m4-7h0m8 6h0m3 1h0m0 2h0m1-1h0m2-7h0m3 2h0m0 2h0m1-3h0m6-3h0m8 8h0m4 0h0m1-1h0m3 2h0m4-9h0m1 8h0m8-5h0m0 3h0m6-5h0m11 2h0m-19 10h0m-7 8h0m-14-10h0m-10 5h0m-1-5h0m-9 11h0m-3-9h0m-1 6h0m-1 0h0m0 1h0m-2 2h0m-1-4h0m-4-7h0m-2 0h0m-4 5h0m0 1h0m-3 5h0m-5-4h0m-3 0h0m-1 4h0m-5 0h0m-8-10h0m0 5h0m-3-5h0m-34 5h0m-54 14h0m33 1h0m29-1h0m7 0h0m32 0h0m2 1h0m18-2h0m4 0h0m6-6h0m8 1h0m2 1h0m16 3h0m5-3h0m12 6h0m1-5h0m-34 8h0m-27 9h0m0 1h0m-2-1h0m-8-7h0m-4 0h0m-6 9h0m-14-5h0m-8-1h0m-8-4h0m-3 10h0m-7-4h0m-4-5h0m-34 13h0m13 7h0m10-7h0m40 5h0m0 2h0m10-5h0m5 4h0m3-9h0m5 3h0m3 8h0m12-8h0m4 0h0m-14 9h0m-64 1h0m-4 7h0m5 4h0m7 0h0m5 3h0m11 5h0m9-8h0m52 10h0m-27 5h0m-17 2h0m-60 3h0m-38-2h0m-3 4h0m37 8h0m31-1h0m-14 7h0" style="fill:none;stroke:#00f;stroke-width:10.30;stroke-linecap:round"/></g>
<g id="matplotlib.axis_15">
<g id="xtick_39">
<g id="line2d_98">
<g>
<use href="#m7c25c535dc" x="350.658262" y="893.88" style="stroke: #000000; stroke-width: 0.8"/>
</g>
</g>
<g id="text_111">
<text style="font-size: 10px; font-family: 'DejaVu Sans'; text-anchor: middle" x="350.658262" y="908.478437" transform="rotate(-0 350.658262 908.478437)">−2.5</text>
</g>
</g>
<g id="xtick_40">
<g id="line2d_99">
<g>
<use href="#m7c25c535dc" x="385.260274" y="893.88" style="stroke: #000000; stroke-width: 0.8"/>
</g>
</g>
<g id="text_112">
<text style="font-size: 10px; font-family: 'DejaVu Sans'; text-anchor: middle" x="385.260274" y="908.478437" transform="rotate(-0 385.260274 908.478437)">−2.0</text>
</g>
</g>
<g id="xtick_41">
<g id="line2d_100">
<g>
<use href="#m7c25c535dc" x="419.862287" y="893.88" style="stroke: #000000; stroke-width: 0.8"/>
</g>
</g>
<g id="text_113">
<text style="font-size: 10px; font-family: 'DejaVu Sans'; text-anchor: middle" x="419.862287" y="908.478437" transform="rotate(-0 419.862287 908.478437)">−1.5</text>
</g>
</g>
<g id="xtick_42">
<g id="line2d_101">
<g>
<use href="#m7c25c535dc" x="454.4643" y="893.88" style="stroke: #000000; stroke-width: 0.8"/>
</g>
</g>
<g id="text_114">
<text style="font-size: 10px; font-family: 'DejaVu Sans'; text-anchor: middle" x="454.4643" y="908.478437" transform="rotate(-0 454.4643 908.478437)">−1.0</text>
</g>
</g>
<g id="xtick_43">
<g id="line2d_102">
<g>
<use href="#m7c25c535dc" x="489.066313" y="893.88" style="stroke: #000000; stroke-width: 0.8"/>
</g>
</g>
<g id="text_115">
<text style="font-size: 10px; font-family: 'DejaVu Sans'; text-anchor: middle" x="489.066313" y="908.478437" transform="rotate(-0 489.066313 908.478437)">−0.5</text>
</g>
</g>
<g id="xtick_44">
<g id="line2d_103">
<g>
<use href="#m7c25c535dc" x="523.668326" y="893.88" style="stroke: #000000; stroke-width: 0.8"/>
</g>
</g>
<g id="text_116">
<text style="font-size: 10px; font-family: 'DejaVu Sans'; text-anchor: middle" x="523.668326" y="908.478437" transform="rotate(-0 523.668326 908.478437)">0.0</text>
</g>
</g>
<g id="xtick_45">
<g id="line2d_104">
<g>
<use href="#m7c25c535dc" x="558.270339" y="893.88" style="stroke: #000000; stroke-width: 0.8"/>
</g>
</g>
<g id="text_117">
<text style="font-size: 10px; font-family: 'DejaVu Sans'; text-anchor: middle" x="558.270339" y="908.478437" transform="rotate(-0 558.270339 908.478437)">0.5</text>
</g>
</g>
<g id="text_118">
<text style="font-size: 14.7px; font-family: 'DejaVu Sans'; text-anchor: middle" x="459.62" y="924.527828" transform="rotate(-0 459.62 924.527828)">[Fe/H]</text>
</g>
</g>
<g id="matplotlib.axis_16">
<g id="ytick_45">
<g id="line2d_105">
<g>
<use href="#mb258c49b38" x="346.16" y="893.517059" style="stroke: #000000; stroke-width: 0.8"/>
</g>
</g>
<g id="text_119">
<text style="font-size: 10px; font-family: 'DejaVu Sans'; text-anchor: end" x="339.16" y="897.316278" transform="rotate(-0 339.16 897.316278)">−0.8</text>
</g>
</g>
<g id="ytick_46">
<g id="line2d_106">
<g>
<use href="#mb258c49b38" x="346.16" y="861.956953" style="stroke: #000000; stroke-width: 0.8"/>
</g>
</g>
<g id="text_120">
<text style="font-size: 10px; font-family: 'DejaVu Sans'; text-anchor: end" x="339.16" y="865.756172" transform="rotate(-0 339.16 865.756172)">−0.6</text>
</g>
</g>
<g id="ytick_47">
<g id="line2d_107">
<g>
<use href="#mb258c49b38" x="346.16" y="830.396847" style="stroke: #000000; stroke-width: 0.8"/>
</g>
</g>
<g id="text_121">
<text style="font-size: 10px; font-family: 'DejaVu Sans'; text-anchor: end" x="339.16" y="834.196066" transform="rotate(-0 339.16 834.196066)">−0.4</text>
</g>
</g>
<g id="ytick_48">
<g id="line2d_108">
<g>
<use href="#mb258c49b38" x="346.16" y="798.836741" style="stroke: #000000; stroke-width: 0.8"/>
</g>
</g>
<g id="text_122">
<text style="font-size: 10px; font-family: 'DejaVu Sans'; text-anchor: end" x="339.16" y="802.63596" transform="rotate(-0 339.16 802.63596)">−0.2</text>
</g>
</g>
<g id="ytick_49">
<g id="line2d_109">
<g>
<use href="#mb258c49b38" x="346.16" y="767.276635" style="stroke: #000000; stroke-width: 0.8"/>
</g>
</g>
<g id="text_123">
<text style="font-size: 10px; font-family: 'DejaVu Sans'; text-anchor: end" x="339.16" y="771.075854" transform="rotate(-0 339.16 771.075854)">0.0</text>
</g>
</g>
<g id="ytick_50">
<g id="line2d_110">
<g>
<use href="#mb258c49b38" x="346.16" y="735.716529" style="stroke: #000000; stroke-width: 0.8"/>
</g>
</g>
<g id="text_124">
<text style="font-size: 10px; font-family: 'DejaVu Sans'; text-anchor: end" x="339.16" y="739.515748" transform="rotate(-0 339.16 739.515748)">0.2</text>
</g>
</g>
<g id="ytick_51">
<g id="line2d_111">
<g>
<use href="#mb258c49b38" x="346.16" y="704.156423" style="stroke: #000000; stroke-width: 0.8"/>
</g>
</g>
<g id="text_125">
<text style="font-size: 10px; font-family: 'DejaVu Sans'; text-anchor: end" x="339.16" y="707.955642" transform="rotate(-0 339.16 707.955642)">0.4</text>
</g>
</g>
<g id="text_126">
<text style="font-size: 14.7px; font-family: 'DejaVu Sans'; text-anchor: middle" x="309.020047" y="783.68" transform="rotate(-90 309.020047 783.68)">[Al/Fe]</text>
</g>
</g>
<g id="LineCollection_5">
<path d="M 554.118097 704.156423 L 562.42258 704.156423 " clip-path="url(#p44569932f8)" style="fill: none; stroke: #000000; stroke-width: 2"/>
</g>
<g id="LineCollection_6">
<path d="M 558.270339 724.670492 L 558.270339 683.642354 " clip-path="url(#p44569932f8)" style="fill: none; stroke: #000000; stroke-width: 2"/>
</g>
<g id="line2d_112">
<g clip-path="url(#p44569932f8)">
<use href="#m312c2438e6" x="554.118097" y="704.156423" style="stroke: #000000"/>
</g>
</g>
<g id="line2d_113">
<g clip-path="url(#p44569932f8)">
<use href="#m312c2438e6" x="562.42258" y="704.156423" style="stroke: #000000"/>
</g>
</g>
<g id="line2d_114">
<g clip-path="url(#p44569932f8)">
<use href="#mba2222069f" x="558.270339" y="724.670492" style="stroke: #000000"/>
</g>
</g>
<g id="line2d_115">
<g clip-path="url(#p44569932f8)">
<use href="#mba2222069f" x="558.270339" y="683.642354" style="stroke: #000000"/>
</g>
</g>
<g id="line2d_116">
<g clip-path="url(#p44569932f8)">
<use href="#mc6ef228d90" x="558.270339" y="704.156423" style="stroke: #000000"/>
</g>
</g>
<g id="patch_49">
<path d="M 346.16 893.88 L 346.16 673.48 " style="fill: none; stroke: #000000; stroke-width: 0.8; stroke-linejoin: miter; stroke-linecap: square"/>
</g>
<g id="patch_50">
<path d="M 573.08 893.88 L 573.08 673.48 " style="fill: none; stroke: #000000; stroke-width: 0.8; stroke-linejoin: miter; stroke-linecap: square"/>
</g>
<g id="patch_51">
<path d="M 346.16 893.88 L 573.08 893.88 " style="fill: none; stroke: #000000; stroke-width: 0.8; stroke-linejoin: miter; stroke-linecap: square"/>
</g>
<g id="patch_52">
<path d="M 346.16 673.48 L 573.08 673.48 " style="fill: none; stroke: #000000; stroke-width: 0.8; stroke-linejoin: miter; stroke-linecap: square"/>
</g>
<g id="text_127">
<text style="font-size: 16px; font-family: 'DejaVu Sans'; text-anchor: middle" x="459.62" y="660.24" transform="rotate(-0 459.62 660.24)">h</text>
</g>
<g id="legend_8">
<g id="patch_53">
<path d="M 353.02 710.089125 L 441.495625 710.089125 Q 443.455625 710.089125 443.455625 708.129125 L 443.455625 680.34 Q 443.455625 678.38 441.495625 678.38 L 353.02 678.38 Q 351.06 678.38 351.06 680.34 L 351.06 708.129125 Q 351.06 710.089125 353.02 710.089125 z
" style="fill: #ffffff; opacity: 0.8; stroke: #cccccc; stroke-linejoin: miter"/>
</g>
<g id="line2d_117">
<g>
<use href="#m4b3ac3960c" x="364.78" y="686.316469" style="fill: #808080"/>
</g>
</g>
<g id="text_128">
<text style="font-size: 9.8px; font-family: 'DejaVu Sans'; text-anchor: start" x="382.42" y="689.746469" transform="rotate(-0 382.42 689.746469)">All Samples</text>
</g>
<g id="line2d_118">
<g>
<use href="#mf8bf2030a8" x="364.78" y="700.701031" style="fill: #0000ff"/>
</g>
</g>
<g id="text_129">
<text style="font-size: 9.8px; font-family: 'DejaVu Sans'; text-anchor: start" x="382.42" y="704.131031" transform="rotate(-0 382.42 704.131031)">GSE</text>
</g>
</g>
</g>
<g id="text_130">
<text style="font-size: 16px; font-family: 'DejaVu Sans'; text-anchor: middle" x="446.36" y="11.68" transform="rotate(-0 446.36 11.68)">GSE</text>
</g>
</g>
<defs>
<clipPath id="p84c9856eb9">
<rect x="51.16" y="56.08" width="226.88" height="220.56"/>
</clipPath>
<clipPath id="p6013d5e135">
<rect x="346.16" y="56.08" width="226.92" height="220.56"/>
</clipPath>
<clipPath id="p4a99c7a10d">
<rect x="641.16" y="56.08" width="226.92" height="220.56"/>
</clipPath>
<clipPath id="p9402339d06">
<rect x="51.16" y="364.84" width="226.88" height="220.48"/>
</clipPath>
<clipPath id="pdf1be4881e">
<rect x="346.16" y="364.84" width="226.92" height="220.48"/>
</clipPath>
<clipPath id="pb06b65c1e0">
<rect x="641.16" y="364.84" width="226.92" height="220.48"/>
</clipPath>
<clipPath id="p0590ba6458">
<rect x="51.16" y="673.48" width="226.88" height="220.4"/>
</clipPath>
<clipPath id="p44569932f8">
<rect x="346.16" y="673.48" width="226.92" height="220.4"/>
</clipPath>
</defs>
</svg>

</body></html>
